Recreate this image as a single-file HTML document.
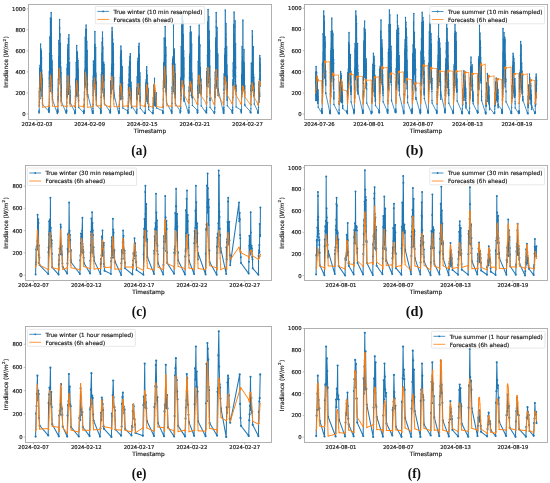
<!DOCTYPE html><html><head><meta charset="utf-8"><style>html,body{margin:0;padding:0;background:#fff}svg{display:block}text{font-family:"DejaVu Sans","Liberation Sans",sans-serif;stroke:#1e1e1e;stroke-width:0.18px;paint-order:stroke}text.cap{font-family:"Liberation Serif",serif;font-weight:bold;stroke:none}</style></head><body>
<svg width="550" height="483" viewBox="0 0 550 483"><rect width="550" height="483" fill="#fff"/>
<clipPath id="ca"><rect x="28.5" y="4.5" width="243.0" height="115.0"/></clipPath>
<g clip-path="url(#ca)">
<polyline points="38.9,111.5 39,111.3 39,112 39.1,112.7 39.1,112.9 39.2,110.1 39.3,105.3 39.3,91.6 39.4,96.8 39.4,88.1 39.5,102.6 39.6,80.2 39.6,68.3 39.7,86.1 39.7,86.7 39.8,78.2 39.9,90.4 39.9,87.5 40,98.7 40.1,65.3 40.1,84.1 40.2,80.2 40.2,82.5 40.3,73.5 40.4,85.1 40.4,64.9 40.5,90.8 40.5,85 40.6,44 40.7,85.7 40.7,48.6 40.8,85.9 40.8,90.5 40.9,87.3 41,52.4 41,81.9 41.1,50.3 41.1,52.9 41.2,55.1 41.3,72 41.3,51.1 41.4,57.3 41.5,84.8 41.5,73.2 41.6,57.7 41.6,81.1 41.7,70.3 41.8,95.6 41.8,75 41.9,82 41.9,90.4 42,91.4 42.1,96.5 42.1,82.4 42.2,91 42.2,83.8 42.3,88.6 42.4,78.6 42.4,95.8 42.5,103.2 42.5,98.6 42.6,104.6 48.6,111 48.6,108.2 48.7,111.7 48.8,110.5 48.8,111.2 48.9,110.3 48.9,108.3 49,112.5 49.1,111.4 49.1,111.3 49.2,107.4 49.2,86.2 49.3,71.8 49.4,83.4 49.4,78.8 49.5,53.6 49.5,78.1 49.6,77 49.7,84.9 49.7,63.9 49.8,79.5 49.9,36.9 49.9,38.1 50,85.6 50,73.2 50.1,70.9 50.2,91.4 50.2,56.6 50.3,58 50.3,63.4 50.4,18.1 50.5,61.2 50.5,54.3 50.6,78.3 50.6,79.6 50.7,62.7 50.8,19.3 50.8,76.8 50.9,61.9 50.9,18.6 51,73.9 51.1,32 51.1,61.1 51.2,12.4 51.3,82.8 51.3,85.2 51.4,73 51.4,40.4 51.5,80.3 51.6,66.1 51.6,61.6 51.7,55.4 51.7,66.5 51.8,60.1 51.9,73 51.9,68.5 52,71.4 52,61.6 52.1,87.1 52.2,81.6 52.2,73.6 52.3,93 52.3,88.4 52.4,90.3 52.5,99.2 52.5,84.9 52.6,100 57.3,113.5 57.4,110.2 57.5,111.5 57.5,109.5 57.6,112 57.6,109.3 57.7,111.6 57.8,111.9 57.8,112.8 57.9,111.7 58,110.7 58,100.7 58.1,96.4 58.1,99.6 58.2,89.8 58.3,79.1 58.3,90.8 58.4,94.9 58.4,88.7 58.5,70 58.6,73.6 58.6,77.5 58.7,79.1 58.7,84 58.8,43.6 58.9,40.5 58.9,79.3 59,56.6 59,59.4 59.1,63.6 59.2,65.5 59.2,75.3 59.3,77 59.4,71.4 59.4,76.9 59.5,27.2 59.5,52.1 59.6,19.5 59.7,28.4 59.7,64 59.8,61.4 59.8,63.1 59.9,35.8 60,33.8 60,58.1 60.1,74.3 60.1,72.4 60.2,75 60.3,62.6 60.3,60.7 60.4,84 60.4,56.8 60.5,43.5 60.6,63.1 60.6,66.7 60.7,82.5 60.8,67.1 60.8,88.1 60.9,88.3 60.9,72.6 61,95.7 61.1,91.2 61.1,84.3 61.2,92.5 61.2,101.4 61.3,94 61.4,101.5 66.1,112.8 66.2,110.4 66.2,110.2 66.3,113.3 66.4,109.9 66.4,112.8 66.5,112.9 66.5,110.8 66.6,112 66.7,111.2 66.7,110.4 66.8,106 66.8,102.7 66.9,98.1 67,91.1 67,96.6 67.1,68.2 67.1,97.3 67.2,88.9 67.3,69.1 67.3,64.2 67.4,81.4 67.5,89.7 67.5,72.7 67.6,49.6 67.6,88.7 67.7,73.8 67.8,56.3 67.8,77.9 67.9,76.9 67.9,44.8 68,82.6 68.1,61.4 68.1,72.5 68.2,70.8 68.2,65.2 68.3,74.4 68.4,73.2 68.4,38.4 68.5,74.8 68.5,83.9 68.6,94.2 68.7,86.3 68.7,72.4 68.8,79.6 68.9,82.2 68.9,34.7 69,58.4 69,77.8 69.1,74.1 69.2,76 69.2,94.5 69.3,76.8 69.3,74.5 69.4,76 69.5,89.2 69.5,92.4 69.6,62.8 69.6,93 69.7,92.3 69.8,86 69.8,100.9 69.9,90.6 70,92.6 70,103.7 70.1,95 70.1,102.2 74.7,111.7 74.8,111.8 74.8,112.9 74.9,113.7 74.9,111.2 75,112.7 75.1,111.8 75.1,113.5 75.2,111.4 75.2,112.1 75.3,110.1 75.4,107.3 75.4,96 75.5,102.8 75.5,91.2 75.6,100.3 75.7,97.2 75.7,89.3 75.8,93.2 75.8,79.4 75.9,82.1 76,83.6 76,87.8 76.1,79.9 76.2,85.6 76.2,62.3 76.3,89.8 76.3,78.1 76.4,79.9 76.5,95.8 76.5,92.7 76.6,92.3 76.6,83.5 76.7,45.4 76.8,90.9 76.8,80.1 76.9,73 76.9,90.8 77,83.3 77.1,51.9 77.1,79.6 77.2,96 77.2,77 77.3,81.3 77.4,78.4 77.4,51.9 77.5,70.2 77.6,58.6 77.6,76.4 77.7,75.3 77.7,84.8 77.8,83.5 77.9,91 77.9,92.8 78,90.8 78,60.5 78.1,78.9 78.2,89.5 78.2,69.1 78.3,88.2 78.3,96.2 78.4,86 78.5,90.3 78.5,101.7 78.6,100.3 78.6,95.1 78.7,107.4 83.7,112.8 83.7,113.5 83.8,112.8 83.8,110.2 83.9,113.5 84,113.1 84,113.2 84.1,111.3 84.1,111.8 84.2,110.4 84.3,104.7 84.3,99 84.4,100 84.4,92.3 84.5,98 84.6,94.5 84.6,78.5 84.7,81 84.8,85.3 84.8,73.6 84.9,70.3 84.9,87.4 85,77.2 85.1,70.3 85.1,70 85.2,37.3 85.2,61.8 85.3,75.5 85.4,68.2 85.4,71.5 85.5,64.4 85.5,85.4 85.6,75.5 85.7,64.6 85.7,81.7 85.8,29.5 85.8,62.3 85.9,57.9 86,61.7 86,79.7 86.1,25.1 86.2,55.2 86.2,59.1 86.3,54.2 86.3,61.2 86.4,78.3 86.5,58.1 86.5,29.9 86.6,72.8 86.6,70.1 86.7,69.6 86.8,72.9 86.8,41.3 86.9,78.7 86.9,79.2 87,79.8 87.1,68.3 87.1,89.8 87.2,50.5 87.2,77.3 87.3,94.9 87.4,83.2 87.4,84.5 87.5,85.1 87.6,95.9 87.6,96.7 87.7,94.4 92.4,112.7 92.5,111.5 92.5,113.3 92.6,113.1 92.7,112.9 92.7,111.2 92.8,113.1 92.9,110.7 92.9,110.5 93,113.5 93,108.5 93.1,104.6 93.2,80.8 93.2,95.4 93.3,76.2 93.3,86 93.4,60.9 93.5,86.6 93.5,64.7 93.6,91.9 93.6,78.2 93.7,82 93.8,70.6 93.8,84.8 93.9,72 93.9,71.9 94,67.7 94.1,73.2 94.1,65 94.2,80.8 94.3,66.5 94.3,77.1 94.4,68.8 94.4,75.5 94.5,73.5 94.6,85 94.6,83.1 94.7,44.5 94.7,70.9 94.8,44.2 94.9,76.6 94.9,31.4 95,57.4 95,79.8 95.1,63.3 95.2,89.4 95.2,78.1 95.3,56.4 95.3,87.5 95.4,65.7 95.5,89.1 95.5,77.4 95.6,91.5 95.7,84.3 95.7,47.6 95.8,95.2 95.8,73.1 95.9,75.8 96,94.9 96,84.6 96.1,81.8 96.1,83.2 96.2,82.6 96.3,93.3 96.3,99.8 96.4,93.6 96.4,104.9 100.5,109.3 100.6,111.8 100.6,113.3 100.7,113.4 100.7,112.3 100.8,112.6 100.9,113.5 100.9,110 101,111.6 101,112.4 101.1,108 101.2,104.9 101.2,97.6 101.3,89.1 101.3,74.5 101.4,97.3 101.5,80.3 101.5,92.3 101.6,72.4 101.6,87.2 101.7,88.8 101.8,89.4 101.8,76.8 101.9,92.8 102,53.3 102,69.5 102.1,42.1 102.1,69.2 102.2,74.3 102.3,68.9 102.3,79.8 102.4,43.1 102.4,38.5 102.5,32.1 102.6,67.3 102.6,38.1 102.7,71.5 102.7,46.7 102.8,48.3 102.9,71 102.9,62.7 103,84.9 103,69 103.1,71.8 103.2,90.6 103.2,88.2 103.3,74.8 103.4,83.5 103.4,62.8 103.5,96 103.5,67.8 103.6,67.9 103.7,62.2 103.7,96.3 103.8,94.5 103.8,68.7 103.9,80.5 104,79.9 104,64.6 104.1,64.6 104.1,92.3 104.2,89.1 104.3,93.7 104.3,96 104.4,98.5 104.4,95 104.5,103.4 110,111.7 110,112.4 110.1,110.3 110.1,113.2 110.2,112.1 110.3,112.1 110.3,111.9 110.4,109.8 110.5,111.5 110.5,112 110.6,106.4 110.6,96.8 110.7,86.9 110.8,91.4 110.8,94.1 110.9,82.3 110.9,92.4 111,80.8 111.1,93.3 111.1,86.5 111.2,80.4 111.2,92.6 111.3,90.2 111.4,73.3 111.4,78.4 111.5,68.5 111.5,82.6 111.6,76.8 111.7,80.9 111.7,67.9 111.8,76.2 111.9,64.1 111.9,87.4 112,71.1 112,75.7 112.1,27.6 112.2,68.5 112.2,68.5 112.3,31.7 112.3,76.4 112.4,34.9 112.5,67.7 112.5,68.1 112.6,61.9 112.6,76.4 112.7,39.1 112.8,88.1 112.8,74.1 112.9,86.1 112.9,72.3 113,88.6 113.1,89.4 113.1,64.4 113.2,79 113.3,43.6 113.3,81.2 113.4,73 113.4,51.7 113.5,68.7 113.6,63.9 113.6,92.2 113.7,77.7 113.7,90.3 113.8,98.7 113.9,92.2 113.9,95.8 114,94.4 118.7,113.5 118.8,111.4 118.9,113.6 118.9,110.7 119,112.7 119,112.5 119.1,112.8 119.2,112.1 119.2,112.2 119.3,112.4 119.3,108.6 119.4,104.8 119.5,95.8 119.5,95.5 119.6,96.3 119.6,94 119.7,93.5 119.8,95.4 119.8,95.5 119.9,96.1 120,88.7 120,99.6 120.1,86.1 120.1,99.7 120.2,91.4 120.3,77.2 120.3,88.2 120.4,75.1 120.4,57.2 120.5,57.3 120.6,96.5 120.6,96 120.7,88.3 120.7,54 120.8,83.7 120.9,52.1 120.9,46 121,85.8 121,80 121.1,60.8 121.2,69.2 121.2,90.7 121.3,85.4 121.4,75.9 121.4,50.8 121.5,79.5 121.5,80.7 121.6,60.3 121.7,92.7 121.7,79.7 121.8,83.2 121.8,99 121.9,83.5 122,86.7 122,67.5 122.1,89.5 122.1,83.5 122.2,66.4 122.3,83 122.3,90.4 122.4,76.8 122.4,87.7 122.5,97.8 122.6,82.6 122.6,96.6 122.7,98.8 122.8,108.1 127.5,110.8 127.6,113 127.6,112.3 127.7,112.8 127.7,112.1 127.8,113.3 127.9,113 127.9,113.4 128,113.3 128.1,111.8 128.1,109.6 128.2,107 128.2,106.8 128.3,105.5 128.4,89.5 128.4,84.2 128.5,102.9 128.5,98.2 128.6,92.3 128.7,90.2 128.7,102.2 128.8,97.2 128.8,91.6 128.9,86.6 129,91.5 129,91.2 129.1,79 129.1,81.5 129.2,66.8 129.3,83.1 129.3,74.6 129.4,75.2 129.5,61.6 129.5,82.9 129.6,95.5 129.6,85.5 129.7,92.2 129.8,78.9 129.8,77 129.9,69.1 129.9,95 130,56.5 130.1,88.6 130.1,94.1 130.2,68.4 130.2,81.5 130.3,53.7 130.4,87.3 130.4,99.8 130.5,96.7 130.5,63 130.6,84.4 130.7,89.9 130.7,85.2 130.8,92.6 130.9,89.7 130.9,98.5 131,98.1 131,82.3 131.1,95.1 131.2,89.3 131.2,96.6 131.3,104 131.3,95.9 131.4,105 131.5,108 131.5,105.7 136.3,112.9 136.3,113 136.4,112.2 136.5,112.5 136.5,113.6 136.6,113 136.6,113.5 136.7,113.6 136.8,113.1 136.8,111 136.9,109.6 136.9,99.3 137,87.7 137.1,99.2 137.1,76.8 137.2,99.8 137.2,89.2 137.3,97.5 137.4,93.4 137.4,91 137.5,90.4 137.6,85.8 137.6,86.3 137.7,63.2 137.7,77.8 137.8,61.3 137.9,73.9 137.9,80.5 138,58.3 138,93.6 138.1,93.8 138.2,75.3 138.2,75.8 138.3,66.4 138.3,76.6 138.4,69.9 138.5,66.6 138.5,46.6 138.6,86.2 138.6,91.9 138.7,54.3 138.8,75.5 138.8,87 138.9,88.3 139,78.7 139,80.8 139.1,43.3 139.1,94.4 139.2,91.8 139.3,71 139.3,75.3 139.4,54.8 139.4,77.7 139.5,78.9 139.6,79.1 139.6,85.2 139.7,76 139.7,89.9 139.8,94.3 139.9,97 139.9,72.8 140,101 140,101.6 140.1,99.9 140.2,97.3 140.2,97.4 140.3,108.2 144.7,113.6 144.8,113.5 144.8,113.6 144.9,112.8 144.9,112.7 145,112.4 145.1,113.3 145.1,112.7 145.2,113.4 145.2,113.4 145.3,110.9 145.4,106.2 145.4,105 145.5,100.3 145.5,106.2 145.6,98.9 145.7,88.1 145.7,89.4 145.8,85.7 145.8,94 145.9,82.8 146,95.2 146,101.6 146.1,98.1 146.2,79.7 146.2,88.8 146.3,87.5 146.3,92.7 146.4,91.3 146.5,70.3 146.5,88.9 146.6,70.6 146.6,97 146.7,66.7 146.8,97 146.8,87.8 146.9,98.9 146.9,94.7 147,94.6 147.1,95.2 147.1,90.4 147.2,95.2 147.2,75 147.3,89.9 147.4,95.5 147.4,88.9 147.5,92.9 147.6,83.3 147.6,83.4 147.7,95.9 147.7,87.9 147.8,100.2 147.9,103.5 147.9,90 148,97.3 148,88.6 148.1,101.1 148.2,101.5 148.2,94.8 148.3,101.6 148.3,96.9 148.4,101.8 148.5,103.6 148.5,104.5 148.6,107.2 148.6,103.9 148.7,109.6 152.5,113.5 152.6,113.6 152.6,113.5 152.7,113.5 152.7,113.1 152.8,113.3 152.9,113.8 152.9,112 153,113.1 153,112.7 153.1,110.5 153.2,108.3 153.2,108.1 153.3,103.7 153.3,98.3 153.4,97.2 153.5,101.1 153.5,100.3 153.6,101.8 153.6,92.8 153.7,104.6 153.8,89.8 153.8,85 153.9,99.6 154,102.8 154,99.4 154.1,98.2 154.1,96.1 154.2,100.5 154.3,105.6 154.3,101.6 154.4,99.1 154.4,90.9 154.5,78.2 154.6,97.9 154.6,98.6 154.7,94.8 154.7,93.4 154.8,103.5 154.9,95.7 154.9,98.5 155,92 155,101.7 155.1,96.3 155.2,99 155.2,93.1 155.3,106 155.4,96.8 155.4,95.7 155.5,96.2 155.5,104.9 155.6,100.7 155.7,94.5 155.7,93.2 155.8,105.8 155.8,97 155.9,98.5 156,97.4 156,106 156.1,98.9 156.1,101.3 156.2,92.8 156.3,104.3 156.3,103.6 156.4,103.1 156.4,104.6 156.5,108 162.6,110.7 162.6,111.9 162.7,111.3 162.8,113.1 162.8,111.8 162.9,111.9 162.9,111.6 163,113.6 163.1,112.7 163.1,113.2 163.2,106.9 163.3,99.3 163.3,88.4 163.4,81.2 163.4,89.9 163.5,91.6 163.6,86.3 163.6,80.7 163.7,81.6 163.7,62.7 163.8,78.6 163.9,73.8 163.9,87.5 164,63.5 164,87.6 164.1,71.3 164.2,37.9 164.2,38 164.3,66.1 164.3,64.8 164.4,65.9 164.5,63 164.5,60.6 164.6,54.9 164.7,66.7 164.7,84.3 164.8,67.5 164.8,70.4 164.9,73.3 165,58 165,71.7 165.1,64.2 165.1,57.8 165.2,26.4 165.3,54.6 165.3,38.2 165.4,67 165.4,65.3 165.5,40.9 165.6,74.6 165.6,91.3 165.7,83.9 165.8,83.2 165.8,72 165.9,55.5 165.9,47 166,87.7 166.1,87.7 166.1,88.9 166.2,76 166.2,86.9 166.3,93 166.4,80.1 166.4,95 166.5,88.8 166.5,100.8 166.6,102.6 171.4,111.9 171.4,111.4 171.5,111.4 171.5,110.6 171.6,109.9 171.7,112 171.7,111.9 171.8,112.7 171.8,113.4 171.9,111.4 172,107.8 172,103.3 172.1,93.7 172.1,91.6 172.2,88 172.3,86.8 172.3,89.6 172.4,83.1 172.4,63.7 172.5,80.1 172.6,67.4 172.6,59.2 172.7,70 172.8,70.9 172.8,72.3 172.9,80.1 172.9,82.9 173,75.5 173.1,58.7 173.1,56.7 173.2,91.8 173.2,60.9 173.3,84.5 173.4,59.5 173.4,71.8 173.5,25.1 173.5,82.7 173.6,74.7 173.7,71.5 173.7,78.2 173.8,52.6 173.9,63.2 173.9,80.7 174,49.9 174,62.3 174.1,78.7 174.2,69.6 174.2,73.2 174.3,85.4 174.3,48.9 174.4,93.4 174.5,85.4 174.5,85.7 174.6,80.8 174.6,69.1 174.7,94.6 174.8,89.4 174.8,94.2 174.9,82.7 174.9,64.1 175,85 175.1,88.6 175.1,97.8 175.2,85.8 175.3,73.7 175.3,93.1 175.4,103.7 180.1,110.8 180.2,112 180.2,113.1 180.3,111.5 180.4,112.4 180.4,112.6 180.5,111.8 180.6,111.2 180.6,110.4 180.7,108.5 180.7,107.1 180.8,99.1 180.9,79.6 180.9,86.1 181,77.8 181,90.4 181.1,78.7 181.2,46.4 181.2,96.1 181.3,80.5 181.3,91.8 181.4,85.2 181.5,77.2 181.5,59.4 181.6,84.9 181.6,68.5 181.7,53.7 181.8,59.2 181.8,25.4 181.9,61.5 182,55.4 182,82.8 182.1,83.3 182.1,18.4 182.2,67.2 182.3,17.2 182.3,12.4 182.4,83.8 182.4,62 182.5,72.5 182.6,48.1 182.6,63.5 182.7,34.2 182.7,53 182.8,79.2 182.9,77.5 182.9,81.4 183,68.1 183,20.5 183.1,60.2 183.2,49.7 183.2,34.7 183.3,66.7 183.4,89.1 183.4,86.1 183.5,63.7 183.5,54.8 183.6,86.6 183.7,50.7 183.7,77.4 183.8,75.1 183.8,57.7 183.9,68.8 184,101.3 184,85.3 184.1,98.8 184.1,99.4 188.4,113.1 188.5,110.6 188.5,110.2 188.6,109.9 188.6,111.9 188.7,112.7 188.8,113.2 188.8,113.2 188.9,111.2 188.9,112.8 189,107.6 189.1,99.6 189.1,91.7 189.2,87 189.2,91.2 189.3,90.4 189.4,78.1 189.4,77.8 189.5,57.1 189.5,73.1 189.6,95.5 189.7,90.5 189.7,72.9 189.8,71.1 189.9,63.5 189.9,57.6 190,54 190,65.2 190.1,77.6 190.2,32.8 190.2,62.8 190.3,71.4 190.3,64.4 190.4,26.4 190.5,62.6 190.5,84.9 190.6,63.3 190.6,91 190.7,88.8 190.8,55.5 190.8,32.3 190.9,50.4 190.9,75.5 191,54.9 191.1,61.8 191.1,56.5 191.2,32 191.3,61.1 191.3,78.7 191.4,82 191.4,69.7 191.5,95.7 191.6,90 191.6,75.7 191.7,44 191.7,77.2 191.8,73 191.9,80.3 191.9,78.8 192,88.5 192,81.1 192.1,93.3 192.2,97.5 192.2,89.5 192.3,98.1 192.3,95.1 192.4,105.4 197.2,110.2 197.3,111.1 197.3,113 197.4,112.8 197.4,111.9 197.5,113.2 197.6,110.4 197.6,111 197.7,112.8 197.7,110 197.8,104 197.9,86.1 197.9,90.3 198,97.4 198,86.5 198.1,89 198.2,61.4 198.2,91.2 198.3,84.8 198.3,80.2 198.4,93.8 198.5,93.3 198.5,61 198.6,55.4 198.7,92.8 198.7,90.6 198.8,54.5 198.8,37.2 198.9,59.2 199,48 199,81.6 199.1,59.3 199.1,40 199.2,25.1 199.3,78 199.3,35.9 199.4,68.7 199.4,56.1 199.5,70.6 199.6,78.4 199.6,69.5 199.7,63.1 199.7,74 199.8,86.7 199.9,46 199.9,44.7 200,92.9 200.1,70.1 200.1,91.1 200.2,68.5 200.2,81 200.3,67.5 200.4,68.7 200.4,67.2 200.5,89.8 200.5,81.2 200.6,77.9 200.7,80.9 200.7,79.2 200.8,88.8 200.8,87.1 200.9,79.6 201,93.9 201,89.2 201.1,85.1 201.1,93.3 201.2,105.9 206.1,112.8 206.2,111.4 206.2,110.2 206.3,112.7 206.3,112.8 206.4,112.8 206.5,107.7 206.5,109.5 206.6,113 206.6,110 206.7,102.7 206.8,96.8 206.8,71.8 206.9,84.5 206.9,77.2 207,85.7 207.1,86.6 207.1,81.9 207.2,74.2 207.2,68.4 207.3,71.7 207.4,82.2 207.4,55.2 207.5,78.4 207.6,59.9 207.6,22 207.7,75.7 207.7,82.1 207.8,66.2 207.9,82.7 207.9,75 208,62.8 208,27.9 208.1,9.4 208.2,79.1 208.2,77.2 208.3,66.4 208.3,79 208.4,62.6 208.5,45.4 208.5,71.1 208.6,45.3 208.6,65.9 208.7,69.7 208.8,68.7 208.8,16.6 208.9,44.2 209,64.9 209,54.7 209.1,87.1 209.1,50.2 209.2,31.1 209.3,77.4 209.3,82.7 209.4,66.2 209.4,41.2 209.5,76 209.6,86.9 209.6,65.9 209.7,50.3 209.7,78.4 209.8,66 209.9,93.4 209.9,78.7 210,100.6 210,98.1 210.1,107.4 214.2,112.8 214.3,113.3 214.3,111.4 214.4,113.4 214.4,112 214.5,112.1 214.6,111.8 214.6,111.7 214.7,112.3 214.7,109.1 214.8,107.5 214.9,94.2 214.9,91 215,97.4 215,89.2 215.1,84.8 215.2,88.1 215.2,72 215.3,75.8 215.3,79 215.4,84.3 215.5,72.4 215.5,81.1 215.6,42 215.7,76.6 215.7,84.3 215.8,83.9 215.8,37.9 215.9,56.4 216,88.2 216,68.7 216.1,56.9 216.1,27 216.2,12.4 216.3,21.6 216.3,40.2 216.4,69.4 216.4,49.2 216.5,65.3 216.6,32.3 216.6,86.3 216.7,50.7 216.7,66.2 216.8,78.1 216.9,70.2 216.9,63.7 217,72.2 217.1,27.6 217.1,49 217.2,76.4 217.2,68.4 217.3,80.3 217.4,69.5 217.4,79.4 217.5,70 217.5,65.9 217.6,55.6 217.7,53.6 217.7,91.8 217.8,89.6 217.8,55.2 217.9,91 218,88.7 218,89.6 218.1,89.2 218.1,95.5 218.2,89.5 223.3,111.9 223.4,113 223.4,112.8 223.5,111.8 223.5,110.6 223.6,107.8 223.7,111.2 223.7,109.7 223.8,113.5 223.8,113.1 223.9,107.6 224,93.2 224,90 224.1,89 224.1,89.2 224.2,73.7 224.3,90.3 224.3,78.7 224.4,74.1 224.4,83.7 224.5,87.8 224.6,80.9 224.6,54.9 224.7,79.6 224.8,74.3 224.8,74.5 224.9,56 224.9,80.1 225,79.4 225.1,56.7 225.1,48.5 225.2,52.6 225.2,64.4 225.3,9.9 225.4,67.7 225.4,78.7 225.5,64.6 225.5,74 225.6,60 225.7,38.1 225.7,39.3 225.8,58.2 225.8,67.7 225.9,46.6 226,34.6 226,23.5 226.1,76.5 226.2,66.7 226.2,70.9 226.3,89.6 226.3,81.9 226.4,51.4 226.5,55.8 226.5,79.8 226.6,83.4 226.6,87.8 226.7,46.7 226.8,79.5 226.8,89.5 226.9,84.4 226.9,65 227,86.6 227.1,76.2 227.1,100.3 227.2,91.8 227.2,75.8 227.3,105.7 232.1,111.2 232.2,110.1 232.2,112.9 232.3,111.6 232.3,110.2 232.4,112.9 232.5,113 232.5,110.4 232.6,109.3 232.6,113.3 232.7,107.2 232.8,97.5 232.8,85.3 232.9,83.4 232.9,83.2 233,79.8 233.1,82.3 233.1,85.5 233.2,85.1 233.2,62.7 233.3,76.3 233.4,70.2 233.4,71 233.5,84.9 233.6,64.5 233.6,45.5 233.7,24.4 233.7,54.6 233.8,84.6 233.9,66.1 233.9,78.5 234,34.2 234,73.4 234.1,12 234.2,71.5 234.2,55.5 234.3,48.1 234.3,75.6 234.4,57.4 234.5,71.3 234.5,73.6 234.6,58.8 234.6,62.5 234.7,63.9 234.8,69.3 234.8,62.2 234.9,64.6 235,55 235,56.5 235.1,20.8 235.1,26.7 235.2,87.4 235.3,74.5 235.3,81.7 235.4,72.7 235.4,59.1 235.5,67.3 235.6,66.9 235.6,43.7 235.7,67.9 235.7,76.3 235.8,88.4 235.9,91.4 235.9,84.9 236,86.5 236,90.5 236.1,106.9 240.9,110 241,110.3 241,110 241.1,109.9 241.1,110.3 241.2,111.8 241.3,110.2 241.3,112.9 241.4,111.1 241.4,112.2 241.5,109.2 241.6,96.7 241.6,95.9 241.7,75 241.7,80.5 241.8,83.9 241.9,74.5 241.9,89.5 242,77.4 242,74.7 242.1,46.5 242.2,77 242.2,94.1 242.3,62 242.4,78.5 242.4,72.8 242.5,57 242.5,60.1 242.6,82.7 242.7,73.5 242.7,79.3 242.8,67.4 242.8,79.8 242.9,20 243,88.1 243,70.6 243.1,70.1 243.1,70.4 243.2,67.2 243.3,71.9 243.3,61.3 243.4,75 243.4,66.1 243.5,79.8 243.6,68.9 243.6,90.3 243.7,66.6 243.8,77.2 243.8,84.3 243.9,70.1 243.9,68.4 244,49.6 244.1,84 244.1,62.9 244.2,90.7 244.2,71.5 244.3,73.6 244.4,73.1 244.4,76.9 244.5,78.6 244.5,86.1 244.6,93.7 244.7,92.7 244.7,92 244.8,85.7 244.8,104.4 244.9,105.6 250.3,111.4 250.3,112.4 250.4,112.8 250.5,111.9 250.5,111.9 250.6,112.7 250.6,111.9 250.7,112.8 250.8,112.9 250.8,112.3 250.9,108.7 251,104.6 251,90.9 251.1,85.4 251.1,88.9 251.2,91.2 251.3,62.9 251.3,94.8 251.4,90.2 251.4,90.4 251.5,84.7 251.6,92.3 251.6,75.2 251.7,78.8 251.7,73.7 251.8,79.9 251.9,81.3 251.9,85.7 252,64 252,64.1 252.1,84.8 252.2,90.5 252.2,77.5 252.3,30.7 252.4,85.1 252.4,82.4 252.5,54.7 252.5,36.2 252.6,67.1 252.7,63.9 252.7,79.4 252.8,79.8 252.8,69.9 252.9,85.1 253,85.7 253,69.9 253.1,87.6 253.1,73.6 253.2,71.6 253.3,73 253.3,75.8 253.4,46.8 253.5,74.1 253.5,84.6 253.6,74.8 253.6,90.2 253.7,95.9 253.8,77.3 253.8,77.1 253.9,89.2 253.9,82.9 254,88.3 254.1,91.7 254.1,95.1 254.2,89.4 254.2,94.5 254.3,104.1 257.8,111.4 257.9,113.3 257.9,112 258,113.1 258,112.3 258.1,113 258.2,112.7 258.2,111.8 258.3,112.5 258.3,112.9 258.4,109.9 258.5,107.5 258.5,102.2 258.6,91.5 258.6,100.4 258.7,101.9 258.8,97.1 258.8,99.3 258.9,98.4 258.9,102.4 259,84.2 259.1,81.8 259.1,91 259.2,88.4 259.3,90.9 259.3,84.1 259.4,93.9 259.4,79 259.5,85.1 259.6,93.6 259.6,95.2 259.7,96.6 259.7,62.8 259.8,55.5 259.9,70.2 259.9,71.4 260,58.2 260,86.3 260.1,78.1 260.2,73.2 260.2,80.5 260.3,80.1 260.3,64.6" fill="none" stroke="#1f77b4" stroke-width="0.8" stroke-linejoin="round"/>
<path d="M38.9 111.5h0M39 111.3h0M39 112h0M39.1 112.7h0M39.1 112.9h0M39.2 110.1h0M39.3 105.3h0M39.3 91.6h0M39.4 96.8h0M39.4 88.1h0M39.5 102.6h0M39.6 80.2h0M39.6 68.3h0M39.7 86.1h0M39.7 86.7h0M39.8 78.2h0M39.9 90.4h0M39.9 87.5h0M40 98.7h0M40.1 65.3h0M40.1 84.1h0M40.2 80.2h0M40.2 82.5h0M40.3 73.5h0M40.4 85.1h0M40.4 64.9h0M40.5 90.8h0M40.5 85h0M40.6 44h0M40.7 85.7h0M40.7 48.6h0M40.8 85.9h0M40.8 90.5h0M40.9 87.3h0M41 52.4h0M41 81.9h0M41.1 50.3h0M41.1 52.9h0M41.2 55.1h0M41.3 72h0M41.3 51.1h0M41.4 57.3h0M41.5 84.8h0M41.5 73.2h0M41.6 57.7h0M41.6 81.1h0M41.7 70.3h0M41.8 95.6h0M41.8 75h0M41.9 82h0M41.9 90.4h0M42 91.4h0M42.1 96.5h0M42.1 82.4h0M42.2 91h0M42.2 83.8h0M42.3 88.6h0M42.4 78.6h0M42.4 95.8h0M42.5 103.2h0M42.5 98.6h0M42.6 104.6h0M48.6 111h0M48.6 108.2h0M48.7 111.7h0M48.8 110.5h0M48.8 111.2h0M48.9 110.3h0M48.9 108.3h0M49 112.5h0M49.1 111.4h0M49.1 111.3h0M49.2 107.4h0M49.2 86.2h0M49.3 71.8h0M49.4 83.4h0M49.4 78.8h0M49.5 53.6h0M49.5 78.1h0M49.6 77h0M49.7 84.9h0M49.7 63.9h0M49.8 79.5h0M49.9 36.9h0M49.9 38.1h0M50 85.6h0M50 73.2h0M50.1 70.9h0M50.2 91.4h0M50.2 56.6h0M50.3 58h0M50.3 63.4h0M50.4 18.1h0M50.5 61.2h0M50.5 54.3h0M50.6 78.3h0M50.6 79.6h0M50.7 62.7h0M50.8 19.3h0M50.8 76.8h0M50.9 61.9h0M50.9 18.6h0M51 73.9h0M51.1 32h0M51.1 61.1h0M51.2 12.4h0M51.3 82.8h0M51.3 85.2h0M51.4 73h0M51.4 40.4h0M51.5 80.3h0M51.6 66.1h0M51.6 61.6h0M51.7 55.4h0M51.7 66.5h0M51.8 60.1h0M51.9 73h0M51.9 68.5h0M52 71.4h0M52 61.6h0M52.1 87.1h0M52.2 81.6h0M52.2 73.6h0M52.3 93h0M52.3 88.4h0M52.4 90.3h0M52.5 99.2h0M52.5 84.9h0M52.6 100h0M57.3 113.5h0M57.4 110.2h0M57.5 111.5h0M57.5 109.5h0M57.6 112h0M57.6 109.3h0M57.7 111.6h0M57.8 111.9h0M57.8 112.8h0M57.9 111.7h0M58 110.7h0M58 100.7h0M58.1 96.4h0M58.1 99.6h0M58.2 89.8h0M58.3 79.1h0M58.3 90.8h0M58.4 94.9h0M58.4 88.7h0M58.5 70h0M58.6 73.6h0M58.6 77.5h0M58.7 79.1h0M58.7 84h0M58.8 43.6h0M58.9 40.5h0M58.9 79.3h0M59 56.6h0M59 59.4h0M59.1 63.6h0M59.2 65.5h0M59.2 75.3h0M59.3 77h0M59.4 71.4h0M59.4 76.9h0M59.5 27.2h0M59.5 52.1h0M59.6 19.5h0M59.7 28.4h0M59.7 64h0M59.8 61.4h0M59.8 63.1h0M59.9 35.8h0M60 33.8h0M60 58.1h0M60.1 74.3h0M60.1 72.4h0M60.2 75h0M60.3 62.6h0M60.3 60.7h0M60.4 84h0M60.4 56.8h0M60.5 43.5h0M60.6 63.1h0M60.6 66.7h0M60.7 82.5h0M60.8 67.1h0M60.8 88.1h0M60.9 88.3h0M60.9 72.6h0M61 95.7h0M61.1 91.2h0M61.1 84.3h0M61.2 92.5h0M61.2 101.4h0M61.3 94h0M61.4 101.5h0M66.1 112.8h0M66.2 110.4h0M66.2 110.2h0M66.3 113.3h0M66.4 109.9h0M66.4 112.8h0M66.5 112.9h0M66.5 110.8h0M66.6 112h0M66.7 111.2h0M66.7 110.4h0M66.8 106h0M66.8 102.7h0M66.9 98.1h0M67 91.1h0M67 96.6h0M67.1 68.2h0M67.1 97.3h0M67.2 88.9h0M67.3 69.1h0M67.3 64.2h0M67.4 81.4h0M67.5 89.7h0M67.5 72.7h0M67.6 49.6h0M67.6 88.7h0M67.7 73.8h0M67.8 56.3h0M67.8 77.9h0M67.9 76.9h0M67.9 44.8h0M68 82.6h0M68.1 61.4h0M68.1 72.5h0M68.2 70.8h0M68.2 65.2h0M68.3 74.4h0M68.4 73.2h0M68.4 38.4h0M68.5 74.8h0M68.5 83.9h0M68.6 94.2h0M68.7 86.3h0M68.7 72.4h0M68.8 79.6h0M68.9 82.2h0M68.9 34.7h0M69 58.4h0M69 77.8h0M69.1 74.1h0M69.2 76h0M69.2 94.5h0M69.3 76.8h0M69.3 74.5h0M69.4 76h0M69.5 89.2h0M69.5 92.4h0M69.6 62.8h0M69.6 93h0M69.7 92.3h0M69.8 86h0M69.8 100.9h0M69.9 90.6h0M70 92.6h0M70 103.7h0M70.1 95h0M70.1 102.2h0M74.7 111.7h0M74.8 111.8h0M74.8 112.9h0M74.9 113.7h0M74.9 111.2h0M75 112.7h0M75.1 111.8h0M75.1 113.5h0M75.2 111.4h0M75.2 112.1h0M75.3 110.1h0M75.4 107.3h0M75.4 96h0M75.5 102.8h0M75.5 91.2h0M75.6 100.3h0M75.7 97.2h0M75.7 89.3h0M75.8 93.2h0M75.8 79.4h0M75.9 82.1h0M76 83.6h0M76 87.8h0M76.1 79.9h0M76.2 85.6h0M76.2 62.3h0M76.3 89.8h0M76.3 78.1h0M76.4 79.9h0M76.5 95.8h0M76.5 92.7h0M76.6 92.3h0M76.6 83.5h0M76.7 45.4h0M76.8 90.9h0M76.8 80.1h0M76.9 73h0M76.9 90.8h0M77 83.3h0M77.1 51.9h0M77.1 79.6h0M77.2 96h0M77.2 77h0M77.3 81.3h0M77.4 78.4h0M77.4 51.9h0M77.5 70.2h0M77.6 58.6h0M77.6 76.4h0M77.7 75.3h0M77.7 84.8h0M77.8 83.5h0M77.9 91h0M77.9 92.8h0M78 90.8h0M78 60.5h0M78.1 78.9h0M78.2 89.5h0M78.2 69.1h0M78.3 88.2h0M78.3 96.2h0M78.4 86h0M78.5 90.3h0M78.5 101.7h0M78.6 100.3h0M78.6 95.1h0M78.7 107.4h0M83.7 112.8h0M83.7 113.5h0M83.8 112.8h0M83.8 110.2h0M83.9 113.5h0M84 113.1h0M84 113.2h0M84.1 111.3h0M84.1 111.8h0M84.2 110.4h0M84.3 104.7h0M84.3 99h0M84.4 100h0M84.4 92.3h0M84.5 98h0M84.6 94.5h0M84.6 78.5h0M84.7 81h0M84.8 85.3h0M84.8 73.6h0M84.9 70.3h0M84.9 87.4h0M85 77.2h0M85.1 70.3h0M85.1 70h0M85.2 37.3h0M85.2 61.8h0M85.3 75.5h0M85.4 68.2h0M85.4 71.5h0M85.5 64.4h0M85.5 85.4h0M85.6 75.5h0M85.7 64.6h0M85.7 81.7h0M85.8 29.5h0M85.8 62.3h0M85.9 57.9h0M86 61.7h0M86 79.7h0M86.1 25.1h0M86.2 55.2h0M86.2 59.1h0M86.3 54.2h0M86.3 61.2h0M86.4 78.3h0M86.5 58.1h0M86.5 29.9h0M86.6 72.8h0M86.6 70.1h0M86.7 69.6h0M86.8 72.9h0M86.8 41.3h0M86.9 78.7h0M86.9 79.2h0M87 79.8h0M87.1 68.3h0M87.1 89.8h0M87.2 50.5h0M87.2 77.3h0M87.3 94.9h0M87.4 83.2h0M87.4 84.5h0M87.5 85.1h0M87.6 95.9h0M87.6 96.7h0M87.7 94.4h0M92.4 112.7h0M92.5 111.5h0M92.5 113.3h0M92.6 113.1h0M92.7 112.9h0M92.7 111.2h0M92.8 113.1h0M92.9 110.7h0M92.9 110.5h0M93 113.5h0M93 108.5h0M93.1 104.6h0M93.2 80.8h0M93.2 95.4h0M93.3 76.2h0M93.3 86h0M93.4 60.9h0M93.5 86.6h0M93.5 64.7h0M93.6 91.9h0M93.6 78.2h0M93.7 82h0M93.8 70.6h0M93.8 84.8h0M93.9 72h0M93.9 71.9h0M94 67.7h0M94.1 73.2h0M94.1 65h0M94.2 80.8h0M94.3 66.5h0M94.3 77.1h0M94.4 68.8h0M94.4 75.5h0M94.5 73.5h0M94.6 85h0M94.6 83.1h0M94.7 44.5h0M94.7 70.9h0M94.8 44.2h0M94.9 76.6h0M94.9 31.4h0M95 57.4h0M95 79.8h0M95.1 63.3h0M95.2 89.4h0M95.2 78.1h0M95.3 56.4h0M95.3 87.5h0M95.4 65.7h0M95.5 89.1h0M95.5 77.4h0M95.6 91.5h0M95.7 84.3h0M95.7 47.6h0M95.8 95.2h0M95.8 73.1h0M95.9 75.8h0M96 94.9h0M96 84.6h0M96.1 81.8h0M96.1 83.2h0M96.2 82.6h0M96.3 93.3h0M96.3 99.8h0M96.4 93.6h0M96.4 104.9h0M100.5 109.3h0M100.6 111.8h0M100.6 113.3h0M100.7 113.4h0M100.7 112.3h0M100.8 112.6h0M100.9 113.5h0M100.9 110h0M101 111.6h0M101 112.4h0M101.1 108h0M101.2 104.9h0M101.2 97.6h0M101.3 89.1h0M101.3 74.5h0M101.4 97.3h0M101.5 80.3h0M101.5 92.3h0M101.6 72.4h0M101.6 87.2h0M101.7 88.8h0M101.8 89.4h0M101.8 76.8h0M101.9 92.8h0M102 53.3h0M102 69.5h0M102.1 42.1h0M102.1 69.2h0M102.2 74.3h0M102.3 68.9h0M102.3 79.8h0M102.4 43.1h0M102.4 38.5h0M102.5 32.1h0M102.6 67.3h0M102.6 38.1h0M102.7 71.5h0M102.7 46.7h0M102.8 48.3h0M102.9 71h0M102.9 62.7h0M103 84.9h0M103 69h0M103.1 71.8h0M103.2 90.6h0M103.2 88.2h0M103.3 74.8h0M103.4 83.5h0M103.4 62.8h0M103.5 96h0M103.5 67.8h0M103.6 67.9h0M103.7 62.2h0M103.7 96.3h0M103.8 94.5h0M103.8 68.7h0M103.9 80.5h0M104 79.9h0M104 64.6h0M104.1 64.6h0M104.1 92.3h0M104.2 89.1h0M104.3 93.7h0M104.3 96h0M104.4 98.5h0M104.4 95h0M104.5 103.4h0M110 111.7h0M110 112.4h0M110.1 110.3h0M110.1 113.2h0M110.2 112.1h0M110.3 112.1h0M110.3 111.9h0M110.4 109.8h0M110.5 111.5h0M110.5 112h0M110.6 106.4h0M110.6 96.8h0M110.7 86.9h0M110.8 91.4h0M110.8 94.1h0M110.9 82.3h0M110.9 92.4h0M111 80.8h0M111.1 93.3h0M111.1 86.5h0M111.2 80.4h0M111.2 92.6h0M111.3 90.2h0M111.4 73.3h0M111.4 78.4h0M111.5 68.5h0M111.5 82.6h0M111.6 76.8h0M111.7 80.9h0M111.7 67.9h0M111.8 76.2h0M111.9 64.1h0M111.9 87.4h0M112 71.1h0M112 75.7h0M112.1 27.6h0M112.2 68.5h0M112.2 68.5h0M112.3 31.7h0M112.3 76.4h0M112.4 34.9h0M112.5 67.7h0M112.5 68.1h0M112.6 61.9h0M112.6 76.4h0M112.7 39.1h0M112.8 88.1h0M112.8 74.1h0M112.9 86.1h0M112.9 72.3h0M113 88.6h0M113.1 89.4h0M113.1 64.4h0M113.2 79h0M113.3 43.6h0M113.3 81.2h0M113.4 73h0M113.4 51.7h0M113.5 68.7h0M113.6 63.9h0M113.6 92.2h0M113.7 77.7h0M113.7 90.3h0M113.8 98.7h0M113.9 92.2h0M113.9 95.8h0M114 94.4h0M118.7 113.5h0M118.8 111.4h0M118.9 113.6h0M118.9 110.7h0M119 112.7h0M119 112.5h0M119.1 112.8h0M119.2 112.1h0M119.2 112.2h0M119.3 112.4h0M119.3 108.6h0M119.4 104.8h0M119.5 95.8h0M119.5 95.5h0M119.6 96.3h0M119.6 94h0M119.7 93.5h0M119.8 95.4h0M119.8 95.5h0M119.9 96.1h0M120 88.7h0M120 99.6h0M120.1 86.1h0M120.1 99.7h0M120.2 91.4h0M120.3 77.2h0M120.3 88.2h0M120.4 75.1h0M120.4 57.2h0M120.5 57.3h0M120.6 96.5h0M120.6 96h0M120.7 88.3h0M120.7 54h0M120.8 83.7h0M120.9 52.1h0M120.9 46h0M121 85.8h0M121 80h0M121.1 60.8h0M121.2 69.2h0M121.2 90.7h0M121.3 85.4h0M121.4 75.9h0M121.4 50.8h0M121.5 79.5h0M121.5 80.7h0M121.6 60.3h0M121.7 92.7h0M121.7 79.7h0M121.8 83.2h0M121.8 99h0M121.9 83.5h0M122 86.7h0M122 67.5h0M122.1 89.5h0M122.1 83.5h0M122.2 66.4h0M122.3 83h0M122.3 90.4h0M122.4 76.8h0M122.4 87.7h0M122.5 97.8h0M122.6 82.6h0M122.6 96.6h0M122.7 98.8h0M122.8 108.1h0M127.5 110.8h0M127.6 113h0M127.6 112.3h0M127.7 112.8h0M127.7 112.1h0M127.8 113.3h0M127.9 113h0M127.9 113.4h0M128 113.3h0M128.1 111.8h0M128.1 109.6h0M128.2 107h0M128.2 106.8h0M128.3 105.5h0M128.4 89.5h0M128.4 84.2h0M128.5 102.9h0M128.5 98.2h0M128.6 92.3h0M128.7 90.2h0M128.7 102.2h0M128.8 97.2h0M128.8 91.6h0M128.9 86.6h0M129 91.5h0M129 91.2h0M129.1 79h0M129.1 81.5h0M129.2 66.8h0M129.3 83.1h0M129.3 74.6h0M129.4 75.2h0M129.5 61.6h0M129.5 82.9h0M129.6 95.5h0M129.6 85.5h0M129.7 92.2h0M129.8 78.9h0M129.8 77h0M129.9 69.1h0M129.9 95h0M130 56.5h0M130.1 88.6h0M130.1 94.1h0M130.2 68.4h0M130.2 81.5h0M130.3 53.7h0M130.4 87.3h0M130.4 99.8h0M130.5 96.7h0M130.5 63h0M130.6 84.4h0M130.7 89.9h0M130.7 85.2h0M130.8 92.6h0M130.9 89.7h0M130.9 98.5h0M131 98.1h0M131 82.3h0M131.1 95.1h0M131.2 89.3h0M131.2 96.6h0M131.3 104h0M131.3 95.9h0M131.4 105h0M131.5 108h0M131.5 105.7h0M136.3 112.9h0M136.3 113h0M136.4 112.2h0M136.5 112.5h0M136.5 113.6h0M136.6 113h0M136.6 113.5h0M136.7 113.6h0M136.8 113.1h0M136.8 111h0M136.9 109.6h0M136.9 99.3h0M137 87.7h0M137.1 99.2h0M137.1 76.8h0M137.2 99.8h0M137.2 89.2h0M137.3 97.5h0M137.4 93.4h0M137.4 91h0M137.5 90.4h0M137.6 85.8h0M137.6 86.3h0M137.7 63.2h0M137.7 77.8h0M137.8 61.3h0M137.9 73.9h0M137.9 80.5h0M138 58.3h0M138 93.6h0M138.1 93.8h0M138.2 75.3h0M138.2 75.8h0M138.3 66.4h0M138.3 76.6h0M138.4 69.9h0M138.5 66.6h0M138.5 46.6h0M138.6 86.2h0M138.6 91.9h0M138.7 54.3h0M138.8 75.5h0M138.8 87h0M138.9 88.3h0M139 78.7h0M139 80.8h0M139.1 43.3h0M139.1 94.4h0M139.2 91.8h0M139.3 71h0M139.3 75.3h0M139.4 54.8h0M139.4 77.7h0M139.5 78.9h0M139.6 79.1h0M139.6 85.2h0M139.7 76h0M139.7 89.9h0M139.8 94.3h0M139.9 97h0M139.9 72.8h0M140 101h0M140 101.6h0M140.1 99.9h0M140.2 97.3h0M140.2 97.4h0M140.3 108.2h0M144.7 113.6h0M144.8 113.5h0M144.8 113.6h0M144.9 112.8h0M144.9 112.7h0M145 112.4h0M145.1 113.3h0M145.1 112.7h0M145.2 113.4h0M145.2 113.4h0M145.3 110.9h0M145.4 106.2h0M145.4 105h0M145.5 100.3h0M145.5 106.2h0M145.6 98.9h0M145.7 88.1h0M145.7 89.4h0M145.8 85.7h0M145.8 94h0M145.9 82.8h0M146 95.2h0M146 101.6h0M146.1 98.1h0M146.2 79.7h0M146.2 88.8h0M146.3 87.5h0M146.3 92.7h0M146.4 91.3h0M146.5 70.3h0M146.5 88.9h0M146.6 70.6h0M146.6 97h0M146.7 66.7h0M146.8 97h0M146.8 87.8h0M146.9 98.9h0M146.9 94.7h0M147 94.6h0M147.1 95.2h0M147.1 90.4h0M147.2 95.2h0M147.2 75h0M147.3 89.9h0M147.4 95.5h0M147.4 88.9h0M147.5 92.9h0M147.6 83.3h0M147.6 83.4h0M147.7 95.9h0M147.7 87.9h0M147.8 100.2h0M147.9 103.5h0M147.9 90h0M148 97.3h0M148 88.6h0M148.1 101.1h0M148.2 101.5h0M148.2 94.8h0M148.3 101.6h0M148.3 96.9h0M148.4 101.8h0M148.5 103.6h0M148.5 104.5h0M148.6 107.2h0M148.6 103.9h0M148.7 109.6h0M152.5 113.5h0M152.6 113.6h0M152.6 113.5h0M152.7 113.5h0M152.7 113.1h0M152.8 113.3h0M152.9 113.8h0M152.9 112h0M153 113.1h0M153 112.7h0M153.1 110.5h0M153.2 108.3h0M153.2 108.1h0M153.3 103.7h0M153.3 98.3h0M153.4 97.2h0M153.5 101.1h0M153.5 100.3h0M153.6 101.8h0M153.6 92.8h0M153.7 104.6h0M153.8 89.8h0M153.8 85h0M153.9 99.6h0M154 102.8h0M154 99.4h0M154.1 98.2h0M154.1 96.1h0M154.2 100.5h0M154.3 105.6h0M154.3 101.6h0M154.4 99.1h0M154.4 90.9h0M154.5 78.2h0M154.6 97.9h0M154.6 98.6h0M154.7 94.8h0M154.7 93.4h0M154.8 103.5h0M154.9 95.7h0M154.9 98.5h0M155 92h0M155 101.7h0M155.1 96.3h0M155.2 99h0M155.2 93.1h0M155.3 106h0M155.4 96.8h0M155.4 95.7h0M155.5 96.2h0M155.5 104.9h0M155.6 100.7h0M155.7 94.5h0M155.7 93.2h0M155.8 105.8h0M155.8 97h0M155.9 98.5h0M156 97.4h0M156 106h0M156.1 98.9h0M156.1 101.3h0M156.2 92.8h0M156.3 104.3h0M156.3 103.6h0M156.4 103.1h0M156.4 104.6h0M156.5 108h0M162.6 110.7h0M162.6 111.9h0M162.7 111.3h0M162.8 113.1h0M162.8 111.8h0M162.9 111.9h0M162.9 111.6h0M163 113.6h0M163.1 112.7h0M163.1 113.2h0M163.2 106.9h0M163.3 99.3h0M163.3 88.4h0M163.4 81.2h0M163.4 89.9h0M163.5 91.6h0M163.6 86.3h0M163.6 80.7h0M163.7 81.6h0M163.7 62.7h0M163.8 78.6h0M163.9 73.8h0M163.9 87.5h0M164 63.5h0M164 87.6h0M164.1 71.3h0M164.2 37.9h0M164.2 38h0M164.3 66.1h0M164.3 64.8h0M164.4 65.9h0M164.5 63h0M164.5 60.6h0M164.6 54.9h0M164.7 66.7h0M164.7 84.3h0M164.8 67.5h0M164.8 70.4h0M164.9 73.3h0M165 58h0M165 71.7h0M165.1 64.2h0M165.1 57.8h0M165.2 26.4h0M165.3 54.6h0M165.3 38.2h0M165.4 67h0M165.4 65.3h0M165.5 40.9h0M165.6 74.6h0M165.6 91.3h0M165.7 83.9h0M165.8 83.2h0M165.8 72h0M165.9 55.5h0M165.9 47h0M166 87.7h0M166.1 87.7h0M166.1 88.9h0M166.2 76h0M166.2 86.9h0M166.3 93h0M166.4 80.1h0M166.4 95h0M166.5 88.8h0M166.5 100.8h0M166.6 102.6h0M171.4 111.9h0M171.4 111.4h0M171.5 111.4h0M171.5 110.6h0M171.6 109.9h0M171.7 112h0M171.7 111.9h0M171.8 112.7h0M171.8 113.4h0M171.9 111.4h0M172 107.8h0M172 103.3h0M172.1 93.7h0M172.1 91.6h0M172.2 88h0M172.3 86.8h0M172.3 89.6h0M172.4 83.1h0M172.4 63.7h0M172.5 80.1h0M172.6 67.4h0M172.6 59.2h0M172.7 70h0M172.8 70.9h0M172.8 72.3h0M172.9 80.1h0M172.9 82.9h0M173 75.5h0M173.1 58.7h0M173.1 56.7h0M173.2 91.8h0M173.2 60.9h0M173.3 84.5h0M173.4 59.5h0M173.4 71.8h0M173.5 25.1h0M173.5 82.7h0M173.6 74.7h0M173.7 71.5h0M173.7 78.2h0M173.8 52.6h0M173.9 63.2h0M173.9 80.7h0M174 49.9h0M174 62.3h0M174.1 78.7h0M174.2 69.6h0M174.2 73.2h0M174.3 85.4h0M174.3 48.9h0M174.4 93.4h0M174.5 85.4h0M174.5 85.7h0M174.6 80.8h0M174.6 69.1h0M174.7 94.6h0M174.8 89.4h0M174.8 94.2h0M174.9 82.7h0M174.9 64.1h0M175 85h0M175.1 88.6h0M175.1 97.8h0M175.2 85.8h0M175.3 73.7h0M175.3 93.1h0M175.4 103.7h0M180.1 110.8h0M180.2 112h0M180.2 113.1h0M180.3 111.5h0M180.4 112.4h0M180.4 112.6h0M180.5 111.8h0M180.6 111.2h0M180.6 110.4h0M180.7 108.5h0M180.7 107.1h0M180.8 99.1h0M180.9 79.6h0M180.9 86.1h0M181 77.8h0M181 90.4h0M181.1 78.7h0M181.2 46.4h0M181.2 96.1h0M181.3 80.5h0M181.3 91.8h0M181.4 85.2h0M181.5 77.2h0M181.5 59.4h0M181.6 84.9h0M181.6 68.5h0M181.7 53.7h0M181.8 59.2h0M181.8 25.4h0M181.9 61.5h0M182 55.4h0M182 82.8h0M182.1 83.3h0M182.1 18.4h0M182.2 67.2h0M182.3 17.2h0M182.3 12.4h0M182.4 83.8h0M182.4 62h0M182.5 72.5h0M182.6 48.1h0M182.6 63.5h0M182.7 34.2h0M182.7 53h0M182.8 79.2h0M182.9 77.5h0M182.9 81.4h0M183 68.1h0M183 20.5h0M183.1 60.2h0M183.2 49.7h0M183.2 34.7h0M183.3 66.7h0M183.4 89.1h0M183.4 86.1h0M183.5 63.7h0M183.5 54.8h0M183.6 86.6h0M183.7 50.7h0M183.7 77.4h0M183.8 75.1h0M183.8 57.7h0M183.9 68.8h0M184 101.3h0M184 85.3h0M184.1 98.8h0M184.1 99.4h0M188.4 113.1h0M188.5 110.6h0M188.5 110.2h0M188.6 109.9h0M188.6 111.9h0M188.7 112.7h0M188.8 113.2h0M188.8 113.2h0M188.9 111.2h0M188.9 112.8h0M189 107.6h0M189.1 99.6h0M189.1 91.7h0M189.2 87h0M189.2 91.2h0M189.3 90.4h0M189.4 78.1h0M189.4 77.8h0M189.5 57.1h0M189.5 73.1h0M189.6 95.5h0M189.7 90.5h0M189.7 72.9h0M189.8 71.1h0M189.9 63.5h0M189.9 57.6h0M190 54h0M190 65.2h0M190.1 77.6h0M190.2 32.8h0M190.2 62.8h0M190.3 71.4h0M190.3 64.4h0M190.4 26.4h0M190.5 62.6h0M190.5 84.9h0M190.6 63.3h0M190.6 91h0M190.7 88.8h0M190.8 55.5h0M190.8 32.3h0M190.9 50.4h0M190.9 75.5h0M191 54.9h0M191.1 61.8h0M191.1 56.5h0M191.2 32h0M191.3 61.1h0M191.3 78.7h0M191.4 82h0M191.4 69.7h0M191.5 95.7h0M191.6 90h0M191.6 75.7h0M191.7 44h0M191.7 77.2h0M191.8 73h0M191.9 80.3h0M191.9 78.8h0M192 88.5h0M192 81.1h0M192.1 93.3h0M192.2 97.5h0M192.2 89.5h0M192.3 98.1h0M192.3 95.1h0M192.4 105.4h0M197.2 110.2h0M197.3 111.1h0M197.3 113h0M197.4 112.8h0M197.4 111.9h0M197.5 113.2h0M197.6 110.4h0M197.6 111h0M197.7 112.8h0M197.7 110h0M197.8 104h0M197.9 86.1h0M197.9 90.3h0M198 97.4h0M198 86.5h0M198.1 89h0M198.2 61.4h0M198.2 91.2h0M198.3 84.8h0M198.3 80.2h0M198.4 93.8h0M198.5 93.3h0M198.5 61h0M198.6 55.4h0M198.7 92.8h0M198.7 90.6h0M198.8 54.5h0M198.8 37.2h0M198.9 59.2h0M199 48h0M199 81.6h0M199.1 59.3h0M199.1 40h0M199.2 25.1h0M199.3 78h0M199.3 35.9h0M199.4 68.7h0M199.4 56.1h0M199.5 70.6h0M199.6 78.4h0M199.6 69.5h0M199.7 63.1h0M199.7 74h0M199.8 86.7h0M199.9 46h0M199.9 44.7h0M200 92.9h0M200.1 70.1h0M200.1 91.1h0M200.2 68.5h0M200.2 81h0M200.3 67.5h0M200.4 68.7h0M200.4 67.2h0M200.5 89.8h0M200.5 81.2h0M200.6 77.9h0M200.7 80.9h0M200.7 79.2h0M200.8 88.8h0M200.8 87.1h0M200.9 79.6h0M201 93.9h0M201 89.2h0M201.1 85.1h0M201.1 93.3h0M201.2 105.9h0M206.1 112.8h0M206.2 111.4h0M206.2 110.2h0M206.3 112.7h0M206.3 112.8h0M206.4 112.8h0M206.5 107.7h0M206.5 109.5h0M206.6 113h0M206.6 110h0M206.7 102.7h0M206.8 96.8h0M206.8 71.8h0M206.9 84.5h0M206.9 77.2h0M207 85.7h0M207.1 86.6h0M207.1 81.9h0M207.2 74.2h0M207.2 68.4h0M207.3 71.7h0M207.4 82.2h0M207.4 55.2h0M207.5 78.4h0M207.6 59.9h0M207.6 22h0M207.7 75.7h0M207.7 82.1h0M207.8 66.2h0M207.9 82.7h0M207.9 75h0M208 62.8h0M208 27.9h0M208.1 9.4h0M208.2 79.1h0M208.2 77.2h0M208.3 66.4h0M208.3 79h0M208.4 62.6h0M208.5 45.4h0M208.5 71.1h0M208.6 45.3h0M208.6 65.9h0M208.7 69.7h0M208.8 68.7h0M208.8 16.6h0M208.9 44.2h0M209 64.9h0M209 54.7h0M209.1 87.1h0M209.1 50.2h0M209.2 31.1h0M209.3 77.4h0M209.3 82.7h0M209.4 66.2h0M209.4 41.2h0M209.5 76h0M209.6 86.9h0M209.6 65.9h0M209.7 50.3h0M209.7 78.4h0M209.8 66h0M209.9 93.4h0M209.9 78.7h0M210 100.6h0M210 98.1h0M210.1 107.4h0M214.2 112.8h0M214.3 113.3h0M214.3 111.4h0M214.4 113.4h0M214.4 112h0M214.5 112.1h0M214.6 111.8h0M214.6 111.7h0M214.7 112.3h0M214.7 109.1h0M214.8 107.5h0M214.9 94.2h0M214.9 91h0M215 97.4h0M215 89.2h0M215.1 84.8h0M215.2 88.1h0M215.2 72h0M215.3 75.8h0M215.3 79h0M215.4 84.3h0M215.5 72.4h0M215.5 81.1h0M215.6 42h0M215.7 76.6h0M215.7 84.3h0M215.8 83.9h0M215.8 37.9h0M215.9 56.4h0M216 88.2h0M216 68.7h0M216.1 56.9h0M216.1 27h0M216.2 12.4h0M216.3 21.6h0M216.3 40.2h0M216.4 69.4h0M216.4 49.2h0M216.5 65.3h0M216.6 32.3h0M216.6 86.3h0M216.7 50.7h0M216.7 66.2h0M216.8 78.1h0M216.9 70.2h0M216.9 63.7h0M217 72.2h0M217.1 27.6h0M217.1 49h0M217.2 76.4h0M217.2 68.4h0M217.3 80.3h0M217.4 69.5h0M217.4 79.4h0M217.5 70h0M217.5 65.9h0M217.6 55.6h0M217.7 53.6h0M217.7 91.8h0M217.8 89.6h0M217.8 55.2h0M217.9 91h0M218 88.7h0M218 89.6h0M218.1 89.2h0M218.1 95.5h0M218.2 89.5h0M223.3 111.9h0M223.4 113h0M223.4 112.8h0M223.5 111.8h0M223.5 110.6h0M223.6 107.8h0M223.7 111.2h0M223.7 109.7h0M223.8 113.5h0M223.8 113.1h0M223.9 107.6h0M224 93.2h0M224 90h0M224.1 89h0M224.1 89.2h0M224.2 73.7h0M224.3 90.3h0M224.3 78.7h0M224.4 74.1h0M224.4 83.7h0M224.5 87.8h0M224.6 80.9h0M224.6 54.9h0M224.7 79.6h0M224.8 74.3h0M224.8 74.5h0M224.9 56h0M224.9 80.1h0M225 79.4h0M225.1 56.7h0M225.1 48.5h0M225.2 52.6h0M225.2 64.4h0M225.3 9.9h0M225.4 67.7h0M225.4 78.7h0M225.5 64.6h0M225.5 74h0M225.6 60h0M225.7 38.1h0M225.7 39.3h0M225.8 58.2h0M225.8 67.7h0M225.9 46.6h0M226 34.6h0M226 23.5h0M226.1 76.5h0M226.2 66.7h0M226.2 70.9h0M226.3 89.6h0M226.3 81.9h0M226.4 51.4h0M226.5 55.8h0M226.5 79.8h0M226.6 83.4h0M226.6 87.8h0M226.7 46.7h0M226.8 79.5h0M226.8 89.5h0M226.9 84.4h0M226.9 65h0M227 86.6h0M227.1 76.2h0M227.1 100.3h0M227.2 91.8h0M227.2 75.8h0M227.3 105.7h0M232.1 111.2h0M232.2 110.1h0M232.2 112.9h0M232.3 111.6h0M232.3 110.2h0M232.4 112.9h0M232.5 113h0M232.5 110.4h0M232.6 109.3h0M232.6 113.3h0M232.7 107.2h0M232.8 97.5h0M232.8 85.3h0M232.9 83.4h0M232.9 83.2h0M233 79.8h0M233.1 82.3h0M233.1 85.5h0M233.2 85.1h0M233.2 62.7h0M233.3 76.3h0M233.4 70.2h0M233.4 71h0M233.5 84.9h0M233.6 64.5h0M233.6 45.5h0M233.7 24.4h0M233.7 54.6h0M233.8 84.6h0M233.9 66.1h0M233.9 78.5h0M234 34.2h0M234 73.4h0M234.1 12h0M234.2 71.5h0M234.2 55.5h0M234.3 48.1h0M234.3 75.6h0M234.4 57.4h0M234.5 71.3h0M234.5 73.6h0M234.6 58.8h0M234.6 62.5h0M234.7 63.9h0M234.8 69.3h0M234.8 62.2h0M234.9 64.6h0M235 55h0M235 56.5h0M235.1 20.8h0M235.1 26.7h0M235.2 87.4h0M235.3 74.5h0M235.3 81.7h0M235.4 72.7h0M235.4 59.1h0M235.5 67.3h0M235.6 66.9h0M235.6 43.7h0M235.7 67.9h0M235.7 76.3h0M235.8 88.4h0M235.9 91.4h0M235.9 84.9h0M236 86.5h0M236 90.5h0M236.1 106.9h0M240.9 110h0M241 110.3h0M241 110h0M241.1 109.9h0M241.1 110.3h0M241.2 111.8h0M241.3 110.2h0M241.3 112.9h0M241.4 111.1h0M241.4 112.2h0M241.5 109.2h0M241.6 96.7h0M241.6 95.9h0M241.7 75h0M241.7 80.5h0M241.8 83.9h0M241.9 74.5h0M241.9 89.5h0M242 77.4h0M242 74.7h0M242.1 46.5h0M242.2 77h0M242.2 94.1h0M242.3 62h0M242.4 78.5h0M242.4 72.8h0M242.5 57h0M242.5 60.1h0M242.6 82.7h0M242.7 73.5h0M242.7 79.3h0M242.8 67.4h0M242.8 79.8h0M242.9 20h0M243 88.1h0M243 70.6h0M243.1 70.1h0M243.1 70.4h0M243.2 67.2h0M243.3 71.9h0M243.3 61.3h0M243.4 75h0M243.4 66.1h0M243.5 79.8h0M243.6 68.9h0M243.6 90.3h0M243.7 66.6h0M243.8 77.2h0M243.8 84.3h0M243.9 70.1h0M243.9 68.4h0M244 49.6h0M244.1 84h0M244.1 62.9h0M244.2 90.7h0M244.2 71.5h0M244.3 73.6h0M244.4 73.1h0M244.4 76.9h0M244.5 78.6h0M244.5 86.1h0M244.6 93.7h0M244.7 92.7h0M244.7 92h0M244.8 85.7h0M244.8 104.4h0M244.9 105.6h0M250.3 111.4h0M250.3 112.4h0M250.4 112.8h0M250.5 111.9h0M250.5 111.9h0M250.6 112.7h0M250.6 111.9h0M250.7 112.8h0M250.8 112.9h0M250.8 112.3h0M250.9 108.7h0M251 104.6h0M251 90.9h0M251.1 85.4h0M251.1 88.9h0M251.2 91.2h0M251.3 62.9h0M251.3 94.8h0M251.4 90.2h0M251.4 90.4h0M251.5 84.7h0M251.6 92.3h0M251.6 75.2h0M251.7 78.8h0M251.7 73.7h0M251.8 79.9h0M251.9 81.3h0M251.9 85.7h0M252 64h0M252 64.1h0M252.1 84.8h0M252.2 90.5h0M252.2 77.5h0M252.3 30.7h0M252.4 85.1h0M252.4 82.4h0M252.5 54.7h0M252.5 36.2h0M252.6 67.1h0M252.7 63.9h0M252.7 79.4h0M252.8 79.8h0M252.8 69.9h0M252.9 85.1h0M253 85.7h0M253 69.9h0M253.1 87.6h0M253.1 73.6h0M253.2 71.6h0M253.3 73h0M253.3 75.8h0M253.4 46.8h0M253.5 74.1h0M253.5 84.6h0M253.6 74.8h0M253.6 90.2h0M253.7 95.9h0M253.8 77.3h0M253.8 77.1h0M253.9 89.2h0M253.9 82.9h0M254 88.3h0M254.1 91.7h0M254.1 95.1h0M254.2 89.4h0M254.2 94.5h0M254.3 104.1h0M257.8 111.4h0M257.9 113.3h0M257.9 112h0M258 113.1h0M258 112.3h0M258.1 113h0M258.2 112.7h0M258.2 111.8h0M258.3 112.5h0M258.3 112.9h0M258.4 109.9h0M258.5 107.5h0M258.5 102.2h0M258.6 91.5h0M258.6 100.4h0M258.7 101.9h0M258.8 97.1h0M258.8 99.3h0M258.9 98.4h0M258.9 102.4h0M259 84.2h0M259.1 81.8h0M259.1 91h0M259.2 88.4h0M259.3 90.9h0M259.3 84.1h0M259.4 93.9h0M259.4 79h0M259.5 85.1h0M259.6 93.6h0M259.6 95.2h0M259.7 96.6h0M259.7 62.8h0M259.8 55.5h0M259.9 70.2h0M259.9 71.4h0M260 58.2h0M260 86.3h0M260.1 78.1h0M260.2 73.2h0M260.2 80.5h0M260.3 80.1h0M260.3 64.6h0" stroke="#1f77b4" stroke-width="1.5" stroke-linecap="round"/>
<polyline points="38.9,106.9 39,106.4 39,105 39.1,102.9 39.1,101.3 39.2,100.9 39.3,99.8 39.3,98.1 39.4,97 39.4,95.7 39.5,94 39.6,93.1 39.6,90.9 39.7,89.9 39.7,88.3 39.8,87.1 39.9,86 39.9,84.8 40,83 40.1,81.8 40.1,80 40.2,78.8 40.2,78.1 40.3,76 40.4,75.3 40.4,73.6 40.5,72 40.5,73.7 40.6,73.4 40.7,74.1 40.7,75 40.8,75.9 40.8,76.7 40.9,77.8 41,78.2 41,79.1 41.1,79.6 41.1,81 41.2,81 41.3,81.9 41.3,82.8 41.4,83.7 41.5,84 41.5,85.9 41.6,85.6 41.6,86.5 41.7,87.3 41.8,88.5 41.8,90.3 41.9,91.3 41.9,92.1 42,93.4 42.1,94.8 42.1,96.9 42.2,97.1 42.2,98 42.3,99.3 42.4,100.9 42.4,103.1 42.5,103.1 42.5,104.9 42.6,107.3 48.6,106.4 48.6,106.5 48.7,106 48.8,106.8 48.8,105.7 48.9,106.3 48.9,106.7 49,105.3 49.1,104.1 49.1,102.4 49.2,101.6 49.2,99.4 49.3,99 49.4,98.5 49.4,96.5 49.5,95.8 49.5,93.6 49.6,91.8 49.7,90.7 49.7,90.4 49.8,88.8 49.9,86.3 49.9,85.7 50,84.6 50,82.8 50.1,80.9 50.2,80.2 50.2,79.4 50.3,78.1 50.3,76.7 50.4,76 50.5,74.9 50.5,75.1 50.6,76.3 50.6,76.6 50.7,77.2 50.8,76.9 50.8,79.1 50.9,79.5 50.9,80.2 51,80.6 51.1,81.1 51.1,82.5 51.2,83.4 51.3,84.5 51.3,84.9 51.4,84.9 51.4,85.9 51.5,87.1 51.6,87.5 51.6,88 51.7,88.6 51.7,90.3 51.8,91.2 51.9,93.1 51.9,94 52,93.8 52,96.7 52.1,97 52.2,97.9 52.2,99.3 52.3,100.7 52.3,101.5 52.4,102.6 52.5,103.8 52.5,105.8 52.6,106.1 57.3,106.7 57.4,105.9 57.5,107.3 57.5,106 57.6,106.5 57.6,105.9 57.7,106.8 57.8,105.2 57.8,102.2 57.9,102.3 58,100.8 58,99.1 58.1,98 58.1,95.3 58.2,93.6 58.3,93.4 58.3,92.5 58.4,89.4 58.4,88 58.5,86.7 58.6,85 58.6,84.6 58.7,82.8 58.7,81.9 58.8,80.5 58.9,77.7 58.9,77.1 59,74.1 59,73.8 59.1,72.7 59.2,70.4 59.2,68.4 59.3,69.9 59.4,71.6 59.4,71.6 59.5,71.9 59.5,73.8 59.6,74.7 59.7,74.6 59.7,75.9 59.8,77.4 59.8,77.9 59.9,78.9 60,79.2 60,80.1 60.1,80.4 60.1,81.4 60.2,83.5 60.3,83.3 60.3,83.8 60.4,84.9 60.4,85.5 60.5,87.7 60.6,89.2 60.6,89.6 60.7,92 60.8,93.9 60.8,93.5 60.9,95.8 60.9,96.9 61,98.8 61.1,100.1 61.1,101.3 61.2,102.2 61.2,103.2 61.3,105.9 61.4,105.6 66.1,106.4 66.2,106.9 66.2,107 66.3,106.5 66.4,107 66.4,105.9 66.5,105.8 66.5,103.8 66.6,103.5 66.7,102.9 66.7,101.8 66.8,101.8 66.8,99.3 66.9,97.9 67,96.1 67,95.1 67.1,93.8 67.1,92.8 67.2,91.4 67.3,89.8 67.3,89.7 67.4,88.2 67.5,87.4 67.5,84.8 67.6,83.7 67.6,82.8 67.7,82.4 67.8,80.6 67.8,79.5 67.9,78.2 67.9,77.1 68,75.5 68.1,76.6 68.1,76.7 68.2,77.7 68.2,78.6 68.3,79.2 68.4,80.1 68.4,80.2 68.5,81.4 68.5,81.8 68.6,82.8 68.7,84 68.7,83.6 68.8,85.2 68.9,85.1 68.9,85.9 69,87.5 69,87.9 69.1,88.4 69.2,89.2 69.2,90.1 69.3,90.3 69.3,91.9 69.4,92.7 69.5,94.2 69.5,94.9 69.6,96.5 69.6,97.3 69.7,98.1 69.8,99.4 69.8,100.7 69.9,102.1 70,102.7 70,103.7 70.1,105 70.1,106.4 74.7,105.9 74.8,106.9 74.8,105.9 74.9,106.1 74.9,105.9 75,106.1 75.1,106.8 75.1,105.8 75.2,103.5 75.2,103.1 75.3,102.7 75.4,101 75.4,100.2 75.5,99.8 75.5,98.9 75.6,97.6 75.7,95.8 75.7,94.9 75.8,93.9 75.8,92.7 75.9,91.5 76,91.6 76,89.8 76.1,89 76.2,88.1 76.2,86.8 76.3,85.5 76.3,84.6 76.4,84 76.5,82.6 76.5,80.5 76.6,80.7 76.6,81.5 76.7,81.3 76.8,81.8 76.8,82.4 76.9,83.6 76.9,83.4 77,84.7 77.1,85.4 77.1,85.8 77.2,86.2 77.2,86.4 77.3,87 77.4,87.9 77.4,88.1 77.5,89 77.6,89.3 77.6,90.8 77.7,91.4 77.7,91.1 77.8,92.6 77.9,93.1 77.9,93.9 78,95 78,95.9 78.1,96.1 78.2,98.6 78.2,98.2 78.3,98.6 78.3,100.4 78.4,101.4 78.5,102 78.5,102.5 78.6,104.6 78.6,105 78.7,106.1 83.7,106.5 83.7,106.8 83.8,105.8 83.8,107.4 83.9,106.4 84,105.1 84,106.5 84.1,105.5 84.1,103.6 84.2,101.5 84.3,100.9 84.3,99.1 84.4,98 84.4,96.9 84.5,93.7 84.6,93.9 84.6,92.8 84.7,91.4 84.8,89.6 84.8,88.2 84.9,86.7 84.9,85.6 85,85 85.1,82.6 85.1,81.7 85.2,80.3 85.2,79.5 85.3,77.7 85.4,76.4 85.4,74.7 85.5,74 85.5,71.9 85.6,72.6 85.7,74 85.7,74.5 85.8,75.4 85.8,75.3 85.9,77.8 86,77.5 86,78.9 86.1,79 86.2,79.2 86.2,80.7 86.3,81.1 86.3,82.4 86.4,81.7 86.5,83 86.5,83.7 86.6,85.7 86.6,86.4 86.7,86 86.8,87.6 86.8,88.8 86.9,89.8 86.9,91.8 87,92 87.1,93.6 87.1,94.6 87.2,96.5 87.2,97.1 87.3,98.9 87.4,99.3 87.4,100.5 87.5,101.8 87.6,103.3 87.6,104.5 87.7,107.4 92.4,106.7 92.5,106.6 92.5,107 92.6,106.1 92.7,106.5 92.7,106.2 92.8,106.8 92.9,105.4 92.9,103.6 93,103 93,101.6 93.1,100.5 93.2,99.7 93.2,99.1 93.3,96.9 93.3,96.1 93.4,94.7 93.5,94.8 93.5,93.5 93.6,92.6 93.6,90.9 93.7,89 93.8,88.1 93.8,87.2 93.9,86 93.9,84.6 94,83.9 94.1,82.5 94.1,81.5 94.2,81.4 94.3,79.5 94.3,77.6 94.4,79 94.4,79.5 94.5,80.3 94.6,80.9 94.6,80.8 94.7,82.1 94.7,83 94.8,84.6 94.9,84.1 94.9,85.3 95,85.9 95,85.4 95.1,86.1 95.2,87.8 95.2,87.3 95.3,88.1 95.3,89.3 95.4,89.2 95.5,90.9 95.5,91.4 95.6,92.5 95.7,93.4 95.7,93.5 95.8,95.5 95.8,96.4 95.9,97.3 96,97.9 96,99.1 96.1,99.6 96.1,101.3 96.2,102.5 96.3,103.2 96.3,104 96.4,105.4 96.4,105.9 100.5,105.7 100.6,106.7 100.6,106 100.7,106.5 100.7,106.9 100.8,105.7 100.9,107.5 100.9,105.5 101,103.7 101,102.8 101.1,101 101.2,100.2 101.2,99.1 101.3,96.6 101.3,96.5 101.4,95.2 101.5,94.4 101.5,93 101.6,91.1 101.6,89.9 101.7,88.9 101.8,88 101.8,86.1 101.9,86 102,84.1 102,82.8 102.1,81.9 102.1,80.2 102.2,79.3 102.3,78.1 102.3,75.7 102.4,74.9 102.4,75.4 102.5,76.6 102.6,76.9 102.6,77.7 102.7,78.2 102.7,78.3 102.8,80.2 102.9,80.7 102.9,81.5 103,83.8 103,83.6 103.1,83.6 103.2,84 103.2,85.3 103.3,85.2 103.4,85.8 103.4,87.3 103.5,87.1 103.5,87.7 103.6,89.1 103.7,90.9 103.7,90.8 103.8,92.7 103.8,93.9 103.9,94.8 104,96.2 104,96.6 104.1,97.8 104.1,98.8 104.2,100.2 104.3,101.9 104.3,102.7 104.4,103.4 104.4,105.1 104.5,104.7 110,107.2 110,106.2 110.1,106.1 110.1,106.3 110.2,106.9 110.3,105.9 110.3,107 110.4,105.3 110.5,104.2 110.5,102.8 110.6,101.1 110.6,100.5 110.7,98.7 110.8,97.5 110.8,97.3 110.9,95.9 110.9,94.3 111,93.2 111.1,91.5 111.1,91.3 111.2,88.9 111.2,87.7 111.3,86.9 111.4,86.2 111.4,84.3 111.5,83.4 111.5,81.6 111.6,80.7 111.7,79.1 111.7,78.4 111.8,76.3 111.9,76.8 111.9,76.9 112,76.9 112,78.5 112.1,78.1 112.2,79.7 112.2,79.8 112.3,81 112.3,81.4 112.4,81.8 112.5,82.7 112.5,83.5 112.6,83 112.6,84.7 112.7,85.8 112.8,85.6 112.8,86.4 112.9,86.9 112.9,87.3 113,89.2 113.1,89.1 113.1,90.1 113.2,91.8 113.3,92.7 113.3,95.3 113.4,95.3 113.4,95.3 113.5,98.1 113.6,98.6 113.6,99.3 113.7,100.3 113.7,100.9 113.8,103.5 113.9,103.8 113.9,104.5 114,106.6 118.7,106.9 118.8,106.5 118.9,106.5 118.9,106.1 119,106.6 119,106.5 119.1,106.7 119.2,105.4 119.2,104.4 119.3,103.2 119.3,102.3 119.4,101.6 119.5,100.7 119.5,99.8 119.6,98.9 119.6,97.5 119.7,98 119.8,96.2 119.8,95.2 119.9,93.9 120,93.8 120,92.4 120.1,91.3 120.1,90.8 120.2,90.4 120.3,89 120.3,88.3 120.4,86.7 120.4,86.4 120.5,84.5 120.6,84.2 120.6,83.6 120.7,84 120.7,84.7 120.8,84.7 120.9,84.8 120.9,85.9 121,86 121,87.2 121.1,87.3 121.2,87.1 121.2,89 121.3,88.5 121.4,89 121.4,90.7 121.5,91 121.5,91.4 121.6,91.2 121.7,92.2 121.7,92.6 121.8,92.8 121.8,93.6 121.9,94.4 122,95.4 122,95.7 122.1,97.2 122.1,97.1 122.2,98.7 122.3,99.7 122.3,100 122.4,100.9 122.4,102.6 122.5,102.6 122.6,104 122.6,104.6 122.7,104.9 122.8,106.3 127.5,105.8 127.6,106.8 127.6,106.2 127.7,106.7 127.7,106.3 127.8,106.7 127.9,106.3 127.9,105.6 128,104.9 128.1,103.9 128.1,102.8 128.2,102.7 128.2,101.4 128.3,100.9 128.4,100.2 128.4,98.7 128.5,99.3 128.5,98.1 128.6,97.7 128.7,96.4 128.7,95.6 128.8,93.6 128.8,93.9 128.9,92.7 129,92.1 129,91.9 129.1,90.8 129.1,89.7 129.2,89.4 129.3,88.6 129.3,87.7 129.4,87.6 129.5,87.8 129.5,87.8 129.6,88.2 129.6,89.1 129.7,89.3 129.8,89.7 129.8,90.2 129.9,90.3 129.9,90.9 130,91.3 130.1,92.3 130.1,92.6 130.2,92.6 130.2,93.6 130.3,93.5 130.4,94.2 130.4,94.7 130.5,94.6 130.5,95.5 130.6,96 130.7,96.6 130.7,97.1 130.8,96.9 130.9,99.2 130.9,99.2 131,99.9 131,100.2 131.1,101.3 131.2,102.7 131.2,102.2 131.3,103.6 131.3,104 131.4,105.1 131.5,105.7 131.5,106.2 136.3,106.2 136.3,107.3 136.4,106.7 136.5,106.1 136.5,106.5 136.6,106.3 136.6,107 136.7,104.9 136.8,104.3 136.8,103.6 136.9,102.5 136.9,101.7 137,100.3 137.1,99.9 137.1,99.5 137.2,98.2 137.2,96.7 137.3,96 137.4,95.5 137.4,94.2 137.5,93.4 137.6,92.4 137.6,92.2 137.7,91.1 137.7,89.6 137.8,89 137.9,87.8 137.9,86.3 138,86.2 138,85.1 138.1,84.5 138.2,83.6 138.2,83.9 138.3,84.9 138.3,85.6 138.4,84.9 138.5,86 138.5,86 138.6,86.9 138.6,87.4 138.7,87.7 138.8,88.2 138.8,89.4 138.9,89.1 139,90.4 139,90.5 139.1,90.2 139.1,91.6 139.2,91.5 139.3,92.8 139.3,92.9 139.4,93.7 139.4,94.4 139.5,95.7 139.6,96.5 139.6,96.9 139.7,98.4 139.7,99 139.8,99.2 139.9,100.5 139.9,101.4 140,102.3 140,102.7 140.1,103.7 140.2,104.4 140.2,105.3 140.3,105.4 144.7,106.4 144.8,106.6 144.8,106.6 144.9,105.6 144.9,106.3 145,106.1 145.1,105.9 145.1,105.1 145.2,104.9 145.2,103.4 145.3,102.5 145.4,101.8 145.4,100.7 145.5,100.4 145.5,99.4 145.6,98.7 145.7,97.3 145.7,97 145.8,95.7 145.8,95.4 145.9,94.1 146,93.4 146,92.4 146.1,91.4 146.2,90.7 146.2,89.8 146.3,89.6 146.3,87.6 146.4,87.3 146.5,86.3 146.5,85.7 146.6,84.1 146.6,85.3 146.7,85.3 146.8,85.5 146.8,85.8 146.9,86.5 146.9,87.2 147,88.3 147.1,87.9 147.1,88.4 147.2,89.1 147.2,89.6 147.3,90.3 147.4,91 147.4,90.9 147.5,91.4 147.6,92.7 147.6,92.5 147.7,93.2 147.7,93.5 147.8,94.2 147.9,94.7 147.9,95.5 148,96.3 148,97.9 148.1,97.9 148.2,99 148.2,100.2 148.3,100.3 148.3,101.8 148.4,101.8 148.5,102.3 148.5,103.8 148.6,104.1 148.6,105.1 148.7,105.8 152.5,107.2 152.6,106.3 152.6,106.4 152.7,107.2 152.7,106.1 152.8,106.4 152.9,106.3 152.9,105.3 153,104.6 153,104 153.1,102.8 153.2,101.9 153.2,100 153.3,99.2 153.3,99.2 153.4,98.2 153.5,97 153.5,96 153.6,95.5 153.6,94.7 153.7,92.8 153.8,92.2 153.8,92.2 153.9,91.3 154,90.1 154,88.8 154.1,87.7 154.1,87.1 154.2,86.7 154.3,85.1 154.3,84.1 154.4,83.3 154.4,84 154.5,84.2 154.6,84.9 154.6,85.8 154.7,85.9 154.7,86.9 154.8,86.6 154.9,87.3 154.9,88.4 155,88.5 155,88.6 155.1,90.4 155.2,90.2 155.2,90.1 155.3,91.7 155.4,91.7 155.4,92.7 155.5,92.8 155.5,94.1 155.6,94.4 155.7,94.9 155.7,95.5 155.8,96.2 155.8,97 155.9,97.6 156,98.6 156,99.4 156.1,100.9 156.1,101.4 156.2,101 156.3,102.2 156.3,103.5 156.4,104.4 156.4,105.2 156.5,106.5 162.6,107.6 162.6,106.4 162.7,106.4 162.8,106.9 162.8,106.4 162.9,105.8 162.9,106.8 163,104.6 163.1,103.8 163.1,101.3 163.2,99.6 163.3,96.9 163.3,96.2 163.4,94.8 163.4,92.7 163.5,92.4 163.6,89.7 163.6,89 163.7,87.4 163.7,84.8 163.8,83.7 163.9,81.5 163.9,81.4 164,78.8 164,77.7 164.1,75.9 164.2,75.2 164.2,72 164.3,70.8 164.3,69.9 164.4,68.5 164.5,66.6 164.5,66.2 164.6,67.9 164.7,69 164.7,69.4 164.8,70.6 164.8,71.4 164.9,72 165,73.1 165,73.7 165.1,75.8 165.1,76 165.2,77.2 165.3,77.8 165.3,78.8 165.4,80 165.4,80.8 165.5,81 165.6,82.7 165.6,84 165.7,84 165.8,85.2 165.8,87.4 165.9,88.6 165.9,90.6 166,91.7 166.1,92.4 166.1,94 166.2,95.8 166.2,97.5 166.3,99.7 166.4,100.1 166.4,101.4 166.5,102.5 166.5,103.4 166.6,105.8 171.4,106.3 171.4,106.5 171.5,106.1 171.5,106.2 171.6,107 171.7,105.6 171.7,106.1 171.8,104.1 171.8,103.7 171.9,100.7 172,98.3 172,97.5 172.1,97.1 172.1,94.5 172.2,92.9 172.3,91.1 172.3,89.7 172.4,87.5 172.4,86.4 172.5,84.4 172.6,83.2 172.6,81.1 172.7,78.9 172.8,78.1 172.8,75.7 172.9,75 172.9,73 173,71.2 173.1,68.7 173.1,68.2 173.2,65.3 173.2,65.3 173.3,65.4 173.4,65.7 173.4,66.7 173.5,68.7 173.5,69.8 173.6,69.5 173.7,71.7 173.7,71.5 173.8,73.2 173.9,73.8 173.9,73.3 174,74.7 174,76.1 174.1,78.4 174.2,78.3 174.2,79.4 174.3,80.5 174.3,80.6 174.4,83.3 174.5,83.2 174.5,84.8 174.6,86.8 174.6,86.8 174.7,90.1 174.8,90.9 174.8,92.3 174.9,95.2 174.9,96.3 175,97.5 175.1,98 175.1,99.4 175.2,101.1 175.3,102.8 175.3,105.8 175.4,105.8 180.1,106.4 180.2,105.4 180.2,105.8 180.3,106.5 180.4,105.8 180.4,105.8 180.5,106.3 180.6,104.8 180.6,104.1 180.7,103.5 180.7,102.7 180.8,101.3 180.9,99.8 180.9,99.7 181,98.8 181,96.9 181.1,97.2 181.2,94.3 181.2,94.2 181.3,92.7 181.3,91.2 181.4,91.5 181.5,90.4 181.5,88 181.6,88 181.6,86.9 181.7,85.7 181.8,84.4 181.8,83.2 181.9,82.7 182,81.9 182,80.7 182.1,80.9 182.1,80.8 182.2,81.5 182.3,81.1 182.3,82.5 182.4,82.3 182.4,82.1 182.5,82.6 182.6,83.3 182.6,84.1 182.7,84.3 182.7,84.4 182.8,84.5 182.9,85 182.9,85.8 183,85.8 183,85.6 183.1,85.8 183.2,87 183.2,86.9 183.3,87.9 183.4,87.9 183.4,86.7 183.5,88.6 183.5,89.3 183.6,89.9 183.7,90.6 183.7,91.3 183.8,91.1 183.8,91.6 183.9,91.4 184,93.2 184,92.8 184.1,92.9 184.1,94.7 188.4,103 188.5,103.1 188.5,102.3 188.6,102.7 188.6,103 188.7,103.2 188.8,102.8 188.8,101.8 188.9,100.8 188.9,99.7 189,99.2 189.1,99 189.1,96.9 189.2,96.4 189.2,95.6 189.3,94.5 189.4,94.8 189.4,93.5 189.5,92.7 189.5,91.1 189.6,91.2 189.7,90 189.7,88.4 189.8,87.8 189.9,87.4 189.9,85.6 190,86 190,84.4 190.1,83.8 190.2,82.7 190.2,82.1 190.3,81.4 190.3,81.3 190.4,82.2 190.5,81.8 190.5,82.5 190.6,82.3 190.6,83.2 190.7,83.6 190.8,83.5 190.8,83.5 190.9,85.1 190.9,84.5 191,84.6 191.1,85.7 191.1,85.9 191.2,85.6 191.3,86.5 191.3,86.7 191.4,86.1 191.4,87.5 191.5,87.8 191.6,88.8 191.6,88.9 191.7,89.4 191.7,88.8 191.8,89.5 191.9,90.9 191.9,90.2 192,91.2 192,92 192.1,92.2 192.2,92.8 192.2,93.8 192.3,94.7 192.3,94.8 192.4,95 197.2,104.3 197.3,102.3 197.3,103.8 197.4,103.5 197.4,103.7 197.5,103.7 197.6,103.3 197.6,102.6 197.7,101.4 197.7,100.7 197.8,99.4 197.9,98.4 197.9,95.9 198,96.2 198,95 198.1,93.2 198.2,91.5 198.2,91.9 198.3,90.7 198.3,88.8 198.4,87.5 198.5,87.2 198.5,86.3 198.6,84.7 198.7,82.8 198.7,82.1 198.8,80.6 198.8,79.8 198.9,78.7 199,77.2 199,76.4 199.1,75.1 199.1,76.1 199.2,76.4 199.3,76.4 199.3,77.2 199.4,77.9 199.4,77.8 199.5,78.3 199.6,79 199.6,79.8 199.7,79.5 199.7,79.3 199.8,81.3 199.9,82.1 199.9,82.2 200,82.8 200.1,83.4 200.1,83.8 200.2,83.3 200.2,83.8 200.3,84 200.4,85.1 200.4,86.5 200.5,86.5 200.5,88 200.6,88.7 200.7,89.8 200.7,89.4 200.8,90.3 200.8,91.7 200.9,92.4 201,93 201,93.7 201.1,94.1 201.1,95.3 201.2,95.9 206.1,103 206.2,103.7 206.2,103.6 206.3,104.5 206.3,103.8 206.4,103.7 206.5,104.6 206.5,103.3 206.6,101.5 206.6,98.8 206.7,98 206.8,96.1 206.8,95 206.9,93.6 206.9,92 207,90.9 207.1,88.5 207.1,87.6 207.2,86.1 207.2,85.5 207.3,83 207.4,82.1 207.4,80.5 207.5,78.2 207.6,77.9 207.6,75.9 207.7,73.9 207.7,72.1 207.8,71.6 207.9,69.6 207.9,68.2 208,67.5 208,68.7 208.1,69.2 208.2,68.4 208.2,69.4 208.3,70.9 208.3,71.2 208.4,71.7 208.5,72.3 208.5,72.8 208.6,72.2 208.6,74.6 208.7,74.7 208.8,75.9 208.8,76.5 208.9,77.3 209,77.6 209,78.4 209.1,78.6 209.1,79.3 209.2,80.7 209.3,80.1 209.3,82.9 209.4,83.1 209.4,83.1 209.5,85.9 209.6,85.7 209.6,86.7 209.7,88.4 209.7,90.7 209.8,89.9 209.9,91.7 209.9,93.2 210,93.2 210,95.4 210.1,95.4 214.2,104.7 214.3,103.7 214.3,102.9 214.4,103.3 214.4,104 214.5,103.8 214.6,104.5 214.6,102.6 214.7,101.4 214.7,100.4 214.8,99.2 214.9,96.1 214.9,95.6 215,94.8 215,93.1 215.1,90.7 215.2,89.3 215.2,89.1 215.3,87.3 215.3,85.5 215.4,84.8 215.5,83.8 215.5,82.3 215.6,80.4 215.7,79.4 215.7,78.3 215.8,76.4 215.8,74.4 215.9,73.1 216,72.2 216,69.7 216.1,69.7 216.1,69.9 216.2,71.2 216.3,70.7 216.3,71.8 216.4,73.2 216.4,73.4 216.5,72.6 216.6,73.7 216.6,74.7 216.7,74.9 216.7,76.8 216.8,77 216.9,77.9 216.9,78.2 217,78.6 217.1,78.7 217.1,79.1 217.2,79.7 217.2,79.4 217.3,81.7 217.4,82.5 217.4,83.1 217.5,84.8 217.5,85.5 217.6,86.1 217.7,87.7 217.7,88 217.8,88.6 217.8,90.8 217.9,92.4 218,92.1 218,93.6 218.1,94 218.1,95.3 218.2,95.8 223.3,103.7 223.4,104.5 223.4,103.8 223.5,103.9 223.5,105 223.6,104.8 223.7,104.1 223.7,103.3 223.8,101.9 223.8,101.1 223.9,99.1 224,99.5 224,98.2 224.1,96.9 224.1,96 224.2,94.6 224.3,93.3 224.3,92.8 224.4,90.9 224.4,89.5 224.5,88.5 224.6,87 224.6,86.3 224.7,85.7 224.8,83.9 224.8,83.2 224.9,81.6 224.9,81.4 225,81.2 225.1,79.7 225.1,78 225.2,76.8 225.2,77.5 225.3,77.4 225.4,78.7 225.4,78.9 225.5,78.6 225.5,79.4 225.6,79.8 225.7,79.7 225.7,80.2 225.8,81.4 225.8,81.4 225.9,82.6 226,82.3 226,82.6 226.1,83.9 226.2,82.9 226.2,83.1 226.3,84.1 226.3,84.4 226.4,84.6 226.5,85.9 226.5,86.1 226.6,87 226.6,88.5 226.7,88.9 226.8,89.4 226.8,89.3 226.9,90.4 226.9,90.7 227,91.9 227.1,92.9 227.1,92.1 227.2,92.5 227.2,94.2 227.3,95.1 232.1,103.6 232.2,103.5 232.2,103.2 232.3,103.3 232.3,103.5 232.4,103.9 232.5,104.1 232.5,102.1 232.6,102.4 232.6,101.8 232.7,100.2 232.8,100.4 232.8,98.9 232.9,98.1 232.9,97.6 233,96.7 233.1,96.7 233.1,95.9 233.2,94.9 233.2,94.1 233.3,93.4 233.4,92.5 233.4,92.2 233.5,91.9 233.6,90.3 233.6,89.8 233.7,88.8 233.7,87.6 233.8,87.6 233.9,86.7 233.9,86.4 234,85.1 234,85.5 234.1,85.8 234.2,85.8 234.2,86.7 234.3,86.3 234.3,86.6 234.4,86.4 234.5,87.8 234.5,87.4 234.6,86.8 234.6,87.9 234.7,88.2 234.8,87.6 234.8,87.6 234.9,88.6 235,89.1 235,89.3 235.1,89.5 235.1,89.8 235.2,90 235.3,90.1 235.3,90.5 235.4,90.7 235.4,91.2 235.5,91.9 235.6,91.6 235.6,92.1 235.7,92.7 235.7,93 235.8,93.1 235.9,93.6 235.9,94 236,94 236,94.3 236.1,95.1 240.9,103.7 241,103.6 241,103.7 241.1,103.2 241.1,103 241.2,104.2 241.3,103.8 241.3,102.7 241.4,102.4 241.4,101.6 241.5,100.6 241.6,99.5 241.6,98.9 241.7,98.7 241.7,97.8 241.8,97.3 241.9,96.5 241.9,96.2 242,95.7 242,94.5 242.1,93.3 242.2,92.7 242.2,92.9 242.3,91.6 242.4,91.1 242.4,90.1 242.5,89.8 242.5,88.5 242.6,88.1 242.7,87.2 242.7,86.4 242.8,86.6 242.8,86.2 242.9,85.9 243,86.6 243,86.5 243.1,86.9 243.1,87.5 243.2,87.5 243.3,87.4 243.3,87.6 243.4,87.7 243.4,88.8 243.5,88.4 243.6,89.4 243.6,89.2 243.7,89.4 243.8,89.4 243.8,89.7 243.9,89.6 243.9,90.5 244,90.3 244.1,90.8 244.1,91.3 244.2,92 244.2,91.8 244.3,92.3 244.4,92.5 244.4,93.1 244.5,93.6 244.5,93.7 244.6,94.1 244.7,94.3 244.7,94.3 244.8,95.5 244.8,95 244.9,97 250.3,104.4 250.3,104.7 250.4,104 250.5,103.8 250.5,104.2 250.6,104.2 250.6,104.9 250.7,102.9 250.8,102.8 250.8,101.3 250.9,101 251,100 251,99.2 251.1,98.9 251.1,96.4 251.2,97.2 251.3,95.7 251.3,95.2 251.4,94.2 251.4,92.8 251.5,93.1 251.6,91.7 251.6,90.6 251.7,89.9 251.7,89 251.8,88.6 251.9,88.1 251.9,87.1 252,86 252,84.7 252.1,84.1 252.2,82.7 252.2,83.6 252.3,83.9 252.4,84.2 252.4,85.2 252.5,84.7 252.5,85.6 252.6,85.6 252.7,85 252.7,86.6 252.8,86.4 252.8,86.6 252.9,87 253,87.4 253,87.9 253.1,87.3 253.1,89.1 253.2,89 253.3,88.4 253.3,89.1 253.4,89.9 253.5,90.4 253.5,90.7 253.6,90.1 253.6,91.4 253.7,92.5 253.8,92.5 253.8,93.3 253.9,93 253.9,94 254,94.1 254.1,95 254.1,94.8 254.2,95.9 254.2,96.5 254.3,97.5 257.8,104.1 257.9,104.9 257.9,104.8 258,104.8 258,104.6 258.1,104.5 258.2,103.9 258.2,103.4 258.3,102.7 258.3,101.2 258.4,101.1 258.5,100.4 258.5,98.6 258.6,97.9 258.6,96.9 258.7,95.7 258.8,95.2 258.8,94.2 258.9,93 258.9,91.9 259,90.8 259.1,90.2 259.1,89.2 259.2,89.3 259.3,86.9 259.3,87.1 259.4,85.5 259.4,83.5 259.5,83.7 259.6,83.3 259.6,81 259.7,80.9 259.7,81.2 259.8,81.6 259.9,81.6 259.9,82 260,82.8 260,82.8 260.1,84 260.2,83.8 260.2,84.7 260.3,84.6 260.3,85.6" fill="none" stroke="#ff7f0e" stroke-width="0.8" stroke-linejoin="round"/>
<path d="M38.9 106.9h0M39 106.4h0M39 105h0M39.1 102.9h0M39.1 101.3h0M39.2 100.9h0M39.3 99.8h0M39.3 98.1h0M39.4 97h0M39.4 95.7h0M39.5 94h0M39.6 93.1h0M39.6 90.9h0M39.7 89.9h0M39.7 88.3h0M39.8 87.1h0M39.9 86h0M39.9 84.8h0M40 83h0M40.1 81.8h0M40.1 80h0M40.2 78.8h0M40.2 78.1h0M40.3 76h0M40.4 75.3h0M40.4 73.6h0M40.5 72h0M40.5 73.7h0M40.6 73.4h0M40.7 74.1h0M40.7 75h0M40.8 75.9h0M40.8 76.7h0M40.9 77.8h0M41 78.2h0M41 79.1h0M41.1 79.6h0M41.1 81h0M41.2 81h0M41.3 81.9h0M41.3 82.8h0M41.4 83.7h0M41.5 84h0M41.5 85.9h0M41.6 85.6h0M41.6 86.5h0M41.7 87.3h0M41.8 88.5h0M41.8 90.3h0M41.9 91.3h0M41.9 92.1h0M42 93.4h0M42.1 94.8h0M42.1 96.9h0M42.2 97.1h0M42.2 98h0M42.3 99.3h0M42.4 100.9h0M42.4 103.1h0M42.5 103.1h0M42.5 104.9h0M42.6 107.3h0M48.6 106.4h0M48.6 106.5h0M48.7 106h0M48.8 106.8h0M48.8 105.7h0M48.9 106.3h0M48.9 106.7h0M49 105.3h0M49.1 104.1h0M49.1 102.4h0M49.2 101.6h0M49.2 99.4h0M49.3 99h0M49.4 98.5h0M49.4 96.5h0M49.5 95.8h0M49.5 93.6h0M49.6 91.8h0M49.7 90.7h0M49.7 90.4h0M49.8 88.8h0M49.9 86.3h0M49.9 85.7h0M50 84.6h0M50 82.8h0M50.1 80.9h0M50.2 80.2h0M50.2 79.4h0M50.3 78.1h0M50.3 76.7h0M50.4 76h0M50.5 74.9h0M50.5 75.1h0M50.6 76.3h0M50.6 76.6h0M50.7 77.2h0M50.8 76.9h0M50.8 79.1h0M50.9 79.5h0M50.9 80.2h0M51 80.6h0M51.1 81.1h0M51.1 82.5h0M51.2 83.4h0M51.3 84.5h0M51.3 84.9h0M51.4 84.9h0M51.4 85.9h0M51.5 87.1h0M51.6 87.5h0M51.6 88h0M51.7 88.6h0M51.7 90.3h0M51.8 91.2h0M51.9 93.1h0M51.9 94h0M52 93.8h0M52 96.7h0M52.1 97h0M52.2 97.9h0M52.2 99.3h0M52.3 100.7h0M52.3 101.5h0M52.4 102.6h0M52.5 103.8h0M52.5 105.8h0M52.6 106.1h0M57.3 106.7h0M57.4 105.9h0M57.5 107.3h0M57.5 106h0M57.6 106.5h0M57.6 105.9h0M57.7 106.8h0M57.8 105.2h0M57.8 102.2h0M57.9 102.3h0M58 100.8h0M58 99.1h0M58.1 98h0M58.1 95.3h0M58.2 93.6h0M58.3 93.4h0M58.3 92.5h0M58.4 89.4h0M58.4 88h0M58.5 86.7h0M58.6 85h0M58.6 84.6h0M58.7 82.8h0M58.7 81.9h0M58.8 80.5h0M58.9 77.7h0M58.9 77.1h0M59 74.1h0M59 73.8h0M59.1 72.7h0M59.2 70.4h0M59.2 68.4h0M59.3 69.9h0M59.4 71.6h0M59.4 71.6h0M59.5 71.9h0M59.5 73.8h0M59.6 74.7h0M59.7 74.6h0M59.7 75.9h0M59.8 77.4h0M59.8 77.9h0M59.9 78.9h0M60 79.2h0M60 80.1h0M60.1 80.4h0M60.1 81.4h0M60.2 83.5h0M60.3 83.3h0M60.3 83.8h0M60.4 84.9h0M60.4 85.5h0M60.5 87.7h0M60.6 89.2h0M60.6 89.6h0M60.7 92h0M60.8 93.9h0M60.8 93.5h0M60.9 95.8h0M60.9 96.9h0M61 98.8h0M61.1 100.1h0M61.1 101.3h0M61.2 102.2h0M61.2 103.2h0M61.3 105.9h0M61.4 105.6h0M66.1 106.4h0M66.2 106.9h0M66.2 107h0M66.3 106.5h0M66.4 107h0M66.4 105.9h0M66.5 105.8h0M66.5 103.8h0M66.6 103.5h0M66.7 102.9h0M66.7 101.8h0M66.8 101.8h0M66.8 99.3h0M66.9 97.9h0M67 96.1h0M67 95.1h0M67.1 93.8h0M67.1 92.8h0M67.2 91.4h0M67.3 89.8h0M67.3 89.7h0M67.4 88.2h0M67.5 87.4h0M67.5 84.8h0M67.6 83.7h0M67.6 82.8h0M67.7 82.4h0M67.8 80.6h0M67.8 79.5h0M67.9 78.2h0M67.9 77.1h0M68 75.5h0M68.1 76.6h0M68.1 76.7h0M68.2 77.7h0M68.2 78.6h0M68.3 79.2h0M68.4 80.1h0M68.4 80.2h0M68.5 81.4h0M68.5 81.8h0M68.6 82.8h0M68.7 84h0M68.7 83.6h0M68.8 85.2h0M68.9 85.1h0M68.9 85.9h0M69 87.5h0M69 87.9h0M69.1 88.4h0M69.2 89.2h0M69.2 90.1h0M69.3 90.3h0M69.3 91.9h0M69.4 92.7h0M69.5 94.2h0M69.5 94.9h0M69.6 96.5h0M69.6 97.3h0M69.7 98.1h0M69.8 99.4h0M69.8 100.7h0M69.9 102.1h0M70 102.7h0M70 103.7h0M70.1 105h0M70.1 106.4h0M74.7 105.9h0M74.8 106.9h0M74.8 105.9h0M74.9 106.1h0M74.9 105.9h0M75 106.1h0M75.1 106.8h0M75.1 105.8h0M75.2 103.5h0M75.2 103.1h0M75.3 102.7h0M75.4 101h0M75.4 100.2h0M75.5 99.8h0M75.5 98.9h0M75.6 97.6h0M75.7 95.8h0M75.7 94.9h0M75.8 93.9h0M75.8 92.7h0M75.9 91.5h0M76 91.6h0M76 89.8h0M76.1 89h0M76.2 88.1h0M76.2 86.8h0M76.3 85.5h0M76.3 84.6h0M76.4 84h0M76.5 82.6h0M76.5 80.5h0M76.6 80.7h0M76.6 81.5h0M76.7 81.3h0M76.8 81.8h0M76.8 82.4h0M76.9 83.6h0M76.9 83.4h0M77 84.7h0M77.1 85.4h0M77.1 85.8h0M77.2 86.2h0M77.2 86.4h0M77.3 87h0M77.4 87.9h0M77.4 88.1h0M77.5 89h0M77.6 89.3h0M77.6 90.8h0M77.7 91.4h0M77.7 91.1h0M77.8 92.6h0M77.9 93.1h0M77.9 93.9h0M78 95h0M78 95.9h0M78.1 96.1h0M78.2 98.6h0M78.2 98.2h0M78.3 98.6h0M78.3 100.4h0M78.4 101.4h0M78.5 102h0M78.5 102.5h0M78.6 104.6h0M78.6 105h0M78.7 106.1h0M83.7 106.5h0M83.7 106.8h0M83.8 105.8h0M83.8 107.4h0M83.9 106.4h0M84 105.1h0M84 106.5h0M84.1 105.5h0M84.1 103.6h0M84.2 101.5h0M84.3 100.9h0M84.3 99.1h0M84.4 98h0M84.4 96.9h0M84.5 93.7h0M84.6 93.9h0M84.6 92.8h0M84.7 91.4h0M84.8 89.6h0M84.8 88.2h0M84.9 86.7h0M84.9 85.6h0M85 85h0M85.1 82.6h0M85.1 81.7h0M85.2 80.3h0M85.2 79.5h0M85.3 77.7h0M85.4 76.4h0M85.4 74.7h0M85.5 74h0M85.5 71.9h0M85.6 72.6h0M85.7 74h0M85.7 74.5h0M85.8 75.4h0M85.8 75.3h0M85.9 77.8h0M86 77.5h0M86 78.9h0M86.1 79h0M86.2 79.2h0M86.2 80.7h0M86.3 81.1h0M86.3 82.4h0M86.4 81.7h0M86.5 83h0M86.5 83.7h0M86.6 85.7h0M86.6 86.4h0M86.7 86h0M86.8 87.6h0M86.8 88.8h0M86.9 89.8h0M86.9 91.8h0M87 92h0M87.1 93.6h0M87.1 94.6h0M87.2 96.5h0M87.2 97.1h0M87.3 98.9h0M87.4 99.3h0M87.4 100.5h0M87.5 101.8h0M87.6 103.3h0M87.6 104.5h0M87.7 107.4h0M92.4 106.7h0M92.5 106.6h0M92.5 107h0M92.6 106.1h0M92.7 106.5h0M92.7 106.2h0M92.8 106.8h0M92.9 105.4h0M92.9 103.6h0M93 103h0M93 101.6h0M93.1 100.5h0M93.2 99.7h0M93.2 99.1h0M93.3 96.9h0M93.3 96.1h0M93.4 94.7h0M93.5 94.8h0M93.5 93.5h0M93.6 92.6h0M93.6 90.9h0M93.7 89h0M93.8 88.1h0M93.8 87.2h0M93.9 86h0M93.9 84.6h0M94 83.9h0M94.1 82.5h0M94.1 81.5h0M94.2 81.4h0M94.3 79.5h0M94.3 77.6h0M94.4 79h0M94.4 79.5h0M94.5 80.3h0M94.6 80.9h0M94.6 80.8h0M94.7 82.1h0M94.7 83h0M94.8 84.6h0M94.9 84.1h0M94.9 85.3h0M95 85.9h0M95 85.4h0M95.1 86.1h0M95.2 87.8h0M95.2 87.3h0M95.3 88.1h0M95.3 89.3h0M95.4 89.2h0M95.5 90.9h0M95.5 91.4h0M95.6 92.5h0M95.7 93.4h0M95.7 93.5h0M95.8 95.5h0M95.8 96.4h0M95.9 97.3h0M96 97.9h0M96 99.1h0M96.1 99.6h0M96.1 101.3h0M96.2 102.5h0M96.3 103.2h0M96.3 104h0M96.4 105.4h0M96.4 105.9h0M100.5 105.7h0M100.6 106.7h0M100.6 106h0M100.7 106.5h0M100.7 106.9h0M100.8 105.7h0M100.9 107.5h0M100.9 105.5h0M101 103.7h0M101 102.8h0M101.1 101h0M101.2 100.2h0M101.2 99.1h0M101.3 96.6h0M101.3 96.5h0M101.4 95.2h0M101.5 94.4h0M101.5 93h0M101.6 91.1h0M101.6 89.9h0M101.7 88.9h0M101.8 88h0M101.8 86.1h0M101.9 86h0M102 84.1h0M102 82.8h0M102.1 81.9h0M102.1 80.2h0M102.2 79.3h0M102.3 78.1h0M102.3 75.7h0M102.4 74.9h0M102.4 75.4h0M102.5 76.6h0M102.6 76.9h0M102.6 77.7h0M102.7 78.2h0M102.7 78.3h0M102.8 80.2h0M102.9 80.7h0M102.9 81.5h0M103 83.8h0M103 83.6h0M103.1 83.6h0M103.2 84h0M103.2 85.3h0M103.3 85.2h0M103.4 85.8h0M103.4 87.3h0M103.5 87.1h0M103.5 87.7h0M103.6 89.1h0M103.7 90.9h0M103.7 90.8h0M103.8 92.7h0M103.8 93.9h0M103.9 94.8h0M104 96.2h0M104 96.6h0M104.1 97.8h0M104.1 98.8h0M104.2 100.2h0M104.3 101.9h0M104.3 102.7h0M104.4 103.4h0M104.4 105.1h0M104.5 104.7h0M110 107.2h0M110 106.2h0M110.1 106.1h0M110.1 106.3h0M110.2 106.9h0M110.3 105.9h0M110.3 107h0M110.4 105.3h0M110.5 104.2h0M110.5 102.8h0M110.6 101.1h0M110.6 100.5h0M110.7 98.7h0M110.8 97.5h0M110.8 97.3h0M110.9 95.9h0M110.9 94.3h0M111 93.2h0M111.1 91.5h0M111.1 91.3h0M111.2 88.9h0M111.2 87.7h0M111.3 86.9h0M111.4 86.2h0M111.4 84.3h0M111.5 83.4h0M111.5 81.6h0M111.6 80.7h0M111.7 79.1h0M111.7 78.4h0M111.8 76.3h0M111.9 76.8h0M111.9 76.9h0M112 76.9h0M112 78.5h0M112.1 78.1h0M112.2 79.7h0M112.2 79.8h0M112.3 81h0M112.3 81.4h0M112.4 81.8h0M112.5 82.7h0M112.5 83.5h0M112.6 83h0M112.6 84.7h0M112.7 85.8h0M112.8 85.6h0M112.8 86.4h0M112.9 86.9h0M112.9 87.3h0M113 89.2h0M113.1 89.1h0M113.1 90.1h0M113.2 91.8h0M113.3 92.7h0M113.3 95.3h0M113.4 95.3h0M113.4 95.3h0M113.5 98.1h0M113.6 98.6h0M113.6 99.3h0M113.7 100.3h0M113.7 100.9h0M113.8 103.5h0M113.9 103.8h0M113.9 104.5h0M114 106.6h0M118.7 106.9h0M118.8 106.5h0M118.9 106.5h0M118.9 106.1h0M119 106.6h0M119 106.5h0M119.1 106.7h0M119.2 105.4h0M119.2 104.4h0M119.3 103.2h0M119.3 102.3h0M119.4 101.6h0M119.5 100.7h0M119.5 99.8h0M119.6 98.9h0M119.6 97.5h0M119.7 98h0M119.8 96.2h0M119.8 95.2h0M119.9 93.9h0M120 93.8h0M120 92.4h0M120.1 91.3h0M120.1 90.8h0M120.2 90.4h0M120.3 89h0M120.3 88.3h0M120.4 86.7h0M120.4 86.4h0M120.5 84.5h0M120.6 84.2h0M120.6 83.6h0M120.7 84h0M120.7 84.7h0M120.8 84.7h0M120.9 84.8h0M120.9 85.9h0M121 86h0M121 87.2h0M121.1 87.3h0M121.2 87.1h0M121.2 89h0M121.3 88.5h0M121.4 89h0M121.4 90.7h0M121.5 91h0M121.5 91.4h0M121.6 91.2h0M121.7 92.2h0M121.7 92.6h0M121.8 92.8h0M121.8 93.6h0M121.9 94.4h0M122 95.4h0M122 95.7h0M122.1 97.2h0M122.1 97.1h0M122.2 98.7h0M122.3 99.7h0M122.3 100h0M122.4 100.9h0M122.4 102.6h0M122.5 102.6h0M122.6 104h0M122.6 104.6h0M122.7 104.9h0M122.8 106.3h0M127.5 105.8h0M127.6 106.8h0M127.6 106.2h0M127.7 106.7h0M127.7 106.3h0M127.8 106.7h0M127.9 106.3h0M127.9 105.6h0M128 104.9h0M128.1 103.9h0M128.1 102.8h0M128.2 102.7h0M128.2 101.4h0M128.3 100.9h0M128.4 100.2h0M128.4 98.7h0M128.5 99.3h0M128.5 98.1h0M128.6 97.7h0M128.7 96.4h0M128.7 95.6h0M128.8 93.6h0M128.8 93.9h0M128.9 92.7h0M129 92.1h0M129 91.9h0M129.1 90.8h0M129.1 89.7h0M129.2 89.4h0M129.3 88.6h0M129.3 87.7h0M129.4 87.6h0M129.5 87.8h0M129.5 87.8h0M129.6 88.2h0M129.6 89.1h0M129.7 89.3h0M129.8 89.7h0M129.8 90.2h0M129.9 90.3h0M129.9 90.9h0M130 91.3h0M130.1 92.3h0M130.1 92.6h0M130.2 92.6h0M130.2 93.6h0M130.3 93.5h0M130.4 94.2h0M130.4 94.7h0M130.5 94.6h0M130.5 95.5h0M130.6 96h0M130.7 96.6h0M130.7 97.1h0M130.8 96.9h0M130.9 99.2h0M130.9 99.2h0M131 99.9h0M131 100.2h0M131.1 101.3h0M131.2 102.7h0M131.2 102.2h0M131.3 103.6h0M131.3 104h0M131.4 105.1h0M131.5 105.7h0M131.5 106.2h0M136.3 106.2h0M136.3 107.3h0M136.4 106.7h0M136.5 106.1h0M136.5 106.5h0M136.6 106.3h0M136.6 107h0M136.7 104.9h0M136.8 104.3h0M136.8 103.6h0M136.9 102.5h0M136.9 101.7h0M137 100.3h0M137.1 99.9h0M137.1 99.5h0M137.2 98.2h0M137.2 96.7h0M137.3 96h0M137.4 95.5h0M137.4 94.2h0M137.5 93.4h0M137.6 92.4h0M137.6 92.2h0M137.7 91.1h0M137.7 89.6h0M137.8 89h0M137.9 87.8h0M137.9 86.3h0M138 86.2h0M138 85.1h0M138.1 84.5h0M138.2 83.6h0M138.2 83.9h0M138.3 84.9h0M138.3 85.6h0M138.4 84.9h0M138.5 86h0M138.5 86h0M138.6 86.9h0M138.6 87.4h0M138.7 87.7h0M138.8 88.2h0M138.8 89.4h0M138.9 89.1h0M139 90.4h0M139 90.5h0M139.1 90.2h0M139.1 91.6h0M139.2 91.5h0M139.3 92.8h0M139.3 92.9h0M139.4 93.7h0M139.4 94.4h0M139.5 95.7h0M139.6 96.5h0M139.6 96.9h0M139.7 98.4h0M139.7 99h0M139.8 99.2h0M139.9 100.5h0M139.9 101.4h0M140 102.3h0M140 102.7h0M140.1 103.7h0M140.2 104.4h0M140.2 105.3h0M140.3 105.4h0M144.7 106.4h0M144.8 106.6h0M144.8 106.6h0M144.9 105.6h0M144.9 106.3h0M145 106.1h0M145.1 105.9h0M145.1 105.1h0M145.2 104.9h0M145.2 103.4h0M145.3 102.5h0M145.4 101.8h0M145.4 100.7h0M145.5 100.4h0M145.5 99.4h0M145.6 98.7h0M145.7 97.3h0M145.7 97h0M145.8 95.7h0M145.8 95.4h0M145.9 94.1h0M146 93.4h0M146 92.4h0M146.1 91.4h0M146.2 90.7h0M146.2 89.8h0M146.3 89.6h0M146.3 87.6h0M146.4 87.3h0M146.5 86.3h0M146.5 85.7h0M146.6 84.1h0M146.6 85.3h0M146.7 85.3h0M146.8 85.5h0M146.8 85.8h0M146.9 86.5h0M146.9 87.2h0M147 88.3h0M147.1 87.9h0M147.1 88.4h0M147.2 89.1h0M147.2 89.6h0M147.3 90.3h0M147.4 91h0M147.4 90.9h0M147.5 91.4h0M147.6 92.7h0M147.6 92.5h0M147.7 93.2h0M147.7 93.5h0M147.8 94.2h0M147.9 94.7h0M147.9 95.5h0M148 96.3h0M148 97.9h0M148.1 97.9h0M148.2 99h0M148.2 100.2h0M148.3 100.3h0M148.3 101.8h0M148.4 101.8h0M148.5 102.3h0M148.5 103.8h0M148.6 104.1h0M148.6 105.1h0M148.7 105.8h0M152.5 107.2h0M152.6 106.3h0M152.6 106.4h0M152.7 107.2h0M152.7 106.1h0M152.8 106.4h0M152.9 106.3h0M152.9 105.3h0M153 104.6h0M153 104h0M153.1 102.8h0M153.2 101.9h0M153.2 100h0M153.3 99.2h0M153.3 99.2h0M153.4 98.2h0M153.5 97h0M153.5 96h0M153.6 95.5h0M153.6 94.7h0M153.7 92.8h0M153.8 92.2h0M153.8 92.2h0M153.9 91.3h0M154 90.1h0M154 88.8h0M154.1 87.7h0M154.1 87.1h0M154.2 86.7h0M154.3 85.1h0M154.3 84.1h0M154.4 83.3h0M154.4 84h0M154.5 84.2h0M154.6 84.9h0M154.6 85.8h0M154.7 85.9h0M154.7 86.9h0M154.8 86.6h0M154.9 87.3h0M154.9 88.4h0M155 88.5h0M155 88.6h0M155.1 90.4h0M155.2 90.2h0M155.2 90.1h0M155.3 91.7h0M155.4 91.7h0M155.4 92.7h0M155.5 92.8h0M155.5 94.1h0M155.6 94.4h0M155.7 94.9h0M155.7 95.5h0M155.8 96.2h0M155.8 97h0M155.9 97.6h0M156 98.6h0M156 99.4h0M156.1 100.9h0M156.1 101.4h0M156.2 101h0M156.3 102.2h0M156.3 103.5h0M156.4 104.4h0M156.4 105.2h0M156.5 106.5h0M162.6 107.6h0M162.6 106.4h0M162.7 106.4h0M162.8 106.9h0M162.8 106.4h0M162.9 105.8h0M162.9 106.8h0M163 104.6h0M163.1 103.8h0M163.1 101.3h0M163.2 99.6h0M163.3 96.9h0M163.3 96.2h0M163.4 94.8h0M163.4 92.7h0M163.5 92.4h0M163.6 89.7h0M163.6 89h0M163.7 87.4h0M163.7 84.8h0M163.8 83.7h0M163.9 81.5h0M163.9 81.4h0M164 78.8h0M164 77.7h0M164.1 75.9h0M164.2 75.2h0M164.2 72h0M164.3 70.8h0M164.3 69.9h0M164.4 68.5h0M164.5 66.6h0M164.5 66.2h0M164.6 67.9h0M164.7 69h0M164.7 69.4h0M164.8 70.6h0M164.8 71.4h0M164.9 72h0M165 73.1h0M165 73.7h0M165.1 75.8h0M165.1 76h0M165.2 77.2h0M165.3 77.8h0M165.3 78.8h0M165.4 80h0M165.4 80.8h0M165.5 81h0M165.6 82.7h0M165.6 84h0M165.7 84h0M165.8 85.2h0M165.8 87.4h0M165.9 88.6h0M165.9 90.6h0M166 91.7h0M166.1 92.4h0M166.1 94h0M166.2 95.8h0M166.2 97.5h0M166.3 99.7h0M166.4 100.1h0M166.4 101.4h0M166.5 102.5h0M166.5 103.4h0M166.6 105.8h0M171.4 106.3h0M171.4 106.5h0M171.5 106.1h0M171.5 106.2h0M171.6 107h0M171.7 105.6h0M171.7 106.1h0M171.8 104.1h0M171.8 103.7h0M171.9 100.7h0M172 98.3h0M172 97.5h0M172.1 97.1h0M172.1 94.5h0M172.2 92.9h0M172.3 91.1h0M172.3 89.7h0M172.4 87.5h0M172.4 86.4h0M172.5 84.4h0M172.6 83.2h0M172.6 81.1h0M172.7 78.9h0M172.8 78.1h0M172.8 75.7h0M172.9 75h0M172.9 73h0M173 71.2h0M173.1 68.7h0M173.1 68.2h0M173.2 65.3h0M173.2 65.3h0M173.3 65.4h0M173.4 65.7h0M173.4 66.7h0M173.5 68.7h0M173.5 69.8h0M173.6 69.5h0M173.7 71.7h0M173.7 71.5h0M173.8 73.2h0M173.9 73.8h0M173.9 73.3h0M174 74.7h0M174 76.1h0M174.1 78.4h0M174.2 78.3h0M174.2 79.4h0M174.3 80.5h0M174.3 80.6h0M174.4 83.3h0M174.5 83.2h0M174.5 84.8h0M174.6 86.8h0M174.6 86.8h0M174.7 90.1h0M174.8 90.9h0M174.8 92.3h0M174.9 95.2h0M174.9 96.3h0M175 97.5h0M175.1 98h0M175.1 99.4h0M175.2 101.1h0M175.3 102.8h0M175.3 105.8h0M175.4 105.8h0M180.1 106.4h0M180.2 105.4h0M180.2 105.8h0M180.3 106.5h0M180.4 105.8h0M180.4 105.8h0M180.5 106.3h0M180.6 104.8h0M180.6 104.1h0M180.7 103.5h0M180.7 102.7h0M180.8 101.3h0M180.9 99.8h0M180.9 99.7h0M181 98.8h0M181 96.9h0M181.1 97.2h0M181.2 94.3h0M181.2 94.2h0M181.3 92.7h0M181.3 91.2h0M181.4 91.5h0M181.5 90.4h0M181.5 88h0M181.6 88h0M181.6 86.9h0M181.7 85.7h0M181.8 84.4h0M181.8 83.2h0M181.9 82.7h0M182 81.9h0M182 80.7h0M182.1 80.9h0M182.1 80.8h0M182.2 81.5h0M182.3 81.1h0M182.3 82.5h0M182.4 82.3h0M182.4 82.1h0M182.5 82.6h0M182.6 83.3h0M182.6 84.1h0M182.7 84.3h0M182.7 84.4h0M182.8 84.5h0M182.9 85h0M182.9 85.8h0M183 85.8h0M183 85.6h0M183.1 85.8h0M183.2 87h0M183.2 86.9h0M183.3 87.9h0M183.4 87.9h0M183.4 86.7h0M183.5 88.6h0M183.5 89.3h0M183.6 89.9h0M183.7 90.6h0M183.7 91.3h0M183.8 91.1h0M183.8 91.6h0M183.9 91.4h0M184 93.2h0M184 92.8h0M184.1 92.9h0M184.1 94.7h0M188.4 103h0M188.5 103.1h0M188.5 102.3h0M188.6 102.7h0M188.6 103h0M188.7 103.2h0M188.8 102.8h0M188.8 101.8h0M188.9 100.8h0M188.9 99.7h0M189 99.2h0M189.1 99h0M189.1 96.9h0M189.2 96.4h0M189.2 95.6h0M189.3 94.5h0M189.4 94.8h0M189.4 93.5h0M189.5 92.7h0M189.5 91.1h0M189.6 91.2h0M189.7 90h0M189.7 88.4h0M189.8 87.8h0M189.9 87.4h0M189.9 85.6h0M190 86h0M190 84.4h0M190.1 83.8h0M190.2 82.7h0M190.2 82.1h0M190.3 81.4h0M190.3 81.3h0M190.4 82.2h0M190.5 81.8h0M190.5 82.5h0M190.6 82.3h0M190.6 83.2h0M190.7 83.6h0M190.8 83.5h0M190.8 83.5h0M190.9 85.1h0M190.9 84.5h0M191 84.6h0M191.1 85.7h0M191.1 85.9h0M191.2 85.6h0M191.3 86.5h0M191.3 86.7h0M191.4 86.1h0M191.4 87.5h0M191.5 87.8h0M191.6 88.8h0M191.6 88.9h0M191.7 89.4h0M191.7 88.8h0M191.8 89.5h0M191.9 90.9h0M191.9 90.2h0M192 91.2h0M192 92h0M192.1 92.2h0M192.2 92.8h0M192.2 93.8h0M192.3 94.7h0M192.3 94.8h0M192.4 95h0M197.2 104.3h0M197.3 102.3h0M197.3 103.8h0M197.4 103.5h0M197.4 103.7h0M197.5 103.7h0M197.6 103.3h0M197.6 102.6h0M197.7 101.4h0M197.7 100.7h0M197.8 99.4h0M197.9 98.4h0M197.9 95.9h0M198 96.2h0M198 95h0M198.1 93.2h0M198.2 91.5h0M198.2 91.9h0M198.3 90.7h0M198.3 88.8h0M198.4 87.5h0M198.5 87.2h0M198.5 86.3h0M198.6 84.7h0M198.7 82.8h0M198.7 82.1h0M198.8 80.6h0M198.8 79.8h0M198.9 78.7h0M199 77.2h0M199 76.4h0M199.1 75.1h0M199.1 76.1h0M199.2 76.4h0M199.3 76.4h0M199.3 77.2h0M199.4 77.9h0M199.4 77.8h0M199.5 78.3h0M199.6 79h0M199.6 79.8h0M199.7 79.5h0M199.7 79.3h0M199.8 81.3h0M199.9 82.1h0M199.9 82.2h0M200 82.8h0M200.1 83.4h0M200.1 83.8h0M200.2 83.3h0M200.2 83.8h0M200.3 84h0M200.4 85.1h0M200.4 86.5h0M200.5 86.5h0M200.5 88h0M200.6 88.7h0M200.7 89.8h0M200.7 89.4h0M200.8 90.3h0M200.8 91.7h0M200.9 92.4h0M201 93h0M201 93.7h0M201.1 94.1h0M201.1 95.3h0M201.2 95.9h0M206.1 103h0M206.2 103.7h0M206.2 103.6h0M206.3 104.5h0M206.3 103.8h0M206.4 103.7h0M206.5 104.6h0M206.5 103.3h0M206.6 101.5h0M206.6 98.8h0M206.7 98h0M206.8 96.1h0M206.8 95h0M206.9 93.6h0M206.9 92h0M207 90.9h0M207.1 88.5h0M207.1 87.6h0M207.2 86.1h0M207.2 85.5h0M207.3 83h0M207.4 82.1h0M207.4 80.5h0M207.5 78.2h0M207.6 77.9h0M207.6 75.9h0M207.7 73.9h0M207.7 72.1h0M207.8 71.6h0M207.9 69.6h0M207.9 68.2h0M208 67.5h0M208 68.7h0M208.1 69.2h0M208.2 68.4h0M208.2 69.4h0M208.3 70.9h0M208.3 71.2h0M208.4 71.7h0M208.5 72.3h0M208.5 72.8h0M208.6 72.2h0M208.6 74.6h0M208.7 74.7h0M208.8 75.9h0M208.8 76.5h0M208.9 77.3h0M209 77.6h0M209 78.4h0M209.1 78.6h0M209.1 79.3h0M209.2 80.7h0M209.3 80.1h0M209.3 82.9h0M209.4 83.1h0M209.4 83.1h0M209.5 85.9h0M209.6 85.7h0M209.6 86.7h0M209.7 88.4h0M209.7 90.7h0M209.8 89.9h0M209.9 91.7h0M209.9 93.2h0M210 93.2h0M210 95.4h0M210.1 95.4h0M214.2 104.7h0M214.3 103.7h0M214.3 102.9h0M214.4 103.3h0M214.4 104h0M214.5 103.8h0M214.6 104.5h0M214.6 102.6h0M214.7 101.4h0M214.7 100.4h0M214.8 99.2h0M214.9 96.1h0M214.9 95.6h0M215 94.8h0M215 93.1h0M215.1 90.7h0M215.2 89.3h0M215.2 89.1h0M215.3 87.3h0M215.3 85.5h0M215.4 84.8h0M215.5 83.8h0M215.5 82.3h0M215.6 80.4h0M215.7 79.4h0M215.7 78.3h0M215.8 76.4h0M215.8 74.4h0M215.9 73.1h0M216 72.2h0M216 69.7h0M216.1 69.7h0M216.1 69.9h0M216.2 71.2h0M216.3 70.7h0M216.3 71.8h0M216.4 73.2h0M216.4 73.4h0M216.5 72.6h0M216.6 73.7h0M216.6 74.7h0M216.7 74.9h0M216.7 76.8h0M216.8 77h0M216.9 77.9h0M216.9 78.2h0M217 78.6h0M217.1 78.7h0M217.1 79.1h0M217.2 79.7h0M217.2 79.4h0M217.3 81.7h0M217.4 82.5h0M217.4 83.1h0M217.5 84.8h0M217.5 85.5h0M217.6 86.1h0M217.7 87.7h0M217.7 88h0M217.8 88.6h0M217.8 90.8h0M217.9 92.4h0M218 92.1h0M218 93.6h0M218.1 94h0M218.1 95.3h0M218.2 95.8h0M223.3 103.7h0M223.4 104.5h0M223.4 103.8h0M223.5 103.9h0M223.5 105h0M223.6 104.8h0M223.7 104.1h0M223.7 103.3h0M223.8 101.9h0M223.8 101.1h0M223.9 99.1h0M224 99.5h0M224 98.2h0M224.1 96.9h0M224.1 96h0M224.2 94.6h0M224.3 93.3h0M224.3 92.8h0M224.4 90.9h0M224.4 89.5h0M224.5 88.5h0M224.6 87h0M224.6 86.3h0M224.7 85.7h0M224.8 83.9h0M224.8 83.2h0M224.9 81.6h0M224.9 81.4h0M225 81.2h0M225.1 79.7h0M225.1 78h0M225.2 76.8h0M225.2 77.5h0M225.3 77.4h0M225.4 78.7h0M225.4 78.9h0M225.5 78.6h0M225.5 79.4h0M225.6 79.8h0M225.7 79.7h0M225.7 80.2h0M225.8 81.4h0M225.8 81.4h0M225.9 82.6h0M226 82.3h0M226 82.6h0M226.1 83.9h0M226.2 82.9h0M226.2 83.1h0M226.3 84.1h0M226.3 84.4h0M226.4 84.6h0M226.5 85.9h0M226.5 86.1h0M226.6 87h0M226.6 88.5h0M226.7 88.9h0M226.8 89.4h0M226.8 89.3h0M226.9 90.4h0M226.9 90.7h0M227 91.9h0M227.1 92.9h0M227.1 92.1h0M227.2 92.5h0M227.2 94.2h0M227.3 95.1h0M232.1 103.6h0M232.2 103.5h0M232.2 103.2h0M232.3 103.3h0M232.3 103.5h0M232.4 103.9h0M232.5 104.1h0M232.5 102.1h0M232.6 102.4h0M232.6 101.8h0M232.7 100.2h0M232.8 100.4h0M232.8 98.9h0M232.9 98.1h0M232.9 97.6h0M233 96.7h0M233.1 96.7h0M233.1 95.9h0M233.2 94.9h0M233.2 94.1h0M233.3 93.4h0M233.4 92.5h0M233.4 92.2h0M233.5 91.9h0M233.6 90.3h0M233.6 89.8h0M233.7 88.8h0M233.7 87.6h0M233.8 87.6h0M233.9 86.7h0M233.9 86.4h0M234 85.1h0M234 85.5h0M234.1 85.8h0M234.2 85.8h0M234.2 86.7h0M234.3 86.3h0M234.3 86.6h0M234.4 86.4h0M234.5 87.8h0M234.5 87.4h0M234.6 86.8h0M234.6 87.9h0M234.7 88.2h0M234.8 87.6h0M234.8 87.6h0M234.9 88.6h0M235 89.1h0M235 89.3h0M235.1 89.5h0M235.1 89.8h0M235.2 90h0M235.3 90.1h0M235.3 90.5h0M235.4 90.7h0M235.4 91.2h0M235.5 91.9h0M235.6 91.6h0M235.6 92.1h0M235.7 92.7h0M235.7 93h0M235.8 93.1h0M235.9 93.6h0M235.9 94h0M236 94h0M236 94.3h0M236.1 95.1h0M240.9 103.7h0M241 103.6h0M241 103.7h0M241.1 103.2h0M241.1 103h0M241.2 104.2h0M241.3 103.8h0M241.3 102.7h0M241.4 102.4h0M241.4 101.6h0M241.5 100.6h0M241.6 99.5h0M241.6 98.9h0M241.7 98.7h0M241.7 97.8h0M241.8 97.3h0M241.9 96.5h0M241.9 96.2h0M242 95.7h0M242 94.5h0M242.1 93.3h0M242.2 92.7h0M242.2 92.9h0M242.3 91.6h0M242.4 91.1h0M242.4 90.1h0M242.5 89.8h0M242.5 88.5h0M242.6 88.1h0M242.7 87.2h0M242.7 86.4h0M242.8 86.6h0M242.8 86.2h0M242.9 85.9h0M243 86.6h0M243 86.5h0M243.1 86.9h0M243.1 87.5h0M243.2 87.5h0M243.3 87.4h0M243.3 87.6h0M243.4 87.7h0M243.4 88.8h0M243.5 88.4h0M243.6 89.4h0M243.6 89.2h0M243.7 89.4h0M243.8 89.4h0M243.8 89.7h0M243.9 89.6h0M243.9 90.5h0M244 90.3h0M244.1 90.8h0M244.1 91.3h0M244.2 92h0M244.2 91.8h0M244.3 92.3h0M244.4 92.5h0M244.4 93.1h0M244.5 93.6h0M244.5 93.7h0M244.6 94.1h0M244.7 94.3h0M244.7 94.3h0M244.8 95.5h0M244.8 95h0M244.9 97h0M250.3 104.4h0M250.3 104.7h0M250.4 104h0M250.5 103.8h0M250.5 104.2h0M250.6 104.2h0M250.6 104.9h0M250.7 102.9h0M250.8 102.8h0M250.8 101.3h0M250.9 101h0M251 100h0M251 99.2h0M251.1 98.9h0M251.1 96.4h0M251.2 97.2h0M251.3 95.7h0M251.3 95.2h0M251.4 94.2h0M251.4 92.8h0M251.5 93.1h0M251.6 91.7h0M251.6 90.6h0M251.7 89.9h0M251.7 89h0M251.8 88.6h0M251.9 88.1h0M251.9 87.1h0M252 86h0M252 84.7h0M252.1 84.1h0M252.2 82.7h0M252.2 83.6h0M252.3 83.9h0M252.4 84.2h0M252.4 85.2h0M252.5 84.7h0M252.5 85.6h0M252.6 85.6h0M252.7 85h0M252.7 86.6h0M252.8 86.4h0M252.8 86.6h0M252.9 87h0M253 87.4h0M253 87.9h0M253.1 87.3h0M253.1 89.1h0M253.2 89h0M253.3 88.4h0M253.3 89.1h0M253.4 89.9h0M253.5 90.4h0M253.5 90.7h0M253.6 90.1h0M253.6 91.4h0M253.7 92.5h0M253.8 92.5h0M253.8 93.3h0M253.9 93h0M253.9 94h0M254 94.1h0M254.1 95h0M254.1 94.8h0M254.2 95.9h0M254.2 96.5h0M254.3 97.5h0M257.8 104.1h0M257.9 104.9h0M257.9 104.8h0M258 104.8h0M258 104.6h0M258.1 104.5h0M258.2 103.9h0M258.2 103.4h0M258.3 102.7h0M258.3 101.2h0M258.4 101.1h0M258.5 100.4h0M258.5 98.6h0M258.6 97.9h0M258.6 96.9h0M258.7 95.7h0M258.8 95.2h0M258.8 94.2h0M258.9 93h0M258.9 91.9h0M259 90.8h0M259.1 90.2h0M259.1 89.2h0M259.2 89.3h0M259.3 86.9h0M259.3 87.1h0M259.4 85.5h0M259.4 83.5h0M259.5 83.7h0M259.6 83.3h0M259.6 81h0M259.7 80.9h0M259.7 81.2h0M259.8 81.6h0M259.9 81.6h0M259.9 82h0M260 82.8h0M260 82.8h0M260.1 84h0M260.2 83.8h0M260.2 84.7h0M260.3 84.6h0M260.3 85.6h0" stroke="#ff7f0e" stroke-width="0.7" stroke-linecap="round"/>
</g>
<rect x="28.5" y="4.5" width="243.0" height="115.0" fill="none" stroke="#a8a8a8" stroke-width="0.9"/>
<path d="M26.7 113.90H28.5M26.7 92.88H28.5M26.7 71.86H28.5M26.7 50.84H28.5M26.7 29.82H28.5M26.7 8.80H28.5M37.00 119.5V121.3M89.62 119.5V121.3M142.24 119.5V121.3M194.86 119.5V121.3M247.48 119.5V121.3" stroke="#a8a8a8" stroke-width="0.7"/>
<g font-size="5.3" fill="#1e1e1e">
<text x="25.5" y="115.80" text-anchor="end">0</text>
<text x="25.5" y="94.78" text-anchor="end">200</text>
<text x="25.5" y="73.76" text-anchor="end">400</text>
<text x="25.5" y="52.74" text-anchor="end">600</text>
<text x="25.5" y="31.72" text-anchor="end">800</text>
<text x="25.5" y="10.70" text-anchor="end">1000</text>
<text x="37.00" y="125.8" text-anchor="middle">2024-02-03</text>
<text x="89.62" y="125.8" text-anchor="middle">2024-02-09</text>
<text x="142.24" y="125.8" text-anchor="middle">2024-02-15</text>
<text x="194.86" y="125.8" text-anchor="middle">2024-02-21</text>
<text x="247.48" y="125.8" text-anchor="middle">2024-02-27</text>
</g>
<text x="150.00" y="132.7" font-size="5.8" fill="#1e1e1e" text-anchor="middle">Timestamp</text>
<text transform="translate(8 62.00) rotate(-90)" font-size="5.8" fill="#1e1e1e" text-anchor="middle" textLength="51.5" lengthAdjust="spacing">Irradiance (<tspan font-style="italic">W</tspan>/<tspan font-style="italic" dx="0.3">m</tspan><tspan font-size="4.06" dx="0.3" dy="-2.4">2</tspan><tspan dx="0.5" dy="2.4">)</tspan></text>
<rect x="95.29" y="6.4" width="109.33" height="17.4" rx="1.2" fill="#fff" fill-opacity="0.8" stroke="#d6d6d6" stroke-width="0.6"/>
<path d="M97.3 11.4H109.1" stroke="#1f77b4" stroke-width="0.8"/>
<path d="M103.2 11.4h0" stroke="#1f77b4" stroke-width="1.8" stroke-linecap="round"/>
<path d="M97.3 19.4H109.1" stroke="#ff7f0e" stroke-width="0.8"/>
<g font-size="5.65" fill="#1e1e1e"><text x="113.6" y="13.7">True winter (10 min resampled)</text><text x="113.6" y="21.7">Forecasts (6h ahead)</text></g>
<text transform="translate(139.1 155.4) scale(0.92 1)" class="cap" font-size="14.5" fill="#111" text-anchor="middle">(a)</text>
<clipPath id="cb"><rect x="304.5" y="4.5" width="243.0" height="115.0"/></clipPath>
<g clip-path="url(#cb)">
<polyline points="315.6,94.4 315.6,90.5 315.7,92.1 315.7,100.6 315.8,80.9 315.8,72 315.9,93 316,84.1 316,77.7 316.1,92.7 316.1,66.4 316.2,87 316.2,83.2 316.3,80.2 316.4,96 316.4,93.7 316.5,100.6 316.5,88.7 316.6,72.1 316.6,72.9 316.7,93.1 316.8,94.8 316.8,76.5 316.9,86.9 316.9,98 317,90.2 317,97.5 317.1,87.9 317.2,83.7 317.2,96.1 317.3,98.1 317.3,92.5 317.4,97.7 317.4,80.1 317.5,90.6 317.6,102 317.6,93.3 317.7,99.7 317.7,91.7 317.8,98.4 317.8,103.5 317.9,96.4 318,96.7 318,89.8 318.1,99.5 318.1,99.4 318.2,99.6 318.2,107.3 321.6,112.6 321.6,110.6 321.7,111.3 321.7,112.5 321.8,108.8 321.8,112.1 321.9,113.3 322,111.2 322,113.4 322.1,112.6 322.1,113.5 322.2,113 322.2,100.9 322.3,99.1 322.4,97.3 322.4,63.9 322.5,97.1 322.5,91.9 322.6,68.6 322.6,76.5 322.7,73.6 322.8,65 322.8,65.8 322.9,62.4 322.9,65.4 323,79.4 323,66.5 323.1,34.4 323.2,33.6 323.2,68.7 323.3,65.8 323.3,52.4 323.4,59.9 323.4,66 323.5,60.4 323.6,35.2 323.6,56.8 323.7,10.9 323.7,56 323.8,72.5 323.8,52.5 323.9,52.9 324,69.3 324,65.2 324.1,57.2 324.1,15.9 324.2,41.4 324.2,45.2 324.3,40.4 324.4,21.6 324.4,51.5 324.5,62.8 324.5,64.7 324.6,77.8 324.6,54.9 324.7,73.5 324.8,36.5 324.8,76 324.9,36.5 324.9,45 325,47.4 325,42 325.1,60.4 325.2,69.4 325.2,65.9 325.3,78.8 325.3,77 325.4,75.3 325.4,76.7 325.5,81.7 325.6,80.8 325.6,83.6 325.7,85.3 325.7,70.9 325.8,92.8 325.8,93.5 329.7,111.8 329.7,113 329.8,112.9 329.8,111.3 329.9,113.4 329.9,112.4 330,113.1 330.1,113.7 330.1,111.9 330.2,113.7 330.2,110.2 330.3,110.9 330.3,101.1 330.4,94.1 330.5,85.7 330.5,95 330.6,86.9 330.6,77.1 330.7,87 330.7,68 330.8,63.4 330.9,50.8 330.9,82.1 331,67 331,78.8 331.1,61 331.1,81 331.2,31.4 331.3,61.5 331.3,48.1 331.4,69.7 331.4,43.7 331.5,48.2 331.5,66.5 331.6,55.3 331.7,48 331.7,76.6 331.8,18 331.8,55 331.9,57.1 331.9,67.9 332,42.1 332.1,50.8 332.1,73.6 332.2,30.8 332.2,36.2 332.3,64.5 332.3,76.1 332.4,75.4 332.5,54.6 332.5,47.6 332.6,53.8 332.6,55.9 332.7,34.5 332.7,55.2 332.8,33.1 332.9,71.1 332.9,68.5 333,61.2 333,64.5 333.1,61.6 333.1,56.7 333.2,78.4 333.3,58.1 333.3,51.8 333.4,49.8 333.4,73.5 333.5,73.9 333.5,89 333.6,59.4 333.7,63.2 333.7,80 333.8,79.3 333.8,99.1 333.9,91.9 333.9,104.6 338.5,113.6 338.5,113.4 338.6,113.8 338.6,113.3 338.7,113 338.7,112.9 338.8,112.6 338.9,112.8 338.9,113.3 339,113.3 339,113.1 339.1,113.9 339.1,109.9 339.2,101 339.3,103.3 339.3,104.5 339.4,101.3 339.4,98.5 339.5,100.4 339.5,103.7 339.6,92.6 339.7,87.7 339.7,97 339.8,92.5 339.8,89.5 339.9,99.1 339.9,100.1 340,90.1 340.1,82.2 340.1,96.9 340.2,101.5 340.2,81.9 340.3,89.2 340.3,85.2 340.4,93.3 340.5,77.6 340.5,96.9 340.6,71.5 340.6,87.9 340.7,94.8 340.7,87.4 340.8,79.4 340.9,95.6 340.9,73.5 341,92 341,87.8 341.1,79.8 341.1,89.6 341.2,87.1 341.3,86.5 341.3,87.4 341.4,92.7 341.4,91.6 341.5,75.8 341.5,102.4 341.6,89.1 341.7,90.6 341.7,87.4 341.8,82 341.8,94.4 341.9,86.1 341.9,102.1 342,101.1 342.1,101.1 342.1,100.7 342.2,92.4 342.2,98 342.3,102.4 342.3,95.1 342.4,95.9 342.5,97.2 342.5,97.2 342.6,101.1 342.6,107.3 342.7,105.5 342.7,108.5 346.9,112.2 346.9,110.9 347,112.5 347,110.6 347.1,113 347.1,111.7 347.2,112.6 347.3,112.6 347.3,113.1 347.4,112.1 347.4,113.3 347.5,113.7 347.5,99.4 347.6,91.2 347.7,92.1 347.7,93.8 347.8,72.6 347.8,94.9 347.9,79.1 347.9,76.2 348,79.5 348.1,80.3 348.1,75 348.2,82.3 348.2,81.6 348.3,82.8 348.3,69.1 348.4,87.3 348.5,74.6 348.5,83 348.6,42.6 348.6,65.5 348.7,65.2 348.7,70 348.8,60.2 348.9,60.3 348.9,75.1 349,58.1 349,32.5 349.1,49.4 349.1,72 349.2,49.6 349.3,69.1 349.3,58.2 349.4,46.6 349.4,54.6 349.5,61.5 349.5,45 349.6,68 349.7,69.7 349.7,62.2 349.8,59.3 349.8,58.3 349.9,63.9 349.9,63.8 350,60.4 350.1,63.8 350.1,73.7 350.2,79 350.2,69.9 350.3,69.1 350.3,79.5 350.4,65.2 350.5,54.5 350.5,57.3 350.6,82.3 350.6,78.4 350.7,91.8 350.7,86.9 350.8,90.9 350.9,86 350.9,71.3 351,94.4 351,87.7 351.1,86.8 351.1,102 353.8,111.8 353.8,109.4 353.9,113.7 354,112.1 354,112.4 354.1,110.8 354.1,112.6 354.2,110.1 354.2,111.6 354.3,111.1 354.4,111.9 354.4,110.2 354.5,97.5 354.5,102 354.6,96 354.6,75.9 354.7,88.8 354.8,70.4 354.8,74.6 354.9,74.6 354.9,68.5 355,74.7 355,51.3 355.1,43.6 355.2,69.5 355.2,60.2 355.3,49.9 355.3,67 355.4,77.3 355.4,48.8 355.5,79.8 355.6,73.6 355.6,58.6 355.7,69.6 355.7,51.4 355.8,10.9 355.8,49.3 355.9,47 356,46.1 356,50.7 356.1,74 356.1,49.6 356.2,15.9 356.2,20.2 356.3,55.3 356.4,55.6 356.4,53.6 356.5,60.6 356.5,76.7 356.6,23.4 356.6,38.7 356.7,52 356.8,64.6 356.8,47.8 356.9,63.9 356.9,67.6 357,53.9 357,67.1 357.1,50.5 357.2,72.2 357.2,53.5 357.3,75.2 357.3,65 357.4,90.8 357.4,56.5 357.5,58.5 357.6,43.5 357.6,70.6 357.7,65.1 357.7,70.3 357.8,69.9 357.8,86.1 357.9,94.1 358,72.6 358,86.8 358.1,92 362.5,111.5 362.5,113.3 362.6,110.4 362.6,112.2 362.7,112.6 362.7,110 362.8,112.9 362.9,110 362.9,113.4 363,112.5 363,113.2 363.1,111.2 363.1,97.9 363.2,91.2 363.3,94.3 363.3,96.7 363.4,83.4 363.4,77.4 363.5,80.3 363.5,79.3 363.6,55.7 363.7,79.5 363.7,57.7 363.8,67.2 363.8,68 363.9,41.2 363.9,41.1 364,77.6 364.1,59.6 364.1,43.7 364.2,77.2 364.2,28.1 364.3,56.4 364.3,53.2 364.4,74.8 364.5,54.8 364.5,45.9 364.6,21 364.6,70.3 364.7,61.6 364.7,44.8 364.8,46 364.9,53.2 364.9,65.4 365,75.5 365,67 365.1,29.4 365.1,58.4 365.2,42.3 365.3,40.6 365.3,44.8 365.4,32.5 365.4,61.7 365.5,61.3 365.5,71.5 365.6,73.3 365.7,65.1 365.7,65.8 365.8,71.8 365.8,71 365.9,88 365.9,75.7 366,81.2 366.1,70.2 366.1,71.4 366.2,63.4 366.2,84.1 366.3,80.9 366.3,80 366.4,58.9 366.5,70.4 366.5,84.9 366.6,83.6 366.6,85.3 366.7,89 366.7,102.9 371.3,113.2 371.3,113.7 371.4,112.2 371.4,113.3 371.5,112.8 371.5,112.3 371.6,112.2 371.7,112 371.7,111.6 371.8,112.8 371.8,111.6 371.9,113.1 371.9,101 372,101.6 372.1,99.6 372.1,98.3 372.2,93.5 372.2,88.6 372.3,89.9 372.3,100.4 372.4,99.1 372.5,87.8 372.5,95.4 372.6,70.7 372.6,81.2 372.7,77.4 372.7,90.1 372.8,64.2 372.9,86.7 372.9,79.4 373,83.6 373,85.3 373.1,84.2 373.1,83.3 373.2,77.5 373.3,87.1 373.3,71.2 373.4,53.3 373.4,82.8 373.5,74.6 373.5,85.7 373.6,73.3 373.7,71.8 373.7,81.2 373.8,58.8 373.8,91.5 373.9,83.8 373.9,84.2 374,74.3 374.1,66.9 374.1,56.2 374.2,77.3 374.2,87.4 374.3,80.8 374.3,76.5 374.4,79.9 374.5,81.5 374.5,76.8 374.6,65.5 374.6,87.7 374.7,80.4 374.7,89.2 374.8,96.6 374.9,85.5 374.9,75.4 375,90.8 375,80.8 375.1,88.9 375.1,89.9 375.2,78.6 375.3,101.3 375.3,91.8 375.4,99.1 375.4,99.2 375.5,100.1 375.5,105.6 378.9,110.2 378.9,112.3 379,112 379,111.7 379.1,112 379.1,113 379.2,113 379.3,111.2 379.3,112.5 379.4,111.8 379.4,112.9 379.5,112.4 379.5,91.1 379.6,93.5 379.7,86.6 379.7,93.6 379.8,76.5 379.8,69 379.9,90.3 379.9,76.3 380,82.4 380.1,76.5 380.1,72.1 380.2,66.2 380.2,70.3 380.3,76.7 380.3,67.9 380.4,69.1 380.5,79.9 380.5,70.8 380.6,70.9 380.6,74.4 380.7,72.7 380.7,51.7 380.8,31.3 380.9,52.8 380.9,36.9 381,19.9 381,55.9 381.1,61.4 381.1,47.9 381.2,52.9 381.3,79.4 381.3,76 381.4,56.4 381.4,82.2 381.5,62.2 381.5,48.8 381.6,44 381.7,47.2 381.7,69.9 381.8,68.5 381.8,48.6 381.9,57.7 381.9,39.8 382,48.1 382.1,74.7 382.1,69.1 382.2,84.5 382.2,48.8 382.3,84.1 382.3,81.6 382.4,64.3 382.5,71 382.5,71.9 382.6,58.6 382.6,84.6 382.7,89.3 382.7,74.8 382.8,88.4 382.9,86.3 382.9,93.8 383,89.9 383,89.1 383.1,95.4 383.1,101.7 387.3,111.2 387.3,111.9 387.4,110.3 387.4,112.6 387.5,112.7 387.5,113.1 387.6,111.6 387.7,109.4 387.7,111.2 387.8,113.2 387.8,110.8 387.9,110.5 387.9,100.5 388,87.4 388.1,73.1 388.1,71.3 388.2,90 388.2,75.7 388.3,86.6 388.3,52.3 388.4,77.5 388.5,49.2 388.5,65.7 388.6,78.3 388.6,66.8 388.7,67.4 388.7,65.1 388.8,89.4 388.9,59.7 388.9,63.1 389,24.7 389,31 389.1,49.1 389.1,52 389.2,66.4 389.3,58.8 389.3,27.1 389.4,9.9 389.4,72.8 389.5,51 389.5,51.8 389.6,54.8 389.7,31.1 389.7,48.7 389.8,61.2 389.8,14.8 389.9,39.2 389.9,68.8 390,77.8 390.1,30.7 390.1,71.3 390.2,68.2 390.2,49.2 390.3,59.8 390.3,58.8 390.4,24.4 390.5,55.3 390.5,58.8 390.6,54.8 390.6,56.7 390.7,82.4 390.7,55.9 390.8,59.1 390.9,51.9 390.9,76.4 391,76.2 391,64.3 391.1,46.2 391.1,73 391.2,78.7 391.3,67.3 391.3,73.7 391.4,81.9 391.4,84.8 391.5,100.2 391.5,100.7 395.3,112.5 395.3,112.1 395.4,110.8 395.4,112.5 395.5,111.3 395.5,111.4 395.6,110 395.7,111.4 395.7,109.1 395.8,112.8 395.8,111.4 395.9,112.1 395.9,87.8 396,82 396.1,86.2 396.1,84.2 396.2,89.7 396.2,68.4 396.3,72.7 396.3,71.7 396.4,59.9 396.5,57.4 396.5,77.2 396.6,82.5 396.6,56 396.7,64.7 396.7,73.9 396.8,65.4 396.9,30.3 396.9,60.1 397,46 397,44.6 397.1,71.3 397.1,32.9 397.2,69 397.3,78.6 397.3,81.9 397.4,14.9 397.4,21.7 397.5,56.1 397.5,57 397.6,50.2 397.7,61.4 397.7,41.1 397.8,25.4 397.8,40 397.9,46.2 397.9,52 398,74.5 398.1,38.7 398.1,57.5 398.2,61.5 398.2,84 398.3,74.5 398.3,44.8 398.4,67.2 398.5,55.9 398.5,58.8 398.6,77.5 398.6,28.3 398.7,33.4 398.7,52.7 398.8,66 398.9,82.5 398.9,79.9 399,76.7 399,63.9 399.1,68.5 399.1,90.7 399.2,68.8 399.3,55.8 399.3,81.1 399.4,81.9 399.4,87.3 399.5,83.9 399.5,95 403.4,111.4 403.4,111.6 403.5,113.3 403.5,110.7 403.6,110.8 403.6,112.2 403.7,112.5 403.8,113.8 403.8,113.3 403.9,111.8 403.9,111.9 404,112.2 404,94.4 404.1,94 404.2,82.1 404.2,82.3 404.3,80.2 404.3,81.3 404.4,73.5 404.4,78.9 404.5,79.4 404.6,62.7 404.6,74.1 404.7,70.4 404.7,51 404.8,80.9 404.8,66.3 404.9,65.4 405,68.3 405,64 405.1,39.7 405.1,49.8 405.2,50.2 405.2,49 405.3,55.7 405.4,44.3 405.4,77 405.5,17.5 405.5,45.8 405.6,37.2 405.6,32.9 405.7,46.8 405.8,70.5 405.8,24.8 405.9,22.6 405.9,22.1 406,58.8 406,50 406.1,83.5 406.2,74.3 406.2,68.3 406.3,81.8 406.3,73.1 406.4,43.6 406.4,28.3 406.5,83.4 406.6,46.4 406.6,50.9 406.7,58.3 406.7,37 406.8,50 406.8,59.9 406.9,59.8 407,61 407,79 407.1,89 407.1,60.8 407.2,79.3 407.2,80.2 407.3,81.2 407.4,72.2 407.4,75.9 407.5,78.4 407.5,97.7 407.6,96.1 407.6,102.5 411.7,113.6 411.7,111.4 411.8,112.1 411.8,111.8 411.9,109.5 411.9,113.1 412,113.4 412.1,110.9 412.1,111.8 412.2,112.1 412.2,108.6 412.3,111.1 412.3,98.8 412.4,87.5 412.5,87.7 412.5,86 412.6,80.9 412.6,82.1 412.7,53.8 412.7,90.2 412.8,73.8 412.9,66.4 412.9,63.8 413,73.8 413,60.6 413.1,84.1 413.1,44.7 413.2,55.8 413.3,71.7 413.3,59.4 413.4,76.7 413.4,65.4 413.5,22.3 413.5,79.2 413.6,64.3 413.7,64.2 413.7,45.1 413.8,13.4 413.8,47.5 413.9,66 413.9,50.9 414,54 414.1,53.2 414.1,49.5 414.2,74.4 414.2,40.1 414.3,47.1 414.3,73.4 414.4,37.6 414.5,32.3 414.5,41.7 414.6,69.4 414.6,56.7 414.7,48.4 414.7,67.1 414.8,48.9 414.9,49.8 414.9,59.6 415,64.4 415,50.6 415.1,52.6 415.1,86.8 415.2,65.9 415.3,59.8 415.3,70.6 415.4,69.1 415.4,68 415.5,76.7 415.5,84.6 415.6,70.1 415.7,69.1 415.7,82 415.8,90.5 415.8,88 415.9,99.3 415.9,97.5 420.1,112.8 420.1,112.9 420.2,112 420.2,111 420.3,109.9 420.3,113.7 420.4,109.4 420.5,109.9 420.5,112.8 420.6,111.9 420.6,112.3 420.7,112.6 420.7,92 420.8,90.6 420.9,91.9 420.9,94.8 421,83.9 421,74.5 421.1,51.1 421.1,53.4 421.2,85 421.3,52.6 421.3,85.2 421.4,66.5 421.4,38.7 421.5,83.8 421.5,65.2 421.6,78.6 421.7,63 421.7,49.8 421.8,37.9 421.8,58.2 421.9,43.9 421.9,22.6 422,39.8 422.1,59.7 422.1,37.8 422.2,12.3 422.2,40.1 422.3,41.2 422.3,28.9 422.4,76.7 422.5,69.2 422.5,55.6 422.6,70.9 422.6,44.6 422.7,39.1 422.7,26.2 422.8,68.5 422.9,17.6 422.9,36.2 423,63.6 423,43.3 423.1,24.6 423.1,62.5 423.2,74.5 423.3,21.6 423.3,57.8 423.4,39 423.4,48.7 423.5,51.5 423.5,52.3 423.6,60.5 423.7,66.8 423.7,57.2 423.8,65.4 423.8,74.4 423.9,60.6 423.9,64.9 424,83.2 424.1,71.7 424.1,93.2 424.2,78.5 424.2,95.1 424.3,88.7 424.3,98.6 427.8,111.2 427.8,110.5 427.9,113 427.9,112.4 428,112.3 428.1,111.8 428.1,111.1 428.2,112 428.2,110.9 428.3,113.3 428.3,112.8 428.4,113 428.5,101.7 428.5,81.5 428.6,90 428.6,89.8 428.7,63.2 428.7,84.7 428.8,88.2 428.9,86.8 428.9,77.7 429,70 429,84.7 429.1,83.4 429.1,82.1 429.2,75 429.3,31.8 429.3,68.7 429.4,50.3 429.4,53.6 429.5,63 429.5,66.5 429.6,75.8 429.7,71.8 429.7,54.6 429.8,54.9 429.8,15.2 429.9,79.8 429.9,58.8 430,76.9 430.1,44.8 430.1,60.2 430.2,46.1 430.2,22.5 430.3,37 430.3,49.7 430.4,58.5 430.5,52.5 430.5,76.5 430.6,74.9 430.6,64.7 430.7,82.2 430.7,82.3 430.8,79.8 430.9,45.5 430.9,65.5 431,43.9 431,33.6 431.1,39.7 431.1,71.5 431.2,79.6 431.3,59.3 431.3,43.8 431.4,49.8 431.4,65.1 431.5,87.8 431.5,72 431.6,83.4 431.7,78.3 431.7,78.3 431.8,89.2 431.8,80.4 431.9,78.2 431.9,91.5 432,100.4 432.1,103.1 436.5,111.7 436.5,112.6 436.6,110.3 436.6,113.1 436.7,112.1 436.7,111.8 436.8,111.8 436.9,112.7 436.9,113.5 437,112.1 437,111.6 437.1,111.2 437.1,103.9 437.2,91.7 437.3,95.6 437.3,97.5 437.4,98 437.4,86.4 437.5,88 437.5,79.8 437.6,85.5 437.7,77.8 437.7,79.4 437.8,88 437.8,83.2 437.9,76.3 437.9,82.7 438,65.9 438.1,61.9 438.1,86 438.2,55.5 438.2,75.3 438.3,41.7 438.3,84.9 438.4,36.1 438.5,78.1 438.5,41.4 438.6,24.2 438.6,66.1 438.7,66.6 438.7,60.6 438.8,59.8 438.9,66.4 438.9,60.6 439,57.1 439,60.7 439.1,40.1 439.1,76.4 439.2,74.5 439.3,38.6 439.3,45.7 439.4,60.1 439.4,76.1 439.5,81.5 439.5,54.7 439.6,71.4 439.7,48.4 439.7,75.1 439.8,42.9 439.8,56.2 439.9,69 439.9,67.5 440,48.2 440.1,64.3 440.1,55.3 440.2,60.4 440.2,85.5 440.3,72.5 440.3,80.4 440.4,62.9 440.5,95.5 440.5,95 440.6,91.5 440.6,81.7 440.7,99.3 440.7,92.4 444.6,109.9 444.6,112.6 444.7,110.2 444.7,112.7 444.8,111.8 444.8,112.1 444.9,111.9 445,111 445,112.9 445.1,112.2 445.1,109.1 445.2,109.9 445.2,99.9 445.3,90.2 445.4,95.5 445.4,86.4 445.5,88.1 445.5,87.7 445.6,80 445.6,78.1 445.7,75.2 445.8,68.1 445.8,77.1 445.9,64 445.9,82.1 446,79.6 446,58.7 446.1,81.1 446.2,59.4 446.2,82.9 446.3,42.8 446.3,53 446.4,50.5 446.4,70.2 446.5,87.1 446.6,54.9 446.6,71.1 446.7,24.2 446.7,81.3 446.8,84.5 446.8,62.1 446.9,58.6 447,58 447,72.7 447.1,51.4 447.1,52.5 447.2,28.5 447.2,72.1 447.3,39.9 447.4,69.5 447.4,46.7 447.5,64 447.5,64.1 447.6,55.5 447.6,60.3 447.7,76 447.8,87.5 447.8,62.5 447.9,76.9 447.9,65.8 448,72.2 448,42.3 448.1,55.9 448.2,83.8 448.2,74.1 448.3,93.7 448.3,73.3 448.4,76.4 448.4,79.9 448.5,87.5 448.6,80.6 448.6,83.9 448.7,93.5 448.7,95.5 448.8,89.5 448.8,103.3 452.9,112 452.9,112.1 453,113.4 453,112.2 453.1,111 453.1,112.5 453.2,112.8 453.3,111.7 453.3,113.5 453.4,109.9 453.4,113 453.5,112.7 453.5,97.3 453.6,94.5 453.7,86.6 453.7,90 453.8,82.4 453.8,84.4 453.9,92.2 453.9,72.7 454,86.9 454.1,84.1 454.1,91 454.2,66.4 454.2,71.8 454.3,64.6 454.3,65.8 454.4,70 454.5,51.5 454.5,75 454.6,76.3 454.6,33.6 454.7,62 454.7,51.4 454.8,78.2 454.9,44.3 454.9,60.8 455,24.2 455,85.4 455.1,55.1 455.1,38.2 455.2,57.9 455.3,78.5 455.3,55.7 455.4,58.6 455.4,52.1 455.5,31.4 455.5,60.5 455.6,64.3 455.7,70.2 455.7,56.5 455.8,51.7 455.8,66.5 455.9,55.7 455.9,82.2 456,69.6 456.1,32.8 456.1,62.2 456.2,69.3 456.2,84 456.3,58.7 456.3,41.6 456.4,87.6 456.5,90.3 456.5,61.4 456.6,72.8 456.6,87.5 456.7,78.6 456.7,74.1 456.8,92.2 456.9,78.9 456.9,81.5 457,81.4 457,91.4 457.1,89.7 457.1,100.9 461.8,111.8 461.8,113.4 461.9,111.7 461.9,113.5 462,113.4 462,112.6 462.1,113.2 462.2,112.9 462.2,111.7 462.3,111.9 462.3,113.8 462.4,113.2 462.4,108.8 462.5,98.4 462.6,104.7 462.6,100.3 462.7,104.9 462.7,96 462.8,96.6 462.8,98.4 462.9,97.6 463,95.4 463,97.4 463.1,89.7 463.1,98.4 463.2,94.3 463.2,88.5 463.3,94.3 463.4,92.7 463.4,85.5 463.5,91.6 463.5,95.3 463.6,85.8 463.6,74.8 463.7,80.4 463.8,91.2 463.8,85.6 463.9,70.7 463.9,97.3 464,84.7 464,100.2 464.1,81.4 464.2,85.7 464.2,88.7 464.3,84.5 464.3,77.4 464.4,91.7 464.4,95.8 464.5,86.2 464.6,81 464.6,92.2 464.7,82.7 464.7,72.8 464.8,75.2 464.8,91 464.9,76.3 465,83.1 465,91 465.1,89 465.1,81.2 465.2,82.1 465.2,88.5 465.3,90.9 465.4,96.4 465.4,85.9 465.5,87.5 465.5,95.4 465.6,100.4 465.6,92.7 465.7,96.5 465.8,88.8 465.8,98.5 465.9,107.2 465.9,102.2 466,103.2 466,108.1 468.9,112.4 468.9,112.3 469,112.7 469,113.4 469.1,113 469.2,113.1 469.2,112.6 469.3,112.7 469.3,113 469.4,113.7 469.4,111.9 469.5,111.7 469.6,108.2 469.6,99.8 469.7,98.4 469.7,92.9 469.8,93.3 469.8,93 469.9,95.3 470,97.9 470,95.6 470.1,94.3 470.1,83.3 470.2,85.3 470.2,96 470.3,77.8 470.4,85.8 470.4,78.6 470.5,83.5 470.5,68.9 470.6,76.1 470.6,82.4 470.7,81.8 470.8,67.2 470.8,90.4 470.9,66.5 470.9,62.5 471,57 471,73.3 471.1,84.3 471.2,76.8 471.2,84.3 471.3,84.7 471.3,86.2 471.4,68.1 471.4,73 471.5,73 471.6,68.4 471.6,70.3 471.7,78.8 471.7,84.8 471.8,80.8 471.8,66.7 471.9,74.1 472,83.8 472,79.9 472.1,83.5 472.1,64.8 472.2,85.7 472.2,80.1 472.3,85.6 472.4,85.9 472.4,89.5 472.5,80.9 472.5,85.9 472.6,84.6 472.6,90.2 472.7,95 472.8,101 472.8,92.2 472.9,100.2 472.9,91.5 473,96 473,101.7 473.1,99.8 473.2,103.7 477.4,112.5 477.4,111.2 477.5,113.2 477.5,110.7 477.6,111.5 477.6,113.1 477.7,112.2 477.8,112.4 477.8,112.2 477.9,113 477.9,112.1 478,112.7 478,94.5 478.1,95.7 478.2,75.2 478.2,87.6 478.3,77.3 478.3,89.1 478.4,90 478.4,82.6 478.5,59.2 478.6,87.4 478.6,70.7 478.7,89.3 478.7,66.9 478.8,89.4 478.8,72.7 478.9,64 479,81.1 479,64.5 479.1,82.5 479.1,56.5 479.2,70.7 479.2,56.5 479.3,83.4 479.4,66.3 479.4,57.7 479.5,25.2 479.5,67.9 479.6,67.1 479.6,69 479.7,63.9 479.8,68.4 479.8,65.3 479.9,76 479.9,53.9 480,78.6 480,33 480.1,43 480.2,52.5 480.2,80.5 480.3,63.2 480.3,67.2 480.4,40.9 480.4,55.4 480.5,74.4 480.6,47.5 480.6,80 480.7,57.5 480.7,72.4 480.8,66.9 480.8,79.3 480.9,67.5 481,74.3 481,80.5 481.1,74.9 481.1,67.3 481.2,83.2 481.2,75.8 481.3,82.2 481.4,64 481.4,82 481.5,100.5 481.5,91 481.6,96.5 481.6,100.4 485.3,112.5 485.4,113.1 485.4,113 485.5,112.9 485.5,113.7 485.6,113.2 485.7,112 485.7,113.4 485.8,113.6 485.8,112.6 485.9,114 485.9,113.9 486,106.3 486.1,106 486.1,100 486.2,106.3 486.2,93.3 486.3,105 486.3,103.5 486.4,100.4 486.5,97.2 486.5,93.1 486.6,97.9 486.6,83.7 486.7,97.8 486.7,82.8 486.8,93.5 486.9,92.4 486.9,93 487,98.3 487,92.8 487.1,101.5 487.1,93.9 487.2,96.3 487.2,92.2 487.3,87 487.4,91 487.4,73.4 487.5,95.1 487.5,94.6 487.6,88.5 487.6,84.9 487.7,88 487.8,87.4 487.8,93.8 487.9,93.4 487.9,75.3 488,95 488,76.7 488.1,95.2 488.2,88.4 488.2,88.6 488.3,97.6 488.3,94.1 488.4,100.9 488.4,96.6 488.5,98.8 488.6,99.9 488.6,86.2 488.7,94.5 488.7,99.9 488.8,95.4 488.8,97 488.9,86.9 489,90 489,104.1 489.1,102.9 489.1,97.2 489.2,98.9 489.2,97.1 489.3,102 489.4,104.5 489.4,105.4 489.5,107.1 489.5,109.7 489.6,107.9 494.1,113.6 494.1,113.4 494.2,113.6 494.2,113.6 494.3,113.3 494.3,113.2 494.4,113.4 494.5,112.7 494.5,113.5 494.6,113.3 494.6,113.4 494.7,112.1 494.7,108.9 494.8,106.7 494.9,103.6 494.9,105.9 495,105.3 495,103.4 495.1,99.4 495.1,92.9 495.2,92.5 495.3,103.3 495.3,103.2 495.4,95 495.4,100.6 495.5,93.8 495.5,102.3 495.6,87.1 495.7,95 495.7,88.4 495.8,95.4 495.8,100 495.9,82.1 495.9,97.6 496,95.2 496.1,82.7 496.1,84.2 496.2,78.1 496.2,96.5 496.3,96.6 496.3,87.1 496.4,90 496.5,100.3 496.5,97.3 496.6,90.2 496.6,94.6 496.7,88.3 496.7,88.8 496.8,88.6 496.9,93.9 496.9,89.1 497,97.6 497,95.2 497.1,84 497.1,88.5 497.2,91.4 497.3,102.1 497.3,94.8 497.4,82.1 497.4,87.3 497.5,99.6 497.5,89.1 497.6,95.1 497.7,101.8 497.7,89.5 497.8,91.8 497.8,93.4 497.9,89.3 497.9,99 498,96 498.1,103.9 498.1,107.7 498.2,104 498.2,104.5 498.3,105.8 498.3,105.4 501.7,109.5 501.8,110.4 501.9,113.2 501.9,112.8 502,111.9 502,112.8 502.1,113.4 502.1,111 502.2,113 502.3,111.5 502.3,110.4 502.4,113.4 502.4,99.6 502.5,82.5 502.5,99.9 502.6,91.4 502.7,94.6 502.7,84.9 502.8,70.1 502.8,80.7 502.9,78.2 502.9,66.2 503,28.4 503.1,86.7 503.1,84.7 503.2,57.1 503.2,52.2 503.3,63.9 503.3,75 503.4,65.7 503.5,39.3 503.5,88.3 503.6,65.5 503.6,79.4 503.7,56.1 503.7,67.6 503.8,61.2 503.9,62.4 503.9,83.1 504,70.5 504,32.5 504.1,52.8 504.1,53.2 504.2,61.6 504.3,70.7 504.3,65.5 504.4,66.4 504.4,41.6 504.5,67.5 504.5,39.2 504.6,37 504.7,43.4 504.7,37.8 504.8,63 504.8,67.3 504.9,68 504.9,54.3 505,70.5 505.1,39.7 505.1,78.4 505.2,86.9 505.2,64.3 505.3,65.2 505.3,79.8 505.4,68.3 505.5,80.8 505.5,79.8 505.6,78.7 505.6,61.1 505.7,79 505.7,80.3 505.8,79.2 505.9,81.4 505.9,90.9 506,91.7 506,101.7 511,112.1 511,113.3 511.1,113.3 511.1,112.7 511.2,112.8 511.2,112.8 511.3,112.8 511.4,113.5 511.4,112.2 511.5,111.4 511.5,112.6 511.6,113.4 511.6,107.5 511.7,101.1 511.8,101 511.8,98.7 511.9,98.2 511.9,91.1 512,89.6 512,85.7 512.1,86.4 512.2,90.9 512.2,91.5 512.3,85.2 512.3,98.2 512.4,86.4 512.4,84.8 512.5,97.6 512.6,65.8 512.6,67.5 512.7,89 512.7,77.5 512.8,83.1 512.8,71.7 512.9,73.8 513,93.2 513,86.3 513.1,53.3 513.1,90.6 513.2,61.8 513.2,76.8 513.3,88.7 513.4,87.7 513.4,56.3 513.5,81 513.5,56.2 513.6,68.8 513.6,71.4 513.7,70.2 513.8,73.5 513.8,72.6 513.9,58.5 513.9,71.6 514,62.7 514,81.1 514.1,96.2 514.2,83.1 514.2,91.5 514.3,78.6 514.3,79.8 514.4,89.4 514.4,83.5 514.5,83.7 514.6,89.5 514.6,97.4 514.7,88.7 514.7,90.1 514.8,87.9 514.8,86.5 514.9,78.6 515,95 515,96 515.1,90.7 515.1,101.7 515.2,103.7 515.2,107.9 518.6,113.4 518.6,112.3 518.7,111.6 518.7,112.7 518.8,112.3 518.8,112.9 518.9,111.4 519,110.7 519,113.4 519.1,113.6 519.1,111.9 519.2,112.2 519.2,103.3 519.3,103.1 519.4,91.5 519.4,88.4 519.5,87.5 519.5,84.6 519.6,84.6 519.6,89.6 519.7,76.3 519.8,74.7 519.8,78 519.9,72.5 519.9,73.1 520,76.2 520,86.7 520.1,86.2 520.2,78 520.2,76.6 520.3,76.1 520.3,76.7 520.4,70 520.4,85.3 520.5,55.4 520.6,87.3 520.6,60.8 520.7,41.6 520.7,75.4 520.8,78 520.8,65.9 520.9,79.3 521,82.2 521,62.4 521.1,66.1 521.1,79 521.2,54.3 521.2,45.1 521.3,86.1 521.4,74.7 521.4,85.2 521.5,67.8 521.5,87.6 521.6,87.5 521.6,81.7 521.7,62.9 521.8,78.4 521.8,84.5 521.9,78.2 521.9,74.5 522,93.7 522,80.4 522.1,71.3 522.2,90.2 522.2,85.2 522.3,89.4 522.3,88.2 522.4,85 522.4,92.4 522.5,82 522.6,74.7 522.6,91.7 522.7,100.8 522.7,98.6 522.8,96.4 522.8,99.6 527.4,113.2 527.4,113.3 527.5,113.1 527.5,113 527.6,112.6 527.6,113.4 527.7,113.8 527.8,113.5 527.8,113.3 527.9,113.7 527.9,113.9 528,113.4 528,103.6 528.1,107.5 528.2,100 528.2,96.2 528.3,103.3 528.3,105.3 528.4,98 528.4,95.2 528.5,97.5 528.6,99.5 528.6,85.1 528.7,103.7 528.7,95.9 528.8,95.3 528.8,98.9 528.9,96.3 529,98.1 529,84.8 529.1,95.2 529.1,98.6 529.2,98.2 529.2,91.3 529.3,96.3 529.4,91.6 529.4,92 529.5,73.9 529.5,88.7 529.6,93.8 529.6,97.3 529.7,89 529.8,92.3 529.8,77.8 529.9,89.3 529.9,92.3 530,90.7 530,85 530.1,91.4 530.2,94.7 530.2,95.8 530.3,97.2 530.3,91.2 530.4,99.5 530.4,91.4 530.5,94.2 530.6,96.7 530.6,95.4 530.7,97.1 530.7,83.2 530.8,85.9 530.8,95.9 530.9,90.5 531,100 531,98.4 531.1,94.6 531.1,104.1 531.2,104 531.2,95.6 531.3,103.8 531.4,100.4 531.4,105.2 531.5,101.9 531.5,100.6 531.6,109.5 531.6,105.3 534.6,112.7 534.7,113.4 534.7,113.6 534.8,112.7 534.9,112.9 534.9,113.1 535,112.3 535,113.5 535.1,112.8 535.1,112.9 535.2,111.8 535.3,113 535.3,102 535.4,105.2 535.4,106.3 535.5,100 535.5,98.2 535.6,103.3 535.7,104.5 535.7,89.4 535.8,92.4 535.8,96.9 535.9,93.7 535.9,86.2 536,92.2 536.1,85.6 536.1,77.1 536.2,94.7 536.2,74.1 536.3,93.2 536.3,84.5 536.4,88.6 536.5,97.3 536.5,88.2 536.6,80.3 536.6,84" fill="none" stroke="#1f77b4" stroke-width="0.8" stroke-linejoin="round"/>
<path d="M315.6 94.4h0M315.6 90.5h0M315.7 92.1h0M315.7 100.6h0M315.8 80.9h0M315.8 72h0M315.9 93h0M316 84.1h0M316 77.7h0M316.1 92.7h0M316.1 66.4h0M316.2 87h0M316.2 83.2h0M316.3 80.2h0M316.4 96h0M316.4 93.7h0M316.5 100.6h0M316.5 88.7h0M316.6 72.1h0M316.6 72.9h0M316.7 93.1h0M316.8 94.8h0M316.8 76.5h0M316.9 86.9h0M316.9 98h0M317 90.2h0M317 97.5h0M317.1 87.9h0M317.2 83.7h0M317.2 96.1h0M317.3 98.1h0M317.3 92.5h0M317.4 97.7h0M317.4 80.1h0M317.5 90.6h0M317.6 102h0M317.6 93.3h0M317.7 99.7h0M317.7 91.7h0M317.8 98.4h0M317.8 103.5h0M317.9 96.4h0M318 96.7h0M318 89.8h0M318.1 99.5h0M318.1 99.4h0M318.2 99.6h0M318.2 107.3h0M321.6 112.6h0M321.6 110.6h0M321.7 111.3h0M321.7 112.5h0M321.8 108.8h0M321.8 112.1h0M321.9 113.3h0M322 111.2h0M322 113.4h0M322.1 112.6h0M322.1 113.5h0M322.2 113h0M322.2 100.9h0M322.3 99.1h0M322.4 97.3h0M322.4 63.9h0M322.5 97.1h0M322.5 91.9h0M322.6 68.6h0M322.6 76.5h0M322.7 73.6h0M322.8 65h0M322.8 65.8h0M322.9 62.4h0M322.9 65.4h0M323 79.4h0M323 66.5h0M323.1 34.4h0M323.2 33.6h0M323.2 68.7h0M323.3 65.8h0M323.3 52.4h0M323.4 59.9h0M323.4 66h0M323.5 60.4h0M323.6 35.2h0M323.6 56.8h0M323.7 10.9h0M323.7 56h0M323.8 72.5h0M323.8 52.5h0M323.9 52.9h0M324 69.3h0M324 65.2h0M324.1 57.2h0M324.1 15.9h0M324.2 41.4h0M324.2 45.2h0M324.3 40.4h0M324.4 21.6h0M324.4 51.5h0M324.5 62.8h0M324.5 64.7h0M324.6 77.8h0M324.6 54.9h0M324.7 73.5h0M324.8 36.5h0M324.8 76h0M324.9 36.5h0M324.9 45h0M325 47.4h0M325 42h0M325.1 60.4h0M325.2 69.4h0M325.2 65.9h0M325.3 78.8h0M325.3 77h0M325.4 75.3h0M325.4 76.7h0M325.5 81.7h0M325.6 80.8h0M325.6 83.6h0M325.7 85.3h0M325.7 70.9h0M325.8 92.8h0M325.8 93.5h0M329.7 111.8h0M329.7 113h0M329.8 112.9h0M329.8 111.3h0M329.9 113.4h0M329.9 112.4h0M330 113.1h0M330.1 113.7h0M330.1 111.9h0M330.2 113.7h0M330.2 110.2h0M330.3 110.9h0M330.3 101.1h0M330.4 94.1h0M330.5 85.7h0M330.5 95h0M330.6 86.9h0M330.6 77.1h0M330.7 87h0M330.7 68h0M330.8 63.4h0M330.9 50.8h0M330.9 82.1h0M331 67h0M331 78.8h0M331.1 61h0M331.1 81h0M331.2 31.4h0M331.3 61.5h0M331.3 48.1h0M331.4 69.7h0M331.4 43.7h0M331.5 48.2h0M331.5 66.5h0M331.6 55.3h0M331.7 48h0M331.7 76.6h0M331.8 18h0M331.8 55h0M331.9 57.1h0M331.9 67.9h0M332 42.1h0M332.1 50.8h0M332.1 73.6h0M332.2 30.8h0M332.2 36.2h0M332.3 64.5h0M332.3 76.1h0M332.4 75.4h0M332.5 54.6h0M332.5 47.6h0M332.6 53.8h0M332.6 55.9h0M332.7 34.5h0M332.7 55.2h0M332.8 33.1h0M332.9 71.1h0M332.9 68.5h0M333 61.2h0M333 64.5h0M333.1 61.6h0M333.1 56.7h0M333.2 78.4h0M333.3 58.1h0M333.3 51.8h0M333.4 49.8h0M333.4 73.5h0M333.5 73.9h0M333.5 89h0M333.6 59.4h0M333.7 63.2h0M333.7 80h0M333.8 79.3h0M333.8 99.1h0M333.9 91.9h0M333.9 104.6h0M338.5 113.6h0M338.5 113.4h0M338.6 113.8h0M338.6 113.3h0M338.7 113h0M338.7 112.9h0M338.8 112.6h0M338.9 112.8h0M338.9 113.3h0M339 113.3h0M339 113.1h0M339.1 113.9h0M339.1 109.9h0M339.2 101h0M339.3 103.3h0M339.3 104.5h0M339.4 101.3h0M339.4 98.5h0M339.5 100.4h0M339.5 103.7h0M339.6 92.6h0M339.7 87.7h0M339.7 97h0M339.8 92.5h0M339.8 89.5h0M339.9 99.1h0M339.9 100.1h0M340 90.1h0M340.1 82.2h0M340.1 96.9h0M340.2 101.5h0M340.2 81.9h0M340.3 89.2h0M340.3 85.2h0M340.4 93.3h0M340.5 77.6h0M340.5 96.9h0M340.6 71.5h0M340.6 87.9h0M340.7 94.8h0M340.7 87.4h0M340.8 79.4h0M340.9 95.6h0M340.9 73.5h0M341 92h0M341 87.8h0M341.1 79.8h0M341.1 89.6h0M341.2 87.1h0M341.3 86.5h0M341.3 87.4h0M341.4 92.7h0M341.4 91.6h0M341.5 75.8h0M341.5 102.4h0M341.6 89.1h0M341.7 90.6h0M341.7 87.4h0M341.8 82h0M341.8 94.4h0M341.9 86.1h0M341.9 102.1h0M342 101.1h0M342.1 101.1h0M342.1 100.7h0M342.2 92.4h0M342.2 98h0M342.3 102.4h0M342.3 95.1h0M342.4 95.9h0M342.5 97.2h0M342.5 97.2h0M342.6 101.1h0M342.6 107.3h0M342.7 105.5h0M342.7 108.5h0M346.9 112.2h0M346.9 110.9h0M347 112.5h0M347 110.6h0M347.1 113h0M347.1 111.7h0M347.2 112.6h0M347.3 112.6h0M347.3 113.1h0M347.4 112.1h0M347.4 113.3h0M347.5 113.7h0M347.5 99.4h0M347.6 91.2h0M347.7 92.1h0M347.7 93.8h0M347.8 72.6h0M347.8 94.9h0M347.9 79.1h0M347.9 76.2h0M348 79.5h0M348.1 80.3h0M348.1 75h0M348.2 82.3h0M348.2 81.6h0M348.3 82.8h0M348.3 69.1h0M348.4 87.3h0M348.5 74.6h0M348.5 83h0M348.6 42.6h0M348.6 65.5h0M348.7 65.2h0M348.7 70h0M348.8 60.2h0M348.9 60.3h0M348.9 75.1h0M349 58.1h0M349 32.5h0M349.1 49.4h0M349.1 72h0M349.2 49.6h0M349.3 69.1h0M349.3 58.2h0M349.4 46.6h0M349.4 54.6h0M349.5 61.5h0M349.5 45h0M349.6 68h0M349.7 69.7h0M349.7 62.2h0M349.8 59.3h0M349.8 58.3h0M349.9 63.9h0M349.9 63.8h0M350 60.4h0M350.1 63.8h0M350.1 73.7h0M350.2 79h0M350.2 69.9h0M350.3 69.1h0M350.3 79.5h0M350.4 65.2h0M350.5 54.5h0M350.5 57.3h0M350.6 82.3h0M350.6 78.4h0M350.7 91.8h0M350.7 86.9h0M350.8 90.9h0M350.9 86h0M350.9 71.3h0M351 94.4h0M351 87.7h0M351.1 86.8h0M351.1 102h0M353.8 111.8h0M353.8 109.4h0M353.9 113.7h0M354 112.1h0M354 112.4h0M354.1 110.8h0M354.1 112.6h0M354.2 110.1h0M354.2 111.6h0M354.3 111.1h0M354.4 111.9h0M354.4 110.2h0M354.5 97.5h0M354.5 102h0M354.6 96h0M354.6 75.9h0M354.7 88.8h0M354.8 70.4h0M354.8 74.6h0M354.9 74.6h0M354.9 68.5h0M355 74.7h0M355 51.3h0M355.1 43.6h0M355.2 69.5h0M355.2 60.2h0M355.3 49.9h0M355.3 67h0M355.4 77.3h0M355.4 48.8h0M355.5 79.8h0M355.6 73.6h0M355.6 58.6h0M355.7 69.6h0M355.7 51.4h0M355.8 10.9h0M355.8 49.3h0M355.9 47h0M356 46.1h0M356 50.7h0M356.1 74h0M356.1 49.6h0M356.2 15.9h0M356.2 20.2h0M356.3 55.3h0M356.4 55.6h0M356.4 53.6h0M356.5 60.6h0M356.5 76.7h0M356.6 23.4h0M356.6 38.7h0M356.7 52h0M356.8 64.6h0M356.8 47.8h0M356.9 63.9h0M356.9 67.6h0M357 53.9h0M357 67.1h0M357.1 50.5h0M357.2 72.2h0M357.2 53.5h0M357.3 75.2h0M357.3 65h0M357.4 90.8h0M357.4 56.5h0M357.5 58.5h0M357.6 43.5h0M357.6 70.6h0M357.7 65.1h0M357.7 70.3h0M357.8 69.9h0M357.8 86.1h0M357.9 94.1h0M358 72.6h0M358 86.8h0M358.1 92h0M362.5 111.5h0M362.5 113.3h0M362.6 110.4h0M362.6 112.2h0M362.7 112.6h0M362.7 110h0M362.8 112.9h0M362.9 110h0M362.9 113.4h0M363 112.5h0M363 113.2h0M363.1 111.2h0M363.1 97.9h0M363.2 91.2h0M363.3 94.3h0M363.3 96.7h0M363.4 83.4h0M363.4 77.4h0M363.5 80.3h0M363.5 79.3h0M363.6 55.7h0M363.7 79.5h0M363.7 57.7h0M363.8 67.2h0M363.8 68h0M363.9 41.2h0M363.9 41.1h0M364 77.6h0M364.1 59.6h0M364.1 43.7h0M364.2 77.2h0M364.2 28.1h0M364.3 56.4h0M364.3 53.2h0M364.4 74.8h0M364.5 54.8h0M364.5 45.9h0M364.6 21h0M364.6 70.3h0M364.7 61.6h0M364.7 44.8h0M364.8 46h0M364.9 53.2h0M364.9 65.4h0M365 75.5h0M365 67h0M365.1 29.4h0M365.1 58.4h0M365.2 42.3h0M365.3 40.6h0M365.3 44.8h0M365.4 32.5h0M365.4 61.7h0M365.5 61.3h0M365.5 71.5h0M365.6 73.3h0M365.7 65.1h0M365.7 65.8h0M365.8 71.8h0M365.8 71h0M365.9 88h0M365.9 75.7h0M366 81.2h0M366.1 70.2h0M366.1 71.4h0M366.2 63.4h0M366.2 84.1h0M366.3 80.9h0M366.3 80h0M366.4 58.9h0M366.5 70.4h0M366.5 84.9h0M366.6 83.6h0M366.6 85.3h0M366.7 89h0M366.7 102.9h0M371.3 113.2h0M371.3 113.7h0M371.4 112.2h0M371.4 113.3h0M371.5 112.8h0M371.5 112.3h0M371.6 112.2h0M371.7 112h0M371.7 111.6h0M371.8 112.8h0M371.8 111.6h0M371.9 113.1h0M371.9 101h0M372 101.6h0M372.1 99.6h0M372.1 98.3h0M372.2 93.5h0M372.2 88.6h0M372.3 89.9h0M372.3 100.4h0M372.4 99.1h0M372.5 87.8h0M372.5 95.4h0M372.6 70.7h0M372.6 81.2h0M372.7 77.4h0M372.7 90.1h0M372.8 64.2h0M372.9 86.7h0M372.9 79.4h0M373 83.6h0M373 85.3h0M373.1 84.2h0M373.1 83.3h0M373.2 77.5h0M373.3 87.1h0M373.3 71.2h0M373.4 53.3h0M373.4 82.8h0M373.5 74.6h0M373.5 85.7h0M373.6 73.3h0M373.7 71.8h0M373.7 81.2h0M373.8 58.8h0M373.8 91.5h0M373.9 83.8h0M373.9 84.2h0M374 74.3h0M374.1 66.9h0M374.1 56.2h0M374.2 77.3h0M374.2 87.4h0M374.3 80.8h0M374.3 76.5h0M374.4 79.9h0M374.5 81.5h0M374.5 76.8h0M374.6 65.5h0M374.6 87.7h0M374.7 80.4h0M374.7 89.2h0M374.8 96.6h0M374.9 85.5h0M374.9 75.4h0M375 90.8h0M375 80.8h0M375.1 88.9h0M375.1 89.9h0M375.2 78.6h0M375.3 101.3h0M375.3 91.8h0M375.4 99.1h0M375.4 99.2h0M375.5 100.1h0M375.5 105.6h0M378.9 110.2h0M378.9 112.3h0M379 112h0M379 111.7h0M379.1 112h0M379.1 113h0M379.2 113h0M379.3 111.2h0M379.3 112.5h0M379.4 111.8h0M379.4 112.9h0M379.5 112.4h0M379.5 91.1h0M379.6 93.5h0M379.7 86.6h0M379.7 93.6h0M379.8 76.5h0M379.8 69h0M379.9 90.3h0M379.9 76.3h0M380 82.4h0M380.1 76.5h0M380.1 72.1h0M380.2 66.2h0M380.2 70.3h0M380.3 76.7h0M380.3 67.9h0M380.4 69.1h0M380.5 79.9h0M380.5 70.8h0M380.6 70.9h0M380.6 74.4h0M380.7 72.7h0M380.7 51.7h0M380.8 31.3h0M380.9 52.8h0M380.9 36.9h0M381 19.9h0M381 55.9h0M381.1 61.4h0M381.1 47.9h0M381.2 52.9h0M381.3 79.4h0M381.3 76h0M381.4 56.4h0M381.4 82.2h0M381.5 62.2h0M381.5 48.8h0M381.6 44h0M381.7 47.2h0M381.7 69.9h0M381.8 68.5h0M381.8 48.6h0M381.9 57.7h0M381.9 39.8h0M382 48.1h0M382.1 74.7h0M382.1 69.1h0M382.2 84.5h0M382.2 48.8h0M382.3 84.1h0M382.3 81.6h0M382.4 64.3h0M382.5 71h0M382.5 71.9h0M382.6 58.6h0M382.6 84.6h0M382.7 89.3h0M382.7 74.8h0M382.8 88.4h0M382.9 86.3h0M382.9 93.8h0M383 89.9h0M383 89.1h0M383.1 95.4h0M383.1 101.7h0M387.3 111.2h0M387.3 111.9h0M387.4 110.3h0M387.4 112.6h0M387.5 112.7h0M387.5 113.1h0M387.6 111.6h0M387.7 109.4h0M387.7 111.2h0M387.8 113.2h0M387.8 110.8h0M387.9 110.5h0M387.9 100.5h0M388 87.4h0M388.1 73.1h0M388.1 71.3h0M388.2 90h0M388.2 75.7h0M388.3 86.6h0M388.3 52.3h0M388.4 77.5h0M388.5 49.2h0M388.5 65.7h0M388.6 78.3h0M388.6 66.8h0M388.7 67.4h0M388.7 65.1h0M388.8 89.4h0M388.9 59.7h0M388.9 63.1h0M389 24.7h0M389 31h0M389.1 49.1h0M389.1 52h0M389.2 66.4h0M389.3 58.8h0M389.3 27.1h0M389.4 9.9h0M389.4 72.8h0M389.5 51h0M389.5 51.8h0M389.6 54.8h0M389.7 31.1h0M389.7 48.7h0M389.8 61.2h0M389.8 14.8h0M389.9 39.2h0M389.9 68.8h0M390 77.8h0M390.1 30.7h0M390.1 71.3h0M390.2 68.2h0M390.2 49.2h0M390.3 59.8h0M390.3 58.8h0M390.4 24.4h0M390.5 55.3h0M390.5 58.8h0M390.6 54.8h0M390.6 56.7h0M390.7 82.4h0M390.7 55.9h0M390.8 59.1h0M390.9 51.9h0M390.9 76.4h0M391 76.2h0M391 64.3h0M391.1 46.2h0M391.1 73h0M391.2 78.7h0M391.3 67.3h0M391.3 73.7h0M391.4 81.9h0M391.4 84.8h0M391.5 100.2h0M391.5 100.7h0M395.3 112.5h0M395.3 112.1h0M395.4 110.8h0M395.4 112.5h0M395.5 111.3h0M395.5 111.4h0M395.6 110h0M395.7 111.4h0M395.7 109.1h0M395.8 112.8h0M395.8 111.4h0M395.9 112.1h0M395.9 87.8h0M396 82h0M396.1 86.2h0M396.1 84.2h0M396.2 89.7h0M396.2 68.4h0M396.3 72.7h0M396.3 71.7h0M396.4 59.9h0M396.5 57.4h0M396.5 77.2h0M396.6 82.5h0M396.6 56h0M396.7 64.7h0M396.7 73.9h0M396.8 65.4h0M396.9 30.3h0M396.9 60.1h0M397 46h0M397 44.6h0M397.1 71.3h0M397.1 32.9h0M397.2 69h0M397.3 78.6h0M397.3 81.9h0M397.4 14.9h0M397.4 21.7h0M397.5 56.1h0M397.5 57h0M397.6 50.2h0M397.7 61.4h0M397.7 41.1h0M397.8 25.4h0M397.8 40h0M397.9 46.2h0M397.9 52h0M398 74.5h0M398.1 38.7h0M398.1 57.5h0M398.2 61.5h0M398.2 84h0M398.3 74.5h0M398.3 44.8h0M398.4 67.2h0M398.5 55.9h0M398.5 58.8h0M398.6 77.5h0M398.6 28.3h0M398.7 33.4h0M398.7 52.7h0M398.8 66h0M398.9 82.5h0M398.9 79.9h0M399 76.7h0M399 63.9h0M399.1 68.5h0M399.1 90.7h0M399.2 68.8h0M399.3 55.8h0M399.3 81.1h0M399.4 81.9h0M399.4 87.3h0M399.5 83.9h0M399.5 95h0M403.4 111.4h0M403.4 111.6h0M403.5 113.3h0M403.5 110.7h0M403.6 110.8h0M403.6 112.2h0M403.7 112.5h0M403.8 113.8h0M403.8 113.3h0M403.9 111.8h0M403.9 111.9h0M404 112.2h0M404 94.4h0M404.1 94h0M404.2 82.1h0M404.2 82.3h0M404.3 80.2h0M404.3 81.3h0M404.4 73.5h0M404.4 78.9h0M404.5 79.4h0M404.6 62.7h0M404.6 74.1h0M404.7 70.4h0M404.7 51h0M404.8 80.9h0M404.8 66.3h0M404.9 65.4h0M405 68.3h0M405 64h0M405.1 39.7h0M405.1 49.8h0M405.2 50.2h0M405.2 49h0M405.3 55.7h0M405.4 44.3h0M405.4 77h0M405.5 17.5h0M405.5 45.8h0M405.6 37.2h0M405.6 32.9h0M405.7 46.8h0M405.8 70.5h0M405.8 24.8h0M405.9 22.6h0M405.9 22.1h0M406 58.8h0M406 50h0M406.1 83.5h0M406.2 74.3h0M406.2 68.3h0M406.3 81.8h0M406.3 73.1h0M406.4 43.6h0M406.4 28.3h0M406.5 83.4h0M406.6 46.4h0M406.6 50.9h0M406.7 58.3h0M406.7 37h0M406.8 50h0M406.8 59.9h0M406.9 59.8h0M407 61h0M407 79h0M407.1 89h0M407.1 60.8h0M407.2 79.3h0M407.2 80.2h0M407.3 81.2h0M407.4 72.2h0M407.4 75.9h0M407.5 78.4h0M407.5 97.7h0M407.6 96.1h0M407.6 102.5h0M411.7 113.6h0M411.7 111.4h0M411.8 112.1h0M411.8 111.8h0M411.9 109.5h0M411.9 113.1h0M412 113.4h0M412.1 110.9h0M412.1 111.8h0M412.2 112.1h0M412.2 108.6h0M412.3 111.1h0M412.3 98.8h0M412.4 87.5h0M412.5 87.7h0M412.5 86h0M412.6 80.9h0M412.6 82.1h0M412.7 53.8h0M412.7 90.2h0M412.8 73.8h0M412.9 66.4h0M412.9 63.8h0M413 73.8h0M413 60.6h0M413.1 84.1h0M413.1 44.7h0M413.2 55.8h0M413.3 71.7h0M413.3 59.4h0M413.4 76.7h0M413.4 65.4h0M413.5 22.3h0M413.5 79.2h0M413.6 64.3h0M413.7 64.2h0M413.7 45.1h0M413.8 13.4h0M413.8 47.5h0M413.9 66h0M413.9 50.9h0M414 54h0M414.1 53.2h0M414.1 49.5h0M414.2 74.4h0M414.2 40.1h0M414.3 47.1h0M414.3 73.4h0M414.4 37.6h0M414.5 32.3h0M414.5 41.7h0M414.6 69.4h0M414.6 56.7h0M414.7 48.4h0M414.7 67.1h0M414.8 48.9h0M414.9 49.8h0M414.9 59.6h0M415 64.4h0M415 50.6h0M415.1 52.6h0M415.1 86.8h0M415.2 65.9h0M415.3 59.8h0M415.3 70.6h0M415.4 69.1h0M415.4 68h0M415.5 76.7h0M415.5 84.6h0M415.6 70.1h0M415.7 69.1h0M415.7 82h0M415.8 90.5h0M415.8 88h0M415.9 99.3h0M415.9 97.5h0M420.1 112.8h0M420.1 112.9h0M420.2 112h0M420.2 111h0M420.3 109.9h0M420.3 113.7h0M420.4 109.4h0M420.5 109.9h0M420.5 112.8h0M420.6 111.9h0M420.6 112.3h0M420.7 112.6h0M420.7 92h0M420.8 90.6h0M420.9 91.9h0M420.9 94.8h0M421 83.9h0M421 74.5h0M421.1 51.1h0M421.1 53.4h0M421.2 85h0M421.3 52.6h0M421.3 85.2h0M421.4 66.5h0M421.4 38.7h0M421.5 83.8h0M421.5 65.2h0M421.6 78.6h0M421.7 63h0M421.7 49.8h0M421.8 37.9h0M421.8 58.2h0M421.9 43.9h0M421.9 22.6h0M422 39.8h0M422.1 59.7h0M422.1 37.8h0M422.2 12.3h0M422.2 40.1h0M422.3 41.2h0M422.3 28.9h0M422.4 76.7h0M422.5 69.2h0M422.5 55.6h0M422.6 70.9h0M422.6 44.6h0M422.7 39.1h0M422.7 26.2h0M422.8 68.5h0M422.9 17.6h0M422.9 36.2h0M423 63.6h0M423 43.3h0M423.1 24.6h0M423.1 62.5h0M423.2 74.5h0M423.3 21.6h0M423.3 57.8h0M423.4 39h0M423.4 48.7h0M423.5 51.5h0M423.5 52.3h0M423.6 60.5h0M423.7 66.8h0M423.7 57.2h0M423.8 65.4h0M423.8 74.4h0M423.9 60.6h0M423.9 64.9h0M424 83.2h0M424.1 71.7h0M424.1 93.2h0M424.2 78.5h0M424.2 95.1h0M424.3 88.7h0M424.3 98.6h0M427.8 111.2h0M427.8 110.5h0M427.9 113h0M427.9 112.4h0M428 112.3h0M428.1 111.8h0M428.1 111.1h0M428.2 112h0M428.2 110.9h0M428.3 113.3h0M428.3 112.8h0M428.4 113h0M428.5 101.7h0M428.5 81.5h0M428.6 90h0M428.6 89.8h0M428.7 63.2h0M428.7 84.7h0M428.8 88.2h0M428.9 86.8h0M428.9 77.7h0M429 70h0M429 84.7h0M429.1 83.4h0M429.1 82.1h0M429.2 75h0M429.3 31.8h0M429.3 68.7h0M429.4 50.3h0M429.4 53.6h0M429.5 63h0M429.5 66.5h0M429.6 75.8h0M429.7 71.8h0M429.7 54.6h0M429.8 54.9h0M429.8 15.2h0M429.9 79.8h0M429.9 58.8h0M430 76.9h0M430.1 44.8h0M430.1 60.2h0M430.2 46.1h0M430.2 22.5h0M430.3 37h0M430.3 49.7h0M430.4 58.5h0M430.5 52.5h0M430.5 76.5h0M430.6 74.9h0M430.6 64.7h0M430.7 82.2h0M430.7 82.3h0M430.8 79.8h0M430.9 45.5h0M430.9 65.5h0M431 43.9h0M431 33.6h0M431.1 39.7h0M431.1 71.5h0M431.2 79.6h0M431.3 59.3h0M431.3 43.8h0M431.4 49.8h0M431.4 65.1h0M431.5 87.8h0M431.5 72h0M431.6 83.4h0M431.7 78.3h0M431.7 78.3h0M431.8 89.2h0M431.8 80.4h0M431.9 78.2h0M431.9 91.5h0M432 100.4h0M432.1 103.1h0M436.5 111.7h0M436.5 112.6h0M436.6 110.3h0M436.6 113.1h0M436.7 112.1h0M436.7 111.8h0M436.8 111.8h0M436.9 112.7h0M436.9 113.5h0M437 112.1h0M437 111.6h0M437.1 111.2h0M437.1 103.9h0M437.2 91.7h0M437.3 95.6h0M437.3 97.5h0M437.4 98h0M437.4 86.4h0M437.5 88h0M437.5 79.8h0M437.6 85.5h0M437.7 77.8h0M437.7 79.4h0M437.8 88h0M437.8 83.2h0M437.9 76.3h0M437.9 82.7h0M438 65.9h0M438.1 61.9h0M438.1 86h0M438.2 55.5h0M438.2 75.3h0M438.3 41.7h0M438.3 84.9h0M438.4 36.1h0M438.5 78.1h0M438.5 41.4h0M438.6 24.2h0M438.6 66.1h0M438.7 66.6h0M438.7 60.6h0M438.8 59.8h0M438.9 66.4h0M438.9 60.6h0M439 57.1h0M439 60.7h0M439.1 40.1h0M439.1 76.4h0M439.2 74.5h0M439.3 38.6h0M439.3 45.7h0M439.4 60.1h0M439.4 76.1h0M439.5 81.5h0M439.5 54.7h0M439.6 71.4h0M439.7 48.4h0M439.7 75.1h0M439.8 42.9h0M439.8 56.2h0M439.9 69h0M439.9 67.5h0M440 48.2h0M440.1 64.3h0M440.1 55.3h0M440.2 60.4h0M440.2 85.5h0M440.3 72.5h0M440.3 80.4h0M440.4 62.9h0M440.5 95.5h0M440.5 95h0M440.6 91.5h0M440.6 81.7h0M440.7 99.3h0M440.7 92.4h0M444.6 109.9h0M444.6 112.6h0M444.7 110.2h0M444.7 112.7h0M444.8 111.8h0M444.8 112.1h0M444.9 111.9h0M445 111h0M445 112.9h0M445.1 112.2h0M445.1 109.1h0M445.2 109.9h0M445.2 99.9h0M445.3 90.2h0M445.4 95.5h0M445.4 86.4h0M445.5 88.1h0M445.5 87.7h0M445.6 80h0M445.6 78.1h0M445.7 75.2h0M445.8 68.1h0M445.8 77.1h0M445.9 64h0M445.9 82.1h0M446 79.6h0M446 58.7h0M446.1 81.1h0M446.2 59.4h0M446.2 82.9h0M446.3 42.8h0M446.3 53h0M446.4 50.5h0M446.4 70.2h0M446.5 87.1h0M446.6 54.9h0M446.6 71.1h0M446.7 24.2h0M446.7 81.3h0M446.8 84.5h0M446.8 62.1h0M446.9 58.6h0M447 58h0M447 72.7h0M447.1 51.4h0M447.1 52.5h0M447.2 28.5h0M447.2 72.1h0M447.3 39.9h0M447.4 69.5h0M447.4 46.7h0M447.5 64h0M447.5 64.1h0M447.6 55.5h0M447.6 60.3h0M447.7 76h0M447.8 87.5h0M447.8 62.5h0M447.9 76.9h0M447.9 65.8h0M448 72.2h0M448 42.3h0M448.1 55.9h0M448.2 83.8h0M448.2 74.1h0M448.3 93.7h0M448.3 73.3h0M448.4 76.4h0M448.4 79.9h0M448.5 87.5h0M448.6 80.6h0M448.6 83.9h0M448.7 93.5h0M448.7 95.5h0M448.8 89.5h0M448.8 103.3h0M452.9 112h0M452.9 112.1h0M453 113.4h0M453 112.2h0M453.1 111h0M453.1 112.5h0M453.2 112.8h0M453.3 111.7h0M453.3 113.5h0M453.4 109.9h0M453.4 113h0M453.5 112.7h0M453.5 97.3h0M453.6 94.5h0M453.7 86.6h0M453.7 90h0M453.8 82.4h0M453.8 84.4h0M453.9 92.2h0M453.9 72.7h0M454 86.9h0M454.1 84.1h0M454.1 91h0M454.2 66.4h0M454.2 71.8h0M454.3 64.6h0M454.3 65.8h0M454.4 70h0M454.5 51.5h0M454.5 75h0M454.6 76.3h0M454.6 33.6h0M454.7 62h0M454.7 51.4h0M454.8 78.2h0M454.9 44.3h0M454.9 60.8h0M455 24.2h0M455 85.4h0M455.1 55.1h0M455.1 38.2h0M455.2 57.9h0M455.3 78.5h0M455.3 55.7h0M455.4 58.6h0M455.4 52.1h0M455.5 31.4h0M455.5 60.5h0M455.6 64.3h0M455.7 70.2h0M455.7 56.5h0M455.8 51.7h0M455.8 66.5h0M455.9 55.7h0M455.9 82.2h0M456 69.6h0M456.1 32.8h0M456.1 62.2h0M456.2 69.3h0M456.2 84h0M456.3 58.7h0M456.3 41.6h0M456.4 87.6h0M456.5 90.3h0M456.5 61.4h0M456.6 72.8h0M456.6 87.5h0M456.7 78.6h0M456.7 74.1h0M456.8 92.2h0M456.9 78.9h0M456.9 81.5h0M457 81.4h0M457 91.4h0M457.1 89.7h0M457.1 100.9h0M461.8 111.8h0M461.8 113.4h0M461.9 111.7h0M461.9 113.5h0M462 113.4h0M462 112.6h0M462.1 113.2h0M462.2 112.9h0M462.2 111.7h0M462.3 111.9h0M462.3 113.8h0M462.4 113.2h0M462.4 108.8h0M462.5 98.4h0M462.6 104.7h0M462.6 100.3h0M462.7 104.9h0M462.7 96h0M462.8 96.6h0M462.8 98.4h0M462.9 97.6h0M463 95.4h0M463 97.4h0M463.1 89.7h0M463.1 98.4h0M463.2 94.3h0M463.2 88.5h0M463.3 94.3h0M463.4 92.7h0M463.4 85.5h0M463.5 91.6h0M463.5 95.3h0M463.6 85.8h0M463.6 74.8h0M463.7 80.4h0M463.8 91.2h0M463.8 85.6h0M463.9 70.7h0M463.9 97.3h0M464 84.7h0M464 100.2h0M464.1 81.4h0M464.2 85.7h0M464.2 88.7h0M464.3 84.5h0M464.3 77.4h0M464.4 91.7h0M464.4 95.8h0M464.5 86.2h0M464.6 81h0M464.6 92.2h0M464.7 82.7h0M464.7 72.8h0M464.8 75.2h0M464.8 91h0M464.9 76.3h0M465 83.1h0M465 91h0M465.1 89h0M465.1 81.2h0M465.2 82.1h0M465.2 88.5h0M465.3 90.9h0M465.4 96.4h0M465.4 85.9h0M465.5 87.5h0M465.5 95.4h0M465.6 100.4h0M465.6 92.7h0M465.7 96.5h0M465.8 88.8h0M465.8 98.5h0M465.9 107.2h0M465.9 102.2h0M466 103.2h0M466 108.1h0M468.9 112.4h0M468.9 112.3h0M469 112.7h0M469 113.4h0M469.1 113h0M469.2 113.1h0M469.2 112.6h0M469.3 112.7h0M469.3 113h0M469.4 113.7h0M469.4 111.9h0M469.5 111.7h0M469.6 108.2h0M469.6 99.8h0M469.7 98.4h0M469.7 92.9h0M469.8 93.3h0M469.8 93h0M469.9 95.3h0M470 97.9h0M470 95.6h0M470.1 94.3h0M470.1 83.3h0M470.2 85.3h0M470.2 96h0M470.3 77.8h0M470.4 85.8h0M470.4 78.6h0M470.5 83.5h0M470.5 68.9h0M470.6 76.1h0M470.6 82.4h0M470.7 81.8h0M470.8 67.2h0M470.8 90.4h0M470.9 66.5h0M470.9 62.5h0M471 57h0M471 73.3h0M471.1 84.3h0M471.2 76.8h0M471.2 84.3h0M471.3 84.7h0M471.3 86.2h0M471.4 68.1h0M471.4 73h0M471.5 73h0M471.6 68.4h0M471.6 70.3h0M471.7 78.8h0M471.7 84.8h0M471.8 80.8h0M471.8 66.7h0M471.9 74.1h0M472 83.8h0M472 79.9h0M472.1 83.5h0M472.1 64.8h0M472.2 85.7h0M472.2 80.1h0M472.3 85.6h0M472.4 85.9h0M472.4 89.5h0M472.5 80.9h0M472.5 85.9h0M472.6 84.6h0M472.6 90.2h0M472.7 95h0M472.8 101h0M472.8 92.2h0M472.9 100.2h0M472.9 91.5h0M473 96h0M473 101.7h0M473.1 99.8h0M473.2 103.7h0M477.4 112.5h0M477.4 111.2h0M477.5 113.2h0M477.5 110.7h0M477.6 111.5h0M477.6 113.1h0M477.7 112.2h0M477.8 112.4h0M477.8 112.2h0M477.9 113h0M477.9 112.1h0M478 112.7h0M478 94.5h0M478.1 95.7h0M478.2 75.2h0M478.2 87.6h0M478.3 77.3h0M478.3 89.1h0M478.4 90h0M478.4 82.6h0M478.5 59.2h0M478.6 87.4h0M478.6 70.7h0M478.7 89.3h0M478.7 66.9h0M478.8 89.4h0M478.8 72.7h0M478.9 64h0M479 81.1h0M479 64.5h0M479.1 82.5h0M479.1 56.5h0M479.2 70.7h0M479.2 56.5h0M479.3 83.4h0M479.4 66.3h0M479.4 57.7h0M479.5 25.2h0M479.5 67.9h0M479.6 67.1h0M479.6 69h0M479.7 63.9h0M479.8 68.4h0M479.8 65.3h0M479.9 76h0M479.9 53.9h0M480 78.6h0M480 33h0M480.1 43h0M480.2 52.5h0M480.2 80.5h0M480.3 63.2h0M480.3 67.2h0M480.4 40.9h0M480.4 55.4h0M480.5 74.4h0M480.6 47.5h0M480.6 80h0M480.7 57.5h0M480.7 72.4h0M480.8 66.9h0M480.8 79.3h0M480.9 67.5h0M481 74.3h0M481 80.5h0M481.1 74.9h0M481.1 67.3h0M481.2 83.2h0M481.2 75.8h0M481.3 82.2h0M481.4 64h0M481.4 82h0M481.5 100.5h0M481.5 91h0M481.6 96.5h0M481.6 100.4h0M485.3 112.5h0M485.4 113.1h0M485.4 113h0M485.5 112.9h0M485.5 113.7h0M485.6 113.2h0M485.7 112h0M485.7 113.4h0M485.8 113.6h0M485.8 112.6h0M485.9 114h0M485.9 113.9h0M486 106.3h0M486.1 106h0M486.1 100h0M486.2 106.3h0M486.2 93.3h0M486.3 105h0M486.3 103.5h0M486.4 100.4h0M486.5 97.2h0M486.5 93.1h0M486.6 97.9h0M486.6 83.7h0M486.7 97.8h0M486.7 82.8h0M486.8 93.5h0M486.9 92.4h0M486.9 93h0M487 98.3h0M487 92.8h0M487.1 101.5h0M487.1 93.9h0M487.2 96.3h0M487.2 92.2h0M487.3 87h0M487.4 91h0M487.4 73.4h0M487.5 95.1h0M487.5 94.6h0M487.6 88.5h0M487.6 84.9h0M487.7 88h0M487.8 87.4h0M487.8 93.8h0M487.9 93.4h0M487.9 75.3h0M488 95h0M488 76.7h0M488.1 95.2h0M488.2 88.4h0M488.2 88.6h0M488.3 97.6h0M488.3 94.1h0M488.4 100.9h0M488.4 96.6h0M488.5 98.8h0M488.6 99.9h0M488.6 86.2h0M488.7 94.5h0M488.7 99.9h0M488.8 95.4h0M488.8 97h0M488.9 86.9h0M489 90h0M489 104.1h0M489.1 102.9h0M489.1 97.2h0M489.2 98.9h0M489.2 97.1h0M489.3 102h0M489.4 104.5h0M489.4 105.4h0M489.5 107.1h0M489.5 109.7h0M489.6 107.9h0M494.1 113.6h0M494.1 113.4h0M494.2 113.6h0M494.2 113.6h0M494.3 113.3h0M494.3 113.2h0M494.4 113.4h0M494.5 112.7h0M494.5 113.5h0M494.6 113.3h0M494.6 113.4h0M494.7 112.1h0M494.7 108.9h0M494.8 106.7h0M494.9 103.6h0M494.9 105.9h0M495 105.3h0M495 103.4h0M495.1 99.4h0M495.1 92.9h0M495.2 92.5h0M495.3 103.3h0M495.3 103.2h0M495.4 95h0M495.4 100.6h0M495.5 93.8h0M495.5 102.3h0M495.6 87.1h0M495.7 95h0M495.7 88.4h0M495.8 95.4h0M495.8 100h0M495.9 82.1h0M495.9 97.6h0M496 95.2h0M496.1 82.7h0M496.1 84.2h0M496.2 78.1h0M496.2 96.5h0M496.3 96.6h0M496.3 87.1h0M496.4 90h0M496.5 100.3h0M496.5 97.3h0M496.6 90.2h0M496.6 94.6h0M496.7 88.3h0M496.7 88.8h0M496.8 88.6h0M496.9 93.9h0M496.9 89.1h0M497 97.6h0M497 95.2h0M497.1 84h0M497.1 88.5h0M497.2 91.4h0M497.3 102.1h0M497.3 94.8h0M497.4 82.1h0M497.4 87.3h0M497.5 99.6h0M497.5 89.1h0M497.6 95.1h0M497.7 101.8h0M497.7 89.5h0M497.8 91.8h0M497.8 93.4h0M497.9 89.3h0M497.9 99h0M498 96h0M498.1 103.9h0M498.1 107.7h0M498.2 104h0M498.2 104.5h0M498.3 105.8h0M498.3 105.4h0M501.7 109.5h0M501.8 110.4h0M501.9 113.2h0M501.9 112.8h0M502 111.9h0M502 112.8h0M502.1 113.4h0M502.1 111h0M502.2 113h0M502.3 111.5h0M502.3 110.4h0M502.4 113.4h0M502.4 99.6h0M502.5 82.5h0M502.5 99.9h0M502.6 91.4h0M502.7 94.6h0M502.7 84.9h0M502.8 70.1h0M502.8 80.7h0M502.9 78.2h0M502.9 66.2h0M503 28.4h0M503.1 86.7h0M503.1 84.7h0M503.2 57.1h0M503.2 52.2h0M503.3 63.9h0M503.3 75h0M503.4 65.7h0M503.5 39.3h0M503.5 88.3h0M503.6 65.5h0M503.6 79.4h0M503.7 56.1h0M503.7 67.6h0M503.8 61.2h0M503.9 62.4h0M503.9 83.1h0M504 70.5h0M504 32.5h0M504.1 52.8h0M504.1 53.2h0M504.2 61.6h0M504.3 70.7h0M504.3 65.5h0M504.4 66.4h0M504.4 41.6h0M504.5 67.5h0M504.5 39.2h0M504.6 37h0M504.7 43.4h0M504.7 37.8h0M504.8 63h0M504.8 67.3h0M504.9 68h0M504.9 54.3h0M505 70.5h0M505.1 39.7h0M505.1 78.4h0M505.2 86.9h0M505.2 64.3h0M505.3 65.2h0M505.3 79.8h0M505.4 68.3h0M505.5 80.8h0M505.5 79.8h0M505.6 78.7h0M505.6 61.1h0M505.7 79h0M505.7 80.3h0M505.8 79.2h0M505.9 81.4h0M505.9 90.9h0M506 91.7h0M506 101.7h0M511 112.1h0M511 113.3h0M511.1 113.3h0M511.1 112.7h0M511.2 112.8h0M511.2 112.8h0M511.3 112.8h0M511.4 113.5h0M511.4 112.2h0M511.5 111.4h0M511.5 112.6h0M511.6 113.4h0M511.6 107.5h0M511.7 101.1h0M511.8 101h0M511.8 98.7h0M511.9 98.2h0M511.9 91.1h0M512 89.6h0M512 85.7h0M512.1 86.4h0M512.2 90.9h0M512.2 91.5h0M512.3 85.2h0M512.3 98.2h0M512.4 86.4h0M512.4 84.8h0M512.5 97.6h0M512.6 65.8h0M512.6 67.5h0M512.7 89h0M512.7 77.5h0M512.8 83.1h0M512.8 71.7h0M512.9 73.8h0M513 93.2h0M513 86.3h0M513.1 53.3h0M513.1 90.6h0M513.2 61.8h0M513.2 76.8h0M513.3 88.7h0M513.4 87.7h0M513.4 56.3h0M513.5 81h0M513.5 56.2h0M513.6 68.8h0M513.6 71.4h0M513.7 70.2h0M513.8 73.5h0M513.8 72.6h0M513.9 58.5h0M513.9 71.6h0M514 62.7h0M514 81.1h0M514.1 96.2h0M514.2 83.1h0M514.2 91.5h0M514.3 78.6h0M514.3 79.8h0M514.4 89.4h0M514.4 83.5h0M514.5 83.7h0M514.6 89.5h0M514.6 97.4h0M514.7 88.7h0M514.7 90.1h0M514.8 87.9h0M514.8 86.5h0M514.9 78.6h0M515 95h0M515 96h0M515.1 90.7h0M515.1 101.7h0M515.2 103.7h0M515.2 107.9h0M518.6 113.4h0M518.6 112.3h0M518.7 111.6h0M518.7 112.7h0M518.8 112.3h0M518.8 112.9h0M518.9 111.4h0M519 110.7h0M519 113.4h0M519.1 113.6h0M519.1 111.9h0M519.2 112.2h0M519.2 103.3h0M519.3 103.1h0M519.4 91.5h0M519.4 88.4h0M519.5 87.5h0M519.5 84.6h0M519.6 84.6h0M519.6 89.6h0M519.7 76.3h0M519.8 74.7h0M519.8 78h0M519.9 72.5h0M519.9 73.1h0M520 76.2h0M520 86.7h0M520.1 86.2h0M520.2 78h0M520.2 76.6h0M520.3 76.1h0M520.3 76.7h0M520.4 70h0M520.4 85.3h0M520.5 55.4h0M520.6 87.3h0M520.6 60.8h0M520.7 41.6h0M520.7 75.4h0M520.8 78h0M520.8 65.9h0M520.9 79.3h0M521 82.2h0M521 62.4h0M521.1 66.1h0M521.1 79h0M521.2 54.3h0M521.2 45.1h0M521.3 86.1h0M521.4 74.7h0M521.4 85.2h0M521.5 67.8h0M521.5 87.6h0M521.6 87.5h0M521.6 81.7h0M521.7 62.9h0M521.8 78.4h0M521.8 84.5h0M521.9 78.2h0M521.9 74.5h0M522 93.7h0M522 80.4h0M522.1 71.3h0M522.2 90.2h0M522.2 85.2h0M522.3 89.4h0M522.3 88.2h0M522.4 85h0M522.4 92.4h0M522.5 82h0M522.6 74.7h0M522.6 91.7h0M522.7 100.8h0M522.7 98.6h0M522.8 96.4h0M522.8 99.6h0M527.4 113.2h0M527.4 113.3h0M527.5 113.1h0M527.5 113h0M527.6 112.6h0M527.6 113.4h0M527.7 113.8h0M527.8 113.5h0M527.8 113.3h0M527.9 113.7h0M527.9 113.9h0M528 113.4h0M528 103.6h0M528.1 107.5h0M528.2 100h0M528.2 96.2h0M528.3 103.3h0M528.3 105.3h0M528.4 98h0M528.4 95.2h0M528.5 97.5h0M528.6 99.5h0M528.6 85.1h0M528.7 103.7h0M528.7 95.9h0M528.8 95.3h0M528.8 98.9h0M528.9 96.3h0M529 98.1h0M529 84.8h0M529.1 95.2h0M529.1 98.6h0M529.2 98.2h0M529.2 91.3h0M529.3 96.3h0M529.4 91.6h0M529.4 92h0M529.5 73.9h0M529.5 88.7h0M529.6 93.8h0M529.6 97.3h0M529.7 89h0M529.8 92.3h0M529.8 77.8h0M529.9 89.3h0M529.9 92.3h0M530 90.7h0M530 85h0M530.1 91.4h0M530.2 94.7h0M530.2 95.8h0M530.3 97.2h0M530.3 91.2h0M530.4 99.5h0M530.4 91.4h0M530.5 94.2h0M530.6 96.7h0M530.6 95.4h0M530.7 97.1h0M530.7 83.2h0M530.8 85.9h0M530.8 95.9h0M530.9 90.5h0M531 100h0M531 98.4h0M531.1 94.6h0M531.1 104.1h0M531.2 104h0M531.2 95.6h0M531.3 103.8h0M531.4 100.4h0M531.4 105.2h0M531.5 101.9h0M531.5 100.6h0M531.6 109.5h0M531.6 105.3h0M534.6 112.7h0M534.7 113.4h0M534.7 113.6h0M534.8 112.7h0M534.9 112.9h0M534.9 113.1h0M535 112.3h0M535 113.5h0M535.1 112.8h0M535.1 112.9h0M535.2 111.8h0M535.3 113h0M535.3 102h0M535.4 105.2h0M535.4 106.3h0M535.5 100h0M535.5 98.2h0M535.6 103.3h0M535.7 104.5h0M535.7 89.4h0M535.8 92.4h0M535.8 96.9h0M535.9 93.7h0M535.9 86.2h0M536 92.2h0M536.1 85.6h0M536.1 77.1h0M536.2 94.7h0M536.2 74.1h0M536.3 93.2h0M536.3 84.5h0M536.4 88.6h0M536.5 97.3h0M536.5 88.2h0M536.6 80.3h0M536.6 84h0" stroke="#1f77b4" stroke-width="1.5" stroke-linecap="round"/>
<polyline points="315.6,93.7 315.6,92.6 315.7,92 315.7,92.1 315.8,89.9 315.8,90.1 315.9,90.2 316,89.1 316,88 316.1,87.6 316.1,86.7 316.2,85.3 316.2,85.3 316.3,84.2 316.4,84.1 316.4,84.1 316.5,82.4 316.5,82.8 316.6,81.4 316.6,80.9 316.7,80.9 316.8,80.2 316.8,79.3 316.9,78.4 316.9,77.3 317,77.2 317,75.7 317.1,76.4 317.2,77.3 317.2,77.4 317.3,77.3 317.3,77.8 317.4,77.8 317.4,77.6 317.5,78 317.6,77.9 317.6,78.8 317.7,79.1 317.7,79.6 317.8,79.9 317.8,79.5 317.9,79.5 318,79.8 318,79.9 318.1,79.2 318.1,80.8 318.2,80.6 318.2,80.9 321.6,80.7 321.6,82.2 321.7,84.8 321.7,85.8 321.8,88.9 321.8,91.2 321.9,93.3 322,93.5 322,95.8 322.1,98.7 322.1,99.5 322.2,102.2 322.2,104.1 322.3,103.9 322.4,102.3 322.4,100.9 322.5,99.9 322.5,99.3 322.6,97.4 322.6,96.1 322.7,96.4 322.8,94.7 322.8,94.8 322.9,92.7 322.9,92.5 323,91 323,89.8 323.1,89 323.2,87.2 323.2,87.3 323.3,86.1 323.3,84.6 323.4,83.8 323.4,82.7 323.5,81.9 323.6,81.3 323.6,79.4 323.7,78.7 323.7,77.2 323.8,75.9 323.8,75.9 323.9,75.2 324,74 324,73.1 324.1,72.9 324.1,69.7 324.2,69.4 324.2,67.2 324.3,68 324.4,66.3 324.4,65.5 324.5,64.7 324.5,63 324.6,62.6 324.6,61.6 324.7,61.5 324.8,63 324.8,62.1 324.9,62.2 324.9,60.7 325,61.4 325,61.3 325.1,61.4 325.2,62 325.2,60.9 325.3,62 325.3,62.8 325.4,61.6 325.4,61.3 325.5,62 325.6,61.8 325.6,61.5 325.7,61.2 325.7,61.8 325.8,61.2 325.8,62 329.7,61.8 329.7,65.2 329.8,69.6 329.8,72.5 329.9,76.9 329.9,78.8 330,83.4 330.1,86 330.1,90.2 330.2,93.8 330.2,96.3 330.3,101 330.3,103.4 330.4,103.5 330.5,103 330.5,102.3 330.6,100.6 330.6,100.4 330.7,99.8 330.7,99.7 330.8,97.6 330.9,97 330.9,96.6 331,95.6 331,96.9 331.1,94.8 331.1,93.7 331.2,93 331.3,92.6 331.3,91.5 331.4,91.3 331.4,90.5 331.5,90 331.5,88.6 331.6,88.3 331.7,87.5 331.7,85.8 331.8,85.8 331.8,85.1 331.9,85.1 331.9,83.9 332,82.4 332.1,81.9 332.1,81.4 332.2,80.8 332.2,79.9 332.3,79 332.3,78.6 332.4,79 332.5,76.1 332.5,75.7 332.6,75.6 332.6,74.1 332.7,74.7 332.7,72.7 332.8,73.3 332.9,73.1 332.9,73.8 333,73.6 333,73.5 333.1,73.3 333.1,73.6 333.2,73.8 333.3,74.3 333.3,73.3 333.4,74.1 333.4,74.4 333.5,74.5 333.5,75 333.6,74.9 333.7,75.3 333.7,74.6 333.8,74.8 333.8,74.7 333.9,75.5 333.9,75.2 338.5,75 338.5,77.6 338.6,80.5 338.6,82 338.7,85 338.7,86.8 338.8,89.1 338.9,91.9 338.9,95.2 339,97.2 339,98.6 339.1,101.5 339.1,103.5 339.2,104.4 339.3,102.9 339.3,102.4 339.4,102.4 339.4,101.4 339.5,100.1 339.5,99.7 339.6,99.5 339.7,98.6 339.7,97.6 339.8,98 339.8,96.8 339.9,95.9 339.9,96.1 340,94.6 340.1,94.6 340.1,93.5 340.2,93 340.2,92.7 340.3,92.3 340.3,91.9 340.4,91 340.5,90.4 340.5,89.3 340.6,89.3 340.6,88.5 340.7,87.4 340.7,87.3 340.8,86.7 340.9,85.6 340.9,85.7 341,84.9 341,84.2 341.1,84 341.1,83.8 341.2,83.4 341.3,82.2 341.3,81.1 341.4,80.6 341.4,79.7 341.5,79.4 341.5,79.5 341.6,80.3 341.7,80.5 341.7,80.9 341.8,81.6 341.8,81.5 341.9,82.7 341.9,82.7 342,83.1 342.1,84.7 342.1,84.7 342.2,84.5 342.2,85.2 342.3,86 342.3,87.1 342.4,87.4 342.5,87.6 342.5,87.7 342.6,88.5 342.6,89.3 342.7,89.7 342.7,90 346.9,90.8 346.9,91.6 347,92.4 347,94.3 347.1,94.6 347.1,96.1 347.2,97.3 347.3,98.1 347.3,99.9 347.4,101.4 347.4,101.7 347.5,103.2 347.5,104.1 347.6,103.9 347.7,103.1 347.7,102.4 347.8,101.8 347.8,100.8 347.9,100.1 347.9,99 348,96.8 348.1,97.9 348.1,97.6 348.2,95.9 348.2,96 348.3,95.1 348.3,94.2 348.4,93.3 348.5,92.5 348.5,91.7 348.6,91.2 348.6,89.9 348.7,89.3 348.7,89.2 348.8,88.4 348.9,88.2 348.9,86.5 349,86.2 349,84.5 349.1,85 349.1,83.2 349.2,83.7 349.3,83.3 349.3,82.2 349.4,80.9 349.4,79.9 349.5,80.1 349.5,78.5 349.6,78.5 349.7,77.7 349.7,76.9 349.8,75.3 349.8,75.3 349.9,74.5 349.9,74.6 350,73.8 350.1,73.8 350.1,73.1 350.2,74.3 350.2,74.2 350.3,74.3 350.3,74.2 350.4,73.6 350.5,74.3 350.5,73.3 350.6,73.9 350.6,74.3 350.7,74.2 350.7,74.6 350.8,74.6 350.9,73.4 350.9,73.5 351,74.4 351,74.1 351.1,73.1 351.1,74.2 353.8,74.9 353.8,77 353.9,79.2 354,81.2 354,84.2 354.1,86.4 354.1,88.4 354.2,90.1 354.2,93.6 354.3,96.9 354.4,98.6 354.4,101.5 354.5,103.9 354.5,103 354.6,102.4 354.6,102.7 354.7,101.9 354.8,100.6 354.8,99.8 354.9,98.5 354.9,98.5 355,98.3 355,97.7 355.1,97.1 355.2,96.8 355.2,96.1 355.3,95.1 355.3,94.2 355.4,93.9 355.4,92.9 355.5,92.4 355.6,91.7 355.6,91.1 355.7,90.2 355.7,89.6 355.8,90.1 355.8,88.2 355.9,87.6 356,87.3 356,86.3 356.1,86 356.1,85 356.2,84.8 356.2,83.4 356.3,82.9 356.4,83.1 356.4,82.1 356.5,80.8 356.5,80.3 356.6,79.7 356.6,79.7 356.7,78.8 356.8,77.8 356.8,77.1 356.9,76.5 356.9,76.9 357,76.6 357,76.8 357.1,77 357.2,77 357.2,76.9 357.3,77.2 357.3,76.3 357.4,76.2 357.4,76.1 357.5,76.9 357.6,76.9 357.6,76.4 357.7,76.7 357.7,76.7 357.8,76.7 357.8,77.2 357.9,76 358,77.2 358,77.2 358.1,76.2 362.5,76.4 362.5,78.3 362.6,81.6 362.6,83 362.7,86 362.7,87.9 362.8,90.4 362.9,93.5 362.9,94.9 363,97 363,99.1 363.1,102 363.1,104.5 363.2,103.2 363.3,103.1 363.3,101.9 363.4,101.2 363.4,101.3 363.5,100.7 363.5,100.4 363.6,100.3 363.7,98.9 363.7,98.1 363.8,97.4 363.8,97.3 363.9,96 363.9,96.3 364,95.6 364.1,95.2 364.1,94.6 364.2,93.9 364.2,93.5 364.3,92.9 364.3,92 364.4,91.5 364.5,91.4 364.5,90.2 364.6,90.2 364.6,89.1 364.7,88.7 364.7,88.9 364.8,88 364.9,86.7 364.9,86.7 365,86.2 365,85.5 365.1,84.7 365.1,84 365.2,83.8 365.3,82.4 365.3,82.7 365.4,82.1 365.4,81.4 365.5,80.7 365.5,79.7 365.6,79.3 365.7,80.4 365.7,80.3 365.8,80 365.8,80.3 365.9,79.9 365.9,80.6 366,79.9 366.1,81.1 366.1,80 366.2,80 366.2,79.3 366.3,80.6 366.3,80 366.4,80 366.5,80.6 366.5,80.1 366.6,80.6 366.6,80.7 366.7,80.8 366.7,80.3 371.3,80.1 371.3,82.2 371.4,84.4 371.4,85 371.5,87.7 371.5,89.9 371.6,92 371.7,93.7 371.7,96.9 371.8,97.7 371.8,100.3 371.9,103.1 371.9,103.6 372,103.7 372.1,102.6 372.1,102.5 372.2,101.7 372.2,100.2 372.3,100.1 372.3,99.5 372.4,99.7 372.5,98 372.5,98 372.6,96.9 372.6,96.9 372.7,95.7 372.7,95 372.8,95.2 372.9,93.8 372.9,93.7 373,92.2 373,91.9 373.1,91.4 373.1,89.5 373.2,89.8 373.3,89.7 373.3,88.6 373.4,88.2 373.4,87.1 373.5,87.5 373.5,85.6 373.6,86 373.7,85.3 373.7,84.8 373.8,84 373.8,82.4 373.9,82.6 373.9,82.5 374,81.4 374.1,80.6 374.1,79.7 374.2,79.6 374.2,78.8 374.3,77 374.3,77.7 374.4,77.5 374.5,78.1 374.5,77.2 374.6,77.8 374.6,76.8 374.7,77.1 374.7,77.2 374.8,77.8 374.9,77.7 374.9,77.8 375,77.6 375,77.7 375.1,77.8 375.1,77.5 375.2,77.6 375.3,77.8 375.3,77.2 375.4,77.1 375.4,77.8 375.5,76.7 375.5,77.4 378.9,76.8 378.9,79.8 379,81.9 379,83.9 379.1,85.9 379.1,88.2 379.2,91.3 379.3,93.5 379.3,95.5 379.4,98.9 379.4,100.3 379.5,101.9 379.5,104.4 379.6,103.6 379.7,101.8 379.7,101.3 379.8,100.1 379.8,99.8 379.9,99.1 379.9,98.4 380,97 380.1,97.2 380.1,95.8 380.2,94.2 380.2,93.2 380.3,92.8 380.3,92.5 380.4,90.7 380.5,90.5 380.5,89.3 380.6,88.9 380.6,86.6 380.7,85.9 380.7,86.2 380.8,85.5 380.9,84.1 380.9,82.9 381,81.7 381,81.5 381.1,81.2 381.1,79.6 381.2,78.7 381.3,78.8 381.3,77.2 381.4,76.4 381.4,75.9 381.5,74.4 381.5,73.1 381.6,72.2 381.7,72.4 381.7,71.3 381.8,69.8 381.8,69.5 381.9,68.6 381.9,66.4 382,68.9 382.1,67.9 382.1,68 382.2,67.6 382.2,66.6 382.3,67.6 382.3,67.7 382.4,67.5 382.5,67.7 382.5,67.3 382.6,66.2 382.6,67.9 382.7,67.7 382.7,67.6 382.8,68.7 382.9,67.2 382.9,67.6 383,68.6 383,67.7 383.1,67.5 383.1,68 387.3,67.4 387.3,70.2 387.4,73 387.4,76.6 387.5,79.5 387.5,82.8 387.6,85.7 387.7,89.2 387.7,91.4 387.8,94.6 387.8,97.8 387.9,101 387.9,104.4 388,103.8 388.1,103.2 388.1,102.3 388.2,100.7 388.2,100.2 388.3,100.4 388.3,99.5 388.4,97.6 388.5,96.8 388.5,96.4 388.6,95.1 388.6,95.8 388.7,94.5 388.7,94.3 388.8,92.2 388.9,92.3 388.9,91.6 389,90.9 389,90.7 389.1,89.7 389.1,90.1 389.2,88.5 389.3,88 389.3,86.4 389.4,85.4 389.4,85.2 389.5,85.1 389.5,84.5 389.6,82.8 389.7,82.6 389.7,81.9 389.8,81.6 389.8,80.2 389.9,79.5 389.9,78.5 390,78.6 390.1,77.5 390.1,77.4 390.2,75.9 390.2,75.3 390.3,74.8 390.3,73.4 390.4,74.5 390.5,73.1 390.5,73.7 390.6,73.6 390.6,73.7 390.7,74.2 390.7,74.1 390.8,73.4 390.9,73.9 390.9,73.7 391,74 391,73.4 391.1,73.5 391.1,74.5 391.2,72.9 391.3,73.3 391.3,73.4 391.4,73.7 391.4,73.9 391.5,73.4 391.5,72.6 395.3,74.6 395.3,77.5 395.4,78.8 395.4,80.8 395.5,83.9 395.5,86.7 395.6,88.7 395.7,91.7 395.7,94.7 395.8,96.7 395.8,98.6 395.9,101.4 395.9,103.7 396,103.5 396.1,102.2 396.1,101 396.2,101.2 396.2,100.5 396.3,98.8 396.3,98.6 396.4,98.5 396.5,97.4 396.5,95.7 396.6,95.4 396.6,93.9 396.7,93.7 396.7,93.2 396.8,92 396.9,92.1 396.9,90.4 397,90.3 397,89.6 397.1,88.5 397.1,88.2 397.2,87.7 397.3,86.8 397.3,85.3 397.4,84.7 397.4,84 397.5,82.9 397.5,83 397.6,82 397.7,80.2 397.7,80.7 397.8,78.8 397.8,78.8 397.9,77.7 397.9,77 398,76.5 398.1,75.6 398.1,74.4 398.2,74.4 398.2,73.8 398.3,72.1 398.3,72 398.4,71.9 398.5,71.9 398.5,72 398.6,72.7 398.6,71.8 398.7,72 398.7,72.5 398.8,72.1 398.9,71.7 398.9,70.9 399,72.1 399,71.1 399.1,72 399.1,71.5 399.2,71.9 399.3,71.4 399.3,71.7 399.4,72 399.4,72.6 399.5,71.3 399.5,72.5 403.4,71.8 403.4,74.1 403.5,76.9 403.5,79.8 403.6,82.7 403.6,85.1 403.7,87.6 403.8,91.1 403.8,93.4 403.9,95.8 403.9,98.5 404,101.2 404,103.3 404.1,103 404.2,103.4 404.2,101.6 404.3,102 404.3,101.4 404.4,100 404.4,100 404.5,100 404.6,98.4 404.6,97.9 404.7,97.3 404.7,97.5 404.8,96 404.8,96 404.9,94.8 405,95.1 405,94.4 405.1,94.2 405.1,93.1 405.2,91.7 405.2,91.5 405.3,91.3 405.4,89.8 405.4,89.7 405.5,88.9 405.5,88.5 405.6,88.1 405.6,87.4 405.7,86.7 405.8,85.8 405.8,85.4 405.9,84.7 405.9,85 406,84.7 406,83.2 406.1,82.7 406.2,81.9 406.2,82 406.3,80.9 406.3,80.8 406.4,79.7 406.4,79.2 406.5,79.3 406.6,79 406.6,79.4 406.7,79.2 406.7,78.9 406.8,78.5 406.8,79 406.9,78.8 407,78.9 407,78.5 407.1,78.3 407.1,79.5 407.2,78.9 407.2,79 407.3,78.5 407.4,80.2 407.4,79.5 407.5,79.9 407.5,78.6 407.6,79.1 407.6,78.9 411.7,79.7 411.7,81.2 411.8,83.2 411.8,85.3 411.9,87.1 411.9,89.2 412,91.4 412.1,93.7 412.1,95.7 412.2,97.1 412.2,100.5 412.3,101.5 412.3,103.9 412.4,103.8 412.5,103 412.5,102.3 412.6,102.6 412.6,101.5 412.7,100.9 412.7,100.9 412.8,100 412.9,99.1 412.9,99 413,98.9 413,98.7 413.1,98.3 413.1,96.8 413.2,96.7 413.3,96.2 413.3,95.7 413.4,95.4 413.4,94.1 413.5,93.9 413.5,93.2 413.6,93.7 413.7,92.5 413.7,92 413.8,92.2 413.8,91.6 413.9,91.1 413.9,89.9 414,89.7 414.1,89.5 414.1,88.5 414.2,88.5 414.2,87.8 414.3,87.3 414.3,87.1 414.4,86 414.5,85.8 414.5,86.2 414.6,84.9 414.6,83.8 414.7,84.7 414.7,83.1 414.8,83.3 414.9,83.8 414.9,83.4 415,83.8 415,83.9 415.1,83.3 415.1,83.3 415.2,84 415.3,83.6 415.3,83.4 415.4,84 415.4,83 415.5,83.7 415.5,83.2 415.6,83.2 415.7,83.7 415.7,83.3 415.8,83.3 415.8,83.2 415.9,83.5 415.9,83 420.1,83.2 420.1,85.4 420.2,86.1 420.2,88.9 420.3,89.9 420.3,91.3 420.4,94.2 420.5,94.8 420.5,97.2 420.6,99.4 420.6,99.7 420.7,101.4 420.7,104.2 420.8,102.5 420.9,101.6 420.9,101.3 421,99.1 421,99.5 421.1,98.9 421.1,97.6 421.2,96.7 421.3,96 421.3,95 421.4,94.7 421.4,92.6 421.5,92.8 421.5,90.5 421.6,89.8 421.7,89.5 421.7,88.6 421.8,87.8 421.8,86.5 421.9,84.6 421.9,84.5 422,84 422.1,81.9 422.1,82.2 422.2,81.2 422.2,78.9 422.3,78.8 422.3,77.6 422.4,77 422.5,76.1 422.5,75.1 422.6,74.2 422.6,72.4 422.7,73.4 422.7,73.2 422.8,71.1 422.9,70.8 422.9,69 423,68.8 423,67.2 423.1,65.7 423.1,65.7 423.2,65.8 423.3,65 423.3,65.8 423.4,65.4 423.4,65.5 423.5,66.1 423.5,64.9 423.6,66 423.7,64.9 423.7,65.2 423.8,66 423.8,65.6 423.9,64.9 423.9,65.6 424,64.2 424.1,66 424.1,64.7 424.2,66.3 424.2,65.5 424.3,64.8 424.3,66.5 427.8,65.3 427.8,68.3 427.9,71.7 427.9,75.5 428,77.9 428.1,81.7 428.1,84.7 428.2,88 428.2,91.2 428.3,95.5 428.3,97.1 428.4,100.6 428.5,104 428.5,102.9 428.6,102.6 428.6,101.6 428.7,100.4 428.7,101 428.8,99.4 428.9,98.5 428.9,97.4 429,96.7 429,96 429.1,94.6 429.1,93.5 429.2,92.8 429.3,91.7 429.3,91.1 429.4,89.7 429.4,88.8 429.5,89 429.5,88.4 429.6,87.4 429.7,86.4 429.7,85 429.8,84.3 429.8,83.6 429.9,83.2 429.9,82.2 430,81.3 430.1,80.2 430.1,81.1 430.2,78.5 430.2,77.5 430.3,77.3 430.3,75.3 430.4,74.8 430.5,74 430.5,74.4 430.6,72.2 430.6,71.7 430.7,70.9 430.7,71.3 430.8,70.1 430.9,68.6 430.9,69.1 431,67.7 431,69 431.1,68 431.1,68.2 431.2,66.9 431.3,68.4 431.3,67.6 431.4,68.7 431.4,69 431.5,68.2 431.5,67.7 431.6,68.7 431.7,67.9 431.7,68.1 431.8,68.4 431.8,68.3 431.9,68.3 431.9,68.7 432,68.3 432.1,68.2 436.5,68.6 436.5,71.6 436.6,74.8 436.6,77.6 436.7,79.6 436.7,83.7 436.8,84.9 436.9,90 436.9,93.4 437,95.5 437,98.8 437.1,100.4 437.1,103.8 437.2,103.8 437.3,102.6 437.3,101.9 437.4,99.6 437.4,100.1 437.5,99.2 437.5,98.3 437.6,97.7 437.7,97 437.7,96.7 437.8,95.4 437.8,94.6 437.9,94.6 437.9,93.1 438,93 438.1,92.4 438.1,90.8 438.2,89.7 438.2,88.7 438.3,88.7 438.3,88.4 438.4,87.4 438.5,86.2 438.5,85.4 438.6,84.3 438.6,83.9 438.7,82.4 438.7,82.5 438.8,81.2 438.9,80.3 438.9,79.7 439,78.8 439,78.9 439.1,77.1 439.1,77 439.2,76 439.3,75.7 439.3,74.2 439.4,73.8 439.4,73.2 439.5,71.7 439.5,71.7 439.6,71.1 439.7,71.2 439.7,71 439.8,71.2 439.8,71.9 439.9,71.2 439.9,71.1 440,70.3 440.1,70.3 440.1,70.8 440.2,70.8 440.2,72.6 440.3,71.5 440.3,71.8 440.4,70.9 440.5,71 440.5,71 440.6,71 440.6,71.1 440.7,71.3 440.7,71.6 444.6,71.2 444.6,73.8 444.7,76.7 444.7,79.4 444.8,81.8 444.8,85.6 444.9,88 445,90.6 445,93.8 445.1,95.6 445.1,98.8 445.2,101.7 445.2,104.7 445.3,103.7 445.4,102.2 445.4,102.3 445.5,100.4 445.5,99.8 445.6,99.2 445.6,99.4 445.7,98.2 445.8,96.5 445.8,96.4 445.9,95.8 445.9,95 446,93.7 446,94 446.1,91.8 446.2,91.4 446.2,91.3 446.3,89.7 446.3,90.6 446.4,89 446.4,87.5 446.5,86.1 446.6,86.7 446.6,86 446.7,84.5 446.7,83.7 446.8,83.3 446.8,82.6 446.9,80.6 447,81.1 447,80.7 447.1,79.3 447.1,77.6 447.2,77.1 447.2,76.7 447.3,76.6 447.4,75.2 447.4,72.9 447.5,73.3 447.5,72.3 447.6,72.8 447.6,71.4 447.7,71.5 447.8,70.3 447.8,71.4 447.9,71.3 447.9,71.5 448,72.7 448,70.6 448.1,72.2 448.2,71.5 448.2,72.1 448.3,71.5 448.3,71.5 448.4,71.5 448.4,70.5 448.5,71.9 448.6,71.4 448.6,71 448.7,71.5 448.7,71.5 448.8,70.2 448.8,70.8 452.9,71.2 452.9,74.3 453,77.6 453,79.6 453.1,82.2 453.1,84.7 453.2,88.1 453.3,91 453.3,94.1 453.4,95.8 453.4,98.9 453.5,101 453.5,104.8 453.6,102.6 453.7,102.6 453.7,101.8 453.8,100.8 453.8,99.8 453.9,98.9 453.9,99.5 454,98.1 454.1,96.8 454.1,95.9 454.2,95.3 454.2,95.1 454.3,93.7 454.3,93.2 454.4,92.3 454.5,90.9 454.5,90.8 454.6,89.8 454.6,88.5 454.7,87.9 454.7,88.3 454.8,87.4 454.9,87.1 454.9,84.8 455,84.6 455,84 455.1,83 455.1,82.8 455.2,81.1 455.3,81.1 455.3,79.4 455.4,78.9 455.4,78.3 455.5,77.2 455.5,76.8 455.6,75.9 455.7,74.5 455.7,73.5 455.8,73.3 455.8,72.1 455.9,72.8 455.9,71.2 456,71.3 456.1,71.5 456.1,71 456.2,70.3 456.2,71 456.3,70.7 456.3,70.5 456.4,70.6 456.5,71.2 456.5,71.5 456.6,70.6 456.6,70.8 456.7,71.5 456.7,70.4 456.8,71.7 456.9,71.9 456.9,71.3 457,71.9 457,71.3 457.1,71.3 457.1,71.5 461.8,70.8 461.8,73.9 461.9,76.2 461.9,79.2 462,82.4 462,85.1 462.1,87.7 462.2,90.7 462.2,92.5 462.3,96.5 462.3,97.8 462.4,101.7 462.4,104.5 462.5,103.4 462.6,103.2 462.6,101 462.7,100.3 462.7,99.6 462.8,98.7 462.8,98.2 462.9,99 463,97 463,96.9 463.1,95.4 463.1,95.2 463.2,94.5 463.2,94 463.3,92.5 463.4,91.5 463.4,91.8 463.5,90.3 463.5,89.5 463.6,89 463.6,88.3 463.7,86.9 463.8,86.1 463.8,85.6 463.9,84.8 463.9,84.1 464,84 464,83 464.1,82.2 464.2,81.9 464.2,80.3 464.3,79 464.3,78.1 464.4,78.5 464.4,77.9 464.5,77.3 464.6,75.8 464.6,75.4 464.7,74 464.7,74.4 464.8,73 464.8,72.7 464.9,72.2 465,72.5 465,73.3 465.1,71.9 465.1,72.3 465.2,72.3 465.2,72.4 465.3,72.8 465.4,72.3 465.4,72 465.5,71.5 465.5,72.2 465.6,72.6 465.6,71.8 465.7,72.5 465.8,72.5 465.8,72.4 465.9,72 465.9,72.9 466,72.3 466,72.4 468.9,72.6 468.9,75.6 469,77.3 469,79.9 469.1,82.6 469.2,85 469.2,88.6 469.3,90.5 469.3,93.5 469.4,96.3 469.4,98.7 469.5,101.9 469.6,104.2 469.6,103.3 469.7,103.4 469.7,101.2 469.8,100.7 469.8,100.1 469.9,98.9 470,98.7 470,98 470.1,96.8 470.1,97.1 470.2,96.8 470.2,95 470.3,94.8 470.4,93.5 470.4,93 470.5,92.9 470.5,91.9 470.6,91.6 470.6,90.4 470.7,89.8 470.8,88.6 470.8,87.4 470.9,87.4 470.9,86.9 471,86 471,85.4 471.1,84.9 471.2,83.8 471.2,83.8 471.3,82.9 471.3,81.7 471.4,80.6 471.4,80.1 471.5,79.8 471.6,78.4 471.6,78 471.7,76.7 471.7,76.5 471.8,76 471.8,75.9 471.9,74 472,73.4 472,73.2 472.1,74.1 472.1,74.4 472.2,73.2 472.2,73.9 472.3,75 472.4,73.6 472.4,74.5 472.5,73.2 472.5,73.4 472.6,74.8 472.6,73.7 472.7,73.9 472.8,73.6 472.8,74.5 472.9,74.6 472.9,73.5 473,74.8 473,73.9 473.1,73.7 473.2,73.5 477.4,73.6 477.4,76.5 477.5,78.8 477.5,81.8 477.6,84.1 477.6,85.5 477.7,89.4 477.8,91.6 477.8,94 477.9,96.4 477.9,98.7 478,102.3 478,104.4 478.1,103.3 478.2,102.1 478.2,100.9 478.3,100.1 478.3,99.4 478.4,99 478.4,98.2 478.5,97.3 478.6,95.2 478.6,93.8 478.7,94.3 478.7,93.6 478.8,92.1 478.8,90.8 478.9,90.3 479,89.2 479,87.7 479.1,86.9 479.1,86.5 479.2,86 479.2,84.4 479.3,82.7 479.4,83.4 479.4,80.6 479.5,80.4 479.5,78.7 479.6,79 479.6,78.2 479.7,77.6 479.8,75.7 479.8,74.8 479.9,74.1 479.9,72.9 480,71.8 480,71.6 480.1,69.6 480.2,70.1 480.2,68.5 480.3,67.1 480.3,66.5 480.4,65.3 480.4,65.4 480.5,64.7 480.6,64.5 480.6,65.3 480.7,64.2 480.7,65.2 480.8,65 480.8,65.3 480.9,64.4 481,65 481,64.1 481.1,64 481.1,64.7 481.2,64.2 481.2,63.5 481.3,65.5 481.4,65.5 481.4,63.5 481.5,65 481.5,62.8 481.6,64 481.6,65.8 485.3,64.1 485.4,68.3 485.4,70.7 485.5,73.9 485.5,77.7 485.6,80.7 485.7,84.4 485.7,87.7 485.8,90.7 485.8,94 485.9,97.4 485.9,100.6 486,104.5 486.1,104.1 486.1,102.6 486.2,103.2 486.2,102.2 486.3,101.4 486.3,99.8 486.4,99.2 486.5,97.4 486.5,98.3 486.6,97.7 486.6,96.9 486.7,96.9 486.7,95.1 486.8,95.3 486.9,94.6 486.9,93.5 487,93.2 487,92.1 487.1,91.3 487.1,90.6 487.2,90.3 487.2,90.1 487.3,89 487.4,88.9 487.4,88.4 487.5,87.8 487.5,85.9 487.6,86.4 487.6,84.6 487.7,84.5 487.8,83.9 487.8,83.1 487.9,81.7 487.9,82.5 488,81 488,80.7 488.1,80.3 488.2,80.2 488.2,79 488.3,78.3 488.3,77.2 488.4,76.2 488.4,76.4 488.5,76.7 488.6,75.8 488.6,76.9 488.7,76.6 488.7,76.7 488.8,76.3 488.8,76.4 488.9,76.6 489,76.3 489,76.4 489.1,76.9 489.1,76.1 489.2,76.8 489.2,76.9 489.3,76.2 489.4,76.8 489.4,76.5 489.5,75.4 489.5,76.2 489.6,76.8 494.1,75.9 494.1,78.9 494.2,81.9 494.2,83.8 494.3,85.4 494.3,87.2 494.4,90.2 494.5,92.7 494.5,93.9 494.6,97.8 494.6,99 494.7,102.4 494.7,104.8 494.8,103.9 494.9,102.5 494.9,102.2 495,101.8 495,100.9 495.1,100.8 495.1,99.3 495.2,99.3 495.3,98.5 495.3,98.7 495.4,97.6 495.4,97.5 495.5,96.1 495.5,96.5 495.6,94.9 495.7,94.1 495.7,93.8 495.8,92.9 495.8,92.2 495.9,92.3 495.9,91.8 496,91.2 496.1,90.5 496.1,89.9 496.2,89.4 496.2,87.9 496.3,88.1 496.3,87.7 496.4,86.3 496.5,86.8 496.5,85.7 496.6,84.9 496.6,84.3 496.7,84.5 496.7,83.9 496.8,83.3 496.9,82.5 496.9,81.1 497,81 497,80.2 497.1,80.2 497.1,79.4 497.2,78.9 497.3,79.1 497.3,79.3 497.4,78.8 497.4,79.5 497.5,79.4 497.5,79.4 497.6,79.5 497.7,78.9 497.7,79.8 497.8,79 497.8,80 497.9,79.9 497.9,79.2 498,79.1 498.1,79.3 498.1,80.1 498.2,78.7 498.2,78.7 498.3,79.6 498.3,78.7 501.7,79.7 501.8,80.9 501.9,83.2 501.9,85 502,87 502,88.6 502.1,91.9 502.1,93 502.2,95.6 502.3,97.9 502.3,99 502.4,101.1 502.4,104.9 502.5,102.6 502.5,101.8 502.6,102.1 502.7,101 502.7,99.8 502.8,98.9 502.8,97.4 502.9,96.4 502.9,97 503,96.9 503.1,94.9 503.1,93.4 503.2,92.5 503.2,91.1 503.3,90.3 503.3,89.5 503.4,89.9 503.5,87.6 503.5,88 503.6,85.7 503.6,85.2 503.7,84.6 503.7,83.6 503.8,82.8 503.9,82.4 503.9,82.2 504,80 504,79.3 504.1,78.5 504.1,78.1 504.2,76.5 504.3,76.5 504.3,76.1 504.4,73.8 504.4,73.7 504.5,73.1 504.5,72.1 504.6,70.1 504.7,69.9 504.7,69.5 504.8,68.9 504.8,68 504.9,67.6 504.9,68.4 505,67.7 505.1,67.7 505.1,68.2 505.2,67.7 505.2,68 505.3,67.5 505.3,66.7 505.4,66.5 505.5,68.1 505.5,67.6 505.6,67.2 505.6,67.7 505.7,68.4 505.7,67.9 505.8,68.1 505.9,68.2 505.9,67.4 506,67.6 506,68 511,67.1 511,71.1 511.1,73.7 511.1,76.5 511.2,79.6 511.2,82.9 511.3,86.1 511.4,89 511.4,91.8 511.5,94.9 511.5,97.2 511.6,100.8 511.6,103.7 511.7,103 511.8,102.8 511.8,101.5 511.9,101.5 511.9,100 512,99.4 512,99.3 512.1,97.9 512.2,97.8 512.2,96.5 512.3,96.7 512.3,95.3 512.4,94.1 512.4,94.3 512.5,94.2 512.6,93 512.6,91.6 512.7,91.2 512.7,91.2 512.8,90 512.8,89.2 512.9,89.2 513,87.8 513,86.9 513.1,86.3 513.1,85.6 513.2,84.1 513.2,84.7 513.3,83.5 513.4,82 513.4,81.7 513.5,81.8 513.5,80.2 513.6,80.9 513.6,79.2 513.7,78 513.8,78.2 513.8,76.5 513.9,76 513.9,75.4 514,73.4 514,73.5 514.1,73.9 514.2,74.7 514.2,74.7 514.3,74.1 514.3,73.9 514.4,73.6 514.4,74.4 514.5,74.1 514.6,73.7 514.6,74.7 514.7,74 514.7,73.5 514.8,74.1 514.8,73.8 514.9,73.9 515,73.7 515,73.7 515.1,74 515.1,74.1 515.2,74.1 515.2,73.6 518.6,73.7 518.6,76.4 518.7,78.5 518.7,81.1 518.8,84 518.8,86.8 518.9,89.3 519,90.7 519,94.2 519.1,96.7 519.1,99.2 519.2,102.1 519.2,103.8 519.3,103.4 519.4,102.4 519.4,101.2 519.5,101.3 519.5,100.4 519.6,100.1 519.6,98.6 519.7,98.1 519.8,97.1 519.8,96.1 519.9,96.8 519.9,94.7 520,95.3 520,94.5 520.1,94.2 520.2,91.8 520.2,92.1 520.3,90.8 520.3,90.7 520.4,88.9 520.4,89.6 520.5,88.3 520.6,88.1 520.6,87 520.7,85.4 520.7,85.2 520.8,84.5 520.8,83.6 520.9,83.5 521,83.1 521,82.3 521.1,81.3 521.1,79.8 521.2,79.6 521.2,79.2 521.3,78.2 521.4,77.8 521.4,76.4 521.5,75.7 521.5,75.7 521.6,73.8 521.6,74.5 521.7,73.7 521.8,74.1 521.8,73.5 521.9,73.5 521.9,73.9 522,73.8 522,74.6 522.1,74.6 522.2,73.9 522.2,73.8 522.3,74.2 522.3,73.6 522.4,73.4 522.4,74.7 522.5,73.7 522.6,73 522.6,73.9 522.7,73.9 522.7,73.9 522.8,73.7 522.8,75.1 527.4,73.8 527.4,76.5 527.5,78.5 527.5,81.3 527.6,84.6 527.6,86.3 527.7,87.9 527.8,91.2 527.8,93.5 527.9,96.3 527.9,98.4 528,101.8 528,104.3 528.1,103.7 528.2,103.5 528.2,102.7 528.3,101.3 528.3,101.5 528.4,100.9 528.4,99.6 528.5,99.3 528.6,99.1 528.6,98.6 528.7,97.9 528.7,97.2 528.8,96.3 528.8,96 528.9,95.9 529,95 529,95 529.1,94.1 529.1,92.6 529.2,93.2 529.2,92.3 529.3,91.2 529.4,90.9 529.4,90.6 529.5,90.2 529.5,89.6 529.6,88.5 529.6,88.2 529.7,87.5 529.8,86.8 529.8,87.1 529.9,86.6 529.9,85.2 530,84.4 530,84.2 530.1,83.3 530.2,83.7 530.2,82.6 530.3,82.2 530.3,81.6 530.4,80.6 530.4,81.3 530.5,80.4 530.6,79.8 530.6,80.4 530.7,80.7 530.7,80.1 530.8,80.8 530.8,79.9 530.9,80.5 531,79.7 531,80.1 531.1,80.7 531.1,80.3 531.2,80.3 531.2,80 531.3,80.8 531.4,79.9 531.4,80.6 531.5,81 531.5,80.3 531.6,80.6 531.6,80.2 534.6,80.4 534.7,82.1 534.7,84.3 534.8,86.1 534.9,88.6 534.9,90.4 535,91.9 535,93.7 535.1,96 535.1,98.2 535.2,99.9 535.3,102.3 535.3,103.5 535.4,104.1 535.4,103 535.5,102.2 535.5,102.2 535.6,102 535.7,101.3 535.7,100.6 535.8,99.7 535.8,99.7 535.9,99 535.9,98.4 536,98.1 536.1,97.5 536.1,97 536.2,96.5 536.2,96.5 536.3,95.9 536.3,95.5 536.4,94 536.5,94.3 536.5,93.9 536.6,92.8 536.6,92.6" fill="none" stroke="#ff7f0e" stroke-width="0.7" stroke-linejoin="round"/>
<path d="M315.6 93.7h0M315.6 92.6h0M315.7 92h0M315.7 92.1h0M315.8 89.9h0M315.8 90.1h0M315.9 90.2h0M316 89.1h0M316 88h0M316.1 87.6h0M316.1 86.7h0M316.2 85.3h0M316.2 85.3h0M316.3 84.2h0M316.4 84.1h0M316.4 84.1h0M316.5 82.4h0M316.5 82.8h0M316.6 81.4h0M316.6 80.9h0M316.7 80.9h0M316.8 80.2h0M316.8 79.3h0M316.9 78.4h0M316.9 77.3h0M317 77.2h0M317 75.7h0M317.1 76.4h0M317.2 77.3h0M317.2 77.4h0M317.3 77.3h0M317.3 77.8h0M317.4 77.8h0M317.4 77.6h0M317.5 78h0M317.6 77.9h0M317.6 78.8h0M317.7 79.1h0M317.7 79.6h0M317.8 79.9h0M317.8 79.5h0M317.9 79.5h0M318 79.8h0M318 79.9h0M318.1 79.2h0M318.1 80.8h0M318.2 80.6h0M318.2 80.9h0M321.6 80.7h0M321.6 82.2h0M321.7 84.8h0M321.7 85.8h0M321.8 88.9h0M321.8 91.2h0M321.9 93.3h0M322 93.5h0M322 95.8h0M322.1 98.7h0M322.1 99.5h0M322.2 102.2h0M322.2 104.1h0M322.3 103.9h0M322.4 102.3h0M322.4 100.9h0M322.5 99.9h0M322.5 99.3h0M322.6 97.4h0M322.6 96.1h0M322.7 96.4h0M322.8 94.7h0M322.8 94.8h0M322.9 92.7h0M322.9 92.5h0M323 91h0M323 89.8h0M323.1 89h0M323.2 87.2h0M323.2 87.3h0M323.3 86.1h0M323.3 84.6h0M323.4 83.8h0M323.4 82.7h0M323.5 81.9h0M323.6 81.3h0M323.6 79.4h0M323.7 78.7h0M323.7 77.2h0M323.8 75.9h0M323.8 75.9h0M323.9 75.2h0M324 74h0M324 73.1h0M324.1 72.9h0M324.1 69.7h0M324.2 69.4h0M324.2 67.2h0M324.3 68h0M324.4 66.3h0M324.4 65.5h0M324.5 64.7h0M324.5 63h0M324.6 62.6h0M324.6 61.6h0M324.7 61.5h0M324.8 63h0M324.8 62.1h0M324.9 62.2h0M324.9 60.7h0M325 61.4h0M325 61.3h0M325.1 61.4h0M325.2 62h0M325.2 60.9h0M325.3 62h0M325.3 62.8h0M325.4 61.6h0M325.4 61.3h0M325.5 62h0M325.6 61.8h0M325.6 61.5h0M325.7 61.2h0M325.7 61.8h0M325.8 61.2h0M325.8 62h0M329.7 61.8h0M329.7 65.2h0M329.8 69.6h0M329.8 72.5h0M329.9 76.9h0M329.9 78.8h0M330 83.4h0M330.1 86h0M330.1 90.2h0M330.2 93.8h0M330.2 96.3h0M330.3 101h0M330.3 103.4h0M330.4 103.5h0M330.5 103h0M330.5 102.3h0M330.6 100.6h0M330.6 100.4h0M330.7 99.8h0M330.7 99.7h0M330.8 97.6h0M330.9 97h0M330.9 96.6h0M331 95.6h0M331 96.9h0M331.1 94.8h0M331.1 93.7h0M331.2 93h0M331.3 92.6h0M331.3 91.5h0M331.4 91.3h0M331.4 90.5h0M331.5 90h0M331.5 88.6h0M331.6 88.3h0M331.7 87.5h0M331.7 85.8h0M331.8 85.8h0M331.8 85.1h0M331.9 85.1h0M331.9 83.9h0M332 82.4h0M332.1 81.9h0M332.1 81.4h0M332.2 80.8h0M332.2 79.9h0M332.3 79h0M332.3 78.6h0M332.4 79h0M332.5 76.1h0M332.5 75.7h0M332.6 75.6h0M332.6 74.1h0M332.7 74.7h0M332.7 72.7h0M332.8 73.3h0M332.9 73.1h0M332.9 73.8h0M333 73.6h0M333 73.5h0M333.1 73.3h0M333.1 73.6h0M333.2 73.8h0M333.3 74.3h0M333.3 73.3h0M333.4 74.1h0M333.4 74.4h0M333.5 74.5h0M333.5 75h0M333.6 74.9h0M333.7 75.3h0M333.7 74.6h0M333.8 74.8h0M333.8 74.7h0M333.9 75.5h0M333.9 75.2h0M338.5 75h0M338.5 77.6h0M338.6 80.5h0M338.6 82h0M338.7 85h0M338.7 86.8h0M338.8 89.1h0M338.9 91.9h0M338.9 95.2h0M339 97.2h0M339 98.6h0M339.1 101.5h0M339.1 103.5h0M339.2 104.4h0M339.3 102.9h0M339.3 102.4h0M339.4 102.4h0M339.4 101.4h0M339.5 100.1h0M339.5 99.7h0M339.6 99.5h0M339.7 98.6h0M339.7 97.6h0M339.8 98h0M339.8 96.8h0M339.9 95.9h0M339.9 96.1h0M340 94.6h0M340.1 94.6h0M340.1 93.5h0M340.2 93h0M340.2 92.7h0M340.3 92.3h0M340.3 91.9h0M340.4 91h0M340.5 90.4h0M340.5 89.3h0M340.6 89.3h0M340.6 88.5h0M340.7 87.4h0M340.7 87.3h0M340.8 86.7h0M340.9 85.6h0M340.9 85.7h0M341 84.9h0M341 84.2h0M341.1 84h0M341.1 83.8h0M341.2 83.4h0M341.3 82.2h0M341.3 81.1h0M341.4 80.6h0M341.4 79.7h0M341.5 79.4h0M341.5 79.5h0M341.6 80.3h0M341.7 80.5h0M341.7 80.9h0M341.8 81.6h0M341.8 81.5h0M341.9 82.7h0M341.9 82.7h0M342 83.1h0M342.1 84.7h0M342.1 84.7h0M342.2 84.5h0M342.2 85.2h0M342.3 86h0M342.3 87.1h0M342.4 87.4h0M342.5 87.6h0M342.5 87.7h0M342.6 88.5h0M342.6 89.3h0M342.7 89.7h0M342.7 90h0M346.9 90.8h0M346.9 91.6h0M347 92.4h0M347 94.3h0M347.1 94.6h0M347.1 96.1h0M347.2 97.3h0M347.3 98.1h0M347.3 99.9h0M347.4 101.4h0M347.4 101.7h0M347.5 103.2h0M347.5 104.1h0M347.6 103.9h0M347.7 103.1h0M347.7 102.4h0M347.8 101.8h0M347.8 100.8h0M347.9 100.1h0M347.9 99h0M348 96.8h0M348.1 97.9h0M348.1 97.6h0M348.2 95.9h0M348.2 96h0M348.3 95.1h0M348.3 94.2h0M348.4 93.3h0M348.5 92.5h0M348.5 91.7h0M348.6 91.2h0M348.6 89.9h0M348.7 89.3h0M348.7 89.2h0M348.8 88.4h0M348.9 88.2h0M348.9 86.5h0M349 86.2h0M349 84.5h0M349.1 85h0M349.1 83.2h0M349.2 83.7h0M349.3 83.3h0M349.3 82.2h0M349.4 80.9h0M349.4 79.9h0M349.5 80.1h0M349.5 78.5h0M349.6 78.5h0M349.7 77.7h0M349.7 76.9h0M349.8 75.3h0M349.8 75.3h0M349.9 74.5h0M349.9 74.6h0M350 73.8h0M350.1 73.8h0M350.1 73.1h0M350.2 74.3h0M350.2 74.2h0M350.3 74.3h0M350.3 74.2h0M350.4 73.6h0M350.5 74.3h0M350.5 73.3h0M350.6 73.9h0M350.6 74.3h0M350.7 74.2h0M350.7 74.6h0M350.8 74.6h0M350.9 73.4h0M350.9 73.5h0M351 74.4h0M351 74.1h0M351.1 73.1h0M351.1 74.2h0M353.8 74.9h0M353.8 77h0M353.9 79.2h0M354 81.2h0M354 84.2h0M354.1 86.4h0M354.1 88.4h0M354.2 90.1h0M354.2 93.6h0M354.3 96.9h0M354.4 98.6h0M354.4 101.5h0M354.5 103.9h0M354.5 103h0M354.6 102.4h0M354.6 102.7h0M354.7 101.9h0M354.8 100.6h0M354.8 99.8h0M354.9 98.5h0M354.9 98.5h0M355 98.3h0M355 97.7h0M355.1 97.1h0M355.2 96.8h0M355.2 96.1h0M355.3 95.1h0M355.3 94.2h0M355.4 93.9h0M355.4 92.9h0M355.5 92.4h0M355.6 91.7h0M355.6 91.1h0M355.7 90.2h0M355.7 89.6h0M355.8 90.1h0M355.8 88.2h0M355.9 87.6h0M356 87.3h0M356 86.3h0M356.1 86h0M356.1 85h0M356.2 84.8h0M356.2 83.4h0M356.3 82.9h0M356.4 83.1h0M356.4 82.1h0M356.5 80.8h0M356.5 80.3h0M356.6 79.7h0M356.6 79.7h0M356.7 78.8h0M356.8 77.8h0M356.8 77.1h0M356.9 76.5h0M356.9 76.9h0M357 76.6h0M357 76.8h0M357.1 77h0M357.2 77h0M357.2 76.9h0M357.3 77.2h0M357.3 76.3h0M357.4 76.2h0M357.4 76.1h0M357.5 76.9h0M357.6 76.9h0M357.6 76.4h0M357.7 76.7h0M357.7 76.7h0M357.8 76.7h0M357.8 77.2h0M357.9 76h0M358 77.2h0M358 77.2h0M358.1 76.2h0M362.5 76.4h0M362.5 78.3h0M362.6 81.6h0M362.6 83h0M362.7 86h0M362.7 87.9h0M362.8 90.4h0M362.9 93.5h0M362.9 94.9h0M363 97h0M363 99.1h0M363.1 102h0M363.1 104.5h0M363.2 103.2h0M363.3 103.1h0M363.3 101.9h0M363.4 101.2h0M363.4 101.3h0M363.5 100.7h0M363.5 100.4h0M363.6 100.3h0M363.7 98.9h0M363.7 98.1h0M363.8 97.4h0M363.8 97.3h0M363.9 96h0M363.9 96.3h0M364 95.6h0M364.1 95.2h0M364.1 94.6h0M364.2 93.9h0M364.2 93.5h0M364.3 92.9h0M364.3 92h0M364.4 91.5h0M364.5 91.4h0M364.5 90.2h0M364.6 90.2h0M364.6 89.1h0M364.7 88.7h0M364.7 88.9h0M364.8 88h0M364.9 86.7h0M364.9 86.7h0M365 86.2h0M365 85.5h0M365.1 84.7h0M365.1 84h0M365.2 83.8h0M365.3 82.4h0M365.3 82.7h0M365.4 82.1h0M365.4 81.4h0M365.5 80.7h0M365.5 79.7h0M365.6 79.3h0M365.7 80.4h0M365.7 80.3h0M365.8 80h0M365.8 80.3h0M365.9 79.9h0M365.9 80.6h0M366 79.9h0M366.1 81.1h0M366.1 80h0M366.2 80h0M366.2 79.3h0M366.3 80.6h0M366.3 80h0M366.4 80h0M366.5 80.6h0M366.5 80.1h0M366.6 80.6h0M366.6 80.7h0M366.7 80.8h0M366.7 80.3h0M371.3 80.1h0M371.3 82.2h0M371.4 84.4h0M371.4 85h0M371.5 87.7h0M371.5 89.9h0M371.6 92h0M371.7 93.7h0M371.7 96.9h0M371.8 97.7h0M371.8 100.3h0M371.9 103.1h0M371.9 103.6h0M372 103.7h0M372.1 102.6h0M372.1 102.5h0M372.2 101.7h0M372.2 100.2h0M372.3 100.1h0M372.3 99.5h0M372.4 99.7h0M372.5 98h0M372.5 98h0M372.6 96.9h0M372.6 96.9h0M372.7 95.7h0M372.7 95h0M372.8 95.2h0M372.9 93.8h0M372.9 93.7h0M373 92.2h0M373 91.9h0M373.1 91.4h0M373.1 89.5h0M373.2 89.8h0M373.3 89.7h0M373.3 88.6h0M373.4 88.2h0M373.4 87.1h0M373.5 87.5h0M373.5 85.6h0M373.6 86h0M373.7 85.3h0M373.7 84.8h0M373.8 84h0M373.8 82.4h0M373.9 82.6h0M373.9 82.5h0M374 81.4h0M374.1 80.6h0M374.1 79.7h0M374.2 79.6h0M374.2 78.8h0M374.3 77h0M374.3 77.7h0M374.4 77.5h0M374.5 78.1h0M374.5 77.2h0M374.6 77.8h0M374.6 76.8h0M374.7 77.1h0M374.7 77.2h0M374.8 77.8h0M374.9 77.7h0M374.9 77.8h0M375 77.6h0M375 77.7h0M375.1 77.8h0M375.1 77.5h0M375.2 77.6h0M375.3 77.8h0M375.3 77.2h0M375.4 77.1h0M375.4 77.8h0M375.5 76.7h0M375.5 77.4h0M378.9 76.8h0M378.9 79.8h0M379 81.9h0M379 83.9h0M379.1 85.9h0M379.1 88.2h0M379.2 91.3h0M379.3 93.5h0M379.3 95.5h0M379.4 98.9h0M379.4 100.3h0M379.5 101.9h0M379.5 104.4h0M379.6 103.6h0M379.7 101.8h0M379.7 101.3h0M379.8 100.1h0M379.8 99.8h0M379.9 99.1h0M379.9 98.4h0M380 97h0M380.1 97.2h0M380.1 95.8h0M380.2 94.2h0M380.2 93.2h0M380.3 92.8h0M380.3 92.5h0M380.4 90.7h0M380.5 90.5h0M380.5 89.3h0M380.6 88.9h0M380.6 86.6h0M380.7 85.9h0M380.7 86.2h0M380.8 85.5h0M380.9 84.1h0M380.9 82.9h0M381 81.7h0M381 81.5h0M381.1 81.2h0M381.1 79.6h0M381.2 78.7h0M381.3 78.8h0M381.3 77.2h0M381.4 76.4h0M381.4 75.9h0M381.5 74.4h0M381.5 73.1h0M381.6 72.2h0M381.7 72.4h0M381.7 71.3h0M381.8 69.8h0M381.8 69.5h0M381.9 68.6h0M381.9 66.4h0M382 68.9h0M382.1 67.9h0M382.1 68h0M382.2 67.6h0M382.2 66.6h0M382.3 67.6h0M382.3 67.7h0M382.4 67.5h0M382.5 67.7h0M382.5 67.3h0M382.6 66.2h0M382.6 67.9h0M382.7 67.7h0M382.7 67.6h0M382.8 68.7h0M382.9 67.2h0M382.9 67.6h0M383 68.6h0M383 67.7h0M383.1 67.5h0M383.1 68h0M387.3 67.4h0M387.3 70.2h0M387.4 73h0M387.4 76.6h0M387.5 79.5h0M387.5 82.8h0M387.6 85.7h0M387.7 89.2h0M387.7 91.4h0M387.8 94.6h0M387.8 97.8h0M387.9 101h0M387.9 104.4h0M388 103.8h0M388.1 103.2h0M388.1 102.3h0M388.2 100.7h0M388.2 100.2h0M388.3 100.4h0M388.3 99.5h0M388.4 97.6h0M388.5 96.8h0M388.5 96.4h0M388.6 95.1h0M388.6 95.8h0M388.7 94.5h0M388.7 94.3h0M388.8 92.2h0M388.9 92.3h0M388.9 91.6h0M389 90.9h0M389 90.7h0M389.1 89.7h0M389.1 90.1h0M389.2 88.5h0M389.3 88h0M389.3 86.4h0M389.4 85.4h0M389.4 85.2h0M389.5 85.1h0M389.5 84.5h0M389.6 82.8h0M389.7 82.6h0M389.7 81.9h0M389.8 81.6h0M389.8 80.2h0M389.9 79.5h0M389.9 78.5h0M390 78.6h0M390.1 77.5h0M390.1 77.4h0M390.2 75.9h0M390.2 75.3h0M390.3 74.8h0M390.3 73.4h0M390.4 74.5h0M390.5 73.1h0M390.5 73.7h0M390.6 73.6h0M390.6 73.7h0M390.7 74.2h0M390.7 74.1h0M390.8 73.4h0M390.9 73.9h0M390.9 73.7h0M391 74h0M391 73.4h0M391.1 73.5h0M391.1 74.5h0M391.2 72.9h0M391.3 73.3h0M391.3 73.4h0M391.4 73.7h0M391.4 73.9h0M391.5 73.4h0M391.5 72.6h0M395.3 74.6h0M395.3 77.5h0M395.4 78.8h0M395.4 80.8h0M395.5 83.9h0M395.5 86.7h0M395.6 88.7h0M395.7 91.7h0M395.7 94.7h0M395.8 96.7h0M395.8 98.6h0M395.9 101.4h0M395.9 103.7h0M396 103.5h0M396.1 102.2h0M396.1 101h0M396.2 101.2h0M396.2 100.5h0M396.3 98.8h0M396.3 98.6h0M396.4 98.5h0M396.5 97.4h0M396.5 95.7h0M396.6 95.4h0M396.6 93.9h0M396.7 93.7h0M396.7 93.2h0M396.8 92h0M396.9 92.1h0M396.9 90.4h0M397 90.3h0M397 89.6h0M397.1 88.5h0M397.1 88.2h0M397.2 87.7h0M397.3 86.8h0M397.3 85.3h0M397.4 84.7h0M397.4 84h0M397.5 82.9h0M397.5 83h0M397.6 82h0M397.7 80.2h0M397.7 80.7h0M397.8 78.8h0M397.8 78.8h0M397.9 77.7h0M397.9 77h0M398 76.5h0M398.1 75.6h0M398.1 74.4h0M398.2 74.4h0M398.2 73.8h0M398.3 72.1h0M398.3 72h0M398.4 71.9h0M398.5 71.9h0M398.5 72h0M398.6 72.7h0M398.6 71.8h0M398.7 72h0M398.7 72.5h0M398.8 72.1h0M398.9 71.7h0M398.9 70.9h0M399 72.1h0M399 71.1h0M399.1 72h0M399.1 71.5h0M399.2 71.9h0M399.3 71.4h0M399.3 71.7h0M399.4 72h0M399.4 72.6h0M399.5 71.3h0M399.5 72.5h0M403.4 71.8h0M403.4 74.1h0M403.5 76.9h0M403.5 79.8h0M403.6 82.7h0M403.6 85.1h0M403.7 87.6h0M403.8 91.1h0M403.8 93.4h0M403.9 95.8h0M403.9 98.5h0M404 101.2h0M404 103.3h0M404.1 103h0M404.2 103.4h0M404.2 101.6h0M404.3 102h0M404.3 101.4h0M404.4 100h0M404.4 100h0M404.5 100h0M404.6 98.4h0M404.6 97.9h0M404.7 97.3h0M404.7 97.5h0M404.8 96h0M404.8 96h0M404.9 94.8h0M405 95.1h0M405 94.4h0M405.1 94.2h0M405.1 93.1h0M405.2 91.7h0M405.2 91.5h0M405.3 91.3h0M405.4 89.8h0M405.4 89.7h0M405.5 88.9h0M405.5 88.5h0M405.6 88.1h0M405.6 87.4h0M405.7 86.7h0M405.8 85.8h0M405.8 85.4h0M405.9 84.7h0M405.9 85h0M406 84.7h0M406 83.2h0M406.1 82.7h0M406.2 81.9h0M406.2 82h0M406.3 80.9h0M406.3 80.8h0M406.4 79.7h0M406.4 79.2h0M406.5 79.3h0M406.6 79h0M406.6 79.4h0M406.7 79.2h0M406.7 78.9h0M406.8 78.5h0M406.8 79h0M406.9 78.8h0M407 78.9h0M407 78.5h0M407.1 78.3h0M407.1 79.5h0M407.2 78.9h0M407.2 79h0M407.3 78.5h0M407.4 80.2h0M407.4 79.5h0M407.5 79.9h0M407.5 78.6h0M407.6 79.1h0M407.6 78.9h0M411.7 79.7h0M411.7 81.2h0M411.8 83.2h0M411.8 85.3h0M411.9 87.1h0M411.9 89.2h0M412 91.4h0M412.1 93.7h0M412.1 95.7h0M412.2 97.1h0M412.2 100.5h0M412.3 101.5h0M412.3 103.9h0M412.4 103.8h0M412.5 103h0M412.5 102.3h0M412.6 102.6h0M412.6 101.5h0M412.7 100.9h0M412.7 100.9h0M412.8 100h0M412.9 99.1h0M412.9 99h0M413 98.9h0M413 98.7h0M413.1 98.3h0M413.1 96.8h0M413.2 96.7h0M413.3 96.2h0M413.3 95.7h0M413.4 95.4h0M413.4 94.1h0M413.5 93.9h0M413.5 93.2h0M413.6 93.7h0M413.7 92.5h0M413.7 92h0M413.8 92.2h0M413.8 91.6h0M413.9 91.1h0M413.9 89.9h0M414 89.7h0M414.1 89.5h0M414.1 88.5h0M414.2 88.5h0M414.2 87.8h0M414.3 87.3h0M414.3 87.1h0M414.4 86h0M414.5 85.8h0M414.5 86.2h0M414.6 84.9h0M414.6 83.8h0M414.7 84.7h0M414.7 83.1h0M414.8 83.3h0M414.9 83.8h0M414.9 83.4h0M415 83.8h0M415 83.9h0M415.1 83.3h0M415.1 83.3h0M415.2 84h0M415.3 83.6h0M415.3 83.4h0M415.4 84h0M415.4 83h0M415.5 83.7h0M415.5 83.2h0M415.6 83.2h0M415.7 83.7h0M415.7 83.3h0M415.8 83.3h0M415.8 83.2h0M415.9 83.5h0M415.9 83h0M420.1 83.2h0M420.1 85.4h0M420.2 86.1h0M420.2 88.9h0M420.3 89.9h0M420.3 91.3h0M420.4 94.2h0M420.5 94.8h0M420.5 97.2h0M420.6 99.4h0M420.6 99.7h0M420.7 101.4h0M420.7 104.2h0M420.8 102.5h0M420.9 101.6h0M420.9 101.3h0M421 99.1h0M421 99.5h0M421.1 98.9h0M421.1 97.6h0M421.2 96.7h0M421.3 96h0M421.3 95h0M421.4 94.7h0M421.4 92.6h0M421.5 92.8h0M421.5 90.5h0M421.6 89.8h0M421.7 89.5h0M421.7 88.6h0M421.8 87.8h0M421.8 86.5h0M421.9 84.6h0M421.9 84.5h0M422 84h0M422.1 81.9h0M422.1 82.2h0M422.2 81.2h0M422.2 78.9h0M422.3 78.8h0M422.3 77.6h0M422.4 77h0M422.5 76.1h0M422.5 75.1h0M422.6 74.2h0M422.6 72.4h0M422.7 73.4h0M422.7 73.2h0M422.8 71.1h0M422.9 70.8h0M422.9 69h0M423 68.8h0M423 67.2h0M423.1 65.7h0M423.1 65.7h0M423.2 65.8h0M423.3 65h0M423.3 65.8h0M423.4 65.4h0M423.4 65.5h0M423.5 66.1h0M423.5 64.9h0M423.6 66h0M423.7 64.9h0M423.7 65.2h0M423.8 66h0M423.8 65.6h0M423.9 64.9h0M423.9 65.6h0M424 64.2h0M424.1 66h0M424.1 64.7h0M424.2 66.3h0M424.2 65.5h0M424.3 64.8h0M424.3 66.5h0M427.8 65.3h0M427.8 68.3h0M427.9 71.7h0M427.9 75.5h0M428 77.9h0M428.1 81.7h0M428.1 84.7h0M428.2 88h0M428.2 91.2h0M428.3 95.5h0M428.3 97.1h0M428.4 100.6h0M428.5 104h0M428.5 102.9h0M428.6 102.6h0M428.6 101.6h0M428.7 100.4h0M428.7 101h0M428.8 99.4h0M428.9 98.5h0M428.9 97.4h0M429 96.7h0M429 96h0M429.1 94.6h0M429.1 93.5h0M429.2 92.8h0M429.3 91.7h0M429.3 91.1h0M429.4 89.7h0M429.4 88.8h0M429.5 89h0M429.5 88.4h0M429.6 87.4h0M429.7 86.4h0M429.7 85h0M429.8 84.3h0M429.8 83.6h0M429.9 83.2h0M429.9 82.2h0M430 81.3h0M430.1 80.2h0M430.1 81.1h0M430.2 78.5h0M430.2 77.5h0M430.3 77.3h0M430.3 75.3h0M430.4 74.8h0M430.5 74h0M430.5 74.4h0M430.6 72.2h0M430.6 71.7h0M430.7 70.9h0M430.7 71.3h0M430.8 70.1h0M430.9 68.6h0M430.9 69.1h0M431 67.7h0M431 69h0M431.1 68h0M431.1 68.2h0M431.2 66.9h0M431.3 68.4h0M431.3 67.6h0M431.4 68.7h0M431.4 69h0M431.5 68.2h0M431.5 67.7h0M431.6 68.7h0M431.7 67.9h0M431.7 68.1h0M431.8 68.4h0M431.8 68.3h0M431.9 68.3h0M431.9 68.7h0M432 68.3h0M432.1 68.2h0M436.5 68.6h0M436.5 71.6h0M436.6 74.8h0M436.6 77.6h0M436.7 79.6h0M436.7 83.7h0M436.8 84.9h0M436.9 90h0M436.9 93.4h0M437 95.5h0M437 98.8h0M437.1 100.4h0M437.1 103.8h0M437.2 103.8h0M437.3 102.6h0M437.3 101.9h0M437.4 99.6h0M437.4 100.1h0M437.5 99.2h0M437.5 98.3h0M437.6 97.7h0M437.7 97h0M437.7 96.7h0M437.8 95.4h0M437.8 94.6h0M437.9 94.6h0M437.9 93.1h0M438 93h0M438.1 92.4h0M438.1 90.8h0M438.2 89.7h0M438.2 88.7h0M438.3 88.7h0M438.3 88.4h0M438.4 87.4h0M438.5 86.2h0M438.5 85.4h0M438.6 84.3h0M438.6 83.9h0M438.7 82.4h0M438.7 82.5h0M438.8 81.2h0M438.9 80.3h0M438.9 79.7h0M439 78.8h0M439 78.9h0M439.1 77.1h0M439.1 77h0M439.2 76h0M439.3 75.7h0M439.3 74.2h0M439.4 73.8h0M439.4 73.2h0M439.5 71.7h0M439.5 71.7h0M439.6 71.1h0M439.7 71.2h0M439.7 71h0M439.8 71.2h0M439.8 71.9h0M439.9 71.2h0M439.9 71.1h0M440 70.3h0M440.1 70.3h0M440.1 70.8h0M440.2 70.8h0M440.2 72.6h0M440.3 71.5h0M440.3 71.8h0M440.4 70.9h0M440.5 71h0M440.5 71h0M440.6 71h0M440.6 71.1h0M440.7 71.3h0M440.7 71.6h0M444.6 71.2h0M444.6 73.8h0M444.7 76.7h0M444.7 79.4h0M444.8 81.8h0M444.8 85.6h0M444.9 88h0M445 90.6h0M445 93.8h0M445.1 95.6h0M445.1 98.8h0M445.2 101.7h0M445.2 104.7h0M445.3 103.7h0M445.4 102.2h0M445.4 102.3h0M445.5 100.4h0M445.5 99.8h0M445.6 99.2h0M445.6 99.4h0M445.7 98.2h0M445.8 96.5h0M445.8 96.4h0M445.9 95.8h0M445.9 95h0M446 93.7h0M446 94h0M446.1 91.8h0M446.2 91.4h0M446.2 91.3h0M446.3 89.7h0M446.3 90.6h0M446.4 89h0M446.4 87.5h0M446.5 86.1h0M446.6 86.7h0M446.6 86h0M446.7 84.5h0M446.7 83.7h0M446.8 83.3h0M446.8 82.6h0M446.9 80.6h0M447 81.1h0M447 80.7h0M447.1 79.3h0M447.1 77.6h0M447.2 77.1h0M447.2 76.7h0M447.3 76.6h0M447.4 75.2h0M447.4 72.9h0M447.5 73.3h0M447.5 72.3h0M447.6 72.8h0M447.6 71.4h0M447.7 71.5h0M447.8 70.3h0M447.8 71.4h0M447.9 71.3h0M447.9 71.5h0M448 72.7h0M448 70.6h0M448.1 72.2h0M448.2 71.5h0M448.2 72.1h0M448.3 71.5h0M448.3 71.5h0M448.4 71.5h0M448.4 70.5h0M448.5 71.9h0M448.6 71.4h0M448.6 71h0M448.7 71.5h0M448.7 71.5h0M448.8 70.2h0M448.8 70.8h0M452.9 71.2h0M452.9 74.3h0M453 77.6h0M453 79.6h0M453.1 82.2h0M453.1 84.7h0M453.2 88.1h0M453.3 91h0M453.3 94.1h0M453.4 95.8h0M453.4 98.9h0M453.5 101h0M453.5 104.8h0M453.6 102.6h0M453.7 102.6h0M453.7 101.8h0M453.8 100.8h0M453.8 99.8h0M453.9 98.9h0M453.9 99.5h0M454 98.1h0M454.1 96.8h0M454.1 95.9h0M454.2 95.3h0M454.2 95.1h0M454.3 93.7h0M454.3 93.2h0M454.4 92.3h0M454.5 90.9h0M454.5 90.8h0M454.6 89.8h0M454.6 88.5h0M454.7 87.9h0M454.7 88.3h0M454.8 87.4h0M454.9 87.1h0M454.9 84.8h0M455 84.6h0M455 84h0M455.1 83h0M455.1 82.8h0M455.2 81.1h0M455.3 81.1h0M455.3 79.4h0M455.4 78.9h0M455.4 78.3h0M455.5 77.2h0M455.5 76.8h0M455.6 75.9h0M455.7 74.5h0M455.7 73.5h0M455.8 73.3h0M455.8 72.1h0M455.9 72.8h0M455.9 71.2h0M456 71.3h0M456.1 71.5h0M456.1 71h0M456.2 70.3h0M456.2 71h0M456.3 70.7h0M456.3 70.5h0M456.4 70.6h0M456.5 71.2h0M456.5 71.5h0M456.6 70.6h0M456.6 70.8h0M456.7 71.5h0M456.7 70.4h0M456.8 71.7h0M456.9 71.9h0M456.9 71.3h0M457 71.9h0M457 71.3h0M457.1 71.3h0M457.1 71.5h0M461.8 70.8h0M461.8 73.9h0M461.9 76.2h0M461.9 79.2h0M462 82.4h0M462 85.1h0M462.1 87.7h0M462.2 90.7h0M462.2 92.5h0M462.3 96.5h0M462.3 97.8h0M462.4 101.7h0M462.4 104.5h0M462.5 103.4h0M462.6 103.2h0M462.6 101h0M462.7 100.3h0M462.7 99.6h0M462.8 98.7h0M462.8 98.2h0M462.9 99h0M463 97h0M463 96.9h0M463.1 95.4h0M463.1 95.2h0M463.2 94.5h0M463.2 94h0M463.3 92.5h0M463.4 91.5h0M463.4 91.8h0M463.5 90.3h0M463.5 89.5h0M463.6 89h0M463.6 88.3h0M463.7 86.9h0M463.8 86.1h0M463.8 85.6h0M463.9 84.8h0M463.9 84.1h0M464 84h0M464 83h0M464.1 82.2h0M464.2 81.9h0M464.2 80.3h0M464.3 79h0M464.3 78.1h0M464.4 78.5h0M464.4 77.9h0M464.5 77.3h0M464.6 75.8h0M464.6 75.4h0M464.7 74h0M464.7 74.4h0M464.8 73h0M464.8 72.7h0M464.9 72.2h0M465 72.5h0M465 73.3h0M465.1 71.9h0M465.1 72.3h0M465.2 72.3h0M465.2 72.4h0M465.3 72.8h0M465.4 72.3h0M465.4 72h0M465.5 71.5h0M465.5 72.2h0M465.6 72.6h0M465.6 71.8h0M465.7 72.5h0M465.8 72.5h0M465.8 72.4h0M465.9 72h0M465.9 72.9h0M466 72.3h0M466 72.4h0M468.9 72.6h0M468.9 75.6h0M469 77.3h0M469 79.9h0M469.1 82.6h0M469.2 85h0M469.2 88.6h0M469.3 90.5h0M469.3 93.5h0M469.4 96.3h0M469.4 98.7h0M469.5 101.9h0M469.6 104.2h0M469.6 103.3h0M469.7 103.4h0M469.7 101.2h0M469.8 100.7h0M469.8 100.1h0M469.9 98.9h0M470 98.7h0M470 98h0M470.1 96.8h0M470.1 97.1h0M470.2 96.8h0M470.2 95h0M470.3 94.8h0M470.4 93.5h0M470.4 93h0M470.5 92.9h0M470.5 91.9h0M470.6 91.6h0M470.6 90.4h0M470.7 89.8h0M470.8 88.6h0M470.8 87.4h0M470.9 87.4h0M470.9 86.9h0M471 86h0M471 85.4h0M471.1 84.9h0M471.2 83.8h0M471.2 83.8h0M471.3 82.9h0M471.3 81.7h0M471.4 80.6h0M471.4 80.1h0M471.5 79.8h0M471.6 78.4h0M471.6 78h0M471.7 76.7h0M471.7 76.5h0M471.8 76h0M471.8 75.9h0M471.9 74h0M472 73.4h0M472 73.2h0M472.1 74.1h0M472.1 74.4h0M472.2 73.2h0M472.2 73.9h0M472.3 75h0M472.4 73.6h0M472.4 74.5h0M472.5 73.2h0M472.5 73.4h0M472.6 74.8h0M472.6 73.7h0M472.7 73.9h0M472.8 73.6h0M472.8 74.5h0M472.9 74.6h0M472.9 73.5h0M473 74.8h0M473 73.9h0M473.1 73.7h0M473.2 73.5h0M477.4 73.6h0M477.4 76.5h0M477.5 78.8h0M477.5 81.8h0M477.6 84.1h0M477.6 85.5h0M477.7 89.4h0M477.8 91.6h0M477.8 94h0M477.9 96.4h0M477.9 98.7h0M478 102.3h0M478 104.4h0M478.1 103.3h0M478.2 102.1h0M478.2 100.9h0M478.3 100.1h0M478.3 99.4h0M478.4 99h0M478.4 98.2h0M478.5 97.3h0M478.6 95.2h0M478.6 93.8h0M478.7 94.3h0M478.7 93.6h0M478.8 92.1h0M478.8 90.8h0M478.9 90.3h0M479 89.2h0M479 87.7h0M479.1 86.9h0M479.1 86.5h0M479.2 86h0M479.2 84.4h0M479.3 82.7h0M479.4 83.4h0M479.4 80.6h0M479.5 80.4h0M479.5 78.7h0M479.6 79h0M479.6 78.2h0M479.7 77.6h0M479.8 75.7h0M479.8 74.8h0M479.9 74.1h0M479.9 72.9h0M480 71.8h0M480 71.6h0M480.1 69.6h0M480.2 70.1h0M480.2 68.5h0M480.3 67.1h0M480.3 66.5h0M480.4 65.3h0M480.4 65.4h0M480.5 64.7h0M480.6 64.5h0M480.6 65.3h0M480.7 64.2h0M480.7 65.2h0M480.8 65h0M480.8 65.3h0M480.9 64.4h0M481 65h0M481 64.1h0M481.1 64h0M481.1 64.7h0M481.2 64.2h0M481.2 63.5h0M481.3 65.5h0M481.4 65.5h0M481.4 63.5h0M481.5 65h0M481.5 62.8h0M481.6 64h0M481.6 65.8h0M485.3 64.1h0M485.4 68.3h0M485.4 70.7h0M485.5 73.9h0M485.5 77.7h0M485.6 80.7h0M485.7 84.4h0M485.7 87.7h0M485.8 90.7h0M485.8 94h0M485.9 97.4h0M485.9 100.6h0M486 104.5h0M486.1 104.1h0M486.1 102.6h0M486.2 103.2h0M486.2 102.2h0M486.3 101.4h0M486.3 99.8h0M486.4 99.2h0M486.5 97.4h0M486.5 98.3h0M486.6 97.7h0M486.6 96.9h0M486.7 96.9h0M486.7 95.1h0M486.8 95.3h0M486.9 94.6h0M486.9 93.5h0M487 93.2h0M487 92.1h0M487.1 91.3h0M487.1 90.6h0M487.2 90.3h0M487.2 90.1h0M487.3 89h0M487.4 88.9h0M487.4 88.4h0M487.5 87.8h0M487.5 85.9h0M487.6 86.4h0M487.6 84.6h0M487.7 84.5h0M487.8 83.9h0M487.8 83.1h0M487.9 81.7h0M487.9 82.5h0M488 81h0M488 80.7h0M488.1 80.3h0M488.2 80.2h0M488.2 79h0M488.3 78.3h0M488.3 77.2h0M488.4 76.2h0M488.4 76.4h0M488.5 76.7h0M488.6 75.8h0M488.6 76.9h0M488.7 76.6h0M488.7 76.7h0M488.8 76.3h0M488.8 76.4h0M488.9 76.6h0M489 76.3h0M489 76.4h0M489.1 76.9h0M489.1 76.1h0M489.2 76.8h0M489.2 76.9h0M489.3 76.2h0M489.4 76.8h0M489.4 76.5h0M489.5 75.4h0M489.5 76.2h0M489.6 76.8h0M494.1 75.9h0M494.1 78.9h0M494.2 81.9h0M494.2 83.8h0M494.3 85.4h0M494.3 87.2h0M494.4 90.2h0M494.5 92.7h0M494.5 93.9h0M494.6 97.8h0M494.6 99h0M494.7 102.4h0M494.7 104.8h0M494.8 103.9h0M494.9 102.5h0M494.9 102.2h0M495 101.8h0M495 100.9h0M495.1 100.8h0M495.1 99.3h0M495.2 99.3h0M495.3 98.5h0M495.3 98.7h0M495.4 97.6h0M495.4 97.5h0M495.5 96.1h0M495.5 96.5h0M495.6 94.9h0M495.7 94.1h0M495.7 93.8h0M495.8 92.9h0M495.8 92.2h0M495.9 92.3h0M495.9 91.8h0M496 91.2h0M496.1 90.5h0M496.1 89.9h0M496.2 89.4h0M496.2 87.9h0M496.3 88.1h0M496.3 87.7h0M496.4 86.3h0M496.5 86.8h0M496.5 85.7h0M496.6 84.9h0M496.6 84.3h0M496.7 84.5h0M496.7 83.9h0M496.8 83.3h0M496.9 82.5h0M496.9 81.1h0M497 81h0M497 80.2h0M497.1 80.2h0M497.1 79.4h0M497.2 78.9h0M497.3 79.1h0M497.3 79.3h0M497.4 78.8h0M497.4 79.5h0M497.5 79.4h0M497.5 79.4h0M497.6 79.5h0M497.7 78.9h0M497.7 79.8h0M497.8 79h0M497.8 80h0M497.9 79.9h0M497.9 79.2h0M498 79.1h0M498.1 79.3h0M498.1 80.1h0M498.2 78.7h0M498.2 78.7h0M498.3 79.6h0M498.3 78.7h0M501.7 79.7h0M501.8 80.9h0M501.9 83.2h0M501.9 85h0M502 87h0M502 88.6h0M502.1 91.9h0M502.1 93h0M502.2 95.6h0M502.3 97.9h0M502.3 99h0M502.4 101.1h0M502.4 104.9h0M502.5 102.6h0M502.5 101.8h0M502.6 102.1h0M502.7 101h0M502.7 99.8h0M502.8 98.9h0M502.8 97.4h0M502.9 96.4h0M502.9 97h0M503 96.9h0M503.1 94.9h0M503.1 93.4h0M503.2 92.5h0M503.2 91.1h0M503.3 90.3h0M503.3 89.5h0M503.4 89.9h0M503.5 87.6h0M503.5 88h0M503.6 85.7h0M503.6 85.2h0M503.7 84.6h0M503.7 83.6h0M503.8 82.8h0M503.9 82.4h0M503.9 82.2h0M504 80h0M504 79.3h0M504.1 78.5h0M504.1 78.1h0M504.2 76.5h0M504.3 76.5h0M504.3 76.1h0M504.4 73.8h0M504.4 73.7h0M504.5 73.1h0M504.5 72.1h0M504.6 70.1h0M504.7 69.9h0M504.7 69.5h0M504.8 68.9h0M504.8 68h0M504.9 67.6h0M504.9 68.4h0M505 67.7h0M505.1 67.7h0M505.1 68.2h0M505.2 67.7h0M505.2 68h0M505.3 67.5h0M505.3 66.7h0M505.4 66.5h0M505.5 68.1h0M505.5 67.6h0M505.6 67.2h0M505.6 67.7h0M505.7 68.4h0M505.7 67.9h0M505.8 68.1h0M505.9 68.2h0M505.9 67.4h0M506 67.6h0M506 68h0M511 67.1h0M511 71.1h0M511.1 73.7h0M511.1 76.5h0M511.2 79.6h0M511.2 82.9h0M511.3 86.1h0M511.4 89h0M511.4 91.8h0M511.5 94.9h0M511.5 97.2h0M511.6 100.8h0M511.6 103.7h0M511.7 103h0M511.8 102.8h0M511.8 101.5h0M511.9 101.5h0M511.9 100h0M512 99.4h0M512 99.3h0M512.1 97.9h0M512.2 97.8h0M512.2 96.5h0M512.3 96.7h0M512.3 95.3h0M512.4 94.1h0M512.4 94.3h0M512.5 94.2h0M512.6 93h0M512.6 91.6h0M512.7 91.2h0M512.7 91.2h0M512.8 90h0M512.8 89.2h0M512.9 89.2h0M513 87.8h0M513 86.9h0M513.1 86.3h0M513.1 85.6h0M513.2 84.1h0M513.2 84.7h0M513.3 83.5h0M513.4 82h0M513.4 81.7h0M513.5 81.8h0M513.5 80.2h0M513.6 80.9h0M513.6 79.2h0M513.7 78h0M513.8 78.2h0M513.8 76.5h0M513.9 76h0M513.9 75.4h0M514 73.4h0M514 73.5h0M514.1 73.9h0M514.2 74.7h0M514.2 74.7h0M514.3 74.1h0M514.3 73.9h0M514.4 73.6h0M514.4 74.4h0M514.5 74.1h0M514.6 73.7h0M514.6 74.7h0M514.7 74h0M514.7 73.5h0M514.8 74.1h0M514.8 73.8h0M514.9 73.9h0M515 73.7h0M515 73.7h0M515.1 74h0M515.1 74.1h0M515.2 74.1h0M515.2 73.6h0M518.6 73.7h0M518.6 76.4h0M518.7 78.5h0M518.7 81.1h0M518.8 84h0M518.8 86.8h0M518.9 89.3h0M519 90.7h0M519 94.2h0M519.1 96.7h0M519.1 99.2h0M519.2 102.1h0M519.2 103.8h0M519.3 103.4h0M519.4 102.4h0M519.4 101.2h0M519.5 101.3h0M519.5 100.4h0M519.6 100.1h0M519.6 98.6h0M519.7 98.1h0M519.8 97.1h0M519.8 96.1h0M519.9 96.8h0M519.9 94.7h0M520 95.3h0M520 94.5h0M520.1 94.2h0M520.2 91.8h0M520.2 92.1h0M520.3 90.8h0M520.3 90.7h0M520.4 88.9h0M520.4 89.6h0M520.5 88.3h0M520.6 88.1h0M520.6 87h0M520.7 85.4h0M520.7 85.2h0M520.8 84.5h0M520.8 83.6h0M520.9 83.5h0M521 83.1h0M521 82.3h0M521.1 81.3h0M521.1 79.8h0M521.2 79.6h0M521.2 79.2h0M521.3 78.2h0M521.4 77.8h0M521.4 76.4h0M521.5 75.7h0M521.5 75.7h0M521.6 73.8h0M521.6 74.5h0M521.7 73.7h0M521.8 74.1h0M521.8 73.5h0M521.9 73.5h0M521.9 73.9h0M522 73.8h0M522 74.6h0M522.1 74.6h0M522.2 73.9h0M522.2 73.8h0M522.3 74.2h0M522.3 73.6h0M522.4 73.4h0M522.4 74.7h0M522.5 73.7h0M522.6 73h0M522.6 73.9h0M522.7 73.9h0M522.7 73.9h0M522.8 73.7h0M522.8 75.1h0M527.4 73.8h0M527.4 76.5h0M527.5 78.5h0M527.5 81.3h0M527.6 84.6h0M527.6 86.3h0M527.7 87.9h0M527.8 91.2h0M527.8 93.5h0M527.9 96.3h0M527.9 98.4h0M528 101.8h0M528 104.3h0M528.1 103.7h0M528.2 103.5h0M528.2 102.7h0M528.3 101.3h0M528.3 101.5h0M528.4 100.9h0M528.4 99.6h0M528.5 99.3h0M528.6 99.1h0M528.6 98.6h0M528.7 97.9h0M528.7 97.2h0M528.8 96.3h0M528.8 96h0M528.9 95.9h0M529 95h0M529 95h0M529.1 94.1h0M529.1 92.6h0M529.2 93.2h0M529.2 92.3h0M529.3 91.2h0M529.4 90.9h0M529.4 90.6h0M529.5 90.2h0M529.5 89.6h0M529.6 88.5h0M529.6 88.2h0M529.7 87.5h0M529.8 86.8h0M529.8 87.1h0M529.9 86.6h0M529.9 85.2h0M530 84.4h0M530 84.2h0M530.1 83.3h0M530.2 83.7h0M530.2 82.6h0M530.3 82.2h0M530.3 81.6h0M530.4 80.6h0M530.4 81.3h0M530.5 80.4h0M530.6 79.8h0M530.6 80.4h0M530.7 80.7h0M530.7 80.1h0M530.8 80.8h0M530.8 79.9h0M530.9 80.5h0M531 79.7h0M531 80.1h0M531.1 80.7h0M531.1 80.3h0M531.2 80.3h0M531.2 80h0M531.3 80.8h0M531.4 79.9h0M531.4 80.6h0M531.5 81h0M531.5 80.3h0M531.6 80.6h0M531.6 80.2h0M534.6 80.4h0M534.7 82.1h0M534.7 84.3h0M534.8 86.1h0M534.9 88.6h0M534.9 90.4h0M535 91.9h0M535 93.7h0M535.1 96h0M535.1 98.2h0M535.2 99.9h0M535.3 102.3h0M535.3 103.5h0M535.4 104.1h0M535.4 103h0M535.5 102.2h0M535.5 102.2h0M535.6 102h0M535.7 101.3h0M535.7 100.6h0M535.8 99.7h0M535.8 99.7h0M535.9 99h0M535.9 98.4h0M536 98.1h0M536.1 97.5h0M536.1 97h0M536.2 96.5h0M536.2 96.5h0M536.3 95.9h0M536.3 95.5h0M536.4 94h0M536.5 94.3h0M536.5 93.9h0M536.6 92.8h0M536.6 92.6h0" stroke="#ff7f0e" stroke-width="0.6" stroke-linecap="round"/>
</g>
<rect x="304.5" y="4.5" width="243.0" height="115.0" fill="none" stroke="#a8a8a8" stroke-width="0.9"/>
<path d="M302.7 114.10H304.5M302.7 92.94H304.5M302.7 71.78H304.5M302.7 50.62H304.5M302.7 29.46H304.5M302.7 8.30H304.5M319.30 119.5V121.3M368.70 119.5V121.3M418.10 119.5V121.3M467.50 119.5V121.3M516.90 119.5V121.3" stroke="#a8a8a8" stroke-width="0.7"/>
<g font-size="5.3" fill="#1e1e1e">
<text x="301.5" y="116.00" text-anchor="end">0</text>
<text x="301.5" y="94.84" text-anchor="end">200</text>
<text x="301.5" y="73.68" text-anchor="end">400</text>
<text x="301.5" y="52.52" text-anchor="end">600</text>
<text x="301.5" y="31.36" text-anchor="end">800</text>
<text x="301.5" y="10.20" text-anchor="end">1000</text>
<text x="319.30" y="125.8" text-anchor="middle">2024-07-26</text>
<text x="368.70" y="125.8" text-anchor="middle">2024-08-01</text>
<text x="418.10" y="125.8" text-anchor="middle">2024-08-07</text>
<text x="467.50" y="125.8" text-anchor="middle">2024-08-13</text>
<text x="516.90" y="125.8" text-anchor="middle">2024-08-19</text>
</g>
<text x="426.00" y="132.7" font-size="5.8" fill="#1e1e1e" text-anchor="middle">Timestamp</text>
<text transform="translate(283.6 62.00) rotate(-90)" font-size="5.8" fill="#1e1e1e" text-anchor="middle" textLength="51.5" lengthAdjust="spacing">Irradiance (<tspan font-style="italic">W</tspan>/<tspan font-style="italic" dx="0.3">m</tspan><tspan font-size="4.06" dx="0.3" dy="-2.4">2</tspan><tspan dx="0.5" dy="2.4">)</tspan></text>
<rect x="429.73" y="6.5" width="114.87" height="17.3" rx="1.2" fill="#fff" fill-opacity="0.8" stroke="#d6d6d6" stroke-width="0.6"/>
<path d="M431.7 11.5H443.5" stroke="#1f77b4" stroke-width="0.8"/>
<path d="M437.6 11.5h0" stroke="#1f77b4" stroke-width="1.8" stroke-linecap="round"/>
<path d="M431.7 19.5H443.5" stroke="#ff7f0e" stroke-width="0.8"/>
<g font-size="5.65" fill="#1e1e1e"><text x="448" y="13.8">True summer (10 min resampled)</text><text x="448" y="21.8">Forecasts (6h ahead)</text></g>
<text transform="translate(414.4 155.4) scale(0.99 1)" class="cap" font-size="14.5" fill="#111" text-anchor="middle">(b)</text>
<clipPath id="cc"><rect x="25.5" y="165.5" width="246.0" height="115.0"/></clipPath>
<g clip-path="url(#cc)">
<polyline points="35.6,274.6 35.8,264.6 36.1,249.2 36.3,262.2 36.5,247 36.7,250.1 36.9,245.7 37.2,249.5 37.4,240.9 37.6,214.7 37.8,226.7 38,238.1 38.3,219.3 38.5,223.1 38.7,255 38.9,245.4 39.1,263.3 39.4,257.4 39.6,265.1 48.2,274 48.4,252.3 48.6,247.5 48.9,234.4 49.1,221.2 49.3,248.1 49.5,231.7 49.7,240.4 50,219.4 50.2,238.3 50.4,197.8 50.6,239.3 50.8,227.7 51.1,236 51.3,246.6 51.5,243.6 51.7,240.3 51.9,253.8 52.2,267.3 58.6,274.6 58.8,264.2 59.1,254.9 59.3,260.3 59.5,248.5 59.7,253.9 59.9,248.8 60.2,248.6 60.4,249.2 60.6,224.5 60.8,226.9 61,249.5 61.3,254.6 61.5,252 61.7,246 61.9,254.5 62.1,254.3 62.4,263.5 62.6,266.5 67.2,273.6 67.4,263.5 67.6,249.1 67.8,249.1 68,234.2 68.3,251.8 68.5,233.2 68.7,240.2 68.9,234.6 69.1,202.6 69.4,230.7 69.6,230.8 69.8,239.7 70,235.1 70.2,239.9 70.5,251.3 70.7,260.3 70.9,250.1 71.1,262.3 79.9,274 80.2,260.2 80.4,255.8 80.6,254.7 80.8,243.3 81,233.5 81.3,236.8 81.5,239 81.7,252.2 81.9,241.6 82.1,230.8 82.4,217.8 82.6,244 82.8,246.7 83,253.1 83.2,249.7 83.5,251.9 83.7,257.8 83.9,262.9 90.1,273.6 90.3,260.8 90.6,252.7 90.8,245.3 91,231.8 91.2,234.8 91.4,218.4 91.7,245.6 91.9,251.5 92.1,212.3 92.3,243.1 92.5,223.1 92.8,230.4 93,235 93.2,253.3 93.4,256.2 93.6,247.2 93.9,257.4 94.1,260.6 100.5,274.1 100.7,264 101,258.9 101.2,263.8 101.4,255.2 101.6,255.7 101.8,236.6 102.1,247.8 102.3,255.7 102.5,230.4 102.7,245.3 102.9,251.2 103.2,255.5 103.4,252.3 103.6,245.2 103.8,242.8 104,264.1 104.3,266.4 104.5,270.8 110.9,273.9 111.1,261.2 111.4,257.9 111.6,246.5 111.8,237.2 112,240.8 112.2,254.9 112.5,252.5 112.7,240 112.9,218.8 113.1,257.4 113.3,229.6 113.6,232.4 113.8,250.6 114,250.1 114.2,251.2 114.4,249.9 114.7,262.5 114.9,261.2 121.1,274.9 121.3,263.3 121.6,258.9 121.8,251.7 122,250 122.2,251.1 122.4,253.2 122.7,242.1 122.9,246.4 123.1,230.4 123.3,242.3 123.5,235.7 123.8,249.5 124,250 124.2,258.7 124.4,253.2 124.6,250.8 124.9,262.7 125.1,268.3 132.5,274.5 132.7,266.5 133,264.8 133.2,260.4 133.4,252.9 133.6,253.9 133.8,258.7 134.1,254.2 134.3,255.7 134.5,238.2 134.7,252.5 134.9,251.6 135.2,243.3 135.4,252.8 135.6,251.9 135.8,255.7 136,262.3 136.3,261.7 136.5,270.1 143.4,274.7 143.6,254.5 143.9,237.3 144.1,228.7 144.3,245.4 144.5,219 144.7,237.1 145,236.9 145.2,192.1 145.4,185.7 145.6,213.9 145.8,231.7 146.1,208.7 146.3,204.1 146.5,239.9 146.7,230.9 146.9,241.8 147.2,239.3 147.4,257.3 154,273.9 154.2,250.7 154.4,253.6 154.7,236.5 154.9,240.4 155.1,229.6 155.3,228.5 155.5,223 155.8,226.3 156,193.7 156.2,238.9 156.4,212.4 156.6,226.9 156.9,243.6 157.1,220.4 157.3,251.1 157.5,245.4 157.7,254.2 158,263.2 163.2,274.4 163.4,265 163.7,248.3 163.9,241.4 164.1,235.9 164.3,238.1 164.5,238.8 164.8,241.9 165,229.6 165.2,196 165.4,236.7 165.6,217.2 165.9,223 166.1,251.1 166.3,225 166.5,220.9 166.7,229.1 167,252.4 167.2,263.1 174.1,273.7 174.3,252.6 174.6,249.2 174.8,253.4 175,246.7 175.2,213 175.4,228.9 175.7,226.9 175.9,206.3 176.1,188.8 176.3,206.5 176.5,229.5 176.8,237.1 177,222.8 177.2,213.9 177.4,226.6 177.6,251.6 177.9,252.8 178.1,260.3 185,274.5 185.2,256.6 185.5,251 185.7,248.9 185.9,210.3 186.1,233.2 186.3,236.5 186.6,198.8 186.8,221.1 187,190.5 187.2,232.5 187.4,228.7 187.7,215 187.9,221.3 188.1,243.5 188.3,248.1 188.5,234.9 188.8,255.2 189,260.8 194.1,274.1 194.3,243.3 194.6,231 194.8,238.1 195,233 195.2,228 195.4,210.8 195.7,210.2 195.9,185.7 196.1,225.4 196.3,202.2 196.5,222.4 196.8,242.3 197,226.8 197.2,223.6 197.4,233.2 197.6,246.7 197.9,259.6 198.1,253.1 205.6,274.5 205.8,253.4 206.1,229.1 206.3,229.9 206.5,224.5 206.7,230.2 206.9,185.4 207.2,207.1 207.4,202.7 207.6,173.5 207.8,212.8 208,188.3 208.3,211.4 208.5,225.1 208.7,199.5 208.9,207.4 209.1,250.3 209.4,250.6 209.6,261.9 216.7,274.8 216.9,246.7 217.2,237.4 217.4,253 217.6,233.9 217.8,246.7 218,238.9 218.3,223.3 218.5,232.5 218.7,170.4 218.9,204.4 219.1,175.4 219.4,211.8 219.6,216.9 219.8,228.7 220,235.8 220.2,234.7 220.5,252.4 220.7,248.1 226.2,274 226.4,247.3 226.7,259.4 226.9,242.2 227.1,239.3 227.3,241.8 227.5,222 227.8,227.4 228,201.5 228.2,197.8 228.4,244.6 228.6,236.5 228.9,229.2 229.1,233.3 229.3,221.8 229.5,240.2 229.7,255 230,255.2 230.2,265.3 239,202.6 239.2,221.2 239.4,218.7 239.7,212.7 239.9,219.4 240.1,235 240.3,238.3 240.5,252.1 240.8,257.3 241,263 248.7,273.6 248.9,261.8 249.2,245.8 249.4,235.7 249.6,247.7 249.8,241.2 250,250.9 250.3,254.6 250.5,251.5 250.7,212.3 250.9,232.4 251.1,247.4 251.4,245.4 251.6,245.7 251.8,251.1 252,248.3 252.2,257.1 252.5,259.2 252.7,268.3 258.4,274.8 258.6,256.1 258.9,252.9 259.1,250.4 259.3,244.9 259.5,251.7 259.7,224.1 260,236.3 260.2,234.9 260.4,207.5" fill="none" stroke="#1f77b4" stroke-width="1.05" stroke-linejoin="round"/>
<path d="M35.6 274.6h0M35.8 264.6h0M36.1 249.2h0M36.3 262.2h0M36.5 247h0M36.7 250.1h0M36.9 245.7h0M37.2 249.5h0M37.4 240.9h0M37.6 214.7h0M37.8 226.7h0M38 238.1h0M38.3 219.3h0M38.5 223.1h0M38.7 255h0M38.9 245.4h0M39.1 263.3h0M39.4 257.4h0M39.6 265.1h0M48.2 274h0M48.4 252.3h0M48.6 247.5h0M48.9 234.4h0M49.1 221.2h0M49.3 248.1h0M49.5 231.7h0M49.7 240.4h0M50 219.4h0M50.2 238.3h0M50.4 197.8h0M50.6 239.3h0M50.8 227.7h0M51.1 236h0M51.3 246.6h0M51.5 243.6h0M51.7 240.3h0M51.9 253.8h0M52.2 267.3h0M58.6 274.6h0M58.8 264.2h0M59.1 254.9h0M59.3 260.3h0M59.5 248.5h0M59.7 253.9h0M59.9 248.8h0M60.2 248.6h0M60.4 249.2h0M60.6 224.5h0M60.8 226.9h0M61 249.5h0M61.3 254.6h0M61.5 252h0M61.7 246h0M61.9 254.5h0M62.1 254.3h0M62.4 263.5h0M62.6 266.5h0M67.2 273.6h0M67.4 263.5h0M67.6 249.1h0M67.8 249.1h0M68 234.2h0M68.3 251.8h0M68.5 233.2h0M68.7 240.2h0M68.9 234.6h0M69.1 202.6h0M69.4 230.7h0M69.6 230.8h0M69.8 239.7h0M70 235.1h0M70.2 239.9h0M70.5 251.3h0M70.7 260.3h0M70.9 250.1h0M71.1 262.3h0M79.9 274h0M80.2 260.2h0M80.4 255.8h0M80.6 254.7h0M80.8 243.3h0M81 233.5h0M81.3 236.8h0M81.5 239h0M81.7 252.2h0M81.9 241.6h0M82.1 230.8h0M82.4 217.8h0M82.6 244h0M82.8 246.7h0M83 253.1h0M83.2 249.7h0M83.5 251.9h0M83.7 257.8h0M83.9 262.9h0M90.1 273.6h0M90.3 260.8h0M90.6 252.7h0M90.8 245.3h0M91 231.8h0M91.2 234.8h0M91.4 218.4h0M91.7 245.6h0M91.9 251.5h0M92.1 212.3h0M92.3 243.1h0M92.5 223.1h0M92.8 230.4h0M93 235h0M93.2 253.3h0M93.4 256.2h0M93.6 247.2h0M93.9 257.4h0M94.1 260.6h0M100.5 274.1h0M100.7 264h0M101 258.9h0M101.2 263.8h0M101.4 255.2h0M101.6 255.7h0M101.8 236.6h0M102.1 247.8h0M102.3 255.7h0M102.5 230.4h0M102.7 245.3h0M102.9 251.2h0M103.2 255.5h0M103.4 252.3h0M103.6 245.2h0M103.8 242.8h0M104 264.1h0M104.3 266.4h0M104.5 270.8h0M110.9 273.9h0M111.1 261.2h0M111.4 257.9h0M111.6 246.5h0M111.8 237.2h0M112 240.8h0M112.2 254.9h0M112.5 252.5h0M112.7 240h0M112.9 218.8h0M113.1 257.4h0M113.3 229.6h0M113.6 232.4h0M113.8 250.6h0M114 250.1h0M114.2 251.2h0M114.4 249.9h0M114.7 262.5h0M114.9 261.2h0M121.1 274.9h0M121.3 263.3h0M121.6 258.9h0M121.8 251.7h0M122 250h0M122.2 251.1h0M122.4 253.2h0M122.7 242.1h0M122.9 246.4h0M123.1 230.4h0M123.3 242.3h0M123.5 235.7h0M123.8 249.5h0M124 250h0M124.2 258.7h0M124.4 253.2h0M124.6 250.8h0M124.9 262.7h0M125.1 268.3h0M132.5 274.5h0M132.7 266.5h0M133 264.8h0M133.2 260.4h0M133.4 252.9h0M133.6 253.9h0M133.8 258.7h0M134.1 254.2h0M134.3 255.7h0M134.5 238.2h0M134.7 252.5h0M134.9 251.6h0M135.2 243.3h0M135.4 252.8h0M135.6 251.9h0M135.8 255.7h0M136 262.3h0M136.3 261.7h0M136.5 270.1h0M143.4 274.7h0M143.6 254.5h0M143.9 237.3h0M144.1 228.7h0M144.3 245.4h0M144.5 219h0M144.7 237.1h0M145 236.9h0M145.2 192.1h0M145.4 185.7h0M145.6 213.9h0M145.8 231.7h0M146.1 208.7h0M146.3 204.1h0M146.5 239.9h0M146.7 230.9h0M146.9 241.8h0M147.2 239.3h0M147.4 257.3h0M154 273.9h0M154.2 250.7h0M154.4 253.6h0M154.7 236.5h0M154.9 240.4h0M155.1 229.6h0M155.3 228.5h0M155.5 223h0M155.8 226.3h0M156 193.7h0M156.2 238.9h0M156.4 212.4h0M156.6 226.9h0M156.9 243.6h0M157.1 220.4h0M157.3 251.1h0M157.5 245.4h0M157.7 254.2h0M158 263.2h0M163.2 274.4h0M163.4 265h0M163.7 248.3h0M163.9 241.4h0M164.1 235.9h0M164.3 238.1h0M164.5 238.8h0M164.8 241.9h0M165 229.6h0M165.2 196h0M165.4 236.7h0M165.6 217.2h0M165.9 223h0M166.1 251.1h0M166.3 225h0M166.5 220.9h0M166.7 229.1h0M167 252.4h0M167.2 263.1h0M174.1 273.7h0M174.3 252.6h0M174.6 249.2h0M174.8 253.4h0M175 246.7h0M175.2 213h0M175.4 228.9h0M175.7 226.9h0M175.9 206.3h0M176.1 188.8h0M176.3 206.5h0M176.5 229.5h0M176.8 237.1h0M177 222.8h0M177.2 213.9h0M177.4 226.6h0M177.6 251.6h0M177.9 252.8h0M178.1 260.3h0M185 274.5h0M185.2 256.6h0M185.5 251h0M185.7 248.9h0M185.9 210.3h0M186.1 233.2h0M186.3 236.5h0M186.6 198.8h0M186.8 221.1h0M187 190.5h0M187.2 232.5h0M187.4 228.7h0M187.7 215h0M187.9 221.3h0M188.1 243.5h0M188.3 248.1h0M188.5 234.9h0M188.8 255.2h0M189 260.8h0M194.1 274.1h0M194.3 243.3h0M194.6 231h0M194.8 238.1h0M195 233h0M195.2 228h0M195.4 210.8h0M195.7 210.2h0M195.9 185.7h0M196.1 225.4h0M196.3 202.2h0M196.5 222.4h0M196.8 242.3h0M197 226.8h0M197.2 223.6h0M197.4 233.2h0M197.6 246.7h0M197.9 259.6h0M198.1 253.1h0M205.6 274.5h0M205.8 253.4h0M206.1 229.1h0M206.3 229.9h0M206.5 224.5h0M206.7 230.2h0M206.9 185.4h0M207.2 207.1h0M207.4 202.7h0M207.6 173.5h0M207.8 212.8h0M208 188.3h0M208.3 211.4h0M208.5 225.1h0M208.7 199.5h0M208.9 207.4h0M209.1 250.3h0M209.4 250.6h0M209.6 261.9h0M216.7 274.8h0M216.9 246.7h0M217.2 237.4h0M217.4 253h0M217.6 233.9h0M217.8 246.7h0M218 238.9h0M218.3 223.3h0M218.5 232.5h0M218.7 170.4h0M218.9 204.4h0M219.1 175.4h0M219.4 211.8h0M219.6 216.9h0M219.8 228.7h0M220 235.8h0M220.2 234.7h0M220.5 252.4h0M220.7 248.1h0M226.2 274h0M226.4 247.3h0M226.7 259.4h0M226.9 242.2h0M227.1 239.3h0M227.3 241.8h0M227.5 222h0M227.8 227.4h0M228 201.5h0M228.2 197.8h0M228.4 244.6h0M228.6 236.5h0M228.9 229.2h0M229.1 233.3h0M229.3 221.8h0M229.5 240.2h0M229.7 255h0M230 255.2h0M230.2 265.3h0M239 202.6h0M239.2 221.2h0M239.4 218.7h0M239.7 212.7h0M239.9 219.4h0M240.1 235h0M240.3 238.3h0M240.5 252.1h0M240.8 257.3h0M241 263h0M248.7 273.6h0M248.9 261.8h0M249.2 245.8h0M249.4 235.7h0M249.6 247.7h0M249.8 241.2h0M250 250.9h0M250.3 254.6h0M250.5 251.5h0M250.7 212.3h0M250.9 232.4h0M251.1 247.4h0M251.4 245.4h0M251.6 245.7h0M251.8 251.1h0M252 248.3h0M252.2 257.1h0M252.5 259.2h0M252.7 268.3h0M258.4 274.8h0M258.6 256.1h0M258.9 252.9h0M259.1 250.4h0M259.3 244.9h0M259.5 251.7h0M259.7 224.1h0M260 236.3h0M260.2 234.9h0M260.4 207.5h0" stroke="#1f77b4" stroke-width="2.0" stroke-linecap="round"/>
<polyline points="35.6,267.6 35.8,266.3 36.1,264.9 36.3,260.6 36.5,253.9 36.7,247.6 36.9,241.3 37.2,235.8 37.4,230 37.6,232 37.8,235.8 38,236.6 38.3,242.6 38.5,244.1 38.7,249 38.9,253.5 39.1,256.1 39.4,261.4 39.6,264.9 48.2,269.7 48.4,268 48.6,269.9 48.9,261.5 49.1,256.4 49.3,254.7 49.5,247.5 49.7,240.8 50,232.6 50.2,237.9 50.4,238.4 50.6,240.2 50.8,245.3 51.1,249.5 51.3,252.8 51.5,257.4 51.7,258.9 51.9,262.8 52.2,267.7 58.6,269.2 58.8,267.9 59.1,270.2 59.3,261.8 59.5,254.9 59.7,249.9 59.9,245.5 60.2,237.6 60.4,229.8 60.6,233.3 60.8,238.1 61,238.3 61.3,241.9 61.5,243.6 61.7,247.2 61.9,252.6 62.1,258.3 62.4,265.1 62.6,269.5 67.2,267.8 67.4,269 67.6,267.3 67.8,263.5 68,257.4 68.3,251.4 68.5,243.7 68.7,239.1 68.9,233.8 69.1,237.4 69.4,237.2 69.6,241.7 69.8,243.8 70,247.4 70.2,250.2 70.5,254.5 70.7,261.1 70.9,265.4 71.1,267.7 79.9,269.7 80.2,269.9 80.4,269.6 80.6,263.3 80.8,255.3 81,252.7 81.3,248.8 81.5,243.2 81.7,238.3 81.9,241.2 82.1,242.2 82.4,244.2 82.6,247 82.8,250.5 83,252.7 83.2,257.2 83.5,260.5 83.7,265.8 83.9,266.6 90.1,268.5 90.3,268 90.6,268.6 90.8,261.4 91,257.2 91.2,251.5 91.4,246.3 91.7,242.9 91.9,233 92.1,238.2 92.3,240.2 92.5,241.4 92.8,244.8 93,248.5 93.2,254.2 93.4,255.5 93.6,258.2 93.9,263.7 94.1,269.1 100.5,268.3 100.7,267.9 101,268.2 101.2,264.8 101.4,258.9 101.6,253.1 101.8,248.4 102.1,243.2 102.3,239.9 102.5,241.1 102.7,242.9 102.9,248.7 103.2,248.2 103.4,249.7 103.6,252.8 103.8,257.3 104,260.5 104.3,263.1 104.5,267.5 110.9,267.1 111.1,267.8 111.4,268.2 111.6,264.2 111.8,258.4 112,253 112.2,247.7 112.5,242.9 112.7,236.6 112.9,239.4 113.1,242.4 113.3,245 113.6,246.8 113.8,249.2 114,252.3 114.2,256.1 114.4,261 114.7,262.7 114.9,269.1 121.1,269.1 121.3,268.2 121.6,268.5 121.8,261.9 122,258.2 122.2,253.5 122.4,249.9 122.7,244.2 122.9,238.2 123.1,242.1 123.3,244.5 123.5,244.9 123.8,247.5 124,251 124.2,253.5 124.4,257.6 124.6,260.8 124.9,263.2 125.1,267 132.5,267.1 132.7,266.3 133,269.1 133.2,263.8 133.4,258.8 133.6,256.4 133.8,252.8 134.1,246.5 134.3,243 134.5,243.6 134.7,246.7 134.9,248.6 135.2,251 135.4,252.5 135.6,254.4 135.8,258.5 136,261.4 136.3,266.3 136.5,266.8 143.4,270.3 143.6,270.6 143.9,265.9 144.1,261.4 144.3,259.1 144.5,249.3 144.7,244.1 145,237.8 145.2,230.4 145.4,234.7 145.6,236.7 145.8,241.2 146.1,241.5 146.3,245.7 146.5,248.6 146.7,254.1 146.9,260.9 147.2,263.6 147.4,268.1 154,270.2 154.2,268.2 154.4,268.6 154.7,265.6 154.9,255.2 155.1,249.1 155.3,242.7 155.5,236.2 155.8,230.8 156,231.6 156.2,236.7 156.4,235.8 156.6,241.6 156.9,242.3 157.1,248.2 157.3,252.3 157.5,258.5 157.7,263.2 158,267.3 163.2,269.6 163.4,265.8 163.7,268.5 163.9,261.4 164.1,249.5 164.3,243.1 164.5,233.4 164.8,228.5 165,219.5 165.2,221.3 165.4,225 165.6,231 165.9,231 166.1,240.3 166.3,242.5 166.5,249.9 166.7,255.9 167,261.7 167.2,263.5 174.1,266.7 174.3,269.1 174.6,268.7 174.8,263.5 175,255.5 175.2,250.8 175.4,244.9 175.7,236.3 175.9,231.1 176.1,232.6 176.3,236 176.5,239.8 176.8,241.6 177,246.3 177.2,248.3 177.4,254.3 177.6,256.5 177.9,263.5 178.1,266.5 185,268.5 185.2,268.5 185.5,270 185.7,262.5 185.9,256.2 186.1,251.5 186.3,246.1 186.6,237.3 186.8,234.7 187,234.5 187.2,240.8 187.4,243.7 187.7,247.2 187.9,249.5 188.1,252.8 188.3,255.8 188.5,259.6 188.8,264.3 189,268 194.1,269 194.3,269.9 194.6,266.6 194.8,263.5 195,257.1 195.2,250.5 195.4,242.8 195.7,236.2 195.9,229.7 196.1,233 196.3,235.8 196.5,240 196.8,243 197,246.2 197.2,250.7 197.4,251.1 197.6,258.6 197.9,263.3 198.1,268.5 205.6,269.7 205.8,267.4 206.1,267.9 206.3,261 206.5,254.6 206.7,246.8 206.9,241.4 207.2,233 207.4,223 207.6,230.6 207.8,227.8 208,235.4 208.3,236.8 208.5,238.8 208.7,250.1 208.9,253.5 209.1,258 209.4,262 209.6,265.7 216.7,267.8 216.9,268 217.2,269.9 217.4,263.9 217.6,258.2 217.8,250.6 218,244.4 218.3,238.2 218.5,230.2 218.7,233.1 218.9,235.3 219.1,239.1 219.4,242 219.6,244.3 219.8,248 220,250.4 220.2,258.4 220.5,263.5 220.7,269.7 226.2,266.9 226.4,268.7 226.7,269.3 226.9,261.7 227.1,257.2 227.3,250 227.5,244.9 227.8,237.9 228,232.6 228.2,236.2 228.4,235 228.6,237.6 228.9,241 229.1,244.2 229.3,244.9 229.5,251.2 229.7,253.1 230,256.4 230.2,259.8 239,247.1 239.2,247.7 239.4,248.1 239.7,249 239.9,250.6 240.1,249.8 240.3,251.4 240.5,250.9 240.8,251.9 241,252.8 248.7,256.7 248.9,258.7 249.2,257 249.4,255.2 249.6,254.4 249.8,253.5 250,251.6 250.3,251.6 250.5,250.1 250.7,250.5 250.9,251.2 251.1,250.6 251.4,251.1 251.6,251.5 251.8,251.7 252,253.4 252.2,253.7 252.5,255.3 252.7,255.9 258.4,259.3 258.6,259.1 258.9,258.7 259.1,258.1 259.3,257.6 259.5,257 259.7,255.8 260,256.4 260.2,254.2 260.4,254.4" fill="none" stroke="#ff7f0e" stroke-width="0.95" stroke-linejoin="round"/>
<path d="M35.6 267.6h0M35.8 266.3h0M36.1 264.9h0M36.3 260.6h0M36.5 253.9h0M36.7 247.6h0M36.9 241.3h0M37.2 235.8h0M37.4 230h0M37.6 232h0M37.8 235.8h0M38 236.6h0M38.3 242.6h0M38.5 244.1h0M38.7 249h0M38.9 253.5h0M39.1 256.1h0M39.4 261.4h0M39.6 264.9h0M48.2 269.7h0M48.4 268h0M48.6 269.9h0M48.9 261.5h0M49.1 256.4h0M49.3 254.7h0M49.5 247.5h0M49.7 240.8h0M50 232.6h0M50.2 237.9h0M50.4 238.4h0M50.6 240.2h0M50.8 245.3h0M51.1 249.5h0M51.3 252.8h0M51.5 257.4h0M51.7 258.9h0M51.9 262.8h0M52.2 267.7h0M58.6 269.2h0M58.8 267.9h0M59.1 270.2h0M59.3 261.8h0M59.5 254.9h0M59.7 249.9h0M59.9 245.5h0M60.2 237.6h0M60.4 229.8h0M60.6 233.3h0M60.8 238.1h0M61 238.3h0M61.3 241.9h0M61.5 243.6h0M61.7 247.2h0M61.9 252.6h0M62.1 258.3h0M62.4 265.1h0M62.6 269.5h0M67.2 267.8h0M67.4 269h0M67.6 267.3h0M67.8 263.5h0M68 257.4h0M68.3 251.4h0M68.5 243.7h0M68.7 239.1h0M68.9 233.8h0M69.1 237.4h0M69.4 237.2h0M69.6 241.7h0M69.8 243.8h0M70 247.4h0M70.2 250.2h0M70.5 254.5h0M70.7 261.1h0M70.9 265.4h0M71.1 267.7h0M79.9 269.7h0M80.2 269.9h0M80.4 269.6h0M80.6 263.3h0M80.8 255.3h0M81 252.7h0M81.3 248.8h0M81.5 243.2h0M81.7 238.3h0M81.9 241.2h0M82.1 242.2h0M82.4 244.2h0M82.6 247h0M82.8 250.5h0M83 252.7h0M83.2 257.2h0M83.5 260.5h0M83.7 265.8h0M83.9 266.6h0M90.1 268.5h0M90.3 268h0M90.6 268.6h0M90.8 261.4h0M91 257.2h0M91.2 251.5h0M91.4 246.3h0M91.7 242.9h0M91.9 233h0M92.1 238.2h0M92.3 240.2h0M92.5 241.4h0M92.8 244.8h0M93 248.5h0M93.2 254.2h0M93.4 255.5h0M93.6 258.2h0M93.9 263.7h0M94.1 269.1h0M100.5 268.3h0M100.7 267.9h0M101 268.2h0M101.2 264.8h0M101.4 258.9h0M101.6 253.1h0M101.8 248.4h0M102.1 243.2h0M102.3 239.9h0M102.5 241.1h0M102.7 242.9h0M102.9 248.7h0M103.2 248.2h0M103.4 249.7h0M103.6 252.8h0M103.8 257.3h0M104 260.5h0M104.3 263.1h0M104.5 267.5h0M110.9 267.1h0M111.1 267.8h0M111.4 268.2h0M111.6 264.2h0M111.8 258.4h0M112 253h0M112.2 247.7h0M112.5 242.9h0M112.7 236.6h0M112.9 239.4h0M113.1 242.4h0M113.3 245h0M113.6 246.8h0M113.8 249.2h0M114 252.3h0M114.2 256.1h0M114.4 261h0M114.7 262.7h0M114.9 269.1h0M121.1 269.1h0M121.3 268.2h0M121.6 268.5h0M121.8 261.9h0M122 258.2h0M122.2 253.5h0M122.4 249.9h0M122.7 244.2h0M122.9 238.2h0M123.1 242.1h0M123.3 244.5h0M123.5 244.9h0M123.8 247.5h0M124 251h0M124.2 253.5h0M124.4 257.6h0M124.6 260.8h0M124.9 263.2h0M125.1 267h0M132.5 267.1h0M132.7 266.3h0M133 269.1h0M133.2 263.8h0M133.4 258.8h0M133.6 256.4h0M133.8 252.8h0M134.1 246.5h0M134.3 243h0M134.5 243.6h0M134.7 246.7h0M134.9 248.6h0M135.2 251h0M135.4 252.5h0M135.6 254.4h0M135.8 258.5h0M136 261.4h0M136.3 266.3h0M136.5 266.8h0M143.4 270.3h0M143.6 270.6h0M143.9 265.9h0M144.1 261.4h0M144.3 259.1h0M144.5 249.3h0M144.7 244.1h0M145 237.8h0M145.2 230.4h0M145.4 234.7h0M145.6 236.7h0M145.8 241.2h0M146.1 241.5h0M146.3 245.7h0M146.5 248.6h0M146.7 254.1h0M146.9 260.9h0M147.2 263.6h0M147.4 268.1h0M154 270.2h0M154.2 268.2h0M154.4 268.6h0M154.7 265.6h0M154.9 255.2h0M155.1 249.1h0M155.3 242.7h0M155.5 236.2h0M155.8 230.8h0M156 231.6h0M156.2 236.7h0M156.4 235.8h0M156.6 241.6h0M156.9 242.3h0M157.1 248.2h0M157.3 252.3h0M157.5 258.5h0M157.7 263.2h0M158 267.3h0M163.2 269.6h0M163.4 265.8h0M163.7 268.5h0M163.9 261.4h0M164.1 249.5h0M164.3 243.1h0M164.5 233.4h0M164.8 228.5h0M165 219.5h0M165.2 221.3h0M165.4 225h0M165.6 231h0M165.9 231h0M166.1 240.3h0M166.3 242.5h0M166.5 249.9h0M166.7 255.9h0M167 261.7h0M167.2 263.5h0M174.1 266.7h0M174.3 269.1h0M174.6 268.7h0M174.8 263.5h0M175 255.5h0M175.2 250.8h0M175.4 244.9h0M175.7 236.3h0M175.9 231.1h0M176.1 232.6h0M176.3 236h0M176.5 239.8h0M176.8 241.6h0M177 246.3h0M177.2 248.3h0M177.4 254.3h0M177.6 256.5h0M177.9 263.5h0M178.1 266.5h0M185 268.5h0M185.2 268.5h0M185.5 270h0M185.7 262.5h0M185.9 256.2h0M186.1 251.5h0M186.3 246.1h0M186.6 237.3h0M186.8 234.7h0M187 234.5h0M187.2 240.8h0M187.4 243.7h0M187.7 247.2h0M187.9 249.5h0M188.1 252.8h0M188.3 255.8h0M188.5 259.6h0M188.8 264.3h0M189 268h0M194.1 269h0M194.3 269.9h0M194.6 266.6h0M194.8 263.5h0M195 257.1h0M195.2 250.5h0M195.4 242.8h0M195.7 236.2h0M195.9 229.7h0M196.1 233h0M196.3 235.8h0M196.5 240h0M196.8 243h0M197 246.2h0M197.2 250.7h0M197.4 251.1h0M197.6 258.6h0M197.9 263.3h0M198.1 268.5h0M205.6 269.7h0M205.8 267.4h0M206.1 267.9h0M206.3 261h0M206.5 254.6h0M206.7 246.8h0M206.9 241.4h0M207.2 233h0M207.4 223h0M207.6 230.6h0M207.8 227.8h0M208 235.4h0M208.3 236.8h0M208.5 238.8h0M208.7 250.1h0M208.9 253.5h0M209.1 258h0M209.4 262h0M209.6 265.7h0M216.7 267.8h0M216.9 268h0M217.2 269.9h0M217.4 263.9h0M217.6 258.2h0M217.8 250.6h0M218 244.4h0M218.3 238.2h0M218.5 230.2h0M218.7 233.1h0M218.9 235.3h0M219.1 239.1h0M219.4 242h0M219.6 244.3h0M219.8 248h0M220 250.4h0M220.2 258.4h0M220.5 263.5h0M220.7 269.7h0M226.2 266.9h0M226.4 268.7h0M226.7 269.3h0M226.9 261.7h0M227.1 257.2h0M227.3 250h0M227.5 244.9h0M227.8 237.9h0M228 232.6h0M228.2 236.2h0M228.4 235h0M228.6 237.6h0M228.9 241h0M229.1 244.2h0M229.3 244.9h0M229.5 251.2h0M229.7 253.1h0M230 256.4h0M230.2 259.8h0M239 247.1h0M239.2 247.7h0M239.4 248.1h0M239.7 249h0M239.9 250.6h0M240.1 249.8h0M240.3 251.4h0M240.5 250.9h0M240.8 251.9h0M241 252.8h0M248.7 256.7h0M248.9 258.7h0M249.2 257h0M249.4 255.2h0M249.6 254.4h0M249.8 253.5h0M250 251.6h0M250.3 251.6h0M250.5 250.1h0M250.7 250.5h0M250.9 251.2h0M251.1 250.6h0M251.4 251.1h0M251.6 251.5h0M251.8 251.7h0M252 253.4h0M252.2 253.7h0M252.5 255.3h0M252.7 255.9h0M258.4 259.3h0M258.6 259.1h0M258.9 258.7h0M259.1 258.1h0M259.3 257.6h0M259.5 257h0M259.7 255.8h0M260 256.4h0M260.2 254.2h0M260.4 254.4h0" stroke="#ff7f0e" stroke-width="1.1" stroke-linecap="round"/>
</g>
<rect x="25.5" y="165.5" width="246.0" height="115.0" fill="none" stroke="#a8a8a8" stroke-width="0.9"/>
<path d="M23.7 275.15H25.5M23.7 252.89H25.5M23.7 230.63H25.5M23.7 208.37H25.5M23.7 186.11H25.5M33.50 280.5V282.3M86.30 280.5V282.3M139.10 280.5V282.3M191.90 280.5V282.3M244.70 280.5V282.3" stroke="#a8a8a8" stroke-width="0.7"/>
<g font-size="5.3" fill="#1e1e1e">
<text x="22.5" y="277.05" text-anchor="end">0</text>
<text x="22.5" y="254.79" text-anchor="end">200</text>
<text x="22.5" y="232.53" text-anchor="end">400</text>
<text x="22.5" y="210.27" text-anchor="end">600</text>
<text x="22.5" y="188.01" text-anchor="end">800</text>
<text x="33.50" y="286.8" text-anchor="middle">2024-02-07</text>
<text x="86.30" y="286.8" text-anchor="middle">2024-02-12</text>
<text x="139.10" y="286.8" text-anchor="middle">2024-02-17</text>
<text x="191.90" y="286.8" text-anchor="middle">2024-02-22</text>
<text x="244.70" y="286.8" text-anchor="middle">2024-02-27</text>
</g>
<text x="148.50" y="293.7" font-size="5.8" fill="#1e1e1e" text-anchor="middle">Timestamp</text>
<text transform="translate(7.6 223.00) rotate(-90)" font-size="5.8" fill="#1e1e1e" text-anchor="middle" textLength="51.5" lengthAdjust="spacing">Irradiance (<tspan font-style="italic">W</tspan>/<tspan font-style="italic" dx="0.3">m</tspan><tspan font-size="4.06" dx="0.3" dy="-2.4">2</tspan><tspan dx="0.5" dy="2.4">)</tspan></text>
<rect x="27.30" y="168.0" width="109.33" height="17.4" rx="1.2" fill="#fff" fill-opacity="0.8" stroke="#d6d6d6" stroke-width="0.6"/>
<path d="M29.3 173H41.1" stroke="#1f77b4" stroke-width="0.8"/>
<path d="M35.2 173h0" stroke="#1f77b4" stroke-width="1.8" stroke-linecap="round"/>
<path d="M29.3 181H41.1" stroke="#ff7f0e" stroke-width="0.8"/>
<g font-size="5.65" fill="#1e1e1e"><text x="45.6" y="175.3">True winter (30 min resampled)</text><text x="45.6" y="183.3">Forecasts (6h ahead)</text></g>
<text transform="translate(139.1 316.1) scale(0.92 1)" class="cap" font-size="14.5" fill="#111" text-anchor="middle">(c)</text>
<clipPath id="cd"><rect x="304.5" y="165.5" width="243.0" height="115.0"/></clipPath>
<g clip-path="url(#cd)">
<polyline points="316.1,274.6 316.3,255.4 316.5,254.6 316.7,240.8 316.9,239.7 317.1,252 317.3,227.4 317.5,236.6 317.7,219.7 317.9,192.1 318.1,196.1 318.3,217.1 318.5,230.8 318.7,233.8 318.9,237.5 319.1,240.3 319.3,245.1 319.5,240.1 319.7,252.7 319.9,265.4 324.4,275.3 324.6,246.4 324.8,239.4 325,245.6 325.2,226.3 325.4,231.3 325.6,231.3 325.8,221 326,232.5 326.2,176.6 326.4,235.4 326.6,208.2 326.8,217.6 327,224.3 327.2,226.9 327.4,222.8 327.6,244.8 327.8,255.7 328,257.1 328.2,251.1 334.8,274.1 335,253.9 335.2,250.2 335.4,247.3 335.6,247.4 335.8,229.8 336,226 336.2,219.7 336.4,203.9 336.6,197.7 336.8,233.6 337,205.5 337.2,243.3 337.4,230.9 337.6,233.1 337.8,233 338,239.5 338.2,251 338.4,239.4 338.6,266.1 345.1,275.5 345.3,258.3 345.5,259.7 345.7,259.8 345.9,256.9 346.1,259.9 346.3,255.7 346.5,252.9 346.7,234.7 346.9,250.9 347.1,243.1 347.3,251.9 347.5,253.7 347.7,223.1 347.9,240.2 348.1,255.6 348.3,251.9 348.5,263.6 348.7,262.1 348.9,265.9 353.7,274.4 353.9,262.9 354.1,237.2 354.3,229.9 354.5,243.1 354.7,236.1 354.9,223.3 355.1,243.5 355.3,234.2 355.5,191.6 355.7,227.9 355.9,229.9 356.1,226.7 356.3,226 356.5,226.2 356.7,227.3 356.9,230.6 357.1,252.8 357.3,248.4 357.5,263 363.1,274.6 363.3,254 363.5,244.7 363.7,234.1 363.9,225.5 364.1,220.7 364.3,219.4 364.5,201.4 364.7,204.6 364.9,170.3 365.1,201.8 365.3,189.4 365.5,226.6 365.7,197.1 365.9,231.4 366.1,200.1 366.3,241.8 366.5,240.5 366.7,242.1 366.9,263.1 372.8,275.1 373,244.2 373.2,256.5 373.4,235.9 373.6,242.2 373.8,234.2 374,247.9 374.2,198.5 374.4,193.6 374.6,187.3 374.8,214 375,232.6 375.2,239.4 375.4,217.5 375.6,249.6 375.8,243.2 376,226.7 376.2,230.1 376.4,248.8 376.6,265.7 382.5,274.2 382.7,258.5 382.9,248.2 383.1,226.9 383.3,216.1 383.5,247.5 383.7,219.1 383.9,249.3 384.1,231.9 384.3,196.5 384.5,231.8 384.7,230.1 384.9,244.8 385.1,216 385.3,208.4 385.5,230.8 385.7,248.3 385.9,249.9 386.1,261 386.3,260.3 392.2,274 392.4,258.2 392.6,253.2 392.8,247.4 393,249.1 393.2,227.9 393.4,241.1 393.6,250.8 393.8,208.3 394,203.8 394.2,235.6 394.4,240.8 394.6,232.3 394.8,240.9 395,224.9 395.2,224.9 395.4,232.5 395.6,253 395.8,253.9 396,268.2 401.4,274.7 401.6,248.2 401.8,226.7 402,244.5 402.2,202.6 402.4,227.2 402.6,229.2 402.8,231 403,218.5 403.2,175.9 403.4,182.8 403.6,233.6 403.8,230.7 404,232.2 404.2,232.5 404.4,224.6 404.6,232.9 404.8,230.4 405,232.3 405.2,249.7 411.1,274.3 411.3,256 411.5,236.3 411.7,247.3 411.9,232.1 412.1,216.5 412.3,226.3 412.5,209.8 412.7,226.6 412.9,188 413.1,215.5 413.3,216 413.5,246.6 413.7,198.7 413.9,241.6 414.1,229.7 414.3,234.7 414.5,231.3 414.7,248.9 414.9,258.2 420.3,274.4 420.5,262.4 420.7,245.7 420.9,240.5 421.1,245 421.3,238.1 421.5,215.7 421.7,202.4 421.9,217.2 422.1,192.1 422.3,229.9 422.5,244.2 422.7,236.5 422.9,243 423.1,236.1 423.3,254.4 423.5,242.2 423.7,257 423.9,249.6 424.1,261.4 430.6,275.3 430.8,262.6 431,248.5 431.2,246.5 431.4,231.1 431.6,248.3 431.8,237.2 432,240.4 432.2,215.1 432.4,194.6 432.6,241.9 432.8,226.7 433,248 433.2,228 433.4,232.1 433.6,230.2 433.8,229.8 434,248 434.2,261.3 434.4,264 439.5,274.5 439.7,252.2 439.9,253.3 440.1,239.1 440.3,233.3 440.5,250.9 440.7,203.8 440.9,215.1 441.1,224.5 441.3,186.8 441.5,225.1 441.7,244.1 441.9,210.4 442.1,223.8 442.3,223.4 442.5,244.8 442.7,241.1 442.9,254.3 443.1,242.9 443.3,258.8 448.7,275.2 448.9,269.3 449.1,268.9 449.3,263.4 449.5,261.6 449.7,258.5 449.9,266.5 450.1,264.9 450.3,263.3 450.5,243 450.7,261.3 450.9,253.5 451.1,250.6 451.3,257.3 451.5,254.6 451.7,265.2 451.9,258.3 452.1,263.6 452.3,267 452.5,269.9 458,274.7 458.2,264.9 458.4,258.9 458.6,251.9 458.8,251.7 459,252.7 459.2,231.7 459.4,247.8 459.6,225.4 459.8,221.2 460,231.8 460.2,254.9 460.4,243.5 460.6,235.9 460.8,228.1 461,250 461.2,254.6 461.4,253.5 461.6,264 461.8,269.7 468.1,274.7 468.3,254.3 468.5,233.8 468.7,231 468.9,231.3 469.1,237.6 469.3,243.4 469.5,218.9 469.7,227.5 469.9,187.3 470.1,204.3 470.3,230.5 470.5,223.6 470.7,226 470.9,244.5 471.1,224.6 471.3,253.2 471.5,238.1 471.7,248.6 471.9,261 477.3,274.5 477.5,268.5 477.7,261.3 477.9,254.1 478.1,254.9 478.3,258.4 478.5,248.5 478.7,255.3 478.9,254.3 479.1,242.6 479.3,258.3 479.5,259.1 479.7,260.7 479.9,262.3 480.1,251.1 480.3,259 480.5,254.2 480.7,258 480.9,263 481.1,270.5 487,274.7 487.2,267.3 487.4,266.3 487.6,265.5 487.8,260.4 488,263.5 488.2,261.2 488.4,254.5 488.6,265.2 488.8,246.2 489,252.3 489.2,253.2 489.4,254.6 489.6,250.4 489.8,260.2 490,258.9 490.2,261.8 490.4,263 490.6,268.1 490.8,271.8 495.6,274.9 495.8,250.9 496,250.1 496.2,240.5 496.4,254.3 496.6,237.9 496.8,196 497,243.1 497.2,212.6 497.4,239 497.6,220.2 497.8,236.2 498,231 498.2,215.8 498.4,253.9 498.6,238 498.8,242.7 499,254 499.2,253 499.4,258.1 506.4,274.7 506.6,260 506.8,260.7 507,261.9 507.2,247.5 507.4,255.3 507.6,245.4 507.8,242.8 508,250.7 508.2,219.5 508.4,250.5 508.6,242 508.8,256.1 509,230.3 509.2,242.1 509.4,240.1 509.6,237 509.8,248 510,254.6 510.2,266.3 515.8,274.8 516,266.1 516.2,264.2 516.4,251.6 516.6,246.8 516.8,244.1 517,254.8 517.2,252.3 517.4,230.6 517.6,223.7 517.8,248.2 518,247.9 518.2,255.1 518.4,246.6 518.6,245.7 518.8,249 519,253.6 519.2,259.8 519.4,257.8 519.6,263.9 525.1,275.4 525.3,271.2 525.5,267.3 525.7,262.4 525.9,264.8 526.1,249.3 526.3,256.7 526.5,260.5 526.7,263.4 526.9,243.7 527.1,251.9 527.3,260.8 527.5,260.8 527.7,258.7 527.9,258 528.1,261.7 528.3,263.5 528.5,265.5 528.7,267.4 528.9,268.7 533.7,275.1 533.9,268.2 534.1,266.3 534.3,264.7 534.5,253.7 534.7,246.8 534.9,238.9 535.1,255.6 535.3,249.1 535.5,253.2 535.7,248.6 535.9,247.6 536.1,254.5 536.3,256.3 536.5,246.3" fill="none" stroke="#1f77b4" stroke-width="1.05" stroke-linejoin="round"/>
<path d="M316.1 274.6h0M316.3 255.4h0M316.5 254.6h0M316.7 240.8h0M316.9 239.7h0M317.1 252h0M317.3 227.4h0M317.5 236.6h0M317.7 219.7h0M317.9 192.1h0M318.1 196.1h0M318.3 217.1h0M318.5 230.8h0M318.7 233.8h0M318.9 237.5h0M319.1 240.3h0M319.3 245.1h0M319.5 240.1h0M319.7 252.7h0M319.9 265.4h0M324.4 275.3h0M324.6 246.4h0M324.8 239.4h0M325 245.6h0M325.2 226.3h0M325.4 231.3h0M325.6 231.3h0M325.8 221h0M326 232.5h0M326.2 176.6h0M326.4 235.4h0M326.6 208.2h0M326.8 217.6h0M327 224.3h0M327.2 226.9h0M327.4 222.8h0M327.6 244.8h0M327.8 255.7h0M328 257.1h0M328.2 251.1h0M334.8 274.1h0M335 253.9h0M335.2 250.2h0M335.4 247.3h0M335.6 247.4h0M335.8 229.8h0M336 226h0M336.2 219.7h0M336.4 203.9h0M336.6 197.7h0M336.8 233.6h0M337 205.5h0M337.2 243.3h0M337.4 230.9h0M337.6 233.1h0M337.8 233h0M338 239.5h0M338.2 251h0M338.4 239.4h0M338.6 266.1h0M345.1 275.5h0M345.3 258.3h0M345.5 259.7h0M345.7 259.8h0M345.9 256.9h0M346.1 259.9h0M346.3 255.7h0M346.5 252.9h0M346.7 234.7h0M346.9 250.9h0M347.1 243.1h0M347.3 251.9h0M347.5 253.7h0M347.7 223.1h0M347.9 240.2h0M348.1 255.6h0M348.3 251.9h0M348.5 263.6h0M348.7 262.1h0M348.9 265.9h0M353.7 274.4h0M353.9 262.9h0M354.1 237.2h0M354.3 229.9h0M354.5 243.1h0M354.7 236.1h0M354.9 223.3h0M355.1 243.5h0M355.3 234.2h0M355.5 191.6h0M355.7 227.9h0M355.9 229.9h0M356.1 226.7h0M356.3 226h0M356.5 226.2h0M356.7 227.3h0M356.9 230.6h0M357.1 252.8h0M357.3 248.4h0M357.5 263h0M363.1 274.6h0M363.3 254h0M363.5 244.7h0M363.7 234.1h0M363.9 225.5h0M364.1 220.7h0M364.3 219.4h0M364.5 201.4h0M364.7 204.6h0M364.9 170.3h0M365.1 201.8h0M365.3 189.4h0M365.5 226.6h0M365.7 197.1h0M365.9 231.4h0M366.1 200.1h0M366.3 241.8h0M366.5 240.5h0M366.7 242.1h0M366.9 263.1h0M372.8 275.1h0M373 244.2h0M373.2 256.5h0M373.4 235.9h0M373.6 242.2h0M373.8 234.2h0M374 247.9h0M374.2 198.5h0M374.4 193.6h0M374.6 187.3h0M374.8 214h0M375 232.6h0M375.2 239.4h0M375.4 217.5h0M375.6 249.6h0M375.8 243.2h0M376 226.7h0M376.2 230.1h0M376.4 248.8h0M376.6 265.7h0M382.5 274.2h0M382.7 258.5h0M382.9 248.2h0M383.1 226.9h0M383.3 216.1h0M383.5 247.5h0M383.7 219.1h0M383.9 249.3h0M384.1 231.9h0M384.3 196.5h0M384.5 231.8h0M384.7 230.1h0M384.9 244.8h0M385.1 216h0M385.3 208.4h0M385.5 230.8h0M385.7 248.3h0M385.9 249.9h0M386.1 261h0M386.3 260.3h0M392.2 274h0M392.4 258.2h0M392.6 253.2h0M392.8 247.4h0M393 249.1h0M393.2 227.9h0M393.4 241.1h0M393.6 250.8h0M393.8 208.3h0M394 203.8h0M394.2 235.6h0M394.4 240.8h0M394.6 232.3h0M394.8 240.9h0M395 224.9h0M395.2 224.9h0M395.4 232.5h0M395.6 253h0M395.8 253.9h0M396 268.2h0M401.4 274.7h0M401.6 248.2h0M401.8 226.7h0M402 244.5h0M402.2 202.6h0M402.4 227.2h0M402.6 229.2h0M402.8 231h0M403 218.5h0M403.2 175.9h0M403.4 182.8h0M403.6 233.6h0M403.8 230.7h0M404 232.2h0M404.2 232.5h0M404.4 224.6h0M404.6 232.9h0M404.8 230.4h0M405 232.3h0M405.2 249.7h0M411.1 274.3h0M411.3 256h0M411.5 236.3h0M411.7 247.3h0M411.9 232.1h0M412.1 216.5h0M412.3 226.3h0M412.5 209.8h0M412.7 226.6h0M412.9 188h0M413.1 215.5h0M413.3 216h0M413.5 246.6h0M413.7 198.7h0M413.9 241.6h0M414.1 229.7h0M414.3 234.7h0M414.5 231.3h0M414.7 248.9h0M414.9 258.2h0M420.3 274.4h0M420.5 262.4h0M420.7 245.7h0M420.9 240.5h0M421.1 245h0M421.3 238.1h0M421.5 215.7h0M421.7 202.4h0M421.9 217.2h0M422.1 192.1h0M422.3 229.9h0M422.5 244.2h0M422.7 236.5h0M422.9 243h0M423.1 236.1h0M423.3 254.4h0M423.5 242.2h0M423.7 257h0M423.9 249.6h0M424.1 261.4h0M430.6 275.3h0M430.8 262.6h0M431 248.5h0M431.2 246.5h0M431.4 231.1h0M431.6 248.3h0M431.8 237.2h0M432 240.4h0M432.2 215.1h0M432.4 194.6h0M432.6 241.9h0M432.8 226.7h0M433 248h0M433.2 228h0M433.4 232.1h0M433.6 230.2h0M433.8 229.8h0M434 248h0M434.2 261.3h0M434.4 264h0M439.5 274.5h0M439.7 252.2h0M439.9 253.3h0M440.1 239.1h0M440.3 233.3h0M440.5 250.9h0M440.7 203.8h0M440.9 215.1h0M441.1 224.5h0M441.3 186.8h0M441.5 225.1h0M441.7 244.1h0M441.9 210.4h0M442.1 223.8h0M442.3 223.4h0M442.5 244.8h0M442.7 241.1h0M442.9 254.3h0M443.1 242.9h0M443.3 258.8h0M448.7 275.2h0M448.9 269.3h0M449.1 268.9h0M449.3 263.4h0M449.5 261.6h0M449.7 258.5h0M449.9 266.5h0M450.1 264.9h0M450.3 263.3h0M450.5 243h0M450.7 261.3h0M450.9 253.5h0M451.1 250.6h0M451.3 257.3h0M451.5 254.6h0M451.7 265.2h0M451.9 258.3h0M452.1 263.6h0M452.3 267h0M452.5 269.9h0M458 274.7h0M458.2 264.9h0M458.4 258.9h0M458.6 251.9h0M458.8 251.7h0M459 252.7h0M459.2 231.7h0M459.4 247.8h0M459.6 225.4h0M459.8 221.2h0M460 231.8h0M460.2 254.9h0M460.4 243.5h0M460.6 235.9h0M460.8 228.1h0M461 250h0M461.2 254.6h0M461.4 253.5h0M461.6 264h0M461.8 269.7h0M468.1 274.7h0M468.3 254.3h0M468.5 233.8h0M468.7 231h0M468.9 231.3h0M469.1 237.6h0M469.3 243.4h0M469.5 218.9h0M469.7 227.5h0M469.9 187.3h0M470.1 204.3h0M470.3 230.5h0M470.5 223.6h0M470.7 226h0M470.9 244.5h0M471.1 224.6h0M471.3 253.2h0M471.5 238.1h0M471.7 248.6h0M471.9 261h0M477.3 274.5h0M477.5 268.5h0M477.7 261.3h0M477.9 254.1h0M478.1 254.9h0M478.3 258.4h0M478.5 248.5h0M478.7 255.3h0M478.9 254.3h0M479.1 242.6h0M479.3 258.3h0M479.5 259.1h0M479.7 260.7h0M479.9 262.3h0M480.1 251.1h0M480.3 259h0M480.5 254.2h0M480.7 258h0M480.9 263h0M481.1 270.5h0M487 274.7h0M487.2 267.3h0M487.4 266.3h0M487.6 265.5h0M487.8 260.4h0M488 263.5h0M488.2 261.2h0M488.4 254.5h0M488.6 265.2h0M488.8 246.2h0M489 252.3h0M489.2 253.2h0M489.4 254.6h0M489.6 250.4h0M489.8 260.2h0M490 258.9h0M490.2 261.8h0M490.4 263h0M490.6 268.1h0M490.8 271.8h0M495.6 274.9h0M495.8 250.9h0M496 250.1h0M496.2 240.5h0M496.4 254.3h0M496.6 237.9h0M496.8 196h0M497 243.1h0M497.2 212.6h0M497.4 239h0M497.6 220.2h0M497.8 236.2h0M498 231h0M498.2 215.8h0M498.4 253.9h0M498.6 238h0M498.8 242.7h0M499 254h0M499.2 253h0M499.4 258.1h0M506.4 274.7h0M506.6 260h0M506.8 260.7h0M507 261.9h0M507.2 247.5h0M507.4 255.3h0M507.6 245.4h0M507.8 242.8h0M508 250.7h0M508.2 219.5h0M508.4 250.5h0M508.6 242h0M508.8 256.1h0M509 230.3h0M509.2 242.1h0M509.4 240.1h0M509.6 237h0M509.8 248h0M510 254.6h0M510.2 266.3h0M515.8 274.8h0M516 266.1h0M516.2 264.2h0M516.4 251.6h0M516.6 246.8h0M516.8 244.1h0M517 254.8h0M517.2 252.3h0M517.4 230.6h0M517.6 223.7h0M517.8 248.2h0M518 247.9h0M518.2 255.1h0M518.4 246.6h0M518.6 245.7h0M518.8 249h0M519 253.6h0M519.2 259.8h0M519.4 257.8h0M519.6 263.9h0M525.1 275.4h0M525.3 271.2h0M525.5 267.3h0M525.7 262.4h0M525.9 264.8h0M526.1 249.3h0M526.3 256.7h0M526.5 260.5h0M526.7 263.4h0M526.9 243.7h0M527.1 251.9h0M527.3 260.8h0M527.5 260.8h0M527.7 258.7h0M527.9 258h0M528.1 261.7h0M528.3 263.5h0M528.5 265.5h0M528.7 267.4h0M528.9 268.7h0M533.7 275.1h0M533.9 268.2h0M534.1 266.3h0M534.3 264.7h0M534.5 253.7h0M534.7 246.8h0M534.9 238.9h0M535.1 255.6h0M535.3 249.1h0M535.5 253.2h0M535.7 248.6h0M535.9 247.6h0M536.1 254.5h0M536.3 256.3h0M536.5 246.3h0" stroke="#1f77b4" stroke-width="2.0" stroke-linecap="round"/>
<polyline points="316.1,267.8 316.3,267.9 316.5,269 316.7,265.5 316.9,260.9 317.1,259.3 317.3,255.2 317.5,251.1 317.7,247.9 317.9,249.3 318.1,249.6 318.3,251.4 318.5,253.1 318.7,253.2 318.9,255.3 319.1,256.3 319.3,260.6 319.5,263.6 319.7,264 319.9,265.9 324.4,267.9 324.6,266.6 324.8,269.5 325,261.7 325.2,257.4 325.4,251.4 325.6,248.5 325.8,240.8 326,238.1 326.2,234.3 326.4,236.4 326.6,238.6 326.8,240.7 327,246.4 327.2,244.6 327.4,250.4 327.6,253.7 327.8,256.2 328,258.8 328.2,265.8 334.8,266.4 335,266 335.2,266.3 335.4,262.5 335.6,257.5 335.8,252.1 336,248.2 336.2,242.4 336.4,238.2 336.6,236.1 336.8,240 337,242 337.2,241.2 337.4,247.2 337.6,247.4 337.8,250.5 338,253.7 338.2,259.1 338.4,261.9 338.6,266.1 345.1,269.2 345.3,266.9 345.5,267.8 345.7,262.7 345.9,256.9 346.1,255.1 346.3,252.3 346.5,246.3 346.7,241.4 346.9,240.3 347.1,242 347.3,244.8 347.5,245.1 347.7,246 347.9,248.7 348.1,253.3 348.3,255 348.5,257.5 348.7,261.9 348.9,263.8 353.7,264.5 353.9,266.8 354.1,265.3 354.3,260.3 354.5,256.1 354.7,251.1 354.9,244.5 355.1,241.1 355.3,236.3 355.5,231.7 355.7,235.8 355.9,235.9 356.1,242.1 356.3,242.6 356.5,244.8 356.7,249.2 356.9,249.6 357.1,254.8 357.3,260.5 357.5,260.8 363.1,266.5 363.3,265.8 363.5,265 363.7,255.4 363.9,247.4 364.1,238.7 364.3,235.6 364.5,223.4 364.7,213.5 364.9,211.8 365.1,216.8 365.3,221.7 365.5,225.7 365.7,231.1 365.9,233.3 366.1,236.4 366.3,244.7 366.5,247.8 366.7,257.3 366.9,263.6 372.8,262.4 373,263.6 373.2,264.6 373.4,254.9 373.6,247.8 373.8,235.5 374,227.7 374.2,219.6 374.4,211.1 374.6,206.3 374.8,214.3 375,217.3 375.2,223.9 375.4,222.5 375.6,226.9 375.8,235.6 376,245.4 376.2,250.3 376.4,253.2 376.6,262.1 382.5,266.3 382.7,264.7 382.9,269.1 383.1,259.3 383.3,252.2 383.5,249 383.7,243 383.9,235.1 384.1,230.7 384.3,229.2 384.5,233.9 384.7,236.3 384.9,237.3 385.1,239.9 385.3,243.9 385.5,246.1 385.7,249.9 385.9,259 386.1,261 386.3,265.5 392.2,264.8 392.4,267.1 392.6,267.5 392.8,263.4 393,257.8 393.2,256.9 393.4,249.8 393.6,248.5 393.8,243.6 394,242.1 394.2,245.6 394.4,246.9 394.6,247.6 394.8,250.3 395,253.7 395.2,254.1 395.4,258.4 395.6,259.4 395.8,262.7 396,266.9 401.4,265.3 401.6,268.8 401.8,265.1 402,262.4 402.2,255.6 402.4,253.4 402.6,245.6 402.8,238.9 403,234.9 403.2,231.7 403.4,235.5 403.6,237 403.8,238.5 404,245 404.2,246.3 404.4,251.4 404.6,256.7 404.8,259.3 405,261.4 405.2,264.8 411.1,270.6 411.3,266 411.5,266.9 411.7,257.1 411.9,252.2 412.1,245 412.3,238.5 412.5,232.6 412.7,220.8 412.9,216.1 413.1,223 413.3,225.1 413.5,228.9 413.7,237.2 413.9,237.6 414.1,245.3 414.3,248.6 414.5,253.5 414.7,260.8 414.9,266 420.3,267.8 420.5,268.8 420.7,267.3 420.9,261.5 421.1,256.6 421.3,254 421.5,246.4 421.7,241.2 421.9,234.8 422.1,233.4 422.3,236 422.5,238.9 422.7,240.3 422.9,245.2 423.1,246.5 423.3,251.5 423.5,253.6 423.7,258 423.9,262.2 424.1,265.3 430.6,270 430.8,266.4 431,266.6 431.2,263.7 431.4,256.3 431.6,254.9 431.8,246.3 432,238.7 432.2,233.3 432.4,233.1 432.6,235.3 432.8,239.1 433,240.2 433.2,245.3 433.4,250.4 433.6,249.7 433.8,254.9 434,259 434.2,262.2 434.4,266.1 439.5,268 439.7,268.6 439.9,269.6 440.1,262.1 440.3,255.5 440.5,247.5 440.7,241.1 440.9,232.7 441.1,227.4 441.3,224 441.5,226.5 441.7,231.9 441.9,234.7 442.1,236.6 442.3,241.3 442.5,246.2 442.7,251.2 442.9,255.8 443.1,265.3 443.3,265.9 448.7,268.8 448.9,266.2 449.1,268.6 449.3,266.4 449.5,260.4 449.7,259.2 449.9,252.1 450.1,250.1 450.3,245.8 450.5,244.6 450.7,246.7 450.9,249.6 451.1,249.6 451.3,251.7 451.5,254.5 451.7,255.5 451.9,258.3 452.1,262.5 452.3,264.3 452.5,268.5 458,267.3 458.2,267.4 458.4,268.8 458.6,265.1 458.8,260.6 459,256.2 459.2,253.3 459.4,249.8 459.6,244.1 459.8,242.6 460,244.8 460.2,248.1 460.4,250.5 460.6,251.2 460.8,252.4 461,254.5 461.2,258.8 461.4,262.7 461.6,265.2 461.8,267.5 468.1,265.5 468.3,268.6 468.5,269.8 468.7,259.9 468.9,252.1 469.1,239.3 469.3,233.3 469.5,220.9 469.7,211.9 469.9,210.7 470.1,211.2 470.3,219.5 470.5,223.4 470.7,227.1 470.9,234.9 471.1,242.1 471.3,245.7 471.5,254.8 471.7,262.4 471.9,268.7 477.3,268.4 477.5,267.1 477.7,269.3 477.9,264.2 478.1,262.9 478.3,258.4 478.5,254.1 478.7,249 478.9,246.2 479.1,243.1 479.3,245.8 479.5,250.3 479.7,248.8 479.9,250.2 480.1,252.5 480.3,255.2 480.5,259.3 480.7,262.1 480.9,264.5 481.1,267.3 487,269.9 487.2,268.5 487.4,269.5 487.6,265.6 487.8,263.4 488,259.7 488.2,258.5 488.4,252.1 488.6,247.5 488.8,249.8 489,248.3 489.2,250.3 489.4,252.1 489.6,254.7 489.8,256.4 490,257.1 490.2,260.9 490.4,263.9 490.6,265.8 490.8,267.3 495.6,267 495.8,267.9 496,270.1 496.2,262.9 496.4,257.3 496.6,247.7 496.8,240.4 497,234 497.2,225.4 497.4,223.9 497.6,223.3 497.8,232.3 498,231.8 498.2,238 498.4,241.1 498.6,244.7 498.8,253.9 499,256.5 499.2,259.8 499.4,268.4 506.4,268.6 506.6,267.5 506.8,267.1 507,261.8 507.2,254.3 507.4,243.1 507.6,239.8 507.8,231.3 508,225.9 508.2,224.2 508.4,223.7 508.6,227.5 508.8,234.9 509,240.3 509.2,241.8 509.4,241.6 509.6,249.9 509.8,256.1 510,262.1 510.2,267 515.8,266.9 516,267.7 516.2,266.9 516.4,262.8 516.6,254.6 516.8,245.9 517,242.3 517.2,232.8 517.4,224.7 517.6,223.7 517.8,224.8 518,232.6 518.2,235.4 518.4,240.1 518.6,240.3 518.8,246.4 519,251.8 519.2,254.7 519.4,263 519.6,266.3 525.1,268.4 525.3,269.5 525.5,269.7 525.7,264.1 525.9,261.2 526.1,257.6 526.3,252.5 526.5,251.7 526.7,244.8 526.9,244.6 527.1,247.7 527.3,249.6 527.5,250.8 527.7,251.8 527.9,255.4 528.1,255.8 528.3,259.3 528.5,261.8 528.7,265.3 528.9,267.8 533.7,268.5 533.9,269 534.1,269.3 534.3,266.8 534.5,263.8 534.7,261.4 534.9,258.9 535.1,254.5 535.3,251.5 535.5,251.5 535.7,253.8 535.9,254.7 536.1,255.7 536.3,257.8 536.5,258.4" fill="none" stroke="#ff7f0e" stroke-width="0.95" stroke-linejoin="round"/>
<path d="M316.1 267.8h0M316.3 267.9h0M316.5 269h0M316.7 265.5h0M316.9 260.9h0M317.1 259.3h0M317.3 255.2h0M317.5 251.1h0M317.7 247.9h0M317.9 249.3h0M318.1 249.6h0M318.3 251.4h0M318.5 253.1h0M318.7 253.2h0M318.9 255.3h0M319.1 256.3h0M319.3 260.6h0M319.5 263.6h0M319.7 264h0M319.9 265.9h0M324.4 267.9h0M324.6 266.6h0M324.8 269.5h0M325 261.7h0M325.2 257.4h0M325.4 251.4h0M325.6 248.5h0M325.8 240.8h0M326 238.1h0M326.2 234.3h0M326.4 236.4h0M326.6 238.6h0M326.8 240.7h0M327 246.4h0M327.2 244.6h0M327.4 250.4h0M327.6 253.7h0M327.8 256.2h0M328 258.8h0M328.2 265.8h0M334.8 266.4h0M335 266h0M335.2 266.3h0M335.4 262.5h0M335.6 257.5h0M335.8 252.1h0M336 248.2h0M336.2 242.4h0M336.4 238.2h0M336.6 236.1h0M336.8 240h0M337 242h0M337.2 241.2h0M337.4 247.2h0M337.6 247.4h0M337.8 250.5h0M338 253.7h0M338.2 259.1h0M338.4 261.9h0M338.6 266.1h0M345.1 269.2h0M345.3 266.9h0M345.5 267.8h0M345.7 262.7h0M345.9 256.9h0M346.1 255.1h0M346.3 252.3h0M346.5 246.3h0M346.7 241.4h0M346.9 240.3h0M347.1 242h0M347.3 244.8h0M347.5 245.1h0M347.7 246h0M347.9 248.7h0M348.1 253.3h0M348.3 255h0M348.5 257.5h0M348.7 261.9h0M348.9 263.8h0M353.7 264.5h0M353.9 266.8h0M354.1 265.3h0M354.3 260.3h0M354.5 256.1h0M354.7 251.1h0M354.9 244.5h0M355.1 241.1h0M355.3 236.3h0M355.5 231.7h0M355.7 235.8h0M355.9 235.9h0M356.1 242.1h0M356.3 242.6h0M356.5 244.8h0M356.7 249.2h0M356.9 249.6h0M357.1 254.8h0M357.3 260.5h0M357.5 260.8h0M363.1 266.5h0M363.3 265.8h0M363.5 265h0M363.7 255.4h0M363.9 247.4h0M364.1 238.7h0M364.3 235.6h0M364.5 223.4h0M364.7 213.5h0M364.9 211.8h0M365.1 216.8h0M365.3 221.7h0M365.5 225.7h0M365.7 231.1h0M365.9 233.3h0M366.1 236.4h0M366.3 244.7h0M366.5 247.8h0M366.7 257.3h0M366.9 263.6h0M372.8 262.4h0M373 263.6h0M373.2 264.6h0M373.4 254.9h0M373.6 247.8h0M373.8 235.5h0M374 227.7h0M374.2 219.6h0M374.4 211.1h0M374.6 206.3h0M374.8 214.3h0M375 217.3h0M375.2 223.9h0M375.4 222.5h0M375.6 226.9h0M375.8 235.6h0M376 245.4h0M376.2 250.3h0M376.4 253.2h0M376.6 262.1h0M382.5 266.3h0M382.7 264.7h0M382.9 269.1h0M383.1 259.3h0M383.3 252.2h0M383.5 249h0M383.7 243h0M383.9 235.1h0M384.1 230.7h0M384.3 229.2h0M384.5 233.9h0M384.7 236.3h0M384.9 237.3h0M385.1 239.9h0M385.3 243.9h0M385.5 246.1h0M385.7 249.9h0M385.9 259h0M386.1 261h0M386.3 265.5h0M392.2 264.8h0M392.4 267.1h0M392.6 267.5h0M392.8 263.4h0M393 257.8h0M393.2 256.9h0M393.4 249.8h0M393.6 248.5h0M393.8 243.6h0M394 242.1h0M394.2 245.6h0M394.4 246.9h0M394.6 247.6h0M394.8 250.3h0M395 253.7h0M395.2 254.1h0M395.4 258.4h0M395.6 259.4h0M395.8 262.7h0M396 266.9h0M401.4 265.3h0M401.6 268.8h0M401.8 265.1h0M402 262.4h0M402.2 255.6h0M402.4 253.4h0M402.6 245.6h0M402.8 238.9h0M403 234.9h0M403.2 231.7h0M403.4 235.5h0M403.6 237h0M403.8 238.5h0M404 245h0M404.2 246.3h0M404.4 251.4h0M404.6 256.7h0M404.8 259.3h0M405 261.4h0M405.2 264.8h0M411.1 270.6h0M411.3 266h0M411.5 266.9h0M411.7 257.1h0M411.9 252.2h0M412.1 245h0M412.3 238.5h0M412.5 232.6h0M412.7 220.8h0M412.9 216.1h0M413.1 223h0M413.3 225.1h0M413.5 228.9h0M413.7 237.2h0M413.9 237.6h0M414.1 245.3h0M414.3 248.6h0M414.5 253.5h0M414.7 260.8h0M414.9 266h0M420.3 267.8h0M420.5 268.8h0M420.7 267.3h0M420.9 261.5h0M421.1 256.6h0M421.3 254h0M421.5 246.4h0M421.7 241.2h0M421.9 234.8h0M422.1 233.4h0M422.3 236h0M422.5 238.9h0M422.7 240.3h0M422.9 245.2h0M423.1 246.5h0M423.3 251.5h0M423.5 253.6h0M423.7 258h0M423.9 262.2h0M424.1 265.3h0M430.6 270h0M430.8 266.4h0M431 266.6h0M431.2 263.7h0M431.4 256.3h0M431.6 254.9h0M431.8 246.3h0M432 238.7h0M432.2 233.3h0M432.4 233.1h0M432.6 235.3h0M432.8 239.1h0M433 240.2h0M433.2 245.3h0M433.4 250.4h0M433.6 249.7h0M433.8 254.9h0M434 259h0M434.2 262.2h0M434.4 266.1h0M439.5 268h0M439.7 268.6h0M439.9 269.6h0M440.1 262.1h0M440.3 255.5h0M440.5 247.5h0M440.7 241.1h0M440.9 232.7h0M441.1 227.4h0M441.3 224h0M441.5 226.5h0M441.7 231.9h0M441.9 234.7h0M442.1 236.6h0M442.3 241.3h0M442.5 246.2h0M442.7 251.2h0M442.9 255.8h0M443.1 265.3h0M443.3 265.9h0M448.7 268.8h0M448.9 266.2h0M449.1 268.6h0M449.3 266.4h0M449.5 260.4h0M449.7 259.2h0M449.9 252.1h0M450.1 250.1h0M450.3 245.8h0M450.5 244.6h0M450.7 246.7h0M450.9 249.6h0M451.1 249.6h0M451.3 251.7h0M451.5 254.5h0M451.7 255.5h0M451.9 258.3h0M452.1 262.5h0M452.3 264.3h0M452.5 268.5h0M458 267.3h0M458.2 267.4h0M458.4 268.8h0M458.6 265.1h0M458.8 260.6h0M459 256.2h0M459.2 253.3h0M459.4 249.8h0M459.6 244.1h0M459.8 242.6h0M460 244.8h0M460.2 248.1h0M460.4 250.5h0M460.6 251.2h0M460.8 252.4h0M461 254.5h0M461.2 258.8h0M461.4 262.7h0M461.6 265.2h0M461.8 267.5h0M468.1 265.5h0M468.3 268.6h0M468.5 269.8h0M468.7 259.9h0M468.9 252.1h0M469.1 239.3h0M469.3 233.3h0M469.5 220.9h0M469.7 211.9h0M469.9 210.7h0M470.1 211.2h0M470.3 219.5h0M470.5 223.4h0M470.7 227.1h0M470.9 234.9h0M471.1 242.1h0M471.3 245.7h0M471.5 254.8h0M471.7 262.4h0M471.9 268.7h0M477.3 268.4h0M477.5 267.1h0M477.7 269.3h0M477.9 264.2h0M478.1 262.9h0M478.3 258.4h0M478.5 254.1h0M478.7 249h0M478.9 246.2h0M479.1 243.1h0M479.3 245.8h0M479.5 250.3h0M479.7 248.8h0M479.9 250.2h0M480.1 252.5h0M480.3 255.2h0M480.5 259.3h0M480.7 262.1h0M480.9 264.5h0M481.1 267.3h0M487 269.9h0M487.2 268.5h0M487.4 269.5h0M487.6 265.6h0M487.8 263.4h0M488 259.7h0M488.2 258.5h0M488.4 252.1h0M488.6 247.5h0M488.8 249.8h0M489 248.3h0M489.2 250.3h0M489.4 252.1h0M489.6 254.7h0M489.8 256.4h0M490 257.1h0M490.2 260.9h0M490.4 263.9h0M490.6 265.8h0M490.8 267.3h0M495.6 267h0M495.8 267.9h0M496 270.1h0M496.2 262.9h0M496.4 257.3h0M496.6 247.7h0M496.8 240.4h0M497 234h0M497.2 225.4h0M497.4 223.9h0M497.6 223.3h0M497.8 232.3h0M498 231.8h0M498.2 238h0M498.4 241.1h0M498.6 244.7h0M498.8 253.9h0M499 256.5h0M499.2 259.8h0M499.4 268.4h0M506.4 268.6h0M506.6 267.5h0M506.8 267.1h0M507 261.8h0M507.2 254.3h0M507.4 243.1h0M507.6 239.8h0M507.8 231.3h0M508 225.9h0M508.2 224.2h0M508.4 223.7h0M508.6 227.5h0M508.8 234.9h0M509 240.3h0M509.2 241.8h0M509.4 241.6h0M509.6 249.9h0M509.8 256.1h0M510 262.1h0M510.2 267h0M515.8 266.9h0M516 267.7h0M516.2 266.9h0M516.4 262.8h0M516.6 254.6h0M516.8 245.9h0M517 242.3h0M517.2 232.8h0M517.4 224.7h0M517.6 223.7h0M517.8 224.8h0M518 232.6h0M518.2 235.4h0M518.4 240.1h0M518.6 240.3h0M518.8 246.4h0M519 251.8h0M519.2 254.7h0M519.4 263h0M519.6 266.3h0M525.1 268.4h0M525.3 269.5h0M525.5 269.7h0M525.7 264.1h0M525.9 261.2h0M526.1 257.6h0M526.3 252.5h0M526.5 251.7h0M526.7 244.8h0M526.9 244.6h0M527.1 247.7h0M527.3 249.6h0M527.5 250.8h0M527.7 251.8h0M527.9 255.4h0M528.1 255.8h0M528.3 259.3h0M528.5 261.8h0M528.7 265.3h0M528.9 267.8h0M533.7 268.5h0M533.9 269h0M534.1 269.3h0M534.3 266.8h0M534.5 263.8h0M534.7 261.4h0M534.9 258.9h0M535.1 254.5h0M535.3 251.5h0M535.5 251.5h0M535.7 253.8h0M535.9 254.7h0M536.1 255.7h0M536.3 257.8h0M536.5 258.4h0" stroke="#ff7f0e" stroke-width="1.1" stroke-linecap="round"/>
</g>
<rect x="304.5" y="165.5" width="243.0" height="115.0" fill="none" stroke="#a8a8a8" stroke-width="0.9"/>
<path d="M302.7 275.60H304.5M302.7 254.00H304.5M302.7 232.40H304.5M302.7 210.80H304.5M302.7 189.20H304.5M302.7 167.60H304.5M341.00 280.5V282.3M398.30 280.5V282.3M455.60 280.5V282.3M512.90 280.5V282.3" stroke="#a8a8a8" stroke-width="0.7"/>
<g font-size="5.3" fill="#1e1e1e">
<text x="301.5" y="277.50" text-anchor="end">0</text>
<text x="301.5" y="255.90" text-anchor="end">200</text>
<text x="301.5" y="234.30" text-anchor="end">400</text>
<text x="301.5" y="212.70" text-anchor="end">600</text>
<text x="301.5" y="191.10" text-anchor="end">800</text>
<text x="301.5" y="169.50" text-anchor="end">1000</text>
<text x="341.00" y="286.8" text-anchor="middle">2024-08-01</text>
<text x="398.30" y="286.8" text-anchor="middle">2024-08-07</text>
<text x="455.60" y="286.8" text-anchor="middle">2024-08-13</text>
<text x="512.90" y="286.8" text-anchor="middle">2024-08-19</text>
</g>
<text x="426.00" y="293.7" font-size="5.8" fill="#1e1e1e" text-anchor="middle">Timestamp</text>
<text transform="translate(283.6 223.00) rotate(-90)" font-size="5.8" fill="#1e1e1e" text-anchor="middle" textLength="51.5" lengthAdjust="spacing">Irradiance (<tspan font-style="italic">W</tspan>/<tspan font-style="italic" dx="0.3">m</tspan><tspan font-size="4.06" dx="0.3" dy="-2.4">2</tspan><tspan dx="0.5" dy="2.4">)</tspan></text>
<rect x="429.73" y="168.0" width="114.87" height="16.8" rx="1.2" fill="#fff" fill-opacity="0.8" stroke="#d6d6d6" stroke-width="0.6"/>
<path d="M431.7 173H443.5" stroke="#1f77b4" stroke-width="0.8"/>
<path d="M437.6 173h0" stroke="#1f77b4" stroke-width="1.8" stroke-linecap="round"/>
<path d="M431.7 181H443.5" stroke="#ff7f0e" stroke-width="0.8"/>
<g font-size="5.65" fill="#1e1e1e"><text x="448" y="175.3">True summer (30 min resampled)</text><text x="448" y="183.3">Forecasts (6h ahead)</text></g>
<text transform="translate(414.4 316.1) scale(0.99 1)" class="cap" font-size="14.5" fill="#111" text-anchor="middle">(d)</text>
<clipPath id="ce"><rect x="25.5" y="326.5" width="246.0" height="116.0"/></clipPath>
<g clip-path="url(#ce)">
<polyline points="35.6,436.6 36.1,413.6 36.5,406 36.9,393.9 37.4,375.7 37.8,399.9 38.3,390.7 38.7,393.9 39.1,418.1 39.6,425.5 48.2,435.4 48.6,403 49.1,394.5 49.5,387.7 50,389.1 50.4,367.7 50.8,404.4 51.3,392 51.7,407.1 52.2,424.2 58.8,436.3 59.2,415.5 59.7,410.8 60.1,414.4 60.5,404.4 61,384.2 61.4,407.6 61.9,408.9 62.3,414.9 62.7,426.7 67.2,436.6 67.6,415.5 68,405.2 68.5,401 68.9,374.1 69.4,404.4 69.8,386.5 70.2,404.4 70.7,406.2 71.1,427.2 78.8,436.5 79.3,418 79.7,416.2 80.2,420.1 80.6,388.3 81,410.4 81.5,409.1 81.9,415 82.4,412 82.8,427 89.6,436.1 90.1,409.3 90.5,407.2 90.9,389.7 91.4,373.2 91.8,404.4 92.3,395.5 92.7,397.9 93.1,414.5 93.6,420.5 100,436.6 100.5,428.3 100.9,412.8 101.3,420.1 101.8,397.5 102.2,400.1 102.7,404 103.1,410.2 103.5,426.4 104,428.8 111.4,436.9 111.9,413.6 112.3,416.1 112.7,395.3 113.2,380.6 113.6,397.4 114.1,407.3 114.5,407.2 114.9,410.5 115.4,429.5 121.1,435.7 121.6,426.6 122,403.9 122.4,397 122.9,392.6 123.3,407.9 123.8,406.6 124.2,413.3 124.6,409.6 125.1,428.8 131.5,435.5 132,426 132.4,427.2 132.8,411.2 133.3,404.7 133.7,406.4 134.2,418.6 134.6,419.5 135,424.7 135.5,432.9 142.9,435.7 143.4,405.1 143.8,396.7 144.2,404.2 144.7,363.5 145.1,407.5 145.6,395.2 146,402.4 146.4,408.3 146.9,421 154,436 154.4,406.9 154.9,404.1 155.3,386.4 155.8,365.2 156.2,360.6 156.6,387 157.1,400.6 157.5,397.3 158,423.1 164,436.2 164.5,411.4 164.9,404.6 165.3,406.5 165.8,364.8 166.2,408.2 166.7,397.8 167.1,395.1 167.5,408.4 168,427.3 174.1,436.5 174.6,416.1 175,375.5 175.4,368.2 175.9,358.2 176.3,377.7 176.8,380.2 177.2,391.5 177.6,399.3 178.1,425.9 185,436.4 185.5,418.6 185.9,407.6 186.3,400.3 186.8,374.1 187.2,378.1 187.7,404.5 188.1,404.8 188.5,414.8 189,422.4 194.1,435.8 194.6,404.3 195,368.3 195.4,379.6 195.9,346.5 196.3,386.7 196.8,371.5 197.2,387.3 197.6,391.5 198.1,421.4 205.6,436.2 206.1,403.4 206.5,363.9 206.9,401.1 207.4,343.1 207.8,348.9 208.3,359.7 208.7,387.1 209.1,390 209.6,422.9 217,435.6 217.5,391.8 217.9,388.4 218.3,355.4 218.8,331.3 219.2,366.6 219.7,384.4 220.1,387.4 220.5,398.6 221,408.3 226.2,436.9 226.7,407.4 227.1,412.8 227.5,382.5 228,375.7 228.4,378.6 228.9,395.4 229.3,407 229.7,418.6 230.2,422.7 239.7,374.4 240.1,403.9 240.5,417.9 241,425.8 248.7,435.9 249.2,420.3 249.6,414.4 250,406.1 250.5,376.8 250.9,409.9 251.4,398 251.8,412.7 252.2,411.5 252.7,424.8 258.4,436.1 258.9,411.9 259.3,401.5 259.7,398.2 260.2,374.4" fill="none" stroke="#1f77b4" stroke-width="1.05" stroke-linejoin="round"/>
<path d="M35.6 436.6h0M36.1 413.6h0M36.5 406h0M36.9 393.9h0M37.4 375.7h0M37.8 399.9h0M38.3 390.7h0M38.7 393.9h0M39.1 418.1h0M39.6 425.5h0M48.2 435.4h0M48.6 403h0M49.1 394.5h0M49.5 387.7h0M50 389.1h0M50.4 367.7h0M50.8 404.4h0M51.3 392h0M51.7 407.1h0M52.2 424.2h0M58.8 436.3h0M59.2 415.5h0M59.7 410.8h0M60.1 414.4h0M60.5 404.4h0M61 384.2h0M61.4 407.6h0M61.9 408.9h0M62.3 414.9h0M62.7 426.7h0M67.2 436.6h0M67.6 415.5h0M68 405.2h0M68.5 401h0M68.9 374.1h0M69.4 404.4h0M69.8 386.5h0M70.2 404.4h0M70.7 406.2h0M71.1 427.2h0M78.8 436.5h0M79.3 418h0M79.7 416.2h0M80.2 420.1h0M80.6 388.3h0M81 410.4h0M81.5 409.1h0M81.9 415h0M82.4 412h0M82.8 427h0M89.6 436.1h0M90.1 409.3h0M90.5 407.2h0M90.9 389.7h0M91.4 373.2h0M91.8 404.4h0M92.3 395.5h0M92.7 397.9h0M93.1 414.5h0M93.6 420.5h0M100 436.6h0M100.5 428.3h0M100.9 412.8h0M101.3 420.1h0M101.8 397.5h0M102.2 400.1h0M102.7 404h0M103.1 410.2h0M103.5 426.4h0M104 428.8h0M111.4 436.9h0M111.9 413.6h0M112.3 416.1h0M112.7 395.3h0M113.2 380.6h0M113.6 397.4h0M114.1 407.3h0M114.5 407.2h0M114.9 410.5h0M115.4 429.5h0M121.1 435.7h0M121.6 426.6h0M122 403.9h0M122.4 397h0M122.9 392.6h0M123.3 407.9h0M123.8 406.6h0M124.2 413.3h0M124.6 409.6h0M125.1 428.8h0M131.5 435.5h0M132 426h0M132.4 427.2h0M132.8 411.2h0M133.3 404.7h0M133.7 406.4h0M134.2 418.6h0M134.6 419.5h0M135 424.7h0M135.5 432.9h0M142.9 435.7h0M143.4 405.1h0M143.8 396.7h0M144.2 404.2h0M144.7 363.5h0M145.1 407.5h0M145.6 395.2h0M146 402.4h0M146.4 408.3h0M146.9 421h0M154 436h0M154.4 406.9h0M154.9 404.1h0M155.3 386.4h0M155.8 365.2h0M156.2 360.6h0M156.6 387h0M157.1 400.6h0M157.5 397.3h0M158 423.1h0M164 436.2h0M164.5 411.4h0M164.9 404.6h0M165.3 406.5h0M165.8 364.8h0M166.2 408.2h0M166.7 397.8h0M167.1 395.1h0M167.5 408.4h0M168 427.3h0M174.1 436.5h0M174.6 416.1h0M175 375.5h0M175.4 368.2h0M175.9 358.2h0M176.3 377.7h0M176.8 380.2h0M177.2 391.5h0M177.6 399.3h0M178.1 425.9h0M185 436.4h0M185.5 418.6h0M185.9 407.6h0M186.3 400.3h0M186.8 374.1h0M187.2 378.1h0M187.7 404.5h0M188.1 404.8h0M188.5 414.8h0M189 422.4h0M194.1 435.8h0M194.6 404.3h0M195 368.3h0M195.4 379.6h0M195.9 346.5h0M196.3 386.7h0M196.8 371.5h0M197.2 387.3h0M197.6 391.5h0M198.1 421.4h0M205.6 436.2h0M206.1 403.4h0M206.5 363.9h0M206.9 401.1h0M207.4 343.1h0M207.8 348.9h0M208.3 359.7h0M208.7 387.1h0M209.1 390h0M209.6 422.9h0M217 435.6h0M217.5 391.8h0M217.9 388.4h0M218.3 355.4h0M218.8 331.3h0M219.2 366.6h0M219.7 384.4h0M220.1 387.4h0M220.5 398.6h0M221 408.3h0M226.2 436.9h0M226.7 407.4h0M227.1 412.8h0M227.5 382.5h0M228 375.7h0M228.4 378.6h0M228.9 395.4h0M229.3 407h0M229.7 418.6h0M230.2 422.7h0M239.7 374.4h0M240.1 403.9h0M240.5 417.9h0M241 425.8h0M248.7 435.9h0M249.2 420.3h0M249.6 414.4h0M250 406.1h0M250.5 376.8h0M250.9 409.9h0M251.4 398h0M251.8 412.7h0M252.2 411.5h0M252.7 424.8h0M258.4 436.1h0M258.9 411.9h0M259.3 401.5h0M259.7 398.2h0M260.2 374.4h0" stroke="#1f77b4" stroke-width="2.2" stroke-linecap="round"/>
<polyline points="35.6,430.9 36.1,429.5 36.5,411.1 36.9,399 37.4,384.9 37.8,392.6 38.3,401.1 38.7,408.2 39.1,415.4 39.6,429.1 48.2,428.6 48.6,429.5 49.1,416.7 49.5,403.1 50,390.4 50.4,397.4 50.8,401.8 51.3,412.1 51.7,419 52.2,426.3 58.8,427.4 59.2,431.4 59.7,414.4 60.1,400.1 60.5,383.9 61,389 61.4,399.6 61.9,407.2 62.3,416.8 62.7,427.4 67.2,433.5 67.6,429.4 68,419.6 68.5,404.9 68.9,393.5 69.4,399.9 69.8,406.4 70.2,409.6 70.7,419.7 71.1,430.1 78.8,432.1 79.3,429.9 79.7,415.7 80.2,400.8 80.6,383.6 81,391.7 81.5,395.8 81.9,407.4 82.4,418.3 82.8,430.1 89.6,430.4 90.1,429.9 90.5,418.9 90.9,407.7 91.4,399 91.8,401 92.3,407.1 92.7,411.6 93.1,422.9 93.6,429.8 100,429.6 100.5,430.1 100.9,421.2 101.3,410 101.8,400 102.2,405.1 102.7,408 103.1,415.9 103.5,423.4 104,426.7 111.4,428.1 111.9,429.2 112.3,419.6 112.7,407 113.2,396.1 113.6,403.9 114.1,407.3 114.5,412.7 114.9,420.4 115.4,429.7 121.1,430.1 121.6,429.6 122,420.6 122.4,410.1 122.9,399.4 123.3,403.6 123.8,409.2 124.2,413.3 124.6,422.1 125.1,430.4 131.5,431.8 132,430.5 132.4,421.3 132.8,414 133.3,404.1 133.7,409.7 134.2,413.8 134.6,418.9 135,425.1 135.5,432.7 142.9,427.9 143.4,429 143.8,415.8 144.2,401.6 144.7,390.4 145.1,393.7 145.6,401.7 146,407.9 146.4,419.7 146.9,428.1 154,431.2 154.4,429.9 154.9,415.5 155.3,396.6 155.8,383.1 156.2,389.7 156.6,400 157.1,408.7 157.5,418.7 158,427 164,427.7 164.5,431.3 164.9,415.2 165.3,390.6 165.8,374.8 166.2,382.8 166.7,396.8 167.1,397.5 167.5,415.4 168,428.5 174.1,430.8 174.6,434.5 175,412.1 175.4,392.1 175.9,375.9 176.3,382.7 176.8,395.9 177.2,401.3 177.6,416 178.1,431.6 185,430.2 185.5,431.6 185.9,412.1 186.3,391.4 186.8,377.2 187.2,383.1 187.7,391.4 188.1,402.6 188.5,415 189,431.7 194.1,430.5 194.6,430.4 195,413.7 195.4,401.1 195.9,387.6 196.3,391.3 196.8,402.1 197.2,409.7 197.6,417.6 198.1,430.8 205.6,431.2 206.1,429.3 206.5,410.9 206.9,384.2 207.4,361.9 207.8,369.3 208.3,383.4 208.7,395.9 209.1,416.6 209.6,428.4 217,429.9 217.5,432.4 217.9,413.7 218.3,397.2 218.8,377.9 219.2,381.4 219.7,392.9 220.1,396.6 220.5,410.2 221,417.6 226.2,420.7 226.7,419.7 227.1,410.9 227.5,402.1 228,394.5 228.4,394.4 228.9,404.5 229.3,407.2 229.7,416.9 230.2,421.6 239.7,390.3 240.1,387.8 240.5,389.9 241,387.9 248.7,399.4 249.2,401.7 249.6,397.4 250,392.3 250.5,392.5 250.9,392.7 251.4,398.4 251.8,407.3 252.2,411.9 252.7,421.3 258.4,424.1 258.9,423.4 259.3,418 259.7,409.8 260.2,403.1" fill="none" stroke="#ff7f0e" stroke-width="1.0" stroke-linejoin="round"/>
<path d="M35.6 430.9h0M36.1 429.5h0M36.5 411.1h0M36.9 399h0M37.4 384.9h0M37.8 392.6h0M38.3 401.1h0M38.7 408.2h0M39.1 415.4h0M39.6 429.1h0M48.2 428.6h0M48.6 429.5h0M49.1 416.7h0M49.5 403.1h0M50 390.4h0M50.4 397.4h0M50.8 401.8h0M51.3 412.1h0M51.7 419h0M52.2 426.3h0M58.8 427.4h0M59.2 431.4h0M59.7 414.4h0M60.1 400.1h0M60.5 383.9h0M61 389h0M61.4 399.6h0M61.9 407.2h0M62.3 416.8h0M62.7 427.4h0M67.2 433.5h0M67.6 429.4h0M68 419.6h0M68.5 404.9h0M68.9 393.5h0M69.4 399.9h0M69.8 406.4h0M70.2 409.6h0M70.7 419.7h0M71.1 430.1h0M78.8 432.1h0M79.3 429.9h0M79.7 415.7h0M80.2 400.8h0M80.6 383.6h0M81 391.7h0M81.5 395.8h0M81.9 407.4h0M82.4 418.3h0M82.8 430.1h0M89.6 430.4h0M90.1 429.9h0M90.5 418.9h0M90.9 407.7h0M91.4 399h0M91.8 401h0M92.3 407.1h0M92.7 411.6h0M93.1 422.9h0M93.6 429.8h0M100 429.6h0M100.5 430.1h0M100.9 421.2h0M101.3 410h0M101.8 400h0M102.2 405.1h0M102.7 408h0M103.1 415.9h0M103.5 423.4h0M104 426.7h0M111.4 428.1h0M111.9 429.2h0M112.3 419.6h0M112.7 407h0M113.2 396.1h0M113.6 403.9h0M114.1 407.3h0M114.5 412.7h0M114.9 420.4h0M115.4 429.7h0M121.1 430.1h0M121.6 429.6h0M122 420.6h0M122.4 410.1h0M122.9 399.4h0M123.3 403.6h0M123.8 409.2h0M124.2 413.3h0M124.6 422.1h0M125.1 430.4h0M131.5 431.8h0M132 430.5h0M132.4 421.3h0M132.8 414h0M133.3 404.1h0M133.7 409.7h0M134.2 413.8h0M134.6 418.9h0M135 425.1h0M135.5 432.7h0M142.9 427.9h0M143.4 429h0M143.8 415.8h0M144.2 401.6h0M144.7 390.4h0M145.1 393.7h0M145.6 401.7h0M146 407.9h0M146.4 419.7h0M146.9 428.1h0M154 431.2h0M154.4 429.9h0M154.9 415.5h0M155.3 396.6h0M155.8 383.1h0M156.2 389.7h0M156.6 400h0M157.1 408.7h0M157.5 418.7h0M158 427h0M164 427.7h0M164.5 431.3h0M164.9 415.2h0M165.3 390.6h0M165.8 374.8h0M166.2 382.8h0M166.7 396.8h0M167.1 397.5h0M167.5 415.4h0M168 428.5h0M174.1 430.8h0M174.6 434.5h0M175 412.1h0M175.4 392.1h0M175.9 375.9h0M176.3 382.7h0M176.8 395.9h0M177.2 401.3h0M177.6 416h0M178.1 431.6h0M185 430.2h0M185.5 431.6h0M185.9 412.1h0M186.3 391.4h0M186.8 377.2h0M187.2 383.1h0M187.7 391.4h0M188.1 402.6h0M188.5 415h0M189 431.7h0M194.1 430.5h0M194.6 430.4h0M195 413.7h0M195.4 401.1h0M195.9 387.6h0M196.3 391.3h0M196.8 402.1h0M197.2 409.7h0M197.6 417.6h0M198.1 430.8h0M205.6 431.2h0M206.1 429.3h0M206.5 410.9h0M206.9 384.2h0M207.4 361.9h0M207.8 369.3h0M208.3 383.4h0M208.7 395.9h0M209.1 416.6h0M209.6 428.4h0M217 429.9h0M217.5 432.4h0M217.9 413.7h0M218.3 397.2h0M218.8 377.9h0M219.2 381.4h0M219.7 392.9h0M220.1 396.6h0M220.5 410.2h0M221 417.6h0M226.2 420.7h0M226.7 419.7h0M227.1 410.9h0M227.5 402.1h0M228 394.5h0M228.4 394.4h0M228.9 404.5h0M229.3 407.2h0M229.7 416.9h0M230.2 421.6h0M239.7 390.3h0M240.1 387.8h0M240.5 389.9h0M241 387.9h0M248.7 399.4h0M249.2 401.7h0M249.6 397.4h0M250 392.3h0M250.5 392.5h0M250.9 392.7h0M251.4 398.4h0M251.8 407.3h0M252.2 411.9h0M252.7 421.3h0M258.4 424.1h0M258.9 423.4h0M259.3 418h0M259.7 409.8h0M260.2 403.1h0" stroke="#ff7f0e" stroke-width="1.3" stroke-linecap="round"/>
</g>
<rect x="25.5" y="326.5" width="246.0" height="116.0" fill="none" stroke="#a8a8a8" stroke-width="0.9"/>
<path d="M23.7 437.10H25.5M23.7 413.88H25.5M23.7 390.66H25.5M23.7 367.44H25.5M23.7 344.22H25.5M33.50 442.5V444.3M86.30 442.5V444.3M139.10 442.5V444.3M191.90 442.5V444.3M244.70 442.5V444.3" stroke="#a8a8a8" stroke-width="0.7"/>
<g font-size="5.3" fill="#1e1e1e">
<text x="22.5" y="439.00" text-anchor="end">0</text>
<text x="22.5" y="415.78" text-anchor="end">200</text>
<text x="22.5" y="392.56" text-anchor="end">400</text>
<text x="22.5" y="369.34" text-anchor="end">600</text>
<text x="22.5" y="346.12" text-anchor="end">800</text>
<text x="33.50" y="448.8" text-anchor="middle">2024-02-07</text>
<text x="86.30" y="448.8" text-anchor="middle">2024-02-12</text>
<text x="139.10" y="448.8" text-anchor="middle">2024-02-17</text>
<text x="191.90" y="448.8" text-anchor="middle">2024-02-22</text>
<text x="244.70" y="448.8" text-anchor="middle">2024-02-27</text>
</g>
<text x="148.50" y="455.7" font-size="5.8" fill="#1e1e1e" text-anchor="middle">Timestamp</text>
<text transform="translate(7.6 384.50) rotate(-90)" font-size="5.8" fill="#1e1e1e" text-anchor="middle" textLength="51.5" lengthAdjust="spacing">Irradiance (<tspan font-style="italic">W</tspan>/<tspan font-style="italic" dx="0.3">m</tspan><tspan font-size="4.06" dx="0.3" dy="-2.4">2</tspan><tspan dx="0.5" dy="2.4">)</tspan></text>
<rect x="27.30" y="329.3" width="108.02" height="17.0" rx="1.2" fill="#fff" fill-opacity="0.8" stroke="#d6d6d6" stroke-width="0.6"/>
<path d="M29.3 334.3H41.1" stroke="#1f77b4" stroke-width="0.8"/>
<path d="M35.2 334.3h0" stroke="#1f77b4" stroke-width="1.8" stroke-linecap="round"/>
<path d="M29.3 342.3H41.1" stroke="#ff7f0e" stroke-width="0.8"/>
<g font-size="5.65" fill="#1e1e1e"><text x="45.6" y="336.6">True winter (1 hour resampled)</text><text x="45.6" y="344.6">Forecasts (6h ahead)</text></g>
<text transform="translate(139.1 478.0) scale(0.92 1)" class="cap" font-size="14.5" fill="#111" text-anchor="middle">(e)</text>
<clipPath id="cf"><rect x="304.5" y="328.5" width="243.0" height="114.0"/></clipPath>
<g clip-path="url(#cf)">
<polyline points="316.2,436.1 316.6,415.7 317,409.9 317.4,393.6 317.8,375.7 318.2,389.6 318.6,400 319,409.3 319.4,408.3 319.8,420.9 324.5,436.5 324.9,400.3 325.3,384.3 325.7,385.9 326.1,346.6 326.5,386.4 326.9,358.4 327.3,371 327.7,387.7 328.1,416.8 335.6,436.5 336,399.5 336.4,407.2 336.8,388.7 337.2,393.8 337.6,365.5 337.9,399.2 338.3,395.7 338.7,399.5 339.1,419.9 345.1,436.4 345.5,422.6 345.9,413 346.3,415 346.7,403.7 347.1,403.5 347.5,392.6 347.9,406 348.3,418.8 348.7,424.4 353.6,436.3 354,391 354.4,379.2 354.8,387.5 355.2,359.9 355.6,372.2 356,363.9 356.4,398.7 356.8,398.4 357.2,422.6 363.2,436 363.6,378.4 364,393.6 364.4,366.6 364.8,332.8 365.2,389.5 365.6,351.3 366,388.6 366.4,388.8 366.8,404.6 373.2,437 373.6,407.6 374,378.5 374.4,390.6 374.8,356.3 375.2,392.9 375.6,362.4 376,405 376.4,406.8 376.8,417 382.9,436.6 383.3,415.5 383.7,380.3 384.1,399.4 384.5,363.5 384.9,376.6 385.3,389.6 385.7,396.4 386.1,392.8 386.5,423.5 392.3,435.5 392.7,409.9 393.1,407.8 393.5,401.7 393.9,374.9 394.3,392 394.7,398.5 395.1,408.6 395.5,405.8 395.9,426.8 401.5,436.8 401.9,401.7 402.3,402.2 402.7,378.3 403.1,346.6 403.5,375.6 403.9,369.6 404.3,379.2 404.7,389.8 405.1,418 411.2,436.8 411.6,408.7 412,400.7 412.4,381.9 412.8,350.7 413.2,360.4 413.6,398.6 414,369.6 414.4,396.9 414.8,411.1 420.4,436.9 420.8,400.9 421.2,389.6 421.6,393.9 422,363.5 422.4,375.8 422.8,394.9 423.2,397.2 423.6,400.1 424,424.6 430.7,435.5 431.1,413 431.5,381.8 431.9,403.2 432.3,362.3 432.7,390 433.1,383.4 433.5,396.4 433.9,396.1 434.3,417.3 439.2,436.1 439.6,404.7 440,396.3 440.4,386.2 440.8,361.1 441.2,393.6 441.6,384.7 442,393.1 442.4,402.8 442.8,420.4 448.8,436.4 449.2,422.6 449.6,419.6 450,419.5 450.4,401.2 450.8,408.8 451.2,412.2 451.6,416.1 452,419 452.4,430 458.1,436.4 458.5,417.9 458.9,406.7 459.3,390 459.7,384.6 460.1,403.1 460.5,388.2 460.9,404.1 461.3,406.2 461.7,423.5 468.2,436.7 468.6,407.7 469,385.4 469.4,386.5 469.8,349 470.2,377.2 470.6,382 471,380.5 471.4,389.7 471.8,408.3 477.5,436.1 477.9,425.9 478.3,417.7 478.7,419.6 479.1,410.4 479.5,421.6 479.9,416.8 480.3,420.4 480.7,425.8 481.1,431.8 487.1,436.3 487.5,429.1 487.9,424.6 488.3,416 488.7,412.7 489.1,421.9 489.5,422.5 489.9,421.2 490.3,424.1 490.7,430.1 495.6,436 496,402.8 496.4,391.2 496.8,362.3 497.2,380 497.6,388.3 498,385.4 498.4,404 498.8,397.5 499.2,421.7 506.1,436 506.5,415.2 506.9,415.1 507.3,411.4 507.7,394.7 508.1,407.9 508.5,406.7 508.9,405.8 509.3,417.7 509.7,427.8 515.5,436.8 515.9,421.5 516.3,411.2 516.7,408.2 517.1,397.5 517.5,412 517.9,414.5 518.3,415.1 518.7,415.2 519.1,429.2 525.9,436.7 526.3,427.1 526.7,417.6 527.1,418 527.5,407.2 527.9,412.2 528.3,418.9 528.7,414.9 529.1,425 529.5,431 533.7,435.8 534.1,423 534.5,418.6 534.9,403 535.3,414.1 535.7,414.7 536.1,411.9 536.5,423.1" fill="none" stroke="#1f77b4" stroke-width="1.05" stroke-linejoin="round"/>
<path d="M316.2 436.1h0M316.6 415.7h0M317 409.9h0M317.4 393.6h0M317.8 375.7h0M318.2 389.6h0M318.6 400h0M319 409.3h0M319.4 408.3h0M319.8 420.9h0M324.5 436.5h0M324.9 400.3h0M325.3 384.3h0M325.7 385.9h0M326.1 346.6h0M326.5 386.4h0M326.9 358.4h0M327.3 371h0M327.7 387.7h0M328.1 416.8h0M335.6 436.5h0M336 399.5h0M336.4 407.2h0M336.8 388.7h0M337.2 393.8h0M337.6 365.5h0M337.9 399.2h0M338.3 395.7h0M338.7 399.5h0M339.1 419.9h0M345.1 436.4h0M345.5 422.6h0M345.9 413h0M346.3 415h0M346.7 403.7h0M347.1 403.5h0M347.5 392.6h0M347.9 406h0M348.3 418.8h0M348.7 424.4h0M353.6 436.3h0M354 391h0M354.4 379.2h0M354.8 387.5h0M355.2 359.9h0M355.6 372.2h0M356 363.9h0M356.4 398.7h0M356.8 398.4h0M357.2 422.6h0M363.2 436h0M363.6 378.4h0M364 393.6h0M364.4 366.6h0M364.8 332.8h0M365.2 389.5h0M365.6 351.3h0M366 388.6h0M366.4 388.8h0M366.8 404.6h0M373.2 437h0M373.6 407.6h0M374 378.5h0M374.4 390.6h0M374.8 356.3h0M375.2 392.9h0M375.6 362.4h0M376 405h0M376.4 406.8h0M376.8 417h0M382.9 436.6h0M383.3 415.5h0M383.7 380.3h0M384.1 399.4h0M384.5 363.5h0M384.9 376.6h0M385.3 389.6h0M385.7 396.4h0M386.1 392.8h0M386.5 423.5h0M392.3 435.5h0M392.7 409.9h0M393.1 407.8h0M393.5 401.7h0M393.9 374.9h0M394.3 392h0M394.7 398.5h0M395.1 408.6h0M395.5 405.8h0M395.9 426.8h0M401.5 436.8h0M401.9 401.7h0M402.3 402.2h0M402.7 378.3h0M403.1 346.6h0M403.5 375.6h0M403.9 369.6h0M404.3 379.2h0M404.7 389.8h0M405.1 418h0M411.2 436.8h0M411.6 408.7h0M412 400.7h0M412.4 381.9h0M412.8 350.7h0M413.2 360.4h0M413.6 398.6h0M414 369.6h0M414.4 396.9h0M414.8 411.1h0M420.4 436.9h0M420.8 400.9h0M421.2 389.6h0M421.6 393.9h0M422 363.5h0M422.4 375.8h0M422.8 394.9h0M423.2 397.2h0M423.6 400.1h0M424 424.6h0M430.7 435.5h0M431.1 413h0M431.5 381.8h0M431.9 403.2h0M432.3 362.3h0M432.7 390h0M433.1 383.4h0M433.5 396.4h0M433.9 396.1h0M434.3 417.3h0M439.2 436.1h0M439.6 404.7h0M440 396.3h0M440.4 386.2h0M440.8 361.1h0M441.2 393.6h0M441.6 384.7h0M442 393.1h0M442.4 402.8h0M442.8 420.4h0M448.8 436.4h0M449.2 422.6h0M449.6 419.6h0M450 419.5h0M450.4 401.2h0M450.8 408.8h0M451.2 412.2h0M451.6 416.1h0M452 419h0M452.4 430h0M458.1 436.4h0M458.5 417.9h0M458.9 406.7h0M459.3 390h0M459.7 384.6h0M460.1 403.1h0M460.5 388.2h0M460.9 404.1h0M461.3 406.2h0M461.7 423.5h0M468.2 436.7h0M468.6 407.7h0M469 385.4h0M469.4 386.5h0M469.8 349h0M470.2 377.2h0M470.6 382h0M471 380.5h0M471.4 389.7h0M471.8 408.3h0M477.5 436.1h0M477.9 425.9h0M478.3 417.7h0M478.7 419.6h0M479.1 410.4h0M479.5 421.6h0M479.9 416.8h0M480.3 420.4h0M480.7 425.8h0M481.1 431.8h0M487.1 436.3h0M487.5 429.1h0M487.9 424.6h0M488.3 416h0M488.7 412.7h0M489.1 421.9h0M489.5 422.5h0M489.9 421.2h0M490.3 424.1h0M490.7 430.1h0M495.6 436h0M496 402.8h0M496.4 391.2h0M496.8 362.3h0M497.2 380h0M497.6 388.3h0M498 385.4h0M498.4 404h0M498.8 397.5h0M499.2 421.7h0M506.1 436h0M506.5 415.2h0M506.9 415.1h0M507.3 411.4h0M507.7 394.7h0M508.1 407.9h0M508.5 406.7h0M508.9 405.8h0M509.3 417.7h0M509.7 427.8h0M515.5 436.8h0M515.9 421.5h0M516.3 411.2h0M516.7 408.2h0M517.1 397.5h0M517.5 412h0M517.9 414.5h0M518.3 415.1h0M518.7 415.2h0M519.1 429.2h0M525.9 436.7h0M526.3 427.1h0M526.7 417.6h0M527.1 418h0M527.5 407.2h0M527.9 412.2h0M528.3 418.9h0M528.7 414.9h0M529.1 425h0M529.5 431h0M533.7 435.8h0M534.1 423h0M534.5 418.6h0M534.9 403h0M535.3 414.1h0M535.7 414.7h0M536.1 411.9h0M536.5 423.1h0" stroke="#1f77b4" stroke-width="2.2" stroke-linecap="round"/>
<polyline points="316.2,430.6 316.6,427 317,407.1 317.4,384.5 317.8,383.5 318.2,383.7 318.6,392.4 319,406 319.4,419.4 319.8,426 324.5,427.1 324.9,423.8 325.3,404.2 325.7,390.6 326.1,386.1 326.5,387.7 326.9,395.7 327.3,409.3 327.7,422.1 328.1,436.1 335.6,434.2 336,433.4 336.4,419.4 336.8,411.4 337.2,410.9 337.6,409.6 337.9,412.6 338.3,420.6 338.7,427.6 339.1,432.7 345.1,433.2 345.5,433 345.9,413.2 346.3,400.7 346.7,399.5 347.1,400.6 347.5,407.4 347.9,413.1 348.3,423.1 348.7,430 353.6,432.1 354,432.4 354.4,397.8 354.8,370.5 355.2,371.5 355.6,372.6 356,380.8 356.4,395.3 356.8,411.4 357.2,417.3 363.2,426.8 363.6,424 364,385.5 364.4,360.5 364.8,352.3 365.2,354.7 365.6,370.1 366,385.2 366.4,404.3 366.8,427.6 373.2,424.7 373.6,428.4 374,404.5 374.4,390.8 374.8,387.3 375.2,388.3 375.6,392.8 376,405.8 376.4,420.7 376.8,429.6 382.9,429.9 383.3,432.1 383.7,414.5 384.1,405.3 384.5,401 384.9,401.6 385.3,406.3 385.7,414.5 386.1,423.7 386.5,430.5 392.3,430.5 392.7,431.4 393.1,415.4 393.5,402.7 393.9,398.6 394.3,400.6 394.7,405.3 395.1,412 395.5,422.7 395.9,429.9 401.5,430.6 401.9,432.3 402.3,408.2 402.7,388.9 403.1,387.1 403.5,386.8 403.9,394.9 404.3,406 404.7,416.9 405.1,427.9 411.2,431.2 411.6,429.8 412,410.3 412.4,398.2 412.8,394.4 413.2,397.7 413.6,402.9 414,411.8 414.4,421.7 414.8,428.8 420.4,430.7 420.8,429.7 421.2,405.8 421.6,393.5 422,388.9 422.4,393.9 422.8,396.9 423.2,408.6 423.6,422.4 424,428.3 430.7,430.6 431.1,430.5 431.5,400.4 431.9,375.9 432.3,375 432.7,370.1 433.1,382.9 433.5,396.7 433.9,418.4 434.3,430.2 439.2,430 439.6,432.9 440,397.2 440.4,364.9 440.8,359.7 441.2,360.1 441.6,372.2 442,390.7 442.4,416.3 442.8,430 448.8,432 449.2,429.8 449.6,418.7 450,407.2 450.4,402.4 450.8,406.3 451.2,410.3 451.6,416.1 452,424.1 452.4,428.4 458.1,431.6 458.5,430.9 458.9,416.2 459.3,405.4 459.7,403 460.1,404.5 460.5,407.8 460.9,417.8 461.3,424.3 461.7,430 468.2,431.4 468.6,429.5 469,404.8 469.4,382.2 469.8,378.9 470.2,383.6 470.6,386.8 471,400.8 471.4,418.9 471.8,428.4 477.5,429.9 477.9,431 478.3,412.2 478.7,399.2 479.1,397.4 479.5,397.7 479.9,404.1 480.3,411.3 480.7,422.2 481.1,429 487.1,433.2 487.5,433.3 487.9,423.8 488.3,417.1 488.7,415.7 489.1,416.8 489.5,419.6 489.9,422.7 490.3,427.6 490.7,432.2 495.6,433.3 496,431.9 496.4,414.1 496.8,400.5 497.2,399.3 497.6,398.8 498,402.7 498.4,412 498.8,422.3 499.2,429.5 506.1,430 506.5,429.7 506.9,405.8 507.3,385.7 507.7,384 508.1,386.9 508.5,389.9 508.9,403.2 509.3,420.2 509.7,428.5 515.5,429.8 515.9,430.2 516.3,413.5 516.7,399.8 517.1,395.4 517.5,398.9 517.9,402.7 518.3,412.1 518.7,422.4 519.1,429.9 525.9,430.6 526.3,431.2 526.7,420 527.1,412.1 527.5,412.7 527.9,411.9 528.3,415.2 528.7,421.3 529.1,425 529.5,431 533.7,432.4 534.1,430.7 534.5,420.8 534.9,412.4 535.3,411.6 535.7,411.9 536.1,415 536.5,420.1" fill="none" stroke="#ff7f0e" stroke-width="1.0" stroke-linejoin="round"/>
<path d="M316.2 430.6h0M316.6 427h0M317 407.1h0M317.4 384.5h0M317.8 383.5h0M318.2 383.7h0M318.6 392.4h0M319 406h0M319.4 419.4h0M319.8 426h0M324.5 427.1h0M324.9 423.8h0M325.3 404.2h0M325.7 390.6h0M326.1 386.1h0M326.5 387.7h0M326.9 395.7h0M327.3 409.3h0M327.7 422.1h0M328.1 436.1h0M335.6 434.2h0M336 433.4h0M336.4 419.4h0M336.8 411.4h0M337.2 410.9h0M337.6 409.6h0M337.9 412.6h0M338.3 420.6h0M338.7 427.6h0M339.1 432.7h0M345.1 433.2h0M345.5 433h0M345.9 413.2h0M346.3 400.7h0M346.7 399.5h0M347.1 400.6h0M347.5 407.4h0M347.9 413.1h0M348.3 423.1h0M348.7 430h0M353.6 432.1h0M354 432.4h0M354.4 397.8h0M354.8 370.5h0M355.2 371.5h0M355.6 372.6h0M356 380.8h0M356.4 395.3h0M356.8 411.4h0M357.2 417.3h0M363.2 426.8h0M363.6 424h0M364 385.5h0M364.4 360.5h0M364.8 352.3h0M365.2 354.7h0M365.6 370.1h0M366 385.2h0M366.4 404.3h0M366.8 427.6h0M373.2 424.7h0M373.6 428.4h0M374 404.5h0M374.4 390.8h0M374.8 387.3h0M375.2 388.3h0M375.6 392.8h0M376 405.8h0M376.4 420.7h0M376.8 429.6h0M382.9 429.9h0M383.3 432.1h0M383.7 414.5h0M384.1 405.3h0M384.5 401h0M384.9 401.6h0M385.3 406.3h0M385.7 414.5h0M386.1 423.7h0M386.5 430.5h0M392.3 430.5h0M392.7 431.4h0M393.1 415.4h0M393.5 402.7h0M393.9 398.6h0M394.3 400.6h0M394.7 405.3h0M395.1 412h0M395.5 422.7h0M395.9 429.9h0M401.5 430.6h0M401.9 432.3h0M402.3 408.2h0M402.7 388.9h0M403.1 387.1h0M403.5 386.8h0M403.9 394.9h0M404.3 406h0M404.7 416.9h0M405.1 427.9h0M411.2 431.2h0M411.6 429.8h0M412 410.3h0M412.4 398.2h0M412.8 394.4h0M413.2 397.7h0M413.6 402.9h0M414 411.8h0M414.4 421.7h0M414.8 428.8h0M420.4 430.7h0M420.8 429.7h0M421.2 405.8h0M421.6 393.5h0M422 388.9h0M422.4 393.9h0M422.8 396.9h0M423.2 408.6h0M423.6 422.4h0M424 428.3h0M430.7 430.6h0M431.1 430.5h0M431.5 400.4h0M431.9 375.9h0M432.3 375h0M432.7 370.1h0M433.1 382.9h0M433.5 396.7h0M433.9 418.4h0M434.3 430.2h0M439.2 430h0M439.6 432.9h0M440 397.2h0M440.4 364.9h0M440.8 359.7h0M441.2 360.1h0M441.6 372.2h0M442 390.7h0M442.4 416.3h0M442.8 430h0M448.8 432h0M449.2 429.8h0M449.6 418.7h0M450 407.2h0M450.4 402.4h0M450.8 406.3h0M451.2 410.3h0M451.6 416.1h0M452 424.1h0M452.4 428.4h0M458.1 431.6h0M458.5 430.9h0M458.9 416.2h0M459.3 405.4h0M459.7 403h0M460.1 404.5h0M460.5 407.8h0M460.9 417.8h0M461.3 424.3h0M461.7 430h0M468.2 431.4h0M468.6 429.5h0M469 404.8h0M469.4 382.2h0M469.8 378.9h0M470.2 383.6h0M470.6 386.8h0M471 400.8h0M471.4 418.9h0M471.8 428.4h0M477.5 429.9h0M477.9 431h0M478.3 412.2h0M478.7 399.2h0M479.1 397.4h0M479.5 397.7h0M479.9 404.1h0M480.3 411.3h0M480.7 422.2h0M481.1 429h0M487.1 433.2h0M487.5 433.3h0M487.9 423.8h0M488.3 417.1h0M488.7 415.7h0M489.1 416.8h0M489.5 419.6h0M489.9 422.7h0M490.3 427.6h0M490.7 432.2h0M495.6 433.3h0M496 431.9h0M496.4 414.1h0M496.8 400.5h0M497.2 399.3h0M497.6 398.8h0M498 402.7h0M498.4 412h0M498.8 422.3h0M499.2 429.5h0M506.1 430h0M506.5 429.7h0M506.9 405.8h0M507.3 385.7h0M507.7 384h0M508.1 386.9h0M508.5 389.9h0M508.9 403.2h0M509.3 420.2h0M509.7 428.5h0M515.5 429.8h0M515.9 430.2h0M516.3 413.5h0M516.7 399.8h0M517.1 395.4h0M517.5 398.9h0M517.9 402.7h0M518.3 412.1h0M518.7 422.4h0M519.1 429.9h0M525.9 430.6h0M526.3 431.2h0M526.7 420h0M527.1 412.1h0M527.5 412.7h0M527.9 411.9h0M528.3 415.2h0M528.7 421.3h0M529.1 425h0M529.5 431h0M533.7 432.4h0M534.1 430.7h0M534.5 420.8h0M534.9 412.4h0M535.3 411.6h0M535.7 411.9h0M536.1 415h0M536.5 420.1h0" stroke="#ff7f0e" stroke-width="1.3" stroke-linecap="round"/>
</g>
<rect x="304.5" y="328.5" width="243.0" height="114.0" fill="none" stroke="#a8a8a8" stroke-width="0.9"/>
<path d="M302.7 437.10H304.5M302.7 415.38H304.5M302.7 393.66H304.5M302.7 371.94H304.5M302.7 350.22H304.5M302.7 328.50H304.5M341.00 442.5V444.3M398.30 442.5V444.3M455.60 442.5V444.3M512.90 442.5V444.3" stroke="#a8a8a8" stroke-width="0.7"/>
<g font-size="5.3" fill="#1e1e1e">
<text x="301.5" y="439.00" text-anchor="end">0</text>
<text x="301.5" y="417.28" text-anchor="end">200</text>
<text x="301.5" y="395.56" text-anchor="end">400</text>
<text x="301.5" y="373.84" text-anchor="end">600</text>
<text x="301.5" y="352.12" text-anchor="end">800</text>
<text x="301.5" y="330.40" text-anchor="end">1000</text>
<text x="341.00" y="448.8" text-anchor="middle">2024-08-01</text>
<text x="398.30" y="448.8" text-anchor="middle">2024-08-07</text>
<text x="455.60" y="448.8" text-anchor="middle">2024-08-13</text>
<text x="512.90" y="448.8" text-anchor="middle">2024-08-19</text>
</g>
<text x="426.00" y="455.7" font-size="5.8" fill="#1e1e1e" text-anchor="middle">Timestamp</text>
<text transform="translate(283.6 385.50) rotate(-90)" font-size="5.8" fill="#1e1e1e" text-anchor="middle" textLength="51.5" lengthAdjust="spacing">Irradiance (<tspan font-style="italic">W</tspan>/<tspan font-style="italic" dx="0.3">m</tspan><tspan font-size="4.06" dx="0.3" dy="-2.4">2</tspan><tspan dx="0.5" dy="2.4">)</tspan></text>
<rect x="431.43" y="331.3" width="113.57" height="16.8" rx="1.2" fill="#fff" fill-opacity="0.8" stroke="#d6d6d6" stroke-width="0.6"/>
<path d="M433.4 336.3H445.2" stroke="#1f77b4" stroke-width="0.8"/>
<path d="M439.3 336.3h0" stroke="#1f77b4" stroke-width="1.8" stroke-linecap="round"/>
<path d="M433.4 344.3H445.2" stroke="#ff7f0e" stroke-width="0.8"/>
<g font-size="5.65" fill="#1e1e1e"><text x="449.7" y="338.6">True summer (1 hour resampled)</text><text x="449.7" y="346.6">Forecasts (6h ahead)</text></g>
<text transform="translate(414.4 478.0) scale(0.92 1)" class="cap" font-size="14.5" fill="#111" text-anchor="middle">(f)</text>
</svg></body></html>
